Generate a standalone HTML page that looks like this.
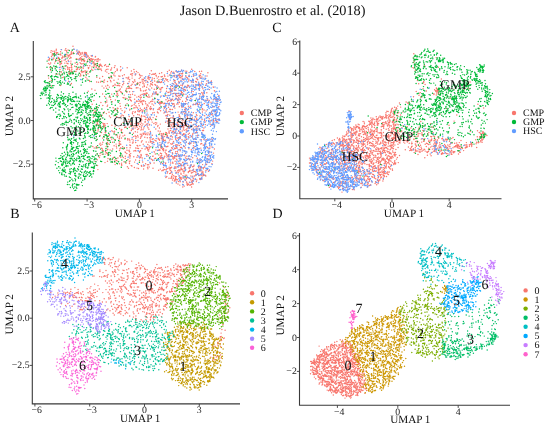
<!DOCTYPE html><html><head><meta charset="utf-8"><title>UMAP</title><style>html,body{margin:0;padding:0;background:#fff;width:550px;height:430px;overflow:hidden}</style></head><body><svg width="550" height="430" viewBox="0 0 550 430" style="position:absolute;left:0;top:0;font-family:'Liberation Serif',serif" text-rendering="geometricPrecision">
<rect width="550" height="430" fill="#fff"/>
<text x="272.6" y="15" font-size="14.3" text-anchor="middle" fill="#111">Jason D.Buenrostro et al. (2018)</text>
<text x="14.7" y="32.0" font-size="14" text-anchor="middle" fill="#111">A</text>
<text x="15.0" y="218.3" font-size="14" text-anchor="middle" fill="#111">B</text>
<text x="277.0" y="32.0" font-size="14" text-anchor="middle" fill="#111">C</text>
<text x="277.5" y="218.3" font-size="14" text-anchor="middle" fill="#111">D</text>
<path d="M145.2 119.6h0M123.3 122.4h0M138.6 96.5h0M92.8 70.3h0M117.1 85.4h0M195.8 139.2h0M173.7 131.5h0M173.8 145.6h0M208.7 153.3h0M101.3 69.1h0M135.0 84.8h0M196.0 88.2h0M207.0 76.0h0M188.5 108.9h0M202.2 99.3h0M183.3 79.4h0M120.4 89.0h0M151.5 108.4h0M96.6 82.0h0M199.8 98.4h0M182.6 73.2h0M185.7 76.1h0M170.3 91.0h0M213.5 87.2h0M60.7 67.1h0M161.2 148.2h0M166.9 112.2h0M114.5 110.5h0M180.5 71.4h0M179.8 171.0h0M95.3 57.1h0M139.2 78.4h0M204.0 109.9h0M204.6 120.5h0M209.4 89.6h0M69.5 55.7h0M208.2 115.4h0M94.1 130.6h0M125.5 105.4h0M147.2 154.4h0M93.2 59.3h0M117.8 161.1h0M174.1 106.4h0M75.9 71.4h0M192.5 166.8h0M172.6 143.2h0M106.5 143.7h0M77.5 67.4h0M212.7 114.9h0M202.6 164.6h0M128.3 78.6h0M182.4 85.8h0M163.1 139.7h0M188.0 86.0h0M81.2 60.0h0M166.9 168.6h0M141.3 109.8h0M97.2 159.8h0M101.4 127.4h0M162.6 136.9h0M197.6 135.2h0M191.4 173.1h0M101.5 132.5h0M190.5 106.1h0M106.8 100.1h0M120.6 66.8h0M84.7 60.7h0M141.4 165.5h0M144.3 77.9h0M183.8 94.5h0M183.3 129.0h0M139.9 101.6h0M167.4 115.3h0M173.7 72.3h0M105.5 132.7h0M105.0 132.1h0M88.3 67.7h0M122.0 115.0h0M199.6 129.8h0M120.7 91.5h0M165.4 107.0h0M176.0 146.8h0M144.3 80.7h0M100.2 65.5h0M154.3 74.2h0M110.5 137.5h0M175.2 82.9h0M193.4 82.2h0M100.2 116.2h0M168.4 100.5h0M173.8 124.6h0M191.7 91.3h0M175.1 179.5h0M140.0 97.3h0M195.6 179.1h0M131.4 130.5h0M173.9 127.7h0M138.5 148.4h0M174.5 148.1h0M197.6 137.2h0M70.8 63.3h0M124.5 112.5h0M189.4 171.0h0M83.9 71.8h0M192.8 176.3h0M200.1 85.0h0M137.7 155.5h0M166.1 109.7h0M92.0 67.0h0M160.4 153.2h0M66.5 50.7h0M94.9 64.4h0M193.4 145.8h0M152.8 160.6h0M121.5 137.9h0M102.6 138.1h0M172.7 86.3h0M201.7 175.1h0M122.5 75.7h0M207.5 169.4h0M114.6 131.3h0M166.5 118.3h0M156.7 160.6h0M202.1 93.1h0M178.6 85.5h0M109.4 134.3h0M153.2 138.7h0M172.6 99.3h0M182.0 107.6h0M178.6 100.0h0M150.4 163.4h0M184.7 166.9h0M183.9 80.1h0M170.4 150.3h0M193.3 74.8h0M188.1 127.5h0M140.3 108.2h0M219.8 100.3h0M152.7 101.3h0M97.0 121.7h0M168.0 120.6h0M187.0 162.9h0M143.8 116.1h0M86.6 57.6h0M109.5 78.5h0M83.6 71.8h0M187.7 185.3h0M201.7 172.9h0M122.5 132.8h0M140.5 90.0h0M196.0 172.8h0M123.9 97.7h0M53.9 58.0h0M170.4 173.3h0M160.2 144.9h0M184.7 164.7h0M96.1 136.5h0M173.7 175.8h0M120.8 144.2h0M187.1 96.9h0M218.2 99.6h0M182.8 184.4h0M169.4 159.6h0M172.4 174.3h0M130.1 147.7h0M152.1 143.5h0M113.0 131.6h0M140.5 138.2h0M192.0 95.9h0M172.5 179.9h0M104.6 65.4h0M112.4 162.2h0M180.9 126.6h0M199.7 170.1h0M165.3 140.2h0M136.6 101.0h0M150.6 141.5h0M95.5 111.1h0M171.3 125.8h0M171.6 178.0h0M107.8 85.5h0M175.1 180.8h0M184.1 168.7h0M119.3 142.0h0M187.2 177.3h0M174.7 167.0h0M125.8 98.1h0M171.9 177.9h0M176.0 85.8h0M63.2 56.9h0M164.6 75.3h0M133.3 140.1h0M130.1 155.6h0M119.5 138.8h0M114.0 80.2h0M59.3 59.7h0M174.3 76.8h0M156.7 122.9h0M80.4 57.6h0M172.4 137.0h0M196.5 82.0h0M105.5 151.7h0M142.0 94.5h0M175.0 80.4h0M173.2 158.5h0M166.0 149.9h0M186.1 158.4h0M132.7 81.6h0M99.3 120.9h0M156.5 89.2h0M157.8 112.4h0M176.8 76.5h0M187.1 183.5h0M84.0 61.0h0M195.7 86.0h0M136.2 136.8h0M136.3 88.1h0M133.0 141.9h0M142.2 80.9h0M148.0 77.0h0M122.1 115.1h0M181.4 91.4h0M192.9 180.9h0M201.9 76.9h0M189.8 170.1h0M88.9 114.5h0M84.6 53.5h0M137.7 114.4h0M168.6 103.8h0M122.6 146.8h0M208.5 171.2h0M61.2 72.0h0M208.5 82.5h0M118.3 79.1h0M167.7 171.7h0M176.7 145.0h0M100.3 143.1h0M88.5 68.5h0M170.7 86.7h0M169.0 178.3h0M183.0 112.1h0M127.6 138.7h0M160.3 169.1h0M123.5 149.0h0M98.0 131.0h0M179.3 75.8h0M132.6 73.8h0M117.5 137.0h0M168.0 92.4h0M174.4 80.5h0M182.8 187.0h0M97.4 123.3h0M200.7 73.7h0M193.8 94.6h0M161.4 138.6h0M172.3 131.3h0M178.4 181.5h0M179.7 163.6h0M187.0 184.7h0M184.1 103.9h0M81.7 59.2h0M129.7 79.7h0M176.8 135.2h0M181.8 127.0h0M118.2 85.6h0M96.7 108.4h0M153.6 105.1h0M184.5 146.6h0M82.2 52.5h0M156.7 87.7h0M152.9 142.1h0M178.4 172.2h0M97.7 121.5h0M148.0 127.8h0M170.6 120.8h0M193.3 112.7h0M142.2 158.0h0M199.8 178.5h0M149.5 124.5h0M159.7 103.1h0M178.8 81.4h0M56.1 74.3h0M114.4 67.5h0M178.1 104.1h0M103.9 82.5h0M145.2 90.7h0M92.7 121.9h0M132.0 129.0h0M122.1 110.6h0M121.6 129.9h0M119.5 128.4h0M180.9 85.2h0M95.5 56.4h0M117.5 111.8h0M176.7 128.3h0M203.2 145.0h0M112.7 148.9h0M185.7 101.4h0M87.0 79.0h0M109.4 87.1h0M206.3 139.8h0M79.9 76.1h0M145.8 103.8h0M60.9 55.0h0M188.9 168.1h0M141.3 127.2h0M197.6 79.5h0M137.6 110.9h0M135.3 75.0h0M184.8 133.9h0M205.2 121.9h0M181.6 92.7h0M98.5 82.2h0M166.6 88.5h0M125.0 139.2h0M121.1 92.3h0M184.9 176.5h0M98.7 156.6h0M58.1 58.4h0M97.4 119.5h0M180.9 164.9h0M190.1 171.0h0M197.5 103.5h0M128.8 77.1h0M217.7 122.0h0M193.6 130.2h0M182.5 106.0h0M160.8 147.2h0M194.4 120.1h0M168.8 132.1h0M200.3 179.2h0M206.9 80.9h0M199.8 93.6h0M172.0 144.3h0M143.1 129.8h0M174.0 81.0h0M165.9 134.8h0M107.6 153.9h0M75.2 63.0h0M59.0 54.6h0M185.2 137.8h0M132.1 75.8h0M185.2 175.2h0M139.3 114.9h0M213.8 106.4h0M162.2 147.4h0M146.3 92.9h0M180.5 129.6h0M165.3 140.3h0M179.2 133.4h0M150.7 101.8h0M164.1 165.8h0M70.6 57.3h0M149.1 167.0h0M129.2 156.1h0M52.9 51.3h0M149.2 125.1h0M165.3 95.6h0M84.1 59.0h0M103.9 87.9h0M163.4 150.7h0M96.9 65.7h0M169.0 100.4h0M177.9 124.2h0M188.5 143.4h0M121.1 130.0h0M200.0 116.0h0M159.9 150.2h0M85.7 53.7h0M111.9 125.3h0M168.4 155.5h0M184.6 125.5h0M60.6 51.8h0M159.5 140.3h0M215.9 119.7h0M170.3 170.5h0M194.8 155.6h0M165.6 122.3h0M129.4 86.9h0M177.3 99.3h0M160.4 82.5h0M142.0 135.8h0M149.7 77.8h0M171.5 150.2h0M183.3 83.1h0M191.3 122.5h0M187.5 85.1h0M170.5 88.5h0M118.8 76.0h0M191.0 165.7h0M107.2 106.3h0M127.0 98.8h0M129.8 140.2h0M179.7 77.2h0M193.5 124.7h0M190.8 184.8h0M156.5 116.4h0M72.7 74.1h0M139.6 74.7h0M140.3 134.2h0M129.9 158.0h0M159.5 102.1h0M70.6 84.6h0M142.8 110.3h0M211.5 111.3h0M129.3 127.2h0M68.2 56.9h0M169.8 115.2h0M170.8 72.9h0M119.7 156.0h0M154.9 84.5h0M137.5 108.0h0M191.9 114.9h0M129.4 161.7h0M198.9 83.8h0M153.1 139.0h0M178.8 95.4h0M203.2 130.5h0M161.5 81.8h0M202.8 172.6h0M168.7 138.2h0M141.4 141.9h0M141.0 155.9h0M163.6 133.4h0M201.7 167.5h0M167.4 135.5h0M99.4 65.7h0M175.6 138.6h0M111.8 77.9h0M119.9 76.2h0M112.2 101.8h0M164.2 106.6h0M108.8 73.6h0M197.8 104.8h0M175.3 93.8h0M80.3 54.1h0M169.2 133.2h0M193.6 169.1h0M149.7 157.9h0M168.7 151.8h0M153.0 168.3h0M173.5 157.0h0M115.0 65.8h0M159.3 108.1h0M160.6 162.9h0M102.8 105.5h0M103.6 125.6h0M158.5 76.8h0M183.6 120.1h0M62.2 57.6h0M150.1 117.8h0M102.4 128.9h0M181.7 73.7h0M137.0 168.1h0M140.3 88.6h0M162.1 136.4h0M106.0 130.6h0M66.1 56.1h0M160.9 156.9h0M68.3 61.0h0M146.3 147.1h0M199.1 128.8h0M201.8 92.4h0M190.6 106.8h0M98.6 121.2h0M154.2 112.4h0M198.0 152.7h0M109.4 144.2h0M120.0 144.0h0M174.8 180.0h0M189.4 128.2h0M178.9 163.3h0M120.8 157.2h0M189.0 143.4h0M117.1 69.0h0M148.5 118.8h0M129.5 163.5h0M144.1 84.0h0M163.2 169.8h0M129.2 116.4h0M119.9 103.4h0M183.0 175.7h0M167.4 136.4h0M178.4 137.8h0M174.8 86.5h0M138.1 137.0h0M109.1 77.4h0M86.2 55.1h0M129.0 150.8h0M192.2 182.5h0M159.5 81.7h0M69.2 72.2h0M141.5 129.0h0M206.4 83.6h0M91.2 55.7h0M140.9 90.7h0M63.7 67.0h0M191.4 172.7h0M144.4 86.1h0M65.4 69.1h0M167.1 137.5h0M51.4 80.4h0M169.1 168.2h0M126.1 127.2h0M143.4 79.5h0M170.7 92.9h0M218.9 95.4h0M168.2 159.0h0M208.2 148.1h0M147.8 144.5h0M195.3 104.4h0M108.0 158.4h0M116.1 158.6h0M181.1 91.4h0M107.5 161.2h0M188.4 85.5h0M147.7 117.1h0M60.8 61.8h0M103.5 123.9h0M145.9 119.2h0M93.3 117.3h0M200.2 169.6h0M133.9 150.9h0M175.7 151.6h0M80.6 66.5h0M58.0 60.4h0M142.9 83.6h0M142.1 140.7h0M189.5 87.6h0M195.1 126.8h0M116.3 95.2h0M116.9 93.0h0M192.8 183.5h0M108.3 66.2h0M215.7 118.1h0M73.3 52.5h0M141.3 119.0h0M170.7 163.0h0M165.7 162.9h0M180.3 136.9h0M215.6 111.5h0M216.7 121.5h0M149.3 134.8h0M71.1 53.2h0M94.8 63.7h0M120.5 70.7h0M141.8 134.2h0M56.3 49.3h0M107.9 69.2h0M161.1 76.7h0M155.4 92.4h0M64.8 63.1h0M124.9 111.3h0M186.3 178.5h0M196.7 118.2h0M123.7 83.3h0M143.8 128.0h0M77.0 59.2h0M157.2 78.1h0M153.8 142.6h0M148.4 155.8h0M163.0 136.1h0M179.4 102.5h0M200.7 144.0h0M160.8 89.5h0M203.2 174.9h0M127.4 166.8h0M156.1 141.0h0M192.1 89.0h0M101.1 81.1h0M50.7 63.0h0M114.1 72.9h0M157.7 102.2h0M113.8 75.0h0M89.9 59.7h0M204.7 115.7h0M88.4 56.1h0M97.9 169.6h0M183.5 133.8h0M155.3 98.4h0M126.8 91.7h0M112.6 142.3h0M158.7 103.3h0M132.1 105.4h0M182.2 131.0h0M131.6 73.9h0M110.5 80.4h0M166.5 91.3h0M187.3 114.9h0M176.3 156.6h0M151.5 159.2h0M115.0 159.9h0M193.7 166.5h0M174.6 148.8h0M111.7 139.1h0M64.6 55.7h0M65.6 59.3h0M91.9 59.0h0M172.4 127.1h0M55.0 52.1h0M142.9 123.9h0M149.4 147.9h0M164.7 169.5h0M184.5 168.5h0M147.0 105.1h0M148.3 106.1h0M214.9 111.6h0M189.5 171.2h0M181.5 165.8h0M166.0 95.7h0M126.8 153.5h0M172.7 104.2h0M134.6 162.1h0M80.9 68.2h0M158.2 131.0h0M107.8 149.3h0M174.3 89.9h0M97.0 139.2h0M143.4 91.0h0M71.1 67.5h0M147.8 96.6h0M69.8 58.5h0M186.3 72.8h0M159.8 88.9h0M104.6 96.5h0M122.7 84.8h0M97.8 61.4h0M133.7 115.8h0M197.8 126.4h0M146.0 117.6h0M138.0 101.2h0M186.8 71.3h0M159.2 150.0h0M180.2 138.1h0M65.4 59.7h0M96.4 146.5h0M185.3 112.9h0M102.6 76.4h0M199.3 160.0h0M174.7 125.5h0M181.0 93.9h0M177.2 156.0h0M185.0 89.4h0M70.5 54.6h0M186.6 178.8h0M141.7 116.5h0M110.9 77.3h0M146.7 154.8h0M178.4 154.6h0M124.2 147.6h0M130.6 100.3h0M79.8 55.6h0M69.4 71.8h0M176.4 176.6h0M174.5 105.3h0M150.3 131.5h0M187.5 117.7h0M141.3 97.3h0M168.0 128.9h0M96.5 61.1h0M183.6 177.9h0M143.7 134.3h0M163.3 139.7h0M200.8 167.1h0M68.0 63.8h0M188.3 134.2h0M175.4 129.9h0M145.3 94.3h0M213.8 121.3h0M85.8 74.0h0M186.5 181.9h0M215.2 114.1h0M120.9 108.7h0M163.7 141.3h0M89.8 65.7h0M67.8 54.9h0M197.2 104.0h0M69.8 54.6h0M166.9 135.9h0M180.2 132.0h0M125.3 158.4h0M169.8 109.2h0M124.2 95.1h0M60.0 64.7h0M101.5 70.6h0M194.5 138.9h0M127.9 159.8h0M166.2 169.7h0M135.9 151.0h0M152.7 156.2h0M161.2 79.6h0M179.6 119.5h0M191.6 181.8h0M172.0 90.9h0M125.1 152.0h0M158.0 125.5h0M161.4 144.2h0M212.7 139.9h0M163.6 78.5h0M177.2 72.2h0M130.8 124.3h0M203.7 175.5h0M176.8 172.3h0M175.0 90.3h0M61.8 61.0h0M158.2 81.9h0M181.5 127.1h0M185.4 168.9h0M86.3 52.7h0M126.8 92.3h0M184.2 125.4h0M180.1 99.5h0M213.1 122.8h0M197.7 79.8h0M180.1 73.6h0M117.8 91.2h0M161.7 155.5h0M184.8 116.9h0M157.9 82.6h0M168.6 120.4h0M102.1 148.4h0M93.8 61.8h0M131.0 121.9h0M88.8 67.8h0M66.3 61.6h0M127.0 150.3h0M51.3 86.0h0M200.4 170.8h0M151.4 114.8h0M163.0 158.4h0M176.5 147.6h0M211.4 114.6h0M204.9 78.1h0M108.0 143.7h0M139.6 84.9h0M162.3 76.4h0M173.8 124.0h0M153.1 117.6h0M187.0 128.6h0M180.1 137.3h0M128.5 78.8h0M192.1 137.1h0M96.6 63.6h0M107.9 153.3h0M148.7 164.8h0M134.2 104.7h0M171.6 147.7h0M93.9 62.2h0M147.5 148.5h0M84.0 55.8h0M184.5 171.6h0M140.9 130.1h0M191.1 164.8h0M191.6 187.0h0M169.0 156.9h0M151.3 141.7h0M135.1 123.6h0M143.1 110.1h0M186.9 177.3h0M186.7 175.2h0M80.8 75.7h0M186.0 129.7h0M183.5 134.4h0M141.6 115.4h0M120.0 135.1h0M182.0 124.0h0M193.4 145.7h0M174.7 156.0h0M182.3 92.8h0M191.7 69.3h0M187.4 118.7h0M199.5 90.2h0M52.2 54.9h0M132.7 91.6h0M156.8 81.9h0M57.7 52.6h0M202.4 87.0h0M124.0 98.1h0M76.3 58.6h0M149.8 73.7h0M87.0 71.3h0M51.2 50.6h0M155.4 73.5h0M213.5 153.1h0M140.5 124.6h0M135.3 131.7h0M109.2 96.9h0M157.4 94.2h0M76.1 71.2h0M178.7 97.7h0M62.7 73.8h0M170.6 109.5h0M211.6 83.9h0M190.8 179.7h0M172.3 152.7h0M128.5 168.2h0M189.5 168.3h0M131.4 70.9h0M217.3 103.3h0M159.9 142.6h0M206.9 96.6h0M172.9 163.2h0M127.1 91.6h0M71.5 51.7h0M168.9 155.9h0M159.8 133.2h0M185.0 139.9h0M170.5 121.1h0M169.2 167.1h0M211.1 82.0h0M120.3 106.2h0M168.0 142.9h0M202.4 112.0h0M150.7 83.9h0M171.6 167.3h0M141.1 116.9h0M197.7 111.1h0M151.0 108.6h0M144.8 137.3h0M142.0 125.8h0M49.8 64.3h0M104.1 125.0h0M68.1 50.0h0M86.8 54.3h0M143.6 168.9h0M89.5 80.4h0M124.0 161.8h0M177.6 96.2h0M185.5 160.9h0M183.4 103.4h0M212.8 124.6h0M202.0 133.0h0M102.5 150.0h0M182.5 125.7h0M172.7 112.7h0M138.5 168.5h0M138.9 123.3h0M93.6 110.3h0M202.9 88.7h0M209.9 148.0h0M111.7 94.1h0M69.4 69.5h0M166.7 155.1h0M133.2 129.1h0M174.9 108.1h0M158.4 100.2h0M178.8 75.0h0M171.5 71.4h0M71.2 53.0h0M49.4 81.8h0M131.3 122.7h0M116.9 82.4h0M84.3 53.0h0M147.4 126.1h0M162.3 159.1h0M203.0 172.0h0M145.3 125.2h0M184.2 125.4h0M154.6 81.0h0M140.4 95.2h0M184.6 167.7h0M128.7 119.5h0M193.8 104.4h0M178.4 126.1h0M193.8 143.0h0M161.4 102.1h0M205.4 124.6h0M216.9 100.4h0M160.5 158.6h0M117.6 93.9h0M83.6 65.7h0M162.0 135.7h0M192.6 79.5h0M110.1 149.9h0M139.6 126.4h0M72.1 71.5h0M169.5 74.9h0M169.6 173.6h0M176.4 87.5h0M186.3 87.2h0M119.3 90.4h0M168.1 81.6h0M190.3 167.2h0M203.3 174.0h0M173.3 159.1h0M176.0 90.1h0M80.6 74.2h0M185.0 103.7h0M159.5 73.4h0M131.4 106.1h0M154.3 78.5h0M114.5 109.2h0M148.1 97.3h0M182.6 75.1h0M185.5 135.2h0M125.7 90.4h0M159.7 149.8h0M136.1 122.0h0M51.1 76.3h0M171.4 99.7h0M180.2 77.8h0M140.7 157.2h0M170.9 178.3h0M176.0 71.3h0M172.1 132.5h0M64.1 60.1h0M131.9 165.9h0M189.9 185.3h0M152.9 93.5h0M99.7 126.5h0M163.9 106.8h0M103.7 136.8h0M117.4 135.1h0M167.5 156.1h0M183.5 125.4h0M106.6 135.4h0M134.5 79.9h0M126.1 162.1h0M134.8 80.0h0M136.2 126.3h0M117.9 158.0h0M111.6 67.9h0M99.1 116.4h0M196.9 129.0h0M210.5 124.1h0M210.4 155.9h0M166.8 176.5h0M182.4 169.8h0M187.6 78.3h0M193.7 178.2h0M111.0 81.8h0M60.1 64.0h0M59.7 72.1h0M71.2 71.8h0M188.6 184.3h0M181.0 94.3h0M129.6 132.8h0M96.2 132.6h0M179.0 138.1h0M186.8 182.3h0M161.7 148.0h0M96.2 113.3h0M122.2 132.9h0M172.8 117.7h0M176.1 135.6h0M107.8 146.4h0M106.5 152.7h0M140.4 110.6h0M202.1 119.4h0M130.0 160.9h0M191.1 142.9h0M132.1 84.2h0M128.0 121.5h0M172.9 96.1h0M121.4 131.1h0M161.6 133.6h0M196.6 131.1h0M171.7 156.3h0M100.4 64.1h0M146.2 90.0h0M185.6 110.0h0M121.4 124.3h0M96.2 67.4h0M139.8 100.7h0M187.2 77.6h0M60.4 54.6h0M121.9 92.7h0M152.5 84.9h0M182.0 165.8h0M188.4 106.2h0M135.1 128.0h0M127.1 103.6h0M87.8 56.4h0M154.5 152.1h0M109.0 112.3h0M109.1 135.4h0M205.8 176.0h0M136.5 71.4h0M62.0 58.6h0M121.7 165.4h0M181.9 120.1h0M182.7 162.4h0M166.5 132.6h0M120.0 141.4h0M118.0 108.4h0M158.1 113.0h0M175.2 170.7h0M55.9 54.5h0M188.9 79.3h0M160.3 124.1h0M173.4 115.6h0M83.2 63.4h0M196.4 142.2h0M173.5 116.7h0M147.9 115.0h0M114.1 145.7h0M176.0 168.0h0M119.9 148.8h0M158.9 82.2h0M173.5 93.4h0M160.8 156.0h0M198.5 162.4h0M132.2 129.0h0M210.0 146.1h0M177.7 153.1h0M62.3 77.6h0M158.6 170.2h0M106.9 72.1h0M203.3 168.7h0M181.5 124.6h0M211.0 102.3h0M48.3 63.5h0M104.0 134.7h0M104.5 79.9h0M115.4 99.9h0M148.7 88.9h0M143.2 133.2h0M146.6 107.7h0M146.0 133.2h0M174.2 181.0h0M120.8 147.8h0M162.2 140.0h0M132.5 113.8h0M96.9 63.9h0M196.9 126.7h0M115.1 139.6h0M172.6 153.2h0M115.7 134.7h0M74.7 66.2h0M72.0 53.7h0M177.1 160.1h0M171.9 85.6h0M102.0 66.4h0M165.9 153.7h0M164.0 113.1h0M111.9 130.7h0M159.3 109.6h0M198.8 125.8h0M198.6 167.7h0M103.2 113.0h0M198.3 173.6h0M140.6 82.5h0M147.6 84.8h0M98.9 67.7h0M179.5 137.4h0M175.5 177.2h0M115.4 71.6h0M189.3 120.5h0M129.6 151.7h0M171.4 90.2h0M177.4 166.6h0M108.3 155.0h0M179.2 149.4h0M150.2 86.0h0M175.8 167.0h0M181.2 97.4h0M105.2 154.1h0M196.4 181.6h0M135.0 103.2h0M129.5 154.4h0M217.0 98.6h0M119.7 83.5h0M119.2 138.2h0M182.4 135.3h0M135.9 105.7h0M134.3 72.0h0M191.5 136.3h0M145.4 101.8h0M102.3 154.3h0M154.1 163.0h0M150.3 109.5h0M91.1 58.6h0M166.7 134.3h0M175.7 94.7h0M146.8 147.6h0M172.3 156.5h0M197.6 119.9h0M193.5 104.1h0M48.6 78.1h0M193.8 130.2h0M178.4 140.1h0M126.4 89.0h0M155.3 154.0h0M147.7 150.0h0M185.4 157.1h0M201.6 71.3h0M199.6 179.0h0M175.5 88.1h0M52.7 59.8h0M160.2 131.3h0M122.9 84.7h0M56.7 52.5h0M142.7 162.0h0M151.8 74.6h0M167.6 79.8h0M123.3 157.4h0M170.7 89.2h0M94.2 64.5h0M66.2 72.1h0M214.5 126.2h0M84.6 52.4h0M115.7 91.1h0M140.6 150.8h0M186.4 136.1h0M100.7 145.2h0M138.7 128.8h0M84.4 61.4h0M203.9 139.5h0M183.0 162.3h0M135.0 107.7h0M187.2 97.0h0M162.5 137.2h0M148.3 76.7h0M136.6 107.1h0M166.1 111.0h0M168.6 95.6h0M162.8 134.1h0M99.9 59.7h0M168.5 107.3h0M170.7 168.6h0M202.8 125.4h0M183.8 111.7h0M146.2 141.9h0M188.4 171.6h0M177.7 145.0h0M167.8 114.5h0M165.8 78.7h0M195.4 141.8h0M105.0 162.6h0M97.5 165.5h0M146.7 124.2h0M184.0 171.0h0M161.2 135.0h0M79.9 59.4h0M192.7 157.8h0M97.1 124.2h0M179.3 126.7h0M168.3 154.8h0M139.7 158.1h0M134.9 95.2h0M211.6 138.9h0M110.5 117.5h0M123.0 135.9h0M81.7 60.9h0M127.0 88.3h0M195.2 100.4h0M205.6 142.0h0M138.3 164.3h0M185.3 147.9h0M182.1 88.3h0M186.6 139.4h0M105.5 102.7h0M137.0 157.3h0M209.5 170.0h0M170.4 136.1h0M148.8 149.4h0M90.0 60.9h0M192.5 117.9h0M176.3 183.0h0M167.7 98.6h0M167.5 71.8h0M147.2 134.8h0M77.1 64.5h0M182.7 124.4h0M129.2 150.3h0M161.5 103.2h0M147.8 120.4h0M197.3 158.2h0M160.3 103.6h0M80.6 53.1h0M49.3 85.2h0M167.5 101.7h0M174.1 73.3h0M147.6 105.0h0M102.2 115.1h0M189.1 167.8h0M162.6 102.8h0M193.6 85.1h0M166.8 118.2h0M92.0 56.3h0M81.8 63.9h0M179.3 106.7h0M176.5 83.9h0M189.2 178.3h0M78.7 53.1h0M155.8 140.6h0M196.4 122.9h0M136.4 87.6h0M158.6 87.2h0M196.1 129.0h0M167.7 137.6h0M75.6 77.2h0M165.9 79.3h0M169.3 70.3h0M179.8 95.8h0M129.1 81.7h0M195.8 174.8h0M129.0 88.2h0M54.6 63.1h0M176.3 77.5h0M84.3 54.5h0M89.0 58.5h0M48.3 60.0h0M209.2 118.8h0M173.6 123.2h0M147.5 81.5h0M196.1 103.1h0M192.2 80.7h0M128.5 88.2h0M71.4 51.9h0M177.7 170.8h0M163.8 150.0h0M146.1 93.8h0M164.4 146.1h0M133.5 82.4h0M146.5 96.2h0M161.5 153.8h0M184.6 122.4h0M163.2 170.4h0M173.8 75.7h0M177.7 122.3h0M139.6 111.2h0M179.2 169.7h0M152.5 82.4h0M204.4 145.4h0M143.2 144.3h0M179.1 114.7h0M102.8 142.2h0M186.8 123.2h0M207.3 100.2h0M133.0 111.6h0M117.1 110.3h0M190.8 98.4h0M200.9 167.7h0M157.6 126.6h0M156.0 75.2h0M155.1 93.0h0M188.9 137.8h0M173.2 83.8h0M129.4 133.2h0M124.7 135.3h0M148.8 142.1h0M157.4 85.9h0M71.4 83.5h0M162.7 149.2h0M162.6 149.5h0M143.1 82.3h0M100.0 155.6h0M165.9 115.8h0M152.1 104.0h0M205.7 100.2h0M54.4 54.5h0M77.7 63.9h0M211.3 112.8h0M60.7 75.2h0M49.6 58.8h0M125.4 127.0h0M180.9 173.2h0M173.1 134.1h0M193.3 91.6h0M54.7 52.8h0M193.0 178.1h0M131.4 126.4h0M159.5 107.8h0M103.9 127.4h0M124.8 107.6h0M177.9 100.6h0M194.0 165.2h0M161.5 146.5h0M156.0 91.8h0M100.6 126.5h0M167.3 85.8h0M201.4 139.8h0M175.9 144.6h0M89.2 57.6h0M199.5 71.5h0M51.5 56.5h0M164.7 80.9h0M173.9 103.7h0M174.9 75.2h0M158.9 79.7h0M181.1 76.9h0M186.1 142.2h0M146.9 109.3h0M71.1 57.7h0M140.8 121.7h0M189.9 122.1h0M100.1 153.4h0M65.8 48.8h0M136.8 97.1h0M191.0 159.6h0M155.5 119.0h0M160.9 146.3h0M171.6 176.4h0M94.7 59.9h0M73.0 46.2h0M216.7 121.0h0M145.6 163.7h0M164.3 157.1h0M113.3 157.4h0M176.3 98.4h0M85.8 72.2h0M163.1 138.3h0M148.7 95.0h0M182.0 177.9h0M54.5 51.1h0M167.7 121.8h0M115.6 114.6h0M77.2 69.5h0M217.0 102.9h0M68.8 55.7h0M89.8 71.8h0M152.3 135.2h0M76.4 69.2h0M159.1 108.5h0M143.8 100.5h0M152.6 112.9h0M160.8 102.5h0M107.0 139.4h0M181.8 94.4h0M213.2 86.9h0M103.7 81.1h0M98.4 125.0h0M177.6 75.7h0M170.6 167.7h0M60.3 54.0h0M115.1 164.6h0M100.9 102.5h0M146.4 147.7h0M159.6 157.5h0M209.1 155.4h0M185.9 123.1h0M140.3 77.3h0M50.8 70.2h0M142.1 79.3h0M199.6 104.0h0M81.0 58.2h0M181.6 106.2h0M184.4 114.0h0M115.6 109.1h0M199.8 170.9h0M57.4 74.1h0M182.8 84.3h0M130.7 153.6h0M149.1 103.1h0M181.1 174.2h0M187.1 87.2h0M192.6 134.8h0M176.3 96.0h0M169.5 140.1h0M114.0 115.8h0M190.2 126.0h0M200.3 179.5h0M96.8 77.2h0M82.3 53.8h0M202.2 96.3h0M147.9 123.6h0M133.8 107.9h0M60.1 74.9h0M142.6 111.5h0M164.0 134.6h0M169.0 132.3h0M180.8 178.9h0M177.6 179.8h0M192.7 172.6h0M71.6 65.9h0M162.5 163.4h0M169.1 142.1h0M165.8 132.5h0M135.7 142.5h0M67.5 67.0h0M144.4 86.5h0M166.9 133.4h0M185.6 125.6h0M67.0 63.3h0M199.5 86.9h0M209.7 151.8h0M184.6 109.4h0M130.4 155.9h0M48.3 75.8h0M163.5 148.5h0M66.8 51.9h0M175.1 132.4h0M171.7 100.4h0M152.2 122.1h0M193.9 171.5h0M142.6 104.5h0M154.3 89.3h0M173.6 178.2h0M144.7 94.7h0M208.2 104.4h0M169.0 125.7h0M193.2 169.9h0M172.4 109.5h0M164.8 156.2h0M166.5 105.1h0M180.5 142.7h0M93.6 66.1h0M96.6 66.0h0M138.8 111.1h0M171.0 117.8h0M181.1 80.3h0M163.4 167.6h0M92.8 146.5h0M96.2 113.2h0M151.9 95.9h0M169.0 92.2h0M193.3 128.2h0M150.8 83.8h0M203.6 135.2h0M158.1 150.3h0M141.2 136.3h0M187.0 114.2h0M178.9 131.3h0M130.7 97.2h0M71.3 65.0h0M205.4 155.1h0M147.2 93.2h0M174.4 132.8h0M114.9 162.2h0M154.1 151.7h0M219.0 118.9h0M212.8 107.0h0M160.6 110.8h0M60.0 69.5h0M83.0 67.1h0M118.3 85.3h0M156.4 92.9h0M155.8 85.3h0M168.9 111.5h0M116.7 116.5h0M196.5 114.6h0M186.9 156.3h0M65.4 56.4h0M155.8 129.0h0M180.2 150.8h0M163.7 162.1h0M138.4 124.5h0M167.9 123.6h0M161.6 157.8h0M202.9 94.2h0M82.0 72.5h0M134.6 99.2h0M65.1 50.3h0M192.6 94.2h0M171.0 124.2h0M140.6 98.9h0M184.6 154.9h0M157.4 112.0h0M142.8 86.9h0M179.1 175.6h0M206.0 118.1h0M149.1 79.5h0M184.3 186.1h0M207.5 147.4h0M200.0 166.5h0M180.4 178.0h0M219.3 109.6h0M116.5 160.4h0M133.0 142.8h0M183.6 145.8h0M62.6 56.1h0M139.6 152.4h0M68.2 55.9h0M150.7 81.5h0M119.6 136.8h0M102.1 144.2h0M159.2 139.3h0M184.8 179.1h0M131.1 85.4h0M177.2 148.0h0M200.9 178.4h0M150.7 109.3h0M126.2 77.7h0M91.6 69.3h0M177.5 138.1h0M202.2 176.1h0M188.3 172.4h0M177.8 93.5h0M214.9 91.1h0M112.7 86.1h0M156.4 75.9h0M195.5 132.6h0M168.7 119.9h0M176.7 179.7h0M128.1 77.4h0M141.0 154.5h0M188.6 81.0h0M178.0 184.0h0M93.7 113.0h0M187.5 96.0h0M191.4 82.0h0M90.7 60.8h0M181.3 179.2h0M134.4 167.4h0M69.4 67.7h0M95.1 161.4h0M203.5 130.4h0M102.1 86.1h0M144.5 108.6h0M202.5 108.7h0M193.8 147.6h0M61.8 58.0h0M196.4 169.4h0M189.2 168.1h0M152.5 99.3h0M140.1 118.7h0M141.3 155.3h0M218.9 106.6h0M206.1 111.0h0M173.5 141.5h0M139.2 105.8h0M121.8 129.4h0M106.6 153.1h0M181.6 147.5h0M186.5 87.1h0M182.1 122.9h0M206.8 92.8h0M49.9 67.4h0M180.6 134.0h0M149.2 145.9h0M119.5 150.5h0M178.1 112.1h0M207.5 158.8h0M100.6 81.9h0M183.4 165.0h0M175.4 153.3h0M89.8 81.5h0M113.3 157.9h0M145.1 148.9h0M189.0 72.6h0M130.4 94.7h0M193.0 133.4h0M136.6 101.6h0M99.5 157.6h0M144.6 165.7h0M69.6 74.3h0M173.0 123.8h0M161.6 136.0h0M179.6 177.7h0M100.1 135.5h0M165.9 150.6h0M192.1 180.7h0M156.1 94.2h0M145.5 134.4h0M199.3 99.0h0M55.6 59.8h0M169.4 104.2h0M97.2 154.3h0M149.6 147.7h0M92.7 63.0h0M182.5 101.2h0M97.6 147.7h0M172.7 162.2h0M143.2 101.0h0M144.8 116.4h0M163.9 103.7h0M166.1 146.6h0M83.5 60.5h0M200.5 75.7h0M137.6 135.5h0M106.4 113.6h0M190.3 143.4h0M123.0 97.6h0M141.8 119.9h0M138.2 83.6h0M167.7 137.3h0M147.4 164.8h0M200.8 78.3h0M155.3 122.6h0M170.8 143.8h0M132.4 112.9h0M184.4 89.6h0M127.2 67.7h0M99.7 69.2h0M175.2 176.4h0M164.4 75.0h0M163.7 158.3h0M161.2 87.9h0M130.8 120.6h0M179.3 145.4h0M110.9 70.3h0M87.8 55.8h0M183.8 172.9h0M154.9 158.4h0M137.7 82.8h0M53.2 55.1h0M211.9 163.8h0M98.1 60.0h0M69.7 70.5h0M139.6 151.5h0M196.8 179.9h0M187.2 116.3h0M104.7 123.6h0M186.3 108.4h0M185.5 180.3h0M84.9 56.5h0M215.3 99.4h0M97.1 59.1h0M153.0 74.0h0M180.3 181.1h0M154.7 102.1h0M116.6 148.0h0M150.6 106.8h0M211.4 81.0h0M151.6 119.8h0M139.8 110.7h0M151.3 70.7h0M166.4 153.8h0M99.3 64.6h0M218.5 119.3h0M106.8 101.9h0M173.7 106.9h0M206.0 170.5h0M107.2 137.6h0M130.6 124.2h0M68.0 68.0h0M174.7 168.4h0M181.0 87.6h0M195.1 171.5h0M210.5 158.2h0M108.3 140.2h0M129.9 99.2h0M176.4 129.7h0M196.4 78.8h0M161.7 72.8h0M71.9 69.2h0M179.6 155.8h0M194.8 71.4h0M137.1 127.3h0M85.5 71.9h0M87.6 59.9h0M179.9 157.0h0M73.5 49.2h0M137.8 146.0h0M212.0 125.2h0M213.5 120.5h0M81.9 56.4h0M167.9 146.2h0M164.4 112.3h0M188.5 158.4h0M158.8 154.9h0M146.8 107.3h0M201.4 83.0h0M59.5 61.2h0M203.9 128.0h0M94.5 133.0h0M106.3 69.4h0M109.9 159.4h0M159.4 127.9h0M174.5 128.7h0M98.3 58.7h0M205.6 163.1h0M105.7 86.1h0M180.6 164.1h0M139.9 145.5h0M71.4 70.1h0M67.7 69.2h0M194.6 119.1h0M200.8 160.7h0M152.7 94.3h0M174.5 157.2h0M157.9 109.5h0M105.6 132.5h0M68.1 60.1h0M146.0 80.2h0M175.8 163.9h0M167.9 76.1h0M176.6 159.2h0M137.5 132.1h0M135.8 138.3h0M166.0 99.7h0M213.2 99.8h0M143.3 94.0h0M109.5 64.6h0M106.6 88.2h0M173.3 125.0h0M196.0 84.8h0M193.1 180.0h0M180.2 95.2h0M181.1 168.2h0M182.2 76.5h0M144.8 93.9h0M142.0 148.5h0M49.4 58.3h0M169.7 169.1h0M99.7 78.3h0M59.7 61.9h0M191.7 129.5h0M214.4 149.0h0M107.5 81.4h0M131.6 88.4h0M181.6 70.2h0M204.2 103.4h0M184.2 130.2h0M141.4 101.7h0M155.8 124.4h0M170.4 128.2h0M55.1 66.9h0M95.8 59.6h0M118.0 95.4h0M185.7 153.1h0M61.6 63.3h0M205.8 144.6h0M152.6 160.3h0M189.5 159.7h0M161.5 137.9h0M135.7 147.9h0M148.1 119.6h0M191.0 114.9h0M130.0 109.2h0M207.8 99.1h0M186.3 125.1h0M181.2 105.1h0M200.0 77.8h0M174.0 119.9h0M170.9 75.1h0M144.6 108.0h0M182.2 78.4h0M150.4 118.7h0M131.2 165.6h0M172.4 103.6h0M139.5 74.2h0M138.0 72.6h0M188.3 184.2h0M201.9 171.0h0M149.8 108.3h0M167.5 168.6h0M132.5 94.3h0M188.9 148.7h0M55.5 61.5h0M80.0 62.6h0M186.7 99.8h0M195.0 116.6h0M188.9 76.0h0M178.9 156.3h0M175.8 178.4h0M192.0 170.7h0M83.2 68.2h0M148.8 77.6h0M117.1 70.4h0M179.8 185.1h0M85.1 70.6h0M174.8 158.3h0M179.2 86.6h0M137.6 129.4h0M107.4 142.5h0M164.1 140.4h0M131.3 101.0h0M161.9 170.7h0M193.6 147.6h0M210.1 120.4h0M151.7 84.3h0M155.7 158.2h0M196.6 119.8h0M107.4 140.0h0M198.6 175.6h0M177.3 151.5h0M176.8 133.7h0M179.6 132.6h0M82.9 59.8h0M119.1 118.1h0M101.8 115.5h0M153.3 109.8h0M141.0 137.0h0M191.4 149.8h0M203.6 174.4h0M147.3 137.7h0M196.6 132.4h0M141.3 123.1h0M71.8 67.6h0M79.3 69.2h0M179.0 82.7h0M100.8 115.8h0M183.6 94.0h0M127.8 139.9h0M50.9 52.3h0M138.7 103.6h0M216.2 113.3h0M83.0 71.4h0M154.7 81.1h0M61.0 63.8h0M157.7 146.6h0M160.7 106.1h0M151.7 87.9h0M140.9 119.3h0M171.5 155.8h0M141.9 75.7h0M94.1 130.2h0M150.2 137.9h0M123.4 115.8h0M92.2 60.0h0M66.3 65.7h0M107.2 123.6h0M73.5 53.4h0M185.0 86.2h0M183.3 88.9h0M180.0 160.1h0M184.8 151.1h0M174.9 120.8h0M148.0 132.9h0M179.1 101.9h0M72.5 72.7h0M137.9 87.8h0M179.6 73.8h0M162.0 76.8h0M215.7 118.5h0M121.0 69.8h0M96.0 124.9h0M114.2 132.7h0M77.8 52.5h0M52.4 53.8h0M193.2 184.1h0M108.6 140.4h0M181.1 169.0h0M94.2 148.0h0M107.6 85.2h0M118.8 145.5h0M198.6 166.8h0M145.9 82.1h0M56.2 50.6h0M200.8 148.1h0M143.3 166.1h0M90.8 58.7h0M105.5 64.8h0M183.2 182.0h0M106.2 146.4h0M176.3 173.0h0M51.6 67.4h0M165.6 163.8h0M179.2 169.8h0M76.8 51.0h0M152.3 77.9h0M81.2 71.3h0M189.8 100.2h0M212.6 161.1h0M203.3 100.0h0M70.9 61.1h0M77.6 68.3h0M107.6 105.1h0M176.3 85.0h0M80.9 54.2h0M132.5 143.1h0M186.1 103.6h0M101.2 65.2h0M148.7 151.1h0M123.2 78.5h0M134.5 125.7h0M112.1 159.8h0M186.3 98.5h0M63.5 77.1h0M164.3 108.2h0M100.8 69.0h0M114.9 84.1h0M133.8 156.7h0M185.7 124.9h0M121.0 116.3h0M137.0 84.6h0M181.7 169.3h0M137.1 145.5h0M148.0 78.5h0M169.1 130.9h0M182.8 122.2h0M136.8 84.0h0M158.3 139.0h0M74.8 71.6h0M85.9 77.2h0M142.3 103.3h0M161.1 96.0h0M163.5 162.7h0M195.4 121.2h0M172.5 88.8h0M121.7 87.0h0M133.9 69.4h0M188.8 111.8h0M111.1 75.6h0M186.5 132.1h0M88.0 73.8h0M153.9 74.2h0M175.4 179.5h0M77.1 53.3h0M195.8 149.3h0M116.1 144.1h0M160.9 91.1h0M170.8 136.5h0M212.0 146.9h0M145.2 121.4h0M180.8 177.3h0M127.9 78.7h0M178.3 170.2h0M78.1 59.2h0M187.8 165.3h0M194.2 129.6h0M119.6 145.1h0M83.4 75.3h0M178.4 93.5h0M97.3 106.7h0M150.2 139.9h0M172.8 158.1h0M196.9 115.4h0M188.6 125.8h0M121.6 164.5h0M127.6 83.4h0M149.5 119.8h0M60.7 85.4h0M79.6 52.3h0M183.4 127.0h0M201.2 123.3h0M135.0 112.5h0M185.2 140.3h0M101.2 148.3h0M185.3 90.4h0M90.8 60.8h0M142.1 100.8h0M68.5 81.2h0M137.8 123.4h0M105.4 70.9h0M209.0 159.9h0M129.1 138.9h0M97.5 121.8h0M130.6 74.2h0M193.6 76.2h0M135.9 74.0h0M91.8 88.9h0M111.0 69.4h0M135.2 150.4h0M80.7 63.6h0M78.6 54.3h0M189.1 156.0h0M180.5 147.4h0M153.9 123.4h0M149.6 124.6h0M172.4 148.2h0M117.4 70.0h0M182.0 139.7h0M199.8 96.0h0M126.8 147.8h0M191.7 184.3h0M170.6 101.0h0M119.2 90.0h0M176.0 98.1h0M94.8 127.7h0M92.0 59.4h0M154.8 140.1h0M144.2 85.8h0M99.0 66.7h0M150.9 142.1h0M113.1 107.8h0M208.0 156.4h0M200.7 105.4h0M79.6 73.3h0M171.0 172.8h0M135.6 160.0h0M195.3 100.6h0M86.9 61.9h0M53.2 59.1h0M183.1 171.3h0M78.9 51.3h0M49.4 59.1h0M166.1 115.4h0M103.4 151.0h0M87.5 65.6h0M148.9 129.3h0M100.7 118.8h0M181.0 167.9h0M216.4 97.5h0M122.0 155.1h0M161.6 87.8h0M96.9 147.5h0M81.4 71.2h0M207.0 161.0h0M110.5 97.3h0M104.8 126.5h0M189.2 75.2h0M147.5 167.2h0M206.6 164.5h0M125.5 152.6h0M202.0 178.9h0M213.4 119.8h0M149.8 137.7h0M190.3 115.1h0M58.5 57.4h0M172.0 139.3h0M180.8 169.8h0M181.4 112.5h0M115.0 76.0h0M84.9 56.4h0M166.9 146.8h0M189.4 133.2h0M161.0 101.5h0M49.4 60.0h0M164.8 76.4h0M142.2 111.8h0M71.1 54.2h0M130.2 88.3h0M153.2 156.1h0M125.3 156.3h0M102.6 94.0h0M131.1 100.4h0M129.8 144.9h0M143.7 101.0h0M139.9 82.4h0M214.4 90.7h0M171.5 171.2h0M184.7 123.2h0M190.9 175.9h0M95.0 90.3h0M149.7 97.0h0M107.4 149.8h0M99.5 144.1h0M217.5 99.4h0M135.1 135.9h0M135.3 111.7h0M128.7 85.9h0M150.8 146.8h0M128.8 119.5h0M185.1 111.4h0M164.6 103.3h0M209.2 100.4h0M211.0 141.6h0M129.7 97.6h0M203.5 95.7h0M148.7 89.1h0M172.8 103.6h0M86.1 53.9h0M133.5 136.6h0M195.7 81.4h0M89.9 62.6h0M137.2 148.3h0M85.2 52.5h0M64.7 57.1h0M146.7 87.2h0M59.3 58.5h0M138.0 140.5h0M151.5 101.1h0M175.8 148.5h0M177.8 75.4h0M125.9 163.2h0M97.6 68.8h0M119.7 85.7h0M176.7 104.1h0M203.8 92.3h0M209.0 162.5h0M202.2 109.7h0M172.0 176.0h0M169.5 120.2h0M147.9 168.8h0M204.8 167.3h0M178.6 167.0h0M130.5 145.4h0M199.9 85.7h0M104.4 111.9h0M61.4 71.9h0M203.2 93.9h0M199.7 84.4h0M56.6 53.4h0M207.9 72.7h0M162.9 136.9h0M165.9 177.5h0M147.8 147.5h0M194.0 148.0h0M124.3 74.8h0M141.5 166.2h0M175.0 82.5h0M182.3 123.3h0M94.8 69.1h0M179.5 116.0h0M171.0 99.3h0M117.4 108.1h0M173.5 178.2h0M110.4 155.6h0M109.4 115.9h0M146.1 154.5h0M115.2 84.9h0M218.4 107.1h0M119.5 163.8h0M158.1 138.1h0M178.5 71.2h0M85.4 56.8h0M179.2 116.2h0M116.3 146.2h0M200.1 168.2h0M92.2 104.3h0M152.8 159.9h0M93.4 62.9h0M175.8 139.5h0M186.7 124.6h0M164.6 136.6h0M175.1 161.2h0M199.3 75.2h0M212.8 110.1h0M102.8 123.1h0M95.4 111.2h0M99.0 116.6h0M88.7 161.3h0M199.9 175.4h0M135.0 81.6h0M166.9 157.1h0M114.4 139.4h0M96.2 112.1h0M105.2 125.2h0M200.4 166.7h0M93.9 100.5h0M140.5 102.0h0M139.1 111.7h0M165.2 152.2h0M121.6 163.1h0M157.9 93.9h0M132.2 124.5h0M110.7 99.5h0M102.2 150.7h0M189.4 182.1h0M144.8 112.8h0M139.5 160.5h0M177.1 123.0h0M130.0 142.1h0M196.4 174.7h0M119.3 143.7h0M68.9 73.8h0M150.1 133.6h0M173.7 100.6h0M123.7 81.5h0M146.9 110.9h0M129.6 91.7h0M79.6 58.6h0M144.5 93.7h0M202.4 130.5h0M132.1 78.1h0M188.4 136.7h0M94.9 65.9h0M187.1 130.4h0M132.0 139.3h0M129.6 110.1h0M162.5 87.4h0M115.1 126.2h0M170.6 130.5h0M88.2 91.3h0M98.2 129.5h0M124.7 127.5h0M205.1 175.1h0M145.1 122.2h0M185.2 71.1h0M106.8 66.4h0M177.8 103.0h0M113.5 85.8h0M183.8 127.7h0M133.4 133.3h0M90.9 108.7h0M152.1 79.8h0M133.1 126.9h0M180.1 181.8h0M176.7 125.0h0M185.1 107.5h0M205.6 85.2h0M180.1 117.1h0M66.3 54.2h0M61.5 49.6h0M194.5 175.9h0M135.2 136.0h0M77.4 53.4h0M166.9 80.3h0M160.9 158.3h0M203.4 167.6h0M181.8 168.9h0M175.1 156.1h0M140.2 75.4h0M150.5 141.9h0M201.7 143.4h0M152.2 139.2h0M186.3 77.1h0M164.7 107.8h0M183.0 155.5h0M161.8 82.2h0M93.2 130.8h0M69.2 73.3h0M144.4 133.1h0M149.2 102.9h0M155.9 149.9h0M167.3 173.0h0M178.7 124.9h0" stroke="#F8766D" stroke-width="1.45" stroke-linecap="round" fill="none"/>
<path d="M95.1 129.1h0M49.2 94.9h0M61.6 174.3h0M46.1 82.6h0M78.6 152.9h0M101.4 116.6h0M84.0 144.6h0M57.9 63.2h0M89.7 118.8h0M92.0 167.6h0M77.3 104.9h0M94.0 127.6h0M72.0 101.4h0M59.7 85.0h0M95.8 114.1h0M45.1 90.5h0M89.9 160.3h0M98.5 127.3h0M52.2 68.0h0M106.0 148.4h0M67.4 97.1h0M79.9 108.0h0M126.6 160.6h0M87.2 113.8h0M71.0 126.4h0M100.6 121.6h0M101.5 122.6h0M67.6 99.7h0M90.2 173.4h0M74.4 167.9h0M84.6 117.0h0M78.9 133.5h0M87.5 174.7h0M57.1 100.9h0M85.8 165.8h0M59.5 104.8h0M84.4 150.4h0M75.6 150.0h0M56.3 70.2h0M87.6 122.4h0M47.0 87.0h0M69.0 71.8h0M60.1 107.2h0M92.3 134.4h0M75.4 76.7h0M94.5 165.9h0M63.5 93.7h0M90.8 94.7h0M85.3 107.3h0M86.4 122.7h0M57.4 116.4h0M62.4 96.4h0M87.7 129.2h0M109.5 64.3h0M86.1 175.9h0M66.1 159.3h0M68.5 113.9h0M63.8 97.8h0M76.5 134.4h0M116.0 114.0h0M49.1 98.4h0M56.3 101.2h0M57.9 104.9h0M78.4 126.7h0M88.7 165.6h0M100.2 118.9h0M96.4 125.7h0M81.7 172.6h0M105.8 98.1h0M67.6 137.3h0M77.7 117.1h0M67.6 155.7h0M87.5 168.0h0M115.3 105.3h0M93.1 115.1h0M45.8 91.0h0M82.9 155.9h0M113.0 112.6h0M76.6 129.4h0M84.9 159.4h0M107.7 146.8h0M86.3 111.9h0M82.7 113.1h0M60.6 75.9h0M77.8 146.4h0M104.2 136.9h0M161.9 101.8h0M48.9 86.7h0M48.4 97.8h0M42.0 92.2h0M75.0 132.8h0M62.3 118.6h0M114.6 115.3h0M96.3 116.2h0M161.2 107.0h0M83.3 146.4h0M54.7 101.2h0M76.3 109.6h0M96.5 112.2h0M76.9 158.7h0M71.0 158.6h0M69.9 169.3h0M112.0 151.0h0M76.8 184.3h0M78.7 120.8h0M61.9 164.0h0M89.1 159.5h0M88.4 132.7h0M56.9 67.2h0M78.5 122.4h0M54.4 53.6h0M74.4 164.2h0M93.5 121.4h0M63.3 142.8h0M80.2 151.6h0M96.3 165.2h0M58.8 103.6h0M54.7 104.5h0M49.4 90.1h0M83.0 166.8h0M195.2 100.4h0M175.8 87.1h0M84.4 116.2h0M64.2 174.7h0M114.6 128.2h0M43.7 88.1h0M86.0 63.9h0M60.3 102.4h0M69.8 171.3h0M112.4 159.0h0M61.2 83.9h0M84.4 152.1h0M76.2 120.3h0M62.7 100.4h0M86.1 151.1h0M89.4 172.2h0M122.3 156.1h0M64.9 170.8h0M83.9 153.4h0M90.6 161.7h0M105.3 128.4h0M81.4 168.9h0M96.3 93.5h0M88.8 147.1h0M63.8 68.4h0M70.2 150.6h0M81.4 120.4h0M80.9 106.9h0M95.2 114.7h0M62.9 101.3h0M84.8 116.8h0M82.0 109.6h0M83.1 142.2h0M95.9 112.7h0M72.7 97.7h0M73.7 188.6h0M84.7 152.3h0M71.1 99.4h0M64.6 79.8h0M56.7 97.2h0M76.2 59.6h0M80.0 128.1h0M93.7 67.6h0M118.7 140.4h0M87.2 160.8h0M71.6 151.7h0M106.9 138.3h0M68.1 139.3h0M69.9 155.9h0M54.8 79.4h0M66.4 176.3h0M85.4 80.9h0M51.8 82.2h0M64.9 176.1h0M55.4 66.6h0M88.7 172.8h0M97.3 109.7h0M71.0 98.9h0M79.2 107.8h0M87.7 105.8h0M146.3 95.2h0M85.9 167.4h0M95.8 120.1h0M98.3 125.6h0M96.8 75.7h0M70.4 96.8h0M122.4 93.7h0M56.3 73.8h0M63.8 113.3h0M74.9 178.6h0M69.7 163.4h0M85.7 126.0h0M76.9 106.8h0M72.7 159.9h0M48.5 103.3h0M58.2 54.2h0M74.8 187.0h0M127.3 128.5h0M84.3 172.2h0M85.8 112.3h0M89.9 100.2h0M56.6 117.4h0M58.2 114.5h0M103.7 139.9h0M57.4 94.4h0M52.9 87.8h0M80.3 105.0h0M92.0 61.3h0M65.2 54.5h0M71.5 138.8h0M72.9 180.8h0M42.4 94.8h0M76.8 62.2h0M89.1 108.3h0M78.3 150.6h0M48.3 82.9h0M121.8 159.9h0M99.6 96.8h0M89.1 76.6h0M86.9 121.3h0M65.3 116.6h0M98.2 116.4h0M74.3 78.6h0M80.6 161.7h0M143.9 97.2h0M116.7 163.3h0M131.0 126.0h0M125.4 99.2h0M71.9 158.2h0M62.1 170.2h0M108.0 89.5h0M80.5 151.0h0M90.6 137.6h0M75.6 170.6h0M76.3 147.7h0M73.2 162.8h0M45.7 87.1h0M71.2 143.7h0M91.4 142.9h0M62.8 125.1h0M78.6 103.5h0M75.0 127.9h0M87.3 92.7h0M99.6 119.8h0M74.4 96.9h0M123.5 123.5h0M85.9 176.5h0M92.9 162.1h0M96.2 159.0h0M70.3 134.2h0M89.0 112.6h0M128.3 104.9h0M132.4 134.6h0M46.2 94.7h0M85.4 176.5h0M85.9 108.7h0M82.0 145.6h0M63.3 159.3h0M76.5 152.8h0M72.9 160.1h0M85.6 149.6h0M59.2 74.0h0M61.5 161.5h0M85.8 140.6h0M83.4 175.4h0M75.8 159.8h0M77.5 109.6h0M89.4 98.3h0M84.0 156.5h0M57.4 98.6h0M62.0 157.2h0M60.9 78.0h0M91.3 101.4h0M83.7 164.9h0M90.6 129.6h0M69.4 161.8h0M62.2 74.3h0M74.7 173.4h0M87.2 95.8h0M78.2 148.8h0M93.6 126.2h0M47.1 61.1h0M77.6 144.1h0M149.5 158.0h0M79.3 146.0h0M82.4 185.6h0M70.5 172.4h0M90.4 110.8h0M94.9 138.5h0M96.2 106.6h0M115.4 115.5h0M87.0 107.8h0M96.9 110.4h0M74.9 169.0h0M93.8 168.3h0M68.3 99.0h0M99.6 136.2h0M70.4 187.4h0M105.7 134.9h0M83.3 158.4h0M87.3 157.2h0M92.4 110.5h0M74.5 139.9h0M73.5 151.1h0M42.1 93.5h0M70.9 72.4h0M70.9 164.9h0M70.9 100.7h0M90.9 111.9h0M79.6 160.5h0M87.1 151.7h0M49.7 92.9h0M161.4 162.1h0M51.3 88.0h0M137.3 83.9h0M83.4 102.1h0M65.2 122.5h0M85.5 170.9h0M84.5 133.8h0M76.8 188.2h0M69.4 116.6h0M72.1 156.2h0M109.1 152.4h0M72.3 50.0h0M94.8 121.6h0M70.1 119.2h0M76.3 139.1h0M85.5 96.9h0M99.8 125.0h0M74.3 127.8h0M79.4 107.4h0M44.2 91.0h0M87.3 149.1h0M61.0 95.3h0M87.7 119.9h0M92.3 94.0h0M88.1 128.3h0M101.1 152.5h0M96.5 107.4h0M106.4 135.0h0M157.8 94.8h0M63.4 170.4h0M163.1 161.1h0M60.6 82.7h0M40.9 98.5h0M94.3 167.0h0M41.8 93.5h0M87.4 102.0h0M67.7 84.1h0M61.9 172.9h0M80.7 118.8h0M80.0 158.1h0M117.2 110.5h0M78.6 112.1h0M63.8 102.8h0M79.5 164.4h0M97.3 133.2h0M114.7 161.4h0M89.2 105.4h0M101.0 128.2h0M50.6 76.7h0M92.3 110.8h0M63.0 70.1h0M79.5 157.5h0M62.3 123.4h0M78.6 178.2h0M112.5 72.9h0M112.5 161.9h0M78.2 151.5h0M103.6 136.6h0M108.5 138.6h0M49.9 90.7h0M66.8 149.8h0M71.5 154.4h0M110.2 158.6h0M87.2 103.1h0M78.9 67.3h0M71.8 107.6h0M83.8 174.1h0M54.0 100.0h0M131.7 108.7h0M66.7 72.5h0M70.1 85.3h0M62.5 82.1h0M87.7 61.4h0M80.7 174.8h0M95.7 155.2h0M157.5 88.2h0M108.1 126.4h0M68.0 108.9h0M52.4 70.5h0M69.1 173.4h0M78.2 177.1h0M91.0 145.9h0M107.0 144.8h0M48.6 94.9h0M74.9 175.2h0M84.6 171.9h0M156.6 160.2h0M60.4 61.7h0M128.4 100.1h0M82.3 169.2h0M93.7 171.4h0M46.8 105.2h0M116.4 134.7h0M69.2 155.2h0M64.3 96.9h0M72.2 127.9h0M83.6 176.2h0M74.4 122.9h0M55.4 103.3h0M98.1 69.4h0M85.3 123.2h0M68.0 153.0h0M98.6 112.2h0M75.7 78.7h0M52.6 85.7h0M74.5 150.8h0M85.6 144.5h0M69.4 121.3h0M128.5 105.8h0M77.9 142.8h0M86.0 105.9h0M78.2 156.0h0M125.1 138.3h0M55.9 158.1h0M51.5 76.8h0M64.6 78.3h0M89.2 97.7h0M79.2 176.1h0M100.0 114.2h0M52.4 81.0h0M154.6 98.3h0M87.7 119.2h0M115.3 140.2h0M90.8 70.7h0M121.2 153.7h0M78.3 110.7h0M200.0 109.6h0M103.0 126.7h0M77.8 117.1h0M195.9 142.6h0M67.7 82.9h0M73.1 169.6h0M70.1 158.5h0M45.5 88.3h0M92.9 128.0h0M45.2 80.6h0M144.7 110.9h0M96.0 134.2h0M82.5 82.3h0M79.3 138.1h0M62.5 111.8h0M95.0 163.7h0M162.5 79.3h0M121.3 167.3h0M84.6 141.8h0M59.0 82.0h0M88.0 156.6h0M83.4 149.4h0M64.9 56.0h0M75.8 74.2h0M82.8 180.2h0M70.1 73.7h0M94.1 135.1h0M88.0 157.4h0M96.1 147.9h0M96.7 133.6h0M93.3 167.1h0M88.1 99.3h0M83.2 104.4h0M85.4 100.9h0M110.5 153.1h0M74.0 101.2h0M86.6 126.9h0M83.3 156.4h0M96.1 140.4h0M84.5 159.2h0M83.4 138.4h0M94.8 158.2h0M93.2 114.6h0M47.0 98.1h0M76.1 129.4h0M117.9 112.2h0M53.4 105.4h0M86.3 163.6h0M68.8 99.5h0M90.7 115.2h0M108.4 152.9h0M49.9 96.7h0M54.4 76.8h0M126.1 91.3h0M72.5 163.8h0M82.9 59.3h0M90.7 122.6h0M57.8 83.3h0M131.2 118.5h0M64.0 118.0h0M90.3 117.6h0M78.9 174.0h0M51.3 72.1h0M42.2 94.8h0M83.8 123.6h0M60.1 168.1h0M76.8 158.1h0M76.3 126.3h0M61.2 99.3h0M71.8 144.8h0M45.9 92.6h0M73.7 154.6h0M85.0 137.8h0M99.1 66.6h0M79.6 109.6h0M73.8 97.2h0M101.2 115.3h0M105.6 127.7h0M82.9 161.7h0M113.2 96.3h0M98.4 155.7h0M65.5 104.5h0M94.7 122.7h0M72.0 104.4h0M74.6 183.6h0M68.7 110.9h0M55.8 108.3h0M47.0 67.3h0M64.0 108.7h0M116.7 91.5h0M101.4 130.0h0M96.7 125.0h0M158.4 158.7h0M96.0 161.8h0M59.9 114.3h0M51.8 75.8h0M70.0 151.7h0M56.0 60.4h0M95.0 158.9h0M107.9 109.5h0M80.3 133.4h0M70.5 177.6h0M78.4 74.9h0M93.5 163.7h0M90.5 163.1h0M125.2 162.0h0M111.3 72.6h0M88.7 126.0h0M74.7 190.6h0M73.4 73.4h0M110.4 142.2h0M67.5 154.1h0M67.4 184.4h0M71.7 138.6h0M77.7 184.8h0M67.5 163.3h0M111.4 102.0h0M117.2 96.8h0M92.1 137.5h0M67.6 100.8h0M92.8 129.0h0M65.5 159.4h0M95.3 64.1h0M116.3 129.4h0M85.2 166.2h0M91.4 167.2h0M65.6 162.2h0M77.1 113.9h0M74.1 160.7h0M45.4 88.8h0M74.1 123.8h0M65.0 105.2h0M56.9 168.2h0M87.7 101.1h0M86.7 117.5h0M67.7 182.1h0M111.8 114.0h0M84.7 179.6h0M92.4 167.5h0M93.2 171.2h0M89.2 136.2h0M90.3 130.0h0M103.2 154.1h0M80.0 139.0h0M81.4 154.2h0M84.0 120.7h0M76.3 187.1h0M109.7 140.4h0M85.4 155.2h0M88.8 153.5h0M139.4 162.3h0M86.7 118.2h0M75.0 139.6h0M55.6 76.3h0M112.2 111.6h0M93.7 120.9h0M68.2 162.6h0M85.5 164.4h0M85.6 124.7h0M65.4 166.1h0M86.9 127.1h0M93.6 130.9h0M75.8 190.3h0M90.1 110.9h0M110.0 107.6h0M72.9 113.7h0M111.8 104.3h0M95.4 121.0h0M71.7 158.7h0M76.0 117.2h0M118.9 145.7h0M72.9 184.2h0M74.6 134.2h0M100.5 149.1h0M53.5 109.9h0M62.6 159.2h0M62.0 98.3h0M49.5 96.1h0M71.3 168.6h0M84.0 152.7h0M63.5 103.7h0M71.7 142.5h0M84.2 121.0h0M78.9 110.1h0M45.1 82.6h0M105.1 135.0h0M156.0 119.4h0M125.3 118.5h0M87.8 125.8h0M99.2 105.5h0M113.3 138.1h0M150.0 153.6h0M114.7 157.2h0M114.1 134.0h0M65.9 98.7h0M68.9 95.7h0M81.5 132.0h0M90.0 72.0h0M83.8 75.7h0M165.2 94.1h0M185.9 73.1h0M81.0 98.7h0M90.8 99.7h0M60.4 161.0h0M81.1 126.0h0M85.0 118.5h0M90.7 129.2h0M61.6 97.6h0M80.7 106.6h0M59.6 103.0h0M78.5 169.7h0M64.2 167.7h0M53.5 53.9h0M76.2 104.1h0M91.2 81.4h0M49.9 81.6h0M77.8 112.4h0M67.8 161.1h0M82.6 104.3h0M83.9 156.8h0M50.5 66.7h0M70.1 98.4h0M88.5 163.4h0M63.3 163.9h0M88.5 129.2h0M79.4 156.7h0M106.1 94.2h0M96.8 113.5h0M93.0 123.5h0M87.6 122.6h0M64.0 72.2h0M80.7 115.5h0M69.0 116.6h0M71.3 115.3h0M67.5 154.7h0M47.1 85.4h0M161.6 146.5h0M72.3 149.2h0M62.8 147.8h0M90.6 175.2h0M92.3 156.5h0M107.1 136.3h0M71.9 179.3h0M100.3 123.4h0M93.6 170.5h0M100.6 132.1h0M94.1 132.2h0M117.7 100.8h0M106.4 143.3h0M90.7 107.6h0M57.1 81.6h0M117.9 83.3h0M79.4 174.0h0M65.7 96.4h0M49.6 83.6h0M64.0 160.9h0M76.9 76.4h0M98.2 107.6h0M68.1 122.5h0M51.8 78.4h0M61.3 97.7h0M72.9 147.4h0M59.6 81.9h0M60.4 97.7h0M76.0 106.1h0M98.3 118.1h0M80.0 104.4h0M83.3 121.7h0M84.2 117.3h0M76.9 185.3h0M81.6 70.1h0M85.3 137.0h0M68.0 166.0h0M56.7 99.2h0M76.3 80.8h0M76.2 141.2h0M59.1 109.9h0M68.2 140.0h0M182.6 95.3h0M71.9 148.7h0M89.5 163.3h0M87.5 107.6h0M64.0 99.8h0M63.7 116.4h0M59.8 59.5h0M93.1 129.8h0M73.8 101.1h0M51.7 59.8h0M84.4 106.1h0M47.4 88.4h0M73.7 147.5h0M100.2 125.8h0M64.7 109.8h0M71.7 122.1h0M87.8 167.9h0M73.8 100.8h0M87.8 106.9h0M121.5 132.4h0M94.3 138.0h0M74.4 132.3h0M84.7 178.4h0M85.4 104.4h0M67.3 151.9h0M73.4 169.6h0M106.5 135.4h0M61.7 164.8h0M99.7 136.1h0M82.1 144.2h0M82.5 105.5h0M95.7 119.1h0M81.2 111.3h0M96.8 116.2h0M105.6 91.3h0M165.6 134.3h0M64.2 103.5h0M81.8 172.3h0M90.0 147.3h0M97.6 119.4h0M70.5 161.1h0M93.5 128.4h0M64.3 73.7h0M111.3 76.4h0M88.7 164.7h0M55.1 54.9h0M56.8 76.8h0M108.2 155.2h0M78.8 158.4h0M77.9 131.0h0M55.8 112.1h0M97.8 121.0h0M97.4 65.4h0M69.5 181.2h0M86.8 153.3h0M56.7 116.6h0M72.3 185.8h0M75.4 96.8h0M82.8 104.4h0M97.6 145.6h0M112.0 161.7h0M92.0 161.9h0M47.4 82.7h0M104.9 156.8h0M82.7 119.1h0M71.2 149.3h0M131.1 121.5h0M58.7 166.8h0M77.3 118.0h0M98.5 118.1h0M60.4 80.7h0M62.4 103.8h0M84.4 148.7h0M89.4 176.2h0M67.7 105.6h0M117.0 114.2h0M69.4 177.0h0M94.6 108.7h0M88.6 99.4h0M67.6 144.5h0M81.6 112.2h0M49.5 104.8h0M62.1 165.4h0M58.2 162.6h0M78.0 151.7h0M73.9 135.0h0M88.0 167.3h0M76.1 109.1h0M60.3 106.2h0M100.4 127.4h0M93.1 128.2h0M65.2 65.9h0M52.5 79.5h0M66.9 146.8h0M76.4 97.7h0M66.8 76.4h0M70.4 140.6h0M61.0 124.8h0M90.2 157.9h0M76.5 146.6h0M79.7 124.3h0M88.1 115.4h0M63.6 161.6h0M86.9 172.6h0M56.5 58.2h0M128.9 96.9h0M61.4 92.0h0M88.9 102.5h0M109.6 96.0h0M66.5 166.2h0M95.9 108.8h0M103.1 126.5h0M65.6 158.9h0M44.4 81.4h0M57.4 71.6h0M90.6 114.8h0M115.9 158.5h0M50.1 108.4h0M83.9 155.9h0M72.6 99.6h0M81.7 114.6h0M108.6 133.3h0M55.2 68.7h0M47.4 88.1h0M84.6 135.8h0M88.3 125.7h0M91.4 174.1h0M81.0 160.1h0M171.0 75.7h0M50.9 95.6h0M62.8 169.2h0M85.7 125.4h0M50.1 85.2h0M72.8 72.2h0M70.1 180.4h0M89.4 59.6h0M77.0 148.2h0M72.2 50.3h0M66.2 161.0h0M108.0 140.2h0M70.4 174.0h0M65.3 105.1h0M76.7 160.6h0M72.6 87.3h0M100.2 127.5h0M108.1 136.2h0M80.4 122.6h0M70.3 103.8h0M84.5 93.3h0M74.0 170.8h0M74.4 158.4h0M75.7 140.5h0M94.7 108.1h0M68.2 97.6h0M92.3 156.3h0M114.3 142.1h0M104.7 119.3h0M89.3 156.8h0M64.0 162.2h0M99.0 147.5h0M80.5 96.0h0M90.7 106.7h0M94.3 95.5h0M91.1 97.0h0M95.6 130.5h0M90.2 171.5h0M62.1 153.4h0M76.2 96.2h0M68.9 76.2h0M88.1 80.2h0M78.4 152.5h0M81.5 129.1h0M118.2 102.2h0M81.9 107.3h0M98.4 117.1h0M98.1 120.1h0M59.6 104.8h0M79.5 157.1h0M87.6 126.4h0M59.9 116.3h0M76.0 93.9h0M115.6 109.0h0M97.9 117.0h0M74.2 71.2h0M64.5 152.2h0M87.2 104.5h0M74.7 101.6h0M63.8 98.7h0M64.3 83.2h0M70.4 77.8h0M87.2 127.5h0M66.3 157.2h0M97.2 153.7h0M56.2 66.1h0M111.9 137.3h0M74.0 140.2h0M87.0 106.7h0M71.0 158.1h0M68.0 52.8h0M100.2 131.8h0M53.9 102.4h0M78.9 184.8h0M89.2 114.5h0M43.7 93.3h0M78.8 112.7h0M65.6 172.4h0M45.0 95.1h0M93.7 150.9h0M105.2 129.9h0M49.1 100.8h0M86.3 126.0h0M76.4 121.4h0M73.2 155.9h0M62.5 66.5h0M95.3 163.6h0M85.3 120.8h0M71.9 131.1h0M76.0 160.1h0M86.7 102.6h0M83.0 78.6h0M50.5 69.3h0M85.4 143.2h0M48.6 75.6h0M75.6 179.6h0M59.4 118.6h0M56.1 161.3h0M100.1 119.6h0M66.5 117.7h0M81.5 166.2h0M83.2 110.4h0M87.7 157.4h0M89.6 117.4h0M71.7 101.2h0M50.4 87.5h0M68.5 84.0h0M72.7 148.2h0M88.4 105.6h0M93.5 150.7h0M201.7 153.5h0M73.9 53.4h0M71.5 138.9h0M128.0 86.6h0M84.7 176.7h0M113.5 110.8h0M66.3 106.8h0M95.1 128.2h0M49.8 99.2h0M52.3 98.4h0M52.1 107.5h0M77.9 169.1h0M157.1 153.8h0M99.9 112.5h0M59.6 172.7h0M94.5 131.9h0M65.5 154.1h0M105.8 150.5h0M79.0 98.1h0M43.3 89.6h0M70.2 160.5h0M84.7 105.2h0M40.9 93.1h0M105.8 131.2h0M53.8 66.0h0M56.3 101.4h0M58.5 103.2h0M73.5 163.1h0M69.3 50.5h0M70.3 99.4h0M44.9 88.6h0M88.9 106.7h0M73.0 92.2h0M68.3 78.7h0M86.4 101.6h0M58.4 95.4h0M81.8 166.3h0M75.6 130.6h0M70.2 109.5h0M95.0 115.3h0M63.4 100.8h0M96.8 120.3h0M43.7 88.4h0M40.3 95.5h0M93.2 173.7h0M104.2 157.0h0M179.4 86.9h0M111.2 110.6h0M94.1 126.4h0M73.3 171.8h0M66.8 148.3h0M99.5 122.0h0M101.7 161.6h0M114.7 87.5h0M120.4 155.7h0M74.5 119.4h0M59.9 85.1h0M203.1 137.0h0M102.8 117.9h0M79.2 161.5h0M78.7 166.8h0M73.5 142.8h0M64.5 114.1h0M91.8 177.0h0M87.0 109.2h0M89.4 123.4h0M72.8 73.5h0M120.6 153.9h0M72.7 187.1h0M75.4 180.8h0M70.5 142.5h0M60.3 101.6h0M93.3 120.6h0M64.6 124.3h0M86.5 72.2h0M71.8 79.4h0M88.0 103.5h0M108.7 154.8h0M85.2 150.9h0M94.7 134.3h0M51.9 105.2h0M157.9 81.1h0M91.6 108.6h0M58.7 170.6h0M51.6 101.4h0M71.5 146.7h0M111.0 162.0h0M95.9 151.3h0M66.2 147.1h0M90.6 135.7h0M185.2 177.0h0M97.4 63.5h0M87.1 171.8h0M49.3 101.5h0M69.6 155.6h0M78.2 184.9h0M93.4 125.7h0M60.5 158.2h0M59.4 158.5h0M53.9 85.6h0M60.6 115.7h0M71.0 77.8h0M63.2 123.7h0M85.5 108.7h0M118.2 132.7h0M94.1 116.2h0M44.9 89.1h0M75.4 105.0h0M70.1 151.8h0M66.7 122.4h0M85.9 101.4h0M62.5 158.4h0M62.5 165.1h0M91.9 158.6h0M85.6 133.0h0M57.9 77.2h0M84.1 104.4h0M75.8 176.5h0M94.2 168.3h0M197.5 163.5h0M70.4 143.2h0M51.9 76.2h0M62.1 174.7h0M71.1 171.7h0M119.1 100.8h0M110.1 159.8h0M67.3 146.3h0M95.3 133.0h0M81.5 146.2h0M102.2 81.5h0M66.1 121.3h0M63.2 171.5h0M59.1 106.5h0M94.1 159.8h0M72.2 64.3h0M94.8 112.2h0M59.8 71.5h0M73.9 154.5h0M75.9 153.6h0M83.9 121.8h0M67.1 58.1h0M99.4 116.4h0M101.9 108.9h0M62.1 98.1h0M81.1 85.1h0M66.6 125.1h0M69.8 81.6h0M73.8 168.7h0M81.9 142.5h0M69.7 139.3h0M93.9 156.8h0M96.4 136.7h0M90.1 161.1h0M84.1 105.2h0M69.1 184.6h0M68.2 100.7h0M64.9 76.9h0M70.2 115.7h0M152.6 147.8h0M130.1 133.2h0M63.1 162.8h0M81.6 182.2h0M73.9 119.8h0M87.4 133.2h0M62.1 74.8h0M125.9 105.1h0M86.0 173.6h0M85.8 65.4h0M79.1 101.2h0M78.6 108.3h0M49.2 85.3h0M58.8 158.6h0M74.0 161.4h0M71.5 141.8h0M107.9 93.5h0M109.0 93.4h0M80.4 171.2h0M105.3 101.6h0M82.2 79.8h0M103.6 112.7h0M118.6 161.7h0M70.9 73.7h0M76.9 171.3h0M52.3 68.8h0M71.3 120.4h0M68.5 113.5h0M77.1 101.2h0M99.2 115.7h0M85.1 118.1h0M50.8 102.6h0M80.0 112.6h0M69.1 93.8h0M67.6 101.7h0M58.9 97.7h0M68.7 115.3h0M97.0 121.5h0M62.2 53.1h0M159.0 134.4h0M66.4 166.4h0M122.2 148.5h0M72.9 107.3h0M76.2 105.5h0M62.7 156.7h0M44.9 86.9h0M60.8 155.6h0M76.3 184.6h0M64.0 155.8h0M124.2 148.3h0M81.5 156.4h0M44.8 81.5h0M75.7 175.5h0M50.7 107.6h0M79.8 101.6h0M90.3 119.9h0M87.7 131.2h0M89.6 120.7h0M98.2 114.4h0M50.0 98.0h0M81.6 106.9h0M73.4 101.2h0M126.6 123.4h0M78.4 177.9h0M75.8 111.1h0M85.8 80.9h0M55.4 164.7h0M68.7 99.7h0M65.0 169.8h0M97.1 139.6h0M116.4 151.4h0M86.0 124.9h0M67.2 84.1h0M90.2 110.4h0M97.6 114.5h0M96.5 104.3h0M46.8 88.7h0M73.8 137.8h0M117.4 163.8h0M102.5 128.6h0M81.2 67.3h0M66.6 165.4h0M65.6 163.8h0M85.9 110.4h0M58.9 166.6h0M67.3 74.4h0M84.4 64.2h0M75.3 173.3h0M76.2 66.7h0M100.7 161.2h0M92.5 96.7h0M84.1 129.3h0M83.3 131.2h0M98.1 119.6h0M80.8 178.0h0M157.4 102.0h0M85.0 105.1h0M67.7 75.4h0M72.7 184.3h0M64.5 171.4h0M78.4 97.2h0M67.4 145.4h0M73.1 153.5h0M89.1 172.4h0M86.4 74.9h0M80.6 115.2h0M46.3 90.0h0M77.6 168.8h0M87.7 157.0h0M114.3 93.8h0M102.7 151.9h0M79.2 73.2h0M94.6 126.2h0M54.4 55.9h0M68.4 100.3h0M98.1 128.3h0M58.1 95.5h0M120.5 153.0h0M71.7 79.7h0M71.0 143.3h0M108.9 77.5h0" stroke="#00BA38" stroke-width="1.45" stroke-linecap="round" fill="none"/>
<path d="M196.0 149.5h0M187.8 115.3h0M164.7 165.1h0M184.7 115.0h0M149.0 75.7h0M193.0 82.2h0M199.4 112.3h0M181.1 144.5h0M197.2 153.1h0M203.0 79.1h0M186.8 121.4h0M164.5 106.9h0M184.7 163.7h0M188.3 109.5h0M190.0 143.6h0M131.5 120.9h0M203.7 99.7h0M167.0 137.6h0M194.9 146.4h0M209.1 121.7h0M190.6 127.6h0M177.7 102.4h0M206.2 141.6h0M181.4 103.3h0M208.1 139.7h0M214.1 94.9h0M177.0 124.6h0M191.9 85.0h0M218.8 123.2h0M128.5 83.6h0M196.5 144.7h0M163.6 110.1h0M192.2 115.7h0M206.0 168.5h0M190.3 80.4h0M169.2 158.9h0M206.0 161.7h0M193.1 129.3h0M214.6 94.4h0M201.8 177.5h0M158.2 102.5h0M211.8 82.4h0M183.1 125.5h0M187.6 82.1h0M204.5 145.1h0M191.8 152.4h0M184.0 142.2h0M193.4 150.1h0M198.2 106.5h0M179.0 154.9h0M196.9 122.4h0M216.8 91.4h0M199.5 162.9h0M189.9 167.1h0M158.2 147.6h0M210.7 160.8h0M154.2 127.3h0M192.0 80.8h0M194.1 75.2h0M217.2 119.5h0M201.1 107.3h0M204.7 101.0h0M203.2 124.0h0M201.3 116.7h0M191.0 126.4h0M135.6 85.2h0M184.1 105.1h0M215.7 120.5h0M173.7 129.9h0M181.9 103.9h0M213.9 111.5h0M179.4 82.4h0M209.2 148.4h0M197.5 102.0h0M188.8 128.1h0M128.1 157.3h0M146.8 156.3h0M159.1 144.9h0M196.5 169.9h0M76.8 53.9h0M183.6 90.0h0M178.7 139.5h0M182.3 113.9h0M196.2 155.9h0M176.5 153.8h0M211.1 87.9h0M185.3 135.7h0M207.2 161.0h0M205.4 152.3h0M201.5 107.1h0M185.5 137.0h0M176.7 86.6h0M201.4 159.7h0M207.6 86.3h0M184.1 136.2h0M177.5 85.9h0M205.9 162.7h0M201.7 167.5h0M204.9 135.2h0M203.8 150.4h0M198.5 148.6h0M208.3 152.4h0M184.7 159.6h0M180.3 165.8h0M160.6 108.1h0M207.3 154.8h0M183.4 79.3h0M180.7 132.5h0M156.2 138.4h0M126.7 145.2h0M191.5 101.0h0M194.6 129.7h0M191.7 76.5h0M183.3 185.0h0M197.9 137.5h0M219.3 114.8h0M189.9 159.0h0M220.2 102.6h0M212.1 105.6h0M122.6 68.1h0M182.0 90.3h0M137.3 163.4h0M199.8 128.6h0M150.0 162.5h0M195.7 124.3h0M133.8 91.6h0M204.7 144.3h0M144.2 146.0h0M172.0 85.6h0M178.8 178.6h0M201.6 98.0h0M200.7 126.3h0M185.4 104.3h0M210.2 121.9h0M183.9 91.5h0M204.2 138.4h0M207.8 139.0h0M175.3 133.1h0M195.4 179.0h0M187.8 131.3h0M202.0 87.0h0M216.7 113.1h0M178.9 156.5h0M176.4 140.6h0M205.2 75.9h0M201.2 78.5h0M147.1 125.0h0M73.8 136.0h0M138.9 156.2h0M196.9 128.3h0M211.2 117.6h0M175.3 137.1h0M201.0 107.8h0M188.8 127.5h0M207.4 105.3h0M197.9 154.4h0M208.5 153.1h0M158.9 82.2h0M165.3 172.6h0M157.9 145.9h0M214.5 94.9h0M165.7 103.5h0M185.1 179.9h0M170.5 105.6h0M206.5 114.4h0M182.8 184.4h0M181.9 81.7h0M207.9 107.1h0M192.1 177.0h0M191.3 92.8h0M188.9 76.5h0M176.3 77.0h0M210.8 155.5h0M192.8 161.3h0M203.8 90.5h0M202.5 99.1h0M215.4 120.4h0M196.1 112.7h0M176.7 75.4h0M194.0 130.9h0M185.9 111.9h0M198.5 119.8h0M188.8 112.8h0M180.5 149.7h0M208.8 101.2h0M211.6 152.1h0M186.5 80.1h0M207.6 161.2h0M192.7 79.1h0M197.2 130.2h0M208.5 107.0h0M155.2 103.5h0M196.8 149.3h0M200.7 117.5h0M216.7 107.2h0M205.5 160.5h0M196.2 121.3h0M200.7 85.4h0M185.7 163.3h0M209.2 159.8h0M201.1 170.0h0M178.1 121.1h0M195.6 116.5h0M188.0 159.1h0M186.3 137.9h0M215.2 114.8h0M211.3 98.7h0M204.9 79.5h0M197.0 78.0h0M211.8 137.6h0M190.1 137.1h0M184.2 150.7h0M195.9 137.6h0M79.0 60.0h0M135.8 140.5h0M48.4 57.2h0M144.4 126.4h0M145.7 76.8h0M173.7 79.4h0M204.3 93.4h0M165.1 111.9h0M213.4 130.9h0M213.0 141.2h0M200.4 160.0h0M210.5 107.0h0M168.0 95.4h0M203.3 81.5h0M189.6 144.0h0M216.7 116.0h0M197.6 162.4h0M180.3 122.2h0M206.3 100.5h0M179.4 126.3h0M178.6 130.7h0M214.1 109.9h0M171.2 135.7h0M170.3 138.9h0M190.5 96.5h0M176.3 95.6h0M186.5 160.2h0M138.7 151.1h0M203.2 97.3h0M215.0 139.4h0M189.7 142.3h0M179.4 158.8h0M162.6 138.6h0M182.0 106.1h0M205.3 154.3h0M210.2 139.7h0M192.0 151.3h0M186.8 73.1h0M56.3 55.1h0M215.5 138.8h0M168.6 162.1h0M171.7 103.2h0M164.9 145.5h0M205.6 147.5h0M219.7 120.2h0M157.6 144.1h0M208.3 83.2h0M196.0 146.2h0M198.6 104.7h0M210.7 157.2h0M126.4 108.4h0M177.2 133.1h0M206.7 146.4h0M188.5 102.6h0M195.3 87.3h0M218.2 96.5h0M167.3 97.5h0M204.7 136.2h0M195.1 152.7h0M185.8 151.3h0M209.3 143.2h0M205.1 113.0h0M208.7 121.5h0M124.9 124.0h0M201.8 133.7h0M213.7 138.4h0M190.2 135.5h0M219.8 113.7h0M211.5 84.5h0M196.1 135.7h0M193.0 86.6h0M191.6 88.4h0M176.6 93.4h0M211.0 166.7h0M194.4 87.2h0M170.6 156.3h0M199.3 161.5h0M193.2 129.9h0M197.9 159.8h0M201.9 104.3h0M185.3 86.7h0M194.1 124.3h0M213.8 155.7h0M183.7 103.4h0M189.8 178.1h0M196.6 144.0h0M214.7 125.0h0M211.7 120.2h0M190.2 166.0h0M175.6 98.7h0M202.9 115.2h0M91.3 63.2h0M177.3 71.8h0M166.6 108.5h0M214.7 110.2h0M165.3 146.6h0M195.0 133.3h0M177.2 140.9h0M204.4 87.5h0M199.4 148.7h0M185.5 114.9h0M212.1 120.9h0M52.0 58.1h0M214.7 106.7h0M212.9 128.4h0M183.5 70.4h0M171.7 132.8h0M204.4 160.0h0M217.7 103.7h0M183.3 106.7h0M209.2 108.4h0M201.6 178.8h0M151.0 137.4h0M219.4 91.2h0M217.0 104.1h0M190.1 100.4h0M204.9 146.6h0M186.4 141.9h0M217.8 107.7h0M201.1 179.1h0M200.3 170.0h0M148.0 160.4h0M217.1 109.1h0M168.2 160.1h0M197.0 85.6h0M175.5 85.7h0M217.5 115.8h0M185.1 78.2h0M215.4 110.6h0M135.2 74.0h0M197.8 171.1h0M201.8 99.4h0M198.6 126.4h0M198.8 93.6h0M179.6 179.9h0M215.0 114.2h0M208.3 81.0h0M200.8 179.2h0M162.7 140.9h0M193.0 104.8h0M196.0 89.4h0M215.9 110.0h0M216.0 105.4h0M207.5 140.3h0M202.6 152.5h0M165.5 105.2h0M178.1 173.9h0M191.1 156.7h0M178.5 165.1h0M172.7 112.8h0M191.1 120.1h0M170.3 75.3h0M189.9 118.8h0M190.7 119.9h0M65.4 59.1h0M208.5 89.1h0M196.3 125.5h0M184.2 151.4h0M153.5 108.6h0M171.1 99.4h0M165.4 165.2h0M206.9 96.4h0M187.6 99.8h0M217.1 87.9h0M180.7 75.4h0M197.5 145.4h0M199.2 111.0h0M184.5 155.6h0M214.3 127.8h0M152.9 146.3h0M178.9 143.4h0M163.5 96.3h0M191.5 125.9h0M179.9 180.6h0M212.5 113.5h0M174.1 168.2h0M210.0 83.3h0M185.8 75.6h0M203.1 74.8h0M177.4 85.1h0M162.1 142.2h0M183.5 165.8h0M208.0 151.9h0M164.9 142.8h0M178.3 88.8h0M166.0 166.1h0M197.2 147.7h0M166.2 165.6h0M207.7 162.4h0M177.3 79.6h0M204.8 157.3h0M193.5 129.3h0M212.6 140.3h0M202.8 136.3h0M201.8 174.5h0M201.6 137.0h0M209.7 142.6h0M154.2 160.1h0M203.3 97.5h0M171.6 128.6h0M205.2 158.0h0M191.9 99.7h0M190.3 120.2h0M199.2 129.7h0M204.0 150.4h0M187.4 159.2h0M210.7 97.3h0M211.8 93.5h0M209.1 166.4h0M199.1 165.3h0M149.9 158.8h0M110.2 131.5h0M198.2 166.3h0M206.6 105.2h0M215.5 115.6h0M203.2 84.8h0M185.9 112.4h0M214.8 98.4h0M205.5 148.5h0M151.7 114.8h0M162.3 157.4h0M184.3 87.4h0M163.6 82.5h0M190.5 114.6h0M206.5 141.1h0M219.7 109.4h0M181.4 111.8h0M208.6 159.2h0M189.3 121.7h0M204.0 121.6h0M185.7 153.2h0M158.9 159.7h0M183.9 159.1h0M165.8 92.9h0M191.3 151.3h0M198.8 165.4h0M211.6 145.1h0M202.8 160.8h0M205.7 172.0h0M184.1 87.4h0M196.3 162.1h0M182.6 103.9h0M176.3 70.8h0M145.6 80.6h0M180.9 158.4h0M172.3 75.9h0M186.0 111.8h0M204.6 119.2h0M170.3 84.6h0M170.3 165.0h0M202.2 127.3h0M128.7 114.7h0M186.3 108.6h0M164.8 145.8h0M218.7 119.9h0M193.0 148.1h0M169.6 98.0h0M173.1 146.7h0M203.3 135.3h0M192.4 119.6h0M205.1 143.0h0M201.7 105.8h0M186.9 152.0h0M192.7 152.4h0M169.4 103.2h0M199.0 107.1h0M174.7 155.8h0M176.7 146.4h0M180.0 136.7h0M188.3 177.6h0M175.3 82.1h0M189.4 94.6h0M217.1 122.7h0M172.2 93.7h0M166.2 171.2h0M80.7 79.5h0M74.2 49.2h0M195.5 117.0h0M200.1 158.7h0M194.7 120.5h0M163.7 162.4h0M201.9 168.0h0M200.4 174.4h0M182.3 134.8h0M198.2 151.6h0M65.7 80.8h0M208.4 105.9h0M195.8 139.1h0M197.5 174.2h0M149.9 162.3h0M182.8 150.2h0M196.0 142.6h0M201.0 166.4h0M85.1 54.2h0M209.0 148.9h0M85.9 55.2h0M175.5 145.7h0M214.2 103.2h0M205.6 151.4h0M183.6 105.7h0M162.9 137.2h0M197.7 169.4h0M138.0 150.8h0M147.1 113.1h0M207.2 98.5h0M196.0 84.5h0M169.2 154.7h0M200.3 130.6h0M204.4 92.2h0M211.1 152.2h0M174.4 128.3h0M194.1 141.6h0M198.7 102.1h0M176.4 182.0h0M86.7 56.9h0M187.1 81.8h0M175.5 112.5h0M185.0 81.7h0M155.6 93.1h0M165.5 111.9h0M210.4 113.5h0M171.2 113.0h0M173.3 116.3h0M218.7 108.9h0M214.4 111.8h0M176.8 142.1h0M186.8 87.8h0M215.8 100.9h0M193.6 94.9h0M191.0 164.9h0M195.2 129.1h0M213.7 157.9h0M176.7 161.9h0M183.0 111.7h0M156.6 136.2h0M214.3 126.6h0M211.1 104.0h0M157.7 143.0h0M194.8 94.8h0M57.2 57.1h0M84.0 66.0h0M211.3 141.6h0M220.8 110.8h0M173.9 73.5h0M180.5 81.1h0M123.0 78.5h0M201.2 102.3h0M187.5 93.0h0M186.0 94.3h0M197.8 100.5h0M205.1 140.2h0M172.3 83.4h0M211.6 141.1h0M175.1 120.2h0M206.5 158.9h0M199.6 118.6h0M157.6 99.4h0M143.7 95.2h0M202.4 114.2h0M185.9 123.1h0M195.1 150.9h0M161.1 145.7h0M180.1 93.9h0M206.6 120.8h0M199.5 170.0h0M202.9 137.5h0M213.4 116.1h0M138.6 99.5h0M186.4 97.6h0M213.0 106.4h0M217.2 112.3h0M202.1 157.6h0M212.7 140.1h0M92.3 55.5h0M143.5 164.9h0M177.1 163.7h0M215.3 97.2h0M193.2 120.0h0M214.7 96.1h0M139.2 157.3h0M174.3 75.8h0M200.4 113.2h0M165.8 142.0h0M185.7 115.6h0M179.2 74.2h0M197.5 173.3h0M173.9 84.6h0M204.2 91.2h0M167.5 86.5h0M200.9 162.5h0M181.1 156.2h0M196.2 99.1h0M209.2 155.1h0M180.6 81.1h0M175.9 137.4h0M167.1 137.3h0M214.0 118.4h0M204.2 122.5h0M183.0 141.0h0M214.8 144.3h0M149.8 90.0h0M208.1 117.4h0M180.2 90.2h0M188.9 92.2h0M181.2 87.7h0M175.7 172.9h0M89.6 62.1h0M156.1 147.4h0M209.6 162.2h0M211.7 120.2h0M202.8 134.3h0M177.5 166.8h0M201.3 150.6h0M201.9 118.1h0M64.6 54.5h0M154.1 93.9h0M196.0 130.6h0M171.8 77.6h0M209.0 152.2h0M190.9 86.3h0M204.5 119.2h0M213.8 99.0h0M196.3 94.4h0M181.7 105.3h0M178.3 161.3h0M208.8 102.7h0M188.4 124.5h0M146.2 114.9h0M215.6 118.4h0M199.8 108.1h0M152.0 152.3h0M193.9 73.7h0M189.2 107.4h0M186.0 122.9h0M189.4 76.4h0M169.8 95.4h0M180.6 155.0h0M150.5 77.4h0M174.2 126.2h0M176.8 85.9h0M195.7 94.7h0M176.9 129.3h0M164.4 96.2h0M198.7 84.1h0M217.1 101.4h0M160.2 92.3h0M211.9 111.6h0M216.2 114.5h0M203.9 96.2h0M211.7 124.7h0M213.9 123.0h0M221.1 102.0h0M156.3 135.2h0M169.2 88.6h0M144.8 158.5h0M182.7 79.5h0M208.2 80.5h0M190.4 125.4h0M184.8 160.7h0M198.6 151.1h0M183.6 82.9h0M173.2 149.6h0M158.9 99.6h0M173.8 142.9h0M213.0 101.9h0M201.7 104.1h0M154.1 144.5h0M192.8 70.5h0M189.1 147.6h0M187.0 114.0h0M168.9 104.9h0M204.5 166.1h0M201.8 173.5h0M211.3 130.2h0M193.4 86.0h0M197.3 120.4h0M165.2 176.1h0M207.4 117.1h0M151.4 125.1h0M162.7 80.4h0M179.0 98.8h0M123.0 81.4h0M186.8 152.1h0M61.2 49.6h0M182.4 83.9h0M174.9 99.6h0M178.1 150.0h0M170.5 161.0h0M177.6 76.8h0M188.0 139.0h0M199.6 88.4h0M205.7 78.5h0M184.9 140.4h0M209.8 143.8h0M193.0 80.1h0M196.6 74.7h0M142.4 112.7h0M210.5 126.3h0M182.6 71.7h0M163.3 95.6h0M187.2 110.0h0M150.9 136.1h0M211.4 144.0h0M184.5 176.8h0M192.9 141.5h0M208.8 150.9h0M207.9 168.5h0M198.7 151.4h0M180.8 125.4h0M185.6 145.0h0M184.4 111.2h0M212.5 134.3h0M198.4 88.7h0M150.7 133.9h0M175.8 131.8h0M205.2 127.0h0M166.1 121.1h0M213.8 96.7h0M209.6 112.7h0M145.8 109.4h0M200.0 122.0h0M170.7 94.6h0M212.7 157.3h0M213.1 116.7h0M189.2 86.3h0M209.6 145.3h0M190.5 114.1h0M191.4 115.4h0M192.0 95.9h0M69.5 81.7h0M187.0 163.8h0M165.7 106.5h0M199.1 154.9h0M205.4 89.7h0M179.0 83.1h0M216.3 112.9h0M148.4 122.0h0M198.7 82.3h0M206.9 169.0h0M179.1 142.1h0M197.1 132.9h0M191.7 126.2h0M183.3 177.0h0M170.8 77.8h0M192.0 71.8h0M146.1 146.6h0M174.3 128.8h0M186.0 111.6h0M162.7 79.5h0M162.7 143.2h0M212.7 137.4h0M191.5 126.7h0M172.6 72.9h0M181.2 164.1h0M190.6 71.3h0M209.0 123.9h0M217.1 111.3h0M181.2 94.5h0M203.1 78.3h0M201.3 107.6h0M187.2 79.1h0M180.6 94.0h0M191.7 90.4h0M216.0 122.8h0M164.6 84.1h0M167.1 103.5h0M175.4 135.9h0M179.0 90.6h0M213.9 124.9h0M205.2 137.3h0M194.2 94.6h0M180.3 129.3h0M182.1 148.5h0M184.7 116.3h0M200.9 126.3h0M168.5 156.4h0M207.3 109.7h0M189.5 144.2h0M152.5 143.6h0M196.2 93.0h0M180.9 113.1h0M180.4 128.2h0M182.1 155.5h0M202.6 83.9h0M178.9 166.0h0M185.2 167.8h0M207.7 159.1h0M216.9 105.4h0M151.8 80.8h0M174.9 124.3h0M208.2 102.4h0M195.5 138.9h0M161.8 136.1h0M189.0 114.9h0M59.4 67.4h0M199.3 90.0h0M142.4 160.1h0M208.1 86.1h0M212.9 156.4h0M157.8 150.5h0M179.6 82.7h0M192.6 136.0h0M132.2 137.6h0M91.3 63.8h0M205.4 137.5h0M195.6 141.6h0M212.0 154.6h0M163.2 141.5h0M204.1 147.4h0M200.8 123.8h0M193.4 80.5h0M197.9 84.4h0M172.1 182.9h0M170.2 152.1h0M191.5 112.2h0M204.6 145.9h0M209.3 87.3h0M120.9 113.5h0M216.4 131.6h0M159.8 104.6h0M190.9 100.7h0M177.5 85.5h0M182.4 152.1h0M183.3 141.1h0M156.6 86.9h0M200.4 93.9h0M182.2 154.4h0M163.6 165.4h0M180.3 128.6h0M196.6 145.3h0M185.1 78.9h0M171.9 172.3h0M177.1 75.1h0M194.0 138.6h0M161.8 147.2h0M217.6 99.0h0M191.5 141.4h0M158.0 160.2h0M205.5 164.8h0M202.6 96.3h0M177.0 117.6h0M190.6 161.9h0M180.6 90.3h0M153.0 141.5h0M182.3 109.8h0M205.9 101.9h0M163.3 164.5h0M172.2 90.9h0M185.2 103.7h0M198.7 135.2h0M135.0 102.2h0M196.4 103.1h0M206.6 85.0h0M196.6 130.2h0M207.2 89.2h0M192.3 182.1h0M217.0 109.9h0M211.8 144.0h0M172.5 153.9h0M195.4 142.5h0M205.6 157.7h0M207.1 150.4h0M217.5 94.2h0M202.7 104.6h0M209.5 116.2h0M174.3 106.5h0M178.9 93.1h0M189.2 155.6h0M207.0 168.1h0M205.6 143.4h0M215.4 105.1h0M198.2 142.0h0M164.3 144.5h0M165.6 173.6h0M199.9 152.5h0M78.0 52.2h0M193.5 181.0h0M170.0 111.4h0M189.1 156.2h0M210.1 158.1h0M199.6 102.2h0M188.8 156.4h0M160.5 96.9h0M206.7 118.0h0M178.2 142.7h0M183.7 159.6h0M184.0 163.2h0M188.8 97.3h0M199.7 96.9h0M176.0 123.9h0M138.4 109.5h0M208.7 120.7h0M169.9 150.6h0M170.4 150.4h0M219.3 119.4h0M203.6 124.5h0M147.5 117.2h0M95.9 69.6h0M179.2 71.4h0M198.1 110.6h0M210.9 160.5h0M204.6 149.1h0M202.6 136.2h0M145.0 131.8h0M77.0 50.0h0M213.1 119.3h0M197.9 99.4h0M181.7 70.2h0M188.6 130.5h0M203.7 135.3h0M179.9 161.0h0M190.8 140.1h0M196.4 139.2h0M200.2 139.7h0M206.5 154.7h0M202.1 161.4h0M167.3 73.5h0M201.8 81.3h0M193.2 79.8h0M211.3 159.8h0M157.5 159.4h0M201.0 85.0h0M195.9 73.5h0M208.9 140.2h0M216.6 99.5h0M215.0 87.0h0M154.0 99.6h0M216.0 116.1h0M196.5 98.1h0M211.6 107.6h0M174.2 87.9h0M185.9 134.6h0M195.9 75.2h0M213.0 110.3h0M204.5 159.2h0M181.4 88.4h0M175.1 129.2h0M201.3 141.0h0M177.5 100.0h0M144.9 78.3h0M181.0 159.4h0M171.7 85.5h0M196.4 156.2h0M186.7 123.7h0M197.3 148.4h0M87.6 97.1h0M196.9 160.1h0M185.1 170.6h0M194.6 90.0h0M198.7 174.9h0M174.7 86.5h0M197.2 109.8h0M192.7 162.0h0M205.5 87.6h0M215.8 103.4h0M197.9 149.8h0M216.5 109.1h0M94.0 135.9h0M170.3 80.1h0M210.3 114.8h0M174.7 89.6h0M163.2 159.1h0M180.6 159.1h0M184.9 86.6h0M179.0 165.4h0M215.9 109.7h0M151.3 114.8h0M211.2 152.6h0M150.4 156.6h0M198.0 159.9h0M190.0 72.4h0M201.5 124.8h0M212.9 147.5h0M195.9 104.0h0M187.2 176.9h0M212.1 103.2h0M218.1 101.0h0M193.5 139.4h0M190.0 178.2h0M193.7 132.0h0M174.0 87.9h0M199.2 88.4h0M219.0 96.7h0M212.2 164.5h0M210.7 113.2h0M144.7 113.0h0M178.6 71.8h0M164.2 106.4h0M218.6 99.0h0M133.0 128.5h0M166.3 167.0h0M199.3 76.5h0M154.4 115.0h0M174.9 118.5h0M128.7 94.6h0M199.1 99.3h0M195.9 175.4h0M183.9 146.5h0M209.9 82.5h0M196.2 73.3h0M188.6 92.3h0M208.9 114.2h0M195.1 179.4h0M172.9 96.5h0M183.5 104.9h0M178.0 120.1h0M169.9 89.0h0M170.9 159.5h0M215.5 92.1h0M209.9 139.0h0M162.5 79.5h0M167.2 116.3h0M150.5 132.6h0M182.7 96.1h0M205.5 148.4h0M180.8 132.9h0M210.1 156.5h0M183.8 164.4h0M212.1 124.5h0M187.8 104.0h0M187.3 90.2h0M170.7 91.8h0M180.2 133.2h0M165.3 93.4h0M185.5 109.0h0M179.3 158.4h0M213.8 95.3h0M184.9 79.3h0M198.9 182.6h0M197.9 152.1h0M210.8 82.2h0M190.3 116.9h0M216.1 116.0h0M198.6 85.5h0M207.3 125.2h0M188.4 147.4h0M175.1 86.0h0M180.8 71.6h0M213.6 124.5h0M147.9 82.5h0M190.0 182.5h0M205.5 156.7h0M201.6 132.6h0M179.8 119.4h0M178.3 117.4h0M193.3 89.0h0M192.2 177.1h0M193.0 170.0h0M185.8 169.7h0M130.0 132.5h0M197.5 132.6h0M215.2 97.3h0M180.0 138.5h0M191.2 120.0h0M150.0 117.0h0M177.7 79.1h0M201.8 134.6h0M203.9 147.9h0M186.0 72.4h0M217.0 99.2h0M219.5 112.7h0M176.1 155.4h0M169.3 151.6h0M213.1 123.4h0M216.1 98.1h0M185.3 118.0h0M192.6 138.0h0M185.1 143.3h0M193.1 95.6h0M173.8 133.1h0M201.0 121.3h0M178.1 78.2h0M199.4 118.2h0M174.9 93.2h0M180.7 127.7h0M209.6 143.7h0M219.5 97.9h0M191.7 154.7h0M218.5 115.6h0M196.8 171.0h0M179.0 155.5h0M159.6 161.6h0M183.5 118.9h0M192.5 148.3h0M201.5 97.0h0M219.6 104.4h0M201.2 150.0h0M170.6 89.8h0M209.4 170.5h0M191.9 96.7h0M153.7 92.0h0M186.3 131.9h0M181.8 70.3h0M179.2 176.3h0M210.3 156.6h0M160.7 163.9h0M161.4 144.1h0M182.9 181.5h0M190.9 108.2h0M171.6 105.8h0M220.3 99.7h0M202.7 156.7h0M168.5 137.8h0M68.8 61.4h0M207.2 103.1h0M62.2 67.9h0M197.4 109.3h0M204.3 175.1h0" stroke="#619CFF" stroke-width="1.45" stroke-linecap="round" fill="none"/>
<path d="M33.3 41.0V198.9H228.0" stroke="#3a3a3a" stroke-width="1.1" fill="none"/>
<path d="M34.7 198.9v2.6" stroke="#3a3a3a" stroke-width="0.9"/>
<text x="36.6" y="208.2" font-size="9.8" text-anchor="middle" fill="#222">−6</text>
<path d="M87.1 198.9v2.6" stroke="#3a3a3a" stroke-width="0.9"/>
<text x="89.0" y="208.2" font-size="9.8" text-anchor="middle" fill="#222">−3</text>
<path d="M139.4 198.9v2.6" stroke="#3a3a3a" stroke-width="0.9"/>
<text x="139.4" y="208.2" font-size="9.8" text-anchor="middle" fill="#222">0</text>
<path d="M191.7 198.9v2.6" stroke="#3a3a3a" stroke-width="0.9"/>
<text x="191.7" y="208.2" font-size="9.8" text-anchor="middle" fill="#222">3</text>
<path d="M33.3 76.8h-2.6" stroke="#3a3a3a" stroke-width="0.9"/>
<text x="30.6" y="79.8" font-size="9.8" text-anchor="end" fill="#222">2.5</text>
<path d="M33.3 120.5h-2.6" stroke="#3a3a3a" stroke-width="0.9"/>
<text x="30.6" y="123.5" font-size="9.8" text-anchor="end" fill="#222">0.0</text>
<path d="M33.3 164.2h-2.6" stroke="#3a3a3a" stroke-width="0.9"/>
<text x="30.6" y="167.2" font-size="9.8" text-anchor="end" fill="#222">−2.5</text>
<text x="134.8" y="217.2" font-size="11.2" text-anchor="middle" fill="#111">UMAP 1</text>
<text transform="translate(13.4 116.0) rotate(-90)" font-size="11.2" text-anchor="middle" fill="#111">UMAP 2</text>
<circle cx="241.8" cy="113.0" r="2.2" fill="#F8766D"/>
<text x="250.8" y="116.3" font-size="10" fill="#111">CMP</text>
<circle cx="241.8" cy="122.1" r="2.2" fill="#00BA38"/>
<text x="250.8" y="125.4" font-size="10" fill="#111">GMP</text>
<circle cx="241.8" cy="131.2" r="2.2" fill="#619CFF"/>
<text x="250.8" y="134.5" font-size="10" fill="#111">HSC</text>
<text x="70.8" y="136.0" font-size="13.5" text-anchor="middle" fill="#111">GMP</text>
<text x="127.5" y="126.3" font-size="13.5" text-anchor="middle" fill="#111">CMP</text>
<text x="179.8" y="127.0" font-size="13.5" text-anchor="middle" fill="#111">HSC</text>
<path d="M150.5 317.3h0M143.6 292.3h0M121.1 280.2h0M154.5 269.8h0M104.6 262.7h0M139.9 279.6h0M124.6 284.2h0M157.2 305.1h0M99.7 276.6h0M73.9 297.6h0M176.9 286.3h0M118.4 307.4h0M170.8 303.5h0M187.5 265.1h0M144.3 272.8h0M69.1 292.9h0M136.2 318.7h0M129.9 301.9h0M132.9 272.9h0M146.5 306.7h0M110.4 296.1h0M133.1 278.3h0M124.9 260.2h0M61.5 303.8h0M149.6 272.2h0M93.6 290.3h0M145.0 297.8h0M180.4 266.2h0M126.3 312.3h0M63.9 292.2h0M124.9 286.8h0M149.7 275.2h0M160.1 268.2h0M113.2 257.5h0M65.4 293.7h0M145.1 293.1h0M164.2 298.8h0M128.9 309.6h0M120.0 311.2h0M179.4 281.3h0M109.3 294.0h0M126.8 269.8h0M119.2 301.8h0M116.8 309.7h0M145.4 304.9h0M228.7 296.4h0M168.0 298.0h0M158.4 297.5h0M149.1 313.4h0M118.5 312.6h0M113.2 272.8h0M140.5 280.0h0M78.4 306.5h0M145.7 285.2h0M128.2 293.6h0M108.1 258.7h0M141.6 297.1h0M111.4 280.4h0M219.6 283.0h0M130.2 294.0h0M170.9 269.3h0M117.9 274.6h0M181.0 271.0h0M183.6 281.5h0M147.3 290.1h0M181.8 274.8h0M182.7 282.1h0M216.7 352.7h0M137.5 276.2h0M162.4 284.4h0M163.8 309.4h0M166.7 304.8h0M183.6 270.7h0M141.3 283.2h0M147.5 275.5h0M64.2 296.5h0M153.5 271.3h0M126.4 312.4h0M142.8 311.6h0M126.9 261.7h0M99.3 289.0h0M122.4 273.5h0M138.6 287.0h0M177.2 281.7h0M74.6 293.6h0M186.3 269.9h0M137.4 267.8h0M73.0 295.4h0M181.1 275.0h0M57.9 293.0h0M134.3 274.2h0M122.3 280.5h0M159.4 301.6h0M162.6 282.8h0M165.8 299.4h0M185.8 275.9h0M118.3 260.9h0M107.3 277.2h0M150.6 286.0h0M126.4 307.6h0M121.5 308.8h0M72.9 294.8h0M151.8 290.9h0M113.1 282.1h0M151.2 300.2h0M219.7 315.1h0M142.6 307.8h0M140.2 269.0h0M99.9 269.9h0M101.7 276.9h0M173.0 283.6h0M125.4 287.8h0M126.7 289.2h0M133.4 271.4h0M164.9 276.8h0M180.7 275.6h0M223.1 290.6h0M136.8 269.9h0M144.4 312.1h0M92.7 296.3h0M151.7 288.4h0M156.4 298.0h0M171.6 291.3h0M107.3 283.0h0M102.8 292.6h0M134.1 281.9h0M166.5 277.1h0M155.2 272.1h0M177.1 283.6h0M122.9 270.1h0M149.2 293.1h0M110.8 302.8h0M131.5 294.8h0M161.1 299.8h0M129.9 295.2h0M162.4 313.7h0M144.7 268.8h0M111.6 284.7h0M225.4 303.8h0M165.6 298.3h0M148.1 307.1h0M177.3 266.8h0M160.7 279.3h0M142.5 304.7h0M167.7 276.4h0M223.8 312.0h0M220.3 336.7h0M80.9 299.8h0M90.0 288.1h0M102.6 259.1h0M115.7 272.2h0M124.0 270.4h0M76.4 292.7h0M116.0 298.1h0M112.4 267.6h0M151.1 271.0h0M180.4 273.8h0M221.9 329.4h0M221.6 340.6h0M118.9 259.1h0M165.3 304.8h0M106.2 302.0h0M164.5 271.0h0M132.9 301.4h0M174.5 291.1h0M155.7 315.3h0M188.8 267.6h0M145.4 283.8h0M92.1 294.2h0M160.0 309.5h0M121.2 262.6h0M223.7 338.6h0M149.4 278.8h0M94.2 297.5h0M133.9 313.8h0M124.1 299.8h0M89.8 291.5h0M181.6 281.5h0M112.8 271.6h0M165.6 276.3h0M224.2 337.9h0M146.0 286.1h0M149.7 281.0h0M99.3 303.2h0M148.7 274.0h0M119.4 312.8h0M227.7 291.1h0M70.1 295.0h0M153.2 314.5h0M151.3 316.8h0M148.2 278.3h0M120.3 290.9h0M121.0 288.5h0M130.9 305.1h0M112.0 259.6h0M215.0 346.2h0M146.5 316.6h0M224.3 308.5h0M124.7 264.4h0M111.5 262.8h0M167.2 270.9h0M161.2 287.9h0M129.3 308.3h0M72.7 296.8h0M128.1 278.0h0M142.3 278.7h0M217.7 342.8h0M85.9 298.3h0M163.1 272.4h0M167.0 284.7h0M104.4 275.7h0M228.7 310.9h0M118.1 266.8h0M163.7 298.4h0M117.7 269.1h0M161.1 294.3h0M88.1 292.8h0M131.3 287.1h0M164.7 299.6h0M136.9 301.9h0M136.3 267.9h0M114.3 274.8h0M172.9 286.7h0M95.2 289.6h0M148.1 321.8h0M184.2 265.6h0M152.5 301.6h0M163.7 290.4h0M153.9 302.6h0M90.1 298.3h0M172.4 291.4h0M121.3 307.4h0M80.9 309.1h0M148.6 286.4h0M153.3 292.3h0M190.7 264.1h0M165.8 284.1h0M108.1 292.3h0M127.0 279.6h0M138.5 313.2h0M151.4 315.1h0M143.0 297.4h0M106.0 270.5h0M147.0 313.8h0M114.7 271.5h0M116.4 266.8h0M135.3 296.4h0M225.7 300.5h0M213.0 346.4h0M226.6 304.4h0M89.8 299.4h0M146.4 293.2h0M55.1 296.1h0M136.5 305.4h0M150.7 289.9h0M125.1 305.4h0M140.2 268.0h0M163.4 283.3h0M128.5 290.8h0M104.8 264.3h0M167.3 274.0h0M169.9 272.8h0M184.1 266.0h0M171.9 301.7h0M164.2 276.5h0M133.0 296.2h0M176.8 269.4h0M131.3 287.7h0M121.9 286.5h0M163.9 277.3h0M159.2 305.3h0M65.9 292.7h0M157.1 312.0h0M144.7 279.8h0M168.5 270.6h0M158.9 315.0h0M133.1 273.2h0M139.0 301.1h0M133.1 302.3h0M148.4 306.9h0M146.8 312.7h0M92.0 293.5h0M169.7 292.1h0M137.4 287.0h0M162.7 276.6h0M160.5 294.2h0M128.3 294.1h0M155.4 267.7h0M184.3 280.0h0M161.3 267.5h0M150.1 307.8h0M112.9 292.7h0M163.3 289.8h0M168.7 273.7h0M136.2 264.6h0M131.6 287.0h0M124.5 302.7h0M218.1 342.1h0M90.8 295.3h0M156.3 278.6h0M85.7 300.8h0M146.3 314.3h0M156.6 305.4h0M87.9 297.0h0M76.0 297.3h0M115.5 289.7h0M164.4 296.3h0M178.1 265.2h0M136.0 320.5h0M122.0 309.2h0M121.0 277.0h0M50.8 292.5h0M130.6 286.7h0M160.4 275.5h0M145.6 290.9h0M133.3 317.1h0M167.5 298.4h0M135.9 316.0h0M121.7 289.5h0M157.4 312.1h0M169.9 277.2h0M176.0 268.9h0M183.2 282.5h0M123.4 285.7h0M174.5 276.2h0M172.1 288.4h0M165.6 267.3h0M136.2 302.6h0M160.1 272.8h0M118.4 306.0h0M153.7 293.1h0M189.7 269.2h0M130.2 285.7h0M141.1 319.8h0M102.3 260.0h0M187.2 272.1h0M75.9 293.1h0M182.8 265.1h0M183.2 264.6h0M151.0 275.2h0M158.6 289.1h0M179.0 270.1h0M117.0 292.0h0M176.9 279.5h0M133.2 311.9h0M139.4 274.4h0M139.6 274.5h0M176.1 293.9h0M115.4 261.4h0M65.6 305.5h0M120.8 286.9h0M218.8 356.5h0M114.7 276.4h0M182.1 276.8h0M111.6 306.3h0M115.1 266.5h0M145.6 307.5h0M136.9 278.9h0M151.7 285.2h0M115.2 298.2h0M121.3 292.6h0M144.9 296.9h0M126.1 288.2h0M158.2 279.7h0M98.3 257.3h0M131.7 299.9h0M112.7 309.3h0M141.4 265.2h0M122.1 305.1h0M164.0 310.1h0M90.3 297.2h0M152.6 310.2h0M153.4 312.2h0M164.9 276.8h0M115.6 311.1h0M110.5 266.0h0M219.6 352.4h0M108.0 274.4h0M119.4 295.9h0M154.2 284.1h0M152.0 304.4h0M137.3 311.0h0M161.4 288.6h0M178.5 280.6h0M105.3 259.7h0M165.3 306.4h0M116.1 308.6h0M106.6 310.1h0M145.8 277.1h0M153.1 279.6h0M119.3 265.3h0M113.7 304.2h0M115.6 300.7h0M178.0 285.5h0M155.8 281.0h0M139.9 299.5h0M225.7 294.5h0M123.9 278.2h0M140.8 302.2h0M139.1 265.8h0M150.8 298.0h0M155.9 306.4h0M222.9 324.8h0M130.9 284.2h0M182.3 283.2h0M229.8 307.7h0M180.6 267.5h0M127.3 279.5h0M187.5 275.7h0M81.1 306.9h0M127.3 272.8h0M157.5 268.6h0M174.0 274.3h0M177.2 284.4h0M223.1 324.4h0M129.7 316.0h0M119.7 286.4h0M102.4 302.0h0M139.9 304.4h0M153.9 270.9h0M141.5 303.8h0M175.1 291.4h0M179.0 278.1h0M70.7 291.4h0M171.6 289.7h0M214.8 359.7h0M172.1 273.1h0M83.4 294.6h0M93.6 295.7h0M163.6 295.5h0M149.0 290.9h0M139.8 290.8h0M220.1 338.0h0M114.3 315.0h0M78.4 300.5h0M94.0 275.9h0M131.5 283.4h0M80.0 309.5h0M109.0 298.9h0M85.0 300.7h0M173.9 265.6h0M143.6 295.5h0M167.6 299.5h0M153.3 318.1h0M221.2 339.4h0M109.7 289.8h0M166.4 300.0h0M180.9 267.2h0M153.0 301.5h0M105.6 312.3h0M168.7 299.1h0M183.3 278.7h0M181.1 269.9h0M141.3 282.7h0M164.6 282.3h0M186.1 268.2h0M172.2 273.7h0M175.8 264.0h0M133.7 276.3h0M133.6 283.3h0M173.9 281.5h0M121.7 296.9h0M183.2 271.8h0M153.0 276.0h0M122.0 278.0h0M67.4 292.2h0M133.1 283.3h0M155.4 285.3h0M151.5 289.4h0M138.3 277.0h0M152.0 292.0h0M180.5 269.8h0M82.3 300.8h0M144.7 308.2h0M158.3 277.1h0M220.2 317.9h0M57.9 295.1h0M137.8 308.6h0M121.2 307.2h0M159.9 289.5h0M178.4 271.9h0M161.9 269.3h0M161.0 288.5h0M179.9 278.6h0M163.4 280.8h0M151.6 312.2h0M148.4 276.9h0M224.2 316.0h0M157.8 300.3h0M75.9 296.9h0M165.6 304.5h0M129.2 304.3h0M156.1 271.6h0M161.9 287.2h0M173.7 280.7h0M88.0 300.8h0M170.7 292.0h0M166.3 287.7h0M171.0 275.4h0M181.6 269.3h0M165.0 274.2h0M83.6 308.2h0M152.4 306.1h0M109.1 286.6h0M145.9 319.5h0M175.7 283.8h0M141.8 293.0h0M161.4 316.6h0M189.8 274.0h0M225.4 318.7h0M164.9 295.7h0M154.3 290.6h0M119.6 311.9h0M165.1 305.2h0M149.1 296.6h0M115.1 270.6h0M158.3 310.0h0M166.9 298.7h0M107.1 275.7h0M184.5 269.8h0M104.2 298.8h0M217.4 355.9h0M168.9 274.8h0M77.5 292.7h0M85.2 300.8h0M145.4 271.5h0M127.4 276.0h0M147.3 273.7h0M119.6 305.8h0M154.7 299.4h0M218.2 343.3h0M117.9 313.1h0M99.9 271.4h0M153.4 321.6h0M138.7 304.6h0M147.6 309.7h0M147.8 308.5h0M121.0 311.4h0M169.5 291.3h0M149.8 281.5h0M91.3 295.5h0M147.8 300.9h0M160.1 284.5h0M150.0 290.4h0M221.1 333.1h0M172.9 301.6h0M143.9 308.0h0M157.6 291.7h0M78.5 293.6h0M151.2 306.2h0M156.5 278.6h0M221.2 357.9h0M133.5 292.8h0M135.4 293.1h0M213.6 355.5h0M217.9 344.9h0M152.6 288.8h0M91.7 298.7h0M113.3 291.7h0M166.7 307.8h0M122.4 280.2h0M162.3 288.4h0M161.6 280.2h0M74.6 295.6h0M120.8 313.9h0M139.4 295.2h0M145.7 294.9h0M163.4 309.0h0M148.1 281.9h0M177.6 269.8h0M154.7 273.9h0M156.3 276.0h0M135.8 280.3h0M177.4 272.1h0M156.3 306.1h0M130.6 272.0h0M168.9 273.9h0M221.2 336.5h0M116.5 281.1h0M179.2 266.8h0M162.3 270.0h0M87.1 288.8h0M132.7 271.7h0M105.5 281.0h0M149.8 305.4h0M69.9 293.5h0M158.2 295.3h0M170.9 278.9h0M145.3 316.3h0M227.7 303.1h0M144.3 302.4h0M82.8 291.8h0M97.3 291.2h0M93.9 292.8h0M103.9 276.5h0M78.3 292.0h0M92.6 276.1h0M135.1 290.4h0M141.6 297.8h0M122.3 298.4h0M162.0 289.7h0M78.1 289.5h0M119.6 305.8h0M148.5 297.1h0M150.1 313.7h0M170.1 300.1h0M76.7 297.8h0M110.0 310.7h0M127.3 293.4h0M147.1 317.5h0M143.2 278.4h0M157.5 275.3h0M137.2 310.0h0M131.7 261.1h0M170.7 269.0h0M89.7 303.3h0M167.4 283.0h0M135.5 318.4h0M114.7 264.0h0M142.7 277.4h0M81.1 309.8h0M158.8 268.0h0M160.6 298.3h0M156.2 303.4h0M144.9 307.6h0M156.9 264.4h0M102.5 257.8h0M220.6 355.0h0M110.4 298.2h0M134.6 295.2h0M167.8 266.7h0M125.1 310.6h0M225.1 330.2h0M165.9 301.0h0M162.5 281.9h0M152.3 304.0h0M85.7 307.3h0M73.7 297.4h0M109.8 263.0h0M109.2 281.0h0M158.4 289.9h0M132.6 281.6h0M184.0 269.2h0M117.4 307.7h0M67.9 303.4h0M163.9 306.3h0M226.4 295.0h0M151.4 274.7h0M174.3 270.2h0M148.6 289.5h0M113.2 257.8h0M110.1 283.3h0M189.3 270.7h0M150.1 289.4h0M103.0 272.6h0M111.1 276.0h0M81.3 294.0h0M136.3 283.5h0M139.9 298.4h0M188.7 263.9h0M146.6 297.9h0M220.3 343.6h0M122.1 291.1h0M153.6 317.2h0M213.8 358.4h0M134.7 306.0h0M177.5 269.2h0M150.0 304.7h0M144.6 268.2h0M143.0 266.5h0M155.4 305.1h0M137.2 289.9h0M74.9 287.6h0M224.1 301.5h0M89.1 297.7h0M72.1 306.3h0M154.3 271.9h0M121.2 264.1h0M64.9 296.9h0M166.6 292.8h0M136.1 297.1h0M157.4 279.1h0M114.9 307.5h0M143.5 306.3h0M153.0 314.7h0M186.1 265.2h0M123.3 315.6h0M159.1 306.7h0M118.6 282.6h0M188.8 263.8h0M143.7 300.0h0M225.0 310.5h0M160.5 275.6h0M166.8 302.6h0M157.3 282.9h0M147.1 269.8h0M173.7 267.4h0M127.7 313.1h0M143.0 282.8h0M168.2 271.0h0M125.2 263.4h0M159.8 295.7h0M163.9 275.7h0M221.5 307.2h0M52.6 297.5h0M212.7 360.0h0M111.2 280.0h0M151.3 276.7h0M109.0 258.1h0M158.1 272.1h0M150.3 272.6h0M178.3 280.4h0M111.2 301.5h0M183.1 279.8h0M104.5 258.5h0M90.3 292.9h0M127.6 272.9h0M170.6 304.9h0M104.0 262.5h0M118.9 278.9h0M125.3 313.7h0M142.0 279.4h0M153.5 272.8h0M141.8 278.7h0M147.5 299.7h0M225.2 305.9h0M176.8 274.5h0M167.2 291.8h0M181.5 284.9h0M125.9 282.0h0M138.7 263.0h0M114.9 269.7h0M159.7 268.2h0M88.5 297.6h0M167.0 286.4h0M220.5 346.7h0M150.5 319.2h0M132.4 273.0h0M86.6 300.8h0M157.0 312.1h0M132.2 278.1h0M155.1 317.4h0M123.3 296.9h0M139.9 309.6h0M147.3 296.9h0M142.8 321.3h0M108.9 264.6h0M105.5 276.1h0M226.9 297.2h0M135.3 268.2h0M140.8 268.0h0M94.6 284.1h0M114.8 263.1h0M121.4 263.7h0M123.4 285.2h0M149.5 280.7h0M117.0 304.4h0M216.3 357.0h0M150.0 310.1h0M185.5 265.6h0M227.4 295.0h0M167.7 282.9h0M86.6 301.6h0M160.2 312.3h0M114.2 293.1h0M133.3 290.2h0M69.9 296.8h0M118.9 270.1h0M167.1 297.6h0M171.1 270.6h0M147.5 308.8h0M134.9 283.4h0M176.5 284.2h0M106.0 289.6h0M135.8 296.5h0M224.2 287.6h0M149.0 297.1h0M145.0 277.1h0M130.4 301.6h0M98.0 285.6h0M155.3 292.8h0M81.4 297.3h0M168.6 273.9h0M140.2 308.7h0M133.2 280.9h0M133.4 317.1h0M111.6 289.0h0M112.7 288.9h0M108.8 297.8h0M134.4 293.5h0M154.3 284.3h0M177.3 287.2h0M171.6 289.0h0M79.3 297.4h0M152.2 282.3h0M82.4 309.7h0M157.1 297.2h0M224.8 313.3h0M70.9 289.3h0M69.4 297.9h0M184.7 269.5h0M123.9 280.6h0M187.8 265.4h0M153.4 277.2h0M74.8 303.9h0M107.9 308.9h0M128.7 268.8h0M181.8 277.2h0M121.5 304.8h0M155.6 314.4h0M82.1 297.8h0M184.6 273.5h0M113.1 313.3h0M119.1 279.7h0M185.4 264.9h0M95.0 300.7h0M75.4 297.3h0M221.7 321.3h0M139.9 276.2h0M99.6 300.7h0M96.9 296.6h0M145.7 298.3h0M144.2 308.7h0M163.9 289.5h0M114.5 295.5h0M150.1 309.8h0M95.4 292.5h0M128.1 276.0h0M152.3 307.8h0M134.2 287.1h0M149.8 289.2h0M136.9 272.4h0M163.4 298.2h0M227.3 312.9h0M134.3 307.0h0M168.6 282.4h0M90.9 286.6h0M177.2 285.1h0M150.4 320.0h0M159.5 287.5h0M110.3 259.7h0M80.7 293.0h0M117.3 280.7h0M188.9 264.0h0M157.8 274.2h0M173.3 274.8h0M145.3 269.5h0M210.8 357.3h0M118.2 289.3h0M168.0 276.9h0M154.8 299.2h0M112.5 271.8h0" stroke="#F8766D" stroke-width="1.45" stroke-linecap="round" fill="none"/>
<path d="M203.7 349.5h0M171.0 366.4h0M203.5 338.4h0M180.5 330.1h0M180.5 345.3h0M217.1 353.6h0M188.1 344.1h0M205.0 353.4h0M167.3 348.1h0M186.8 372.7h0M191.9 364.9h0M197.4 343.1h0M173.4 336.7h0M202.6 346.2h0M200.1 368.2h0M179.2 342.7h0M210.7 365.8h0M173.3 370.2h0M214.4 341.0h0M216.4 338.9h0M205.4 334.0h0M199.0 375.0h0M183.9 322.7h0M204.3 344.3h0M190.4 327.3h0M214.3 370.0h0M182.8 346.6h0M175.7 359.7h0M180.5 322.7h0M214.2 362.7h0M181.9 381.9h0M200.7 327.7h0M203.4 381.5h0M209.9 379.7h0M180.7 326.0h0M181.3 348.0h0M205.4 336.3h0M196.8 372.8h0M190.2 323.6h0M200.4 378.5h0M212.7 344.8h0M199.3 352.6h0M191.2 341.6h0M201.0 350.2h0M166.5 353.5h0M185.9 355.3h0M201.0 345.5h0M209.7 377.2h0M207.4 363.9h0M197.4 368.5h0M215.8 371.0h0M219.2 361.7h0M191.9 368.3h0M177.0 350.4h0M194.4 364.0h0M195.0 388.1h0M209.7 374.7h0M180.4 328.3h0M203.8 374.7h0M177.0 375.2h0M166.3 344.6h0M192.0 365.9h0M180.4 378.0h0M189.9 387.2h0M217.5 348.3h0M175.9 360.4h0M179.1 376.3h0M196.3 326.4h0M179.1 382.4h0M165.1 344.5h0M204.3 371.6h0M187.9 324.8h0M207.6 371.7h0M185.6 338.7h0M171.6 339.5h0M178.2 380.3h0M181.9 383.4h0M204.0 356.4h0M183.3 354.1h0M191.3 370.3h0M194.5 379.5h0M181.5 368.4h0M192.6 334.6h0M215.5 362.0h0M178.5 380.2h0M213.6 352.5h0M192.8 336.0h0M179.0 336.0h0M209.4 360.5h0M191.3 335.1h0M214.2 363.8h0M209.7 368.9h0M213.1 334.1h0M211.9 350.4h0M179.9 359.2h0M172.3 349.9h0M206.4 348.5h0M193.4 359.2h0M192.0 360.5h0M187.3 367.1h0M194.4 386.2h0M215.6 355.2h0M187.7 331.1h0M200.5 383.4h0M197.3 371.8h0M202.3 328.1h0M190.5 387.8h0M205.7 336.6h0M197.4 359.8h0M216.9 372.9h0M174.1 373.5h0M183.5 344.7h0M203.4 322.3h0M212.8 343.9h0M175.5 380.6h0M166.3 370.6h0M185.7 381.0h0M190.0 390.0h0M178.9 329.9h0M185.3 384.0h0M186.7 364.7h0M194.3 387.5h0M212.4 337.5h0M183.6 334.1h0M188.9 325.2h0M191.7 346.4h0M185.4 374.1h0M216.1 338.1h0M182.1 331.8h0M203.1 381.4h0M195.2 329.8h0M207.7 380.8h0M185.8 357.0h0M183.2 339.9h0M183.6 326.6h0M211.4 344.7h0M214.6 339.0h0M196.4 369.6h0M192.1 332.7h0M182.1 336.1h0M192.1 378.7h0M187.9 366.2h0M197.6 372.8h0M205.7 354.9h0M201.3 328.6h0M216.8 353.4h0M175.3 330.8h0M208.3 381.6h0M178.6 343.9h0M171.6 374.4h0M192.4 382.3h0M192.5 336.9h0M192.4 377.3h0M190.0 387.3h0M168.4 347.2h0M187.5 328.1h0M171.6 339.6h0M186.1 332.2h0M170.4 367.1h0M199.7 379.3h0M219.2 356.0h0M200.4 362.3h0M169.6 350.9h0M195.9 342.9h0M165.9 350.3h0M201.7 329.4h0M174.8 356.0h0M165.5 339.6h0M176.9 372.2h0M202.5 356.2h0M187.5 349.7h0M220.1 352.4h0M215.9 362.2h0M178.1 350.2h0M205.0 328.7h0M198.5 367.0h0M198.3 387.7h0M204.6 349.3h0M213.7 361.4h0M193.0 364.4h0M217.6 360.6h0M209.1 371.7h0M195.4 359.9h0M211.3 329.0h0M210.9 374.5h0M175.2 337.3h0M193.7 337.0h0M169.9 332.2h0M209.7 368.9h0M173.9 334.4h0M197.6 336.1h0M191.4 350.8h0M203.6 336.7h0M182.4 337.8h0M175.7 331.9h0M201.3 370.6h0M175.1 352.0h0M208.3 360.9h0M180.2 357.6h0M166.7 364.0h0M197.0 343.5h0M205.4 363.5h0M168.3 335.4h0M207.0 327.2h0M205.9 352.9h0M185.6 329.2h0M181.6 382.4h0M196.9 326.5h0M185.8 364.5h0M196.4 342.9h0M177.8 334.6h0M176.8 338.1h0M193.8 361.0h0M197.1 341.7h0M169.5 371.4h0M190.1 377.8h0M186.4 359.6h0M168.8 337.7h0M185.3 336.9h0M213.5 354.7h0M218.6 339.0h0M199.6 351.4h0M199.7 385.2h0M175.1 363.1h0M198.9 374.6h0M175.6 369.7h0M174.7 359.8h0M216.5 348.0h0M171.2 345.2h0M213.8 347.3h0M208.2 371.3h0M182.6 351.8h0M203.8 345.9h0M202.8 325.0h0M200.4 386.2h0M219.1 357.9h0M184.1 331.8h0M177.3 364.1h0M172.0 364.0h0M187.3 335.9h0M193.6 380.9h0M167.5 363.1h0M212.9 335.2h0M202.8 353.0h0M193.1 351.5h0M209.8 332.5h0M208.7 343.5h0M222.3 337.5h0M211.3 377.0h0M197.7 334.4h0M203.9 334.7h0M190.7 332.5h0M219.5 368.1h0M177.1 356.9h0M207.2 362.5h0M200.8 328.4h0M205.8 360.7h0M189.3 329.5h0M222.4 356.3h0M183.2 357.2h0M197.3 380.4h0M204.4 343.6h0M201.4 367.8h0M181.4 348.8h0M197.7 367.4h0M179.1 325.3h0M171.0 371.1h0M191.7 370.0h0M169.3 362.0h0M171.7 346.4h0M202.7 332.0h0M184.1 340.3h0M196.9 372.9h0M188.5 367.1h0M207.3 348.7h0M178.3 331.5h0M205.7 324.5h0M212.6 360.9h0M187.2 337.2h0M207.2 360.9h0M184.0 356.5h0M193.9 381.2h0M209.7 381.1h0M185.3 355.0h0M183.2 378.8h0M193.7 341.3h0M174.4 327.2h0M190.8 380.2h0M209.1 381.5h0M208.3 371.6h0M208.8 368.6h0M195.7 333.0h0M182.2 328.3h0M174.7 361.0h0M193.8 384.5h0M169.9 340.6h0M173.3 334.9h0M187.2 330.6h0M205.6 372.9h0M186.6 382.4h0M202.2 338.0h0M172.6 371.4h0M199.1 384.4h0M167.6 343.8h0M221.3 339.1h0M208.8 381.6h0M211.8 377.6h0M183.6 374.2h0M215.8 339.6h0M210.7 352.8h0M185.0 375.9h0M198.7 357.3h0M185.5 366.3h0M192.7 370.5h0M191.4 323.5h0M167.8 356.0h0M191.5 351.6h0M208.4 372.6h0M169.3 359.2h0M183.4 347.5h0M171.8 366.5h0M180.5 321.9h0M187.1 336.4h0M199.7 336.2h0M178.2 347.6h0M191.7 373.4h0M205.4 345.1h0M198.6 366.1h0M199.2 390.0h0M175.5 357.5h0M191.7 356.1h0M194.2 379.5h0M194.0 377.3h0M193.3 328.2h0M190.7 333.3h0M201.0 345.4h0M185.8 343.0h0M181.4 356.5h0M186.9 383.1h0M180.8 369.7h0M203.7 342.1h0M168.3 341.7h0M190.7 367.1h0M222.1 353.4h0M216.4 352.1h0M171.2 342.2h0M172.4 367.4h0M198.3 382.2h0M179.0 353.0h0M205.0 347.6h0M196.9 369.8h0M172.6 366.9h0M165.9 342.1h0M179.5 364.3h0M175.4 356.4h0M216.0 363.4h0M212.9 358.0h0M201.1 327.7h0M221.2 339.6h0M192.3 339.1h0M210.8 335.3h0M175.7 368.5h0M209.9 376.5h0M209.7 336.0h0M174.5 342.4h0M178.3 368.8h0M178.2 327.0h0M213.4 358.7h0M192.8 361.8h0M212.2 350.5h0M194.7 360.0h0M210.0 331.6h0M189.6 323.8h0M218.3 347.9h0M173.1 355.6h0M217.5 367.8h0M168.5 359.9h0M211.1 373.8h0M207.0 366.6h0M191.4 323.5h0M206.0 367.6h0M191.9 369.2h0M185.3 324.2h0M201.5 342.5h0M166.6 359.4h0M168.1 334.6h0M213.7 348.5h0M168.5 358.1h0M214.8 340.4h0M176.1 375.6h0M216.9 360.0h0M197.8 368.6h0M193.0 353.5h0M165.0 360.6h0M211.4 376.0h0M191.0 359.9h0M180.0 359.9h0M198.8 351.5h0M206.7 366.7h0M220.1 344.7h0M192.7 334.1h0M210.8 361.7h0M213.9 373.8h0M165.8 349.9h0M204.1 363.1h0M177.5 380.6h0M178.8 331.1h0M188.0 359.1h0M197.3 388.1h0M176.8 366.2h0M173.9 356.7h0M200.6 348.0h0M179.7 346.5h0M211.4 334.2h0M204.7 327.4h0M173.2 378.7h0M213.3 342.5h0M194.2 352.2h0M189.5 371.5h0M200.3 352.7h0M201.3 380.6h0M181.5 356.3h0M183.6 346.2h0M187.1 335.7h0M195.7 379.8h0M172.5 372.9h0M196.1 387.1h0M185.9 337.2h0M194.1 385.0h0M167.8 347.8h0M182.9 334.5h0M208.0 359.4h0M170.0 363.4h0M209.9 369.5h0M198.6 342.4h0M208.3 376.4h0M189.4 333.6h0M167.7 332.4h0M206.0 351.8h0M178.3 356.9h0M203.5 338.3h0M205.4 376.2h0M189.1 367.1h0M190.0 350.3h0M203.8 342.0h0M214.0 378.1h0M209.0 367.8h0M189.9 363.4h0M217.4 348.8h0M182.2 345.4h0M172.9 331.3h0M213.8 351.6h0M182.0 372.4h0M205.5 371.0h0M204.2 341.6h0M182.8 369.5h0M175.7 355.1h0M166.9 356.6h0M206.4 363.4h0M208.3 329.1h0M218.4 345.9h0M184.6 353.5h0M164.6 371.8h0M211.4 370.2h0M201.7 341.0h0M183.3 384.6h0M180.9 383.5h0M204.7 324.8h0M179.2 353.5h0M184.0 361.0h0M172.3 354.0h0M206.5 369.1h0M206.2 375.5h0M186.5 336.5h0M182.3 379.5h0M183.7 341.5h0M184.3 368.0h0M186.2 349.4h0M182.7 368.5h0M204.2 384.2h0M189.5 334.2h0M198.6 366.2h0M199.1 335.3h0M222.3 358.6h0M183.6 362.9h0M173.1 333.1h0M179.0 357.1h0M163.6 342.5h0M219.8 340.9h0M185.3 339.4h0M192.7 357.7h0M207.6 381.4h0M213.3 339.4h0M193.7 335.0h0M212.0 338.7h0M190.2 363.3h0M169.0 332.9h0M177.3 370.2h0M220.1 340.5h0M195.8 373.4h0M184.5 344.7h0M203.1 341.3h0M191.2 372.8h0M167.3 333.8h0M200.3 358.5h0M186.3 324.9h0M174.8 355.3h0M202.8 351.0h0M167.2 345.4h0M213.9 341.4h0M192.6 347.8h0M193.9 338.6h0M217.9 371.7h0M177.0 335.0h0M207.4 371.7h0M211.0 336.5h0M183.2 385.7h0M210.1 358.3h0M205.1 358.9h0M183.9 364.8h0M196.5 369.3h0M196.6 380.6h0M203.9 327.4h0M172.2 341.5h0M174.1 336.6h0M205.4 375.2h0M203.5 376.9h0M208.9 363.5h0M188.2 356.8h0M217.6 355.6h0M182.7 336.5h0M173.5 336.3h0M184.6 372.5h0M190.2 340.3h0M223.4 344.0h0M170.0 350.1h0M170.7 345.8h0M169.4 372.1h0M186.2 371.3h0M182.5 374.8h0M212.5 345.1h0M218.0 363.3h0M210.9 333.1h0M184.4 368.2h0M209.3 350.7h0M208.9 369.2h0M203.8 329.1h0M217.3 352.4h0M196.3 336.9h0M185.2 362.3h0M168.9 349.2h0M168.8 349.5h0M187.7 355.4h0M187.9 375.1h0M179.8 332.9h0M200.6 380.4h0M201.7 366.5h0M167.7 346.3h0M183.8 327.7h0M209.4 339.1h0M182.7 344.3h0M193.4 341.7h0M198.5 360.4h0M167.0 346.1h0M178.2 378.6h0M192.1 361.6h0M170.5 357.7h0M206.4 351.2h0M179.9 349.6h0M180.5 342.4h0M169.3 337.4h0M189.1 380.2h0M196.5 347.4h0M212.7 367.4h0M209.9 375.5h0M177.2 369.1h0M171.5 378.2h0M165.7 358.2h0M193.2 321.0h0M194.2 352.4h0M185.0 350.1h0M177.0 361.9h0M195.4 338.2h0M207.7 372.7h0M188.2 376.1h0M192.1 339.7h0M200.2 333.6h0M176.0 339.3h0M197.7 324.1h0M208.2 381.9h0M175.5 331.0h0M187.8 381.3h0M184.5 382.2h0M200.3 374.4h0M168.7 364.6h0M175.6 341.5h0M173.2 332.2h0M192.9 323.7h0M219.9 343.6h0M191.7 379.0h0M218.1 352.0h0M169.7 348.5h0M200.5 340.9h0M217.2 351.0h0M216.3 370.0h0M181.8 331.0h0M201.5 373.2h0M206.6 351.6h0M187.8 323.5h0M192.8 344.6h0M180.3 380.5h0M200.8 371.5h0M171.1 356.8h0M187.6 342.1h0M182.6 330.4h0M169.7 369.1h0M200.9 326.5h0M211.7 334.1h0M185.8 329.9h0M181.1 331.5h0M194.4 365.0h0M194.3 356.8h0M207.0 355.3h0M187.3 350.9h0M169.9 363.2h0M167.8 358.4h0M177.6 322.1h0M191.8 355.4h0M186.0 377.7h0M191.5 389.1h0M215.7 347.3h0M208.0 367.9h0M187.4 380.2h0M215.2 370.6h0M190.8 345.5h0M186.1 341.6h0M192.0 381.5h0M204.9 331.6h0M199.2 324.4h0M190.4 379.2h0M184.1 347.9h0M208.9 380.7h0M181.0 327.2h0M184.3 337.2h0M210.2 378.3h0M195.7 374.3h0M199.1 324.9h0M188.3 365.3h0M203.3 331.3h0M183.5 382.1h0M185.0 386.8h0M188.4 381.6h0M211.6 328.9h0M201.5 347.5h0M204.2 371.0h0M196.7 369.6h0M180.2 340.9h0M182.2 334.8h0M188.7 347.4h0M187.6 332.8h0M215.8 359.6h0M190.5 366.3h0M182.2 353.6h0M213.4 336.3h0M187.3 327.7h0M189.2 348.5h0M200.6 332.2h0M167.8 335.0h0M186.5 380.0h0M172.3 350.7h0M199.7 383.2h0M175.0 357.0h0M196.9 343.8h0M179.4 363.3h0M172.4 346.4h0M187.4 326.6h0M189.2 356.1h0M185.9 367.3h0M192.4 369.3h0M197.8 342.9h0M216.0 359.9h0M174.2 336.3h0M177.3 343.3h0M182.0 378.6h0M203.3 338.1h0M167.9 335.0h0M169.9 359.0h0M186.3 345.1h0M191.0 374.8h0M221.5 357.0h0M220.4 364.9h0M204.6 382.3h0M192.7 382.8h0M200.2 334.9h0M187.3 383.7h0M213.6 336.6h0M172.8 354.1h0M203.4 341.0h0M214.2 372.2h0M169.4 340.9h0M212.2 347.2h0M181.5 370.0h0M202.8 373.3h0M218.9 358.9h0M178.7 385.6h0M176.8 352.3h0M212.8 345.7h0M183.3 328.2h0M186.6 356.3h0M187.0 357.6h0M174.4 345.9h0M189.5 352.3h0M190.5 340.4h0M195.9 359.2h0M189.3 354.8h0M169.8 366.7h0M181.2 327.1h0M204.4 345.0h0M213.8 364.3h0M187.7 365.3h0M209.7 353.8h0M208.8 361.7h0M178.5 374.1h0M201.7 337.8h0M167.9 347.0h0M181.2 357.9h0M182.6 365.0h0M199.1 340.8h0M213.7 366.0h0M183.4 360.0h0M198.1 362.9h0M200.7 382.5h0M188.1 369.7h0M176.2 370.7h0M169.5 365.7h0M199.2 328.0h0M223.1 349.0h0M206.6 334.1h0M204.4 328.7h0M191.4 328.7h0M177.0 326.5h0M199.8 384.8h0M179.1 354.3h0M192.9 353.4h0M214.0 344.2h0M197.0 360.6h0M203.1 342.0h0M215.3 350.5h0M196.6 356.1h0M215.3 369.7h0M195.7 387.0h0M210.0 372.8h0M174.0 370.1h0M196.4 348.7h0M213.8 342.9h0M206.0 341.4h0M170.6 344.1h0M185.9 356.9h0M182.6 380.7h0M199.6 372.4h0M171.9 375.5h0M207.8 352.8h0M201.1 383.6h0M186.8 387.9h0M181.6 359.0h0M196.6 356.7h0M218.5 358.9h0M196.3 356.9h0M185.1 342.2h0M190.9 360.4h0M168.1 372.5h0M191.2 364.3h0M201.2 347.4h0M176.5 350.7h0M206.5 377.8h0M184.2 351.7h0M176.9 350.5h0M183.6 332.4h0M186.6 331.3h0M219.4 361.4h0M212.7 349.1h0M199.0 349.8h0M211.7 376.4h0M204.3 331.0h0M210.6 335.2h0M211.2 336.1h0M196.0 329.0h0M211.8 334.2h0M186.9 362.0h0M198.3 339.4h0M204.2 338.4h0M208.2 339.0h0M214.7 355.1h0M210.1 362.4h0M163.6 346.4h0M178.2 356.3h0M219.8 360.7h0M187.1 361.0h0M192.1 351.3h0M217.3 339.5h0M200.8 386.8h0M193.2 333.4h0M188.1 370.6h0M181.8 327.6h0M206.5 368.2h0M209.3 340.3h0M208.8 348.0h0M190.3 384.6h0M192.4 379.2h0M183.1 374.9h0M171.9 365.0h0M186.2 371.4h0M221.2 362.1h0M188.0 360.3h0M204.2 356.8h0M194.0 321.7h0M205.2 348.3h0M204.7 361.0h0M192.4 372.3h0M206.6 377.0h0M188.8 370.9h0M200.3 363.0h0M175.6 329.5h0M205.8 349.9h0M169.8 363.7h0M193.8 330.7h0M169.4 359.9h0M182.2 381.9h0M203.5 349.3h0M177.4 335.5h0M187.7 359.9h0M187.9 379.6h0M185.2 371.9h0M195.2 366.6h0M185.9 366.7h0M179.5 358.8h0M205.3 364.7h0M219.7 352.9h0M205.8 360.8h0M190.5 325.2h0M192.5 339.6h0M221.4 347.4h0M217.3 360.7h0M194.6 379.2h0M201.2 338.6h0M197.4 380.5h0M201.3 330.6h0M196.5 356.5h0M187.6 347.3h0M179.1 348.1h0M189.1 338.9h0M199.2 387.1h0M220.7 365.7h0M177.5 374.7h0M190.3 373.1h0M188.0 369.4h0M172.7 368.5h0M215.3 361.9h0M214.9 365.7h0M210.0 381.3h0M203.7 377.5h0M191.1 346.3h0M178.6 338.5h0M187.8 371.4h0M173.3 346.6h0M196.9 331.9h0M202.8 381.8h0M177.5 360.3h0M178.1 373.0h0M198.4 378.0h0M218.3 338.2h0M213.7 348.3h0M187.9 331.5h0M218.5 357.1h0M191.0 365.6h0M219.5 341.0h0M187.2 331.9h0M186.3 359.1h0M206.8 385.3h0M205.8 352.3h0M182.6 348.4h0M195.8 347.3h0M217.4 363.6h0M197.5 385.2h0M213.7 357.3h0M178.6 378.1h0M165.0 333.2h0M213.0 368.7h0M209.7 331.2h0M185.6 368.4h0M199.8 379.3h0M169.1 336.0h0M200.6 371.6h0M172.2 379.8h0M193.1 371.3h0M201.6 347.9h0M205.3 331.3h0M187.0 337.7h0M180.2 380.6h0M209.8 333.5h0M212.0 347.8h0M208.1 369.7h0M182.9 355.9h0M175.8 351.8h0M182.7 338.7h0M170.9 335.6h0M200.2 337.1h0M181.8 362.2h0M192.3 342.9h0M207.9 377.5h0M173.3 357.8h0M180.5 331.8h0M208.3 368.1h0M171.5 352.5h0M196.9 384.8h0M204.2 376.7h0M218.0 343.3h0M199.2 355.2h0M210.4 329.0h0M195.8 335.7h0M204.6 372.8h0M194.4 328.9h0M186.0 356.0h0M165.7 362.5h0M200.1 348.3h0M177.2 329.1h0M209.2 350.1h0M213.3 377.2h0M217.8 372.2h0M193.6 330.5h0M190.9 326.0h0M186.1 378.4h0M187.2 384.5h0M218.7 357.2h0M166.8 365.0h0M167.5 343.6h0M202.2 378.1h0M190.1 384.1h0M211.5 369.0h0M188.9 370.4h0M181.8 356.7h0M209.7 342.9h0M175.0 336.8h0M190.1 356.0h0M173.8 374.9h0M212.4 377.1h0" stroke="#C49A00" stroke-width="1.45" stroke-linecap="round" fill="none"/>
<path d="M195.2 312.6h0M191.9 312.3h0M200.6 276.8h0M207.3 309.3h0M203.7 283.3h0M215.3 270.2h0M195.9 305.7h0M210.3 295.3h0M190.5 273.8h0M207.7 294.4h0M189.7 267.1h0M211.1 273.5h0M193.0 270.3h0M194.1 319.2h0M222.1 282.3h0M173.3 309.2h0M212.1 306.7h0M212.7 318.2h0M195.7 306.4h0M217.7 284.8h0M216.5 312.7h0M211.9 295.7h0M217.5 319.4h0M180.9 303.0h0M221.2 312.2h0M189.5 280.7h0M198.1 325.9h0M195.4 280.9h0M184.6 298.6h0M188.5 299.6h0M222.7 290.5h0M198.0 302.7h0M199.4 279.9h0M227.6 321.1h0M191.0 290.1h0M173.8 312.6h0M169.8 307.0h0M199.8 313.0h0M207.5 328.3h0M171.7 303.7h0M197.8 274.9h0M182.0 277.6h0M201.0 276.8h0M174.9 296.6h0M199.2 286.7h0M223.3 290.0h0M220.3 277.0h0M208.1 279.8h0M172.4 306.6h0M195.0 276.7h0M206.0 303.0h0M204.7 320.2h0M225.5 286.8h0M172.9 315.8h0M210.1 288.6h0M185.5 280.4h0M179.3 295.3h0M189.1 304.3h0M185.5 296.1h0M191.1 274.6h0M201.0 268.8h0M195.5 325.7h0M199.6 275.3h0M201.7 269.3h0M226.0 317.1h0M209.1 304.0h0M212.9 297.1h0M174.4 318.4h0M211.3 321.9h0M209.4 314.0h0M198.5 324.6h0M191.3 301.6h0M167.3 303.6h0M224.4 318.2h0M189.0 300.3h0M194.4 292.7h0M227.0 295.6h0M222.5 308.5h0M186.4 277.0h0M205.4 298.2h0M199.6 291.7h0M190.8 285.2h0M177.9 323.9h0M189.4 311.1h0M182.8 280.7h0M209.5 303.7h0M204.2 276.7h0M215.9 281.3h0M184.4 280.9h0M202.9 296.5h0M190.6 273.7h0M203.4 281.0h0M188.4 286.7h0M210.0 271.1h0M199.1 297.1h0M199.3 270.7h0M175.1 300.1h0M228.1 312.0h0M216.9 277.1h0M229.1 298.8h0M220.6 302.1h0M189.2 285.5h0M207.7 326.9h0M190.1 309.1h0M178.6 280.5h0M174.4 287.8h0M208.7 267.6h0M201.5 290.2h0M209.6 293.9h0M208.7 324.5h0M192.6 300.7h0M218.7 319.7h0M191.1 286.9h0M191.3 300.2h0M177.2 318.5h0M201.0 309.8h0M210.1 282.0h0M225.5 310.2h0M185.0 300.5h0M213.4 270.0h0M209.2 272.8h0M187.9 280.1h0M193.0 297.6h0M204.7 326.6h0M205.5 274.0h0M213.4 319.8h0M188.7 288.2h0M209.0 304.5h0M196.2 325.7h0M215.7 301.8h0M205.3 299.8h0M226.5 319.8h0M189.6 302.6h0M202.1 317.8h0M215.2 275.4h0M207.7 289.1h0M172.0 299.9h0M177.1 302.1h0M214.8 311.6h0M222.4 303.0h0M189.0 276.3h0M216.3 303.8h0M198.9 288.3h0M196.3 270.7h0M183.1 271.3h0M211.9 285.8h0M210.5 295.1h0M224.0 318.1h0M175.5 296.5h0M184.8 322.2h0M207.9 313.4h0M203.9 309.7h0M183.6 269.5h0M193.1 308.9h0M191.8 323.6h0M206.4 317.5h0M224.6 317.3h0M172.0 320.2h0M196.2 309.9h0M217.2 297.4h0M184.2 295.3h0M193.8 274.5h0M190.4 277.8h0M198.8 320.4h0M194.9 280.0h0M200.3 273.5h0M216.8 303.6h0M186.7 271.4h0M201.2 322.8h0M208.7 314.9h0M204.0 319.1h0M208.7 280.2h0M220.0 308.2h0M176.4 312.5h0M185.0 318.8h0M203.3 313.9h0M199.5 312.1h0M206.8 278.5h0M185.8 291.1h0M219.8 294.7h0M213.0 273.9h0M204.8 272.3h0M170.5 303.1h0M212.4 289.0h0M205.6 301.3h0M171.4 308.9h0M182.1 289.3h0M218.9 303.7h0M211.4 276.1h0M225.4 313.3h0M190.8 317.8h0M187.3 320.1h0M214.5 296.6h0M209.8 287.8h0M198.2 303.4h0M186.4 324.4h0M222.7 306.7h0M198.0 292.2h0M183.2 291.3h0M211.3 293.2h0M189.1 302.6h0M194.1 267.0h0M214.6 278.4h0M177.2 288.4h0M178.3 299.5h0M203.1 300.8h0M188.2 286.8h0M195.8 280.4h0M228.6 317.9h0M216.6 277.9h0M206.4 301.1h0M196.9 282.7h0M195.9 298.9h0M224.4 315.6h0M203.0 282.4h0M227.0 292.2h0M225.4 319.3h0M173.7 293.4h0M204.5 315.8h0M213.3 310.1h0M217.0 319.3h0M186.3 298.7h0M199.7 284.2h0M220.0 279.3h0M200.6 281.5h0M199.1 283.5h0M212.8 313.0h0M183.4 289.0h0M202.1 282.2h0M210.0 300.7h0M192.5 281.7h0M201.8 322.3h0M190.8 299.7h0M194.7 312.2h0M223.4 323.0h0M220.2 317.9h0M182.4 294.7h0M210.9 312.4h0M173.0 305.2h0M223.3 307.1h0M223.6 308.5h0M212.5 282.6h0M179.3 300.6h0M192.8 312.1h0M220.6 318.6h0M181.0 285.2h0M223.3 303.3h0M221.4 326.8h0M193.6 266.7h0M194.2 265.1h0M226.5 300.1h0M190.4 303.3h0M192.6 310.0h0M181.5 323.6h0M188.0 289.4h0M217.6 305.1h0M192.2 284.6h0M228.3 286.6h0M197.6 296.5h0M181.2 301.8h0M194.8 315.2h0M225.8 305.9h0M222.4 319.1h0M223.8 311.3h0M204.8 280.5h0M182.3 280.7h0M226.3 313.1h0M205.1 300.4h0M192.4 272.5h0M224.1 307.6h0M209.8 295.4h0M176.3 306.0h0M206.4 324.6h0M206.7 289.1h0M223.6 311.4h0M186.6 317.2h0M178.6 286.2h0M216.7 275.6h0M200.6 301.3h0M203.7 284.6h0M224.6 306.9h0M181.8 285.6h0M224.7 301.8h0M188.6 325.3h0M179.4 309.8h0M198.6 317.7h0M197.4 316.3h0M187.1 295.5h0M221.6 320.6h0M205.6 274.2h0M187.1 267.6h0M198.2 317.5h0M192.1 314.3h0M175.1 318.1h0M216.8 284.3h0M204.1 323.6h0M177.7 295.4h0M219.9 311.8h0M213.0 272.4h0M215.2 292.1h0M194.4 326.9h0M194.9 295.9h0M225.9 282.9h0M187.8 269.4h0M207.1 308.0h0M222.9 326.1h0M189.1 322.0h0M199.1 324.0h0M189.4 288.3h0M199.2 262.9h0M194.8 316.3h0M207.4 285.4h0M221.1 310.6h0M218.4 278.0h0M207.9 306.4h0M210.5 282.0h0M193.1 269.7h0M211.2 268.9h0M185.2 284.0h0M185.6 293.6h0M177.1 306.3h0M220.1 278.7h0M226.1 299.6h0M215.2 292.4h0M184.2 274.1h0M177.0 318.8h0M219.6 276.6h0M210.5 309.0h0M211.5 293.4h0M205.5 308.0h0M199.5 295.7h0M197.8 317.9h0M207.1 328.2h0M184.5 291.9h0M190.6 299.7h0M221.3 322.6h0M179.4 309.8h0M211.0 283.8h0M219.2 293.2h0M181.6 304.8h0M185.7 269.1h0M220.3 289.1h0M214.8 301.6h0M224.1 312.9h0M211.3 279.6h0M201.5 300.9h0M213.6 322.7h0M225.6 296.5h0M193.2 309.4h0M223.5 294.4h0M191.5 282.4h0M200.2 273.9h0M198.0 311.8h0M228.6 306.2h0M188.4 308.8h0M196.7 319.5h0M193.6 282.2h0M212.2 319.3h0M182.8 285.4h0M192.2 300.1h0M191.4 282.5h0M178.0 295.7h0M189.7 300.3h0M170.1 303.4h0M193.3 308.8h0M212.8 316.8h0M210.2 325.5h0M190.6 323.5h0M193.6 305.4h0M227.5 317.6h0M200.0 317.3h0M218.9 322.1h0M209.8 302.3h0M175.9 299.5h0M195.0 272.6h0M206.9 303.7h0M196.8 290.2h0M225.8 320.6h0M178.9 289.2h0M188.0 289.9h0M179.5 315.1h0M203.3 314.4h0M202.4 318.2h0M210.1 317.0h0M179.6 291.8h0M204.4 329.6h0M192.8 306.9h0M216.7 302.5h0M194.5 271.8h0M195.8 302.8h0M189.0 317.8h0M222.8 299.5h0M190.8 302.2h0M196.3 273.7h0M180.1 312.9h0M180.2 314.1h0M215.5 294.4h0M203.8 279.3h0M180.2 288.9h0M212.6 287.6h0M188.6 322.6h0M181.2 326.6h0M219.4 298.6h0M206.6 298.3h0M194.5 276.4h0M182.3 309.5h0M192.2 276.3h0M171.9 308.9h0M218.8 310.6h0M170.3 310.3h0M206.7 323.9h0M177.8 310.1h0M180.0 313.6h0M227.6 305.7h0M196.8 318.2h0M223.1 308.8h0M194.2 282.9h0M224.4 297.0h0M188.2 293.2h0M201.2 290.5h0M202.9 327.5h0M190.1 308.7h0M182.5 290.3h0M219.5 300.4h0M205.5 317.6h0M202.5 290.4h0M201.2 300.5h0M201.5 328.6h0M209.6 265.1h0M209.2 298.6h0M194.9 288.5h0M193.3 289.9h0M205.7 296.7h0M194.5 292.8h0M172.4 307.9h0M174.9 304.0h0M210.9 323.5h0M191.0 308.7h0M181.9 317.9h0M174.2 311.7h0M207.5 316.2h0M193.1 267.0h0M210.4 311.4h0M193.2 321.0h0M202.9 296.4h0M187.1 289.5h0M214.9 318.6h0M189.2 283.4h0M200.1 315.4h0M222.0 313.5h0M174.1 294.6h0M193.7 293.5h0M189.8 322.4h0M221.6 303.0h0M226.0 309.3h0M173.9 297.9h0M224.0 293.0h0M200.8 317.7h0M201.3 280.0h0M173.2 315.8h0M186.2 303.3h0M223.4 291.8h0M204.1 320.8h0M208.4 310.3h0M193.0 312.9h0M180.6 279.4h0M212.3 286.5h0M186.7 291.5h0M203.9 295.0h0M217.6 316.3h0M180.3 321.1h0M187.6 275.7h0M203.9 299.4h0M199.8 275.2h0M222.6 315.9h0M212.3 320.3h0M216.5 314.8h0M187.3 285.4h0M196.3 287.6h0M191.8 320.3h0M188.2 282.8h0M184.6 320.2h0M186.0 312.0h0M194.1 321.1h0M215.6 296.2h0M209.9 315.6h0M198.3 294.3h0M198.4 281.3h0M189.7 291.0h0M212.7 316.8h0M222.4 295.0h0M204.1 290.0h0M188.8 301.7h0M217.2 299.0h0M195.8 322.6h0M207.7 304.8h0M172.2 313.1h0M214.0 296.2h0M201.5 267.6h0M196.7 304.1h0M193.3 320.8h0M196.9 270.6h0M176.3 291.0h0M219.8 309.9h0M201.0 287.0h0M184.8 296.7h0M181.0 324.3h0M183.7 280.8h0M203.4 290.3h0M206.6 278.8h0M225.8 297.6h0M207.4 265.3h0M180.6 300.0h0M220.4 308.6h0M188.2 271.1h0M224.9 311.8h0M212.1 292.0h0M220.2 322.7h0M222.5 320.9h0M230.1 298.3h0M197.4 319.9h0M216.6 274.9h0M197.9 323.5h0M190.8 277.6h0M183.1 294.3h0M221.6 298.1h0M209.7 300.5h0M174.1 319.6h0M225.8 299.1h0M200.4 264.2h0M194.3 311.1h0M175.4 301.4h0M188.8 290.0h0M221.8 281.9h0M219.8 328.6h0M201.0 281.0h0M205.1 318.1h0M215.7 314.5h0M185.9 294.8h0M207.5 300.4h0M188.7 302.8h0M189.5 278.7h0M181.6 295.6h0M191.6 311.2h0M184.5 271.0h0M190.0 279.1h0M207.5 283.5h0M213.9 272.8h0M194.5 282.2h0M183.2 291.7h0M200.6 274.6h0M204.4 268.7h0M210.3 292.1h0M218.9 324.4h0M189.7 265.5h0M194.5 306.9h0M207.5 281.9h0M191.9 306.2h0M178.4 296.5h0M191.6 308.2h0M216.5 300.9h0M175.5 323.8h0M179.0 306.4h0M206.3 283.9h0M213.4 325.2h0M172.4 318.8h0M177.6 315.3h0M188.2 274.8h0M222.3 292.5h0M218.0 309.8h0M175.5 287.7h0M207.9 319.9h0M177.3 290.2h0M194.3 311.4h0M221.6 314.1h0M196.7 281.3h0M198.1 311.3h0M199.0 312.7h0M227.8 316.5h0M221.3 303.6h0M199.6 291.7h0M175.4 308.5h0M204.3 311.8h0M172.0 303.0h0M174.4 321.5h0M213.6 285.0h0M211.0 289.8h0M200.2 289.8h0M185.9 277.9h0M225.0 309.9h0M214.2 315.6h0M228.2 306.4h0M206.6 277.0h0M199.5 265.6h0M193.3 308.6h0M184.7 289.0h0M223.5 286.4h0M198.1 265.0h0M217.4 321.8h0M175.2 317.6h0M225.9 308.3h0M188.3 290.1h0M211.2 272.6h0M196.0 275.6h0M194.9 291.8h0M198.9 276.6h0M209.3 304.3h0M194.6 273.5h0M187.7 289.6h0M199.3 285.7h0M210.6 305.5h0M224.7 320.7h0M214.3 307.9h0M173.5 299.9h0M185.9 285.9h0M193.8 282.2h0M189.3 320.8h0M215.1 288.3h0M222.5 322.9h0M185.0 309.1h0M201.9 290.2h0M196.5 266.5h0M191.9 313.7h0M208.9 324.4h0M179.7 321.8h0M215.6 306.5h0M207.2 295.0h0M204.0 288.5h0M187.9 310.2h0M175.9 300.6h0M189.7 297.4h0M208.4 269.9h0M210.7 278.7h0M225.6 301.9h0M208.8 272.6h0M181.7 322.3h0M191.7 284.9h0M216.5 298.6h0M196.4 312.1h0M207.2 285.3h0M216.5 281.1h0M186.6 277.4h0M194.5 313.7h0M193.6 305.2h0M223.9 295.4h0M219.9 275.5h0M227.4 316.9h0M180.4 303.5h0M208.8 321.7h0M188.1 282.6h0M201.1 275.0h0M205.8 279.2h0M199.0 309.3h0M204.1 273.2h0M217.7 282.4h0M202.5 265.2h0M220.5 323.3h0M222.1 318.2h0M198.4 296.8h0M184.4 280.4h0M170.7 309.4h0M209.4 277.8h0M208.4 289.5h0M212.1 326.3h0M187.4 327.0h0M192.3 273.2h0M202.3 316.7h0M210.7 292.1h0M183.8 315.1h0M172.4 295.7h0M221.7 295.9h0M187.7 285.6h0M180.0 323.1h0M203.8 279.6h0M189.4 306.7h0M187.2 290.9h0M214.1 298.1h0M178.9 286.3h0M192.5 300.0h0M212.4 299.7h0M204.2 299.4h0M214.9 279.9h0M215.5 284.4h0M225.7 306.8h0M198.5 312.1h0M216.1 295.1h0M193.6 323.1h0M226.3 289.8h0M188.3 301.6h0M210.8 301.0h0M208.0 272.0h0M180.7 317.5h0M189.3 272.8h0M217.9 313.6h0M181.0 303.1h0M185.9 288.7h0M179.1 299.9h0M194.1 295.8h0M202.7 314.0h0M196.4 270.1h0M176.5 308.4h0M186.2 281.6h0M207.5 298.5h0M214.9 315.5h0M186.3 281.9h0M218.5 318.1h0M204.4 317.5h0M196.2 293.2h0M207.7 292.7h0M182.8 321.8h0M217.0 318.4h0M228.1 317.0h0M211.8 322.5h0M206.0 307.5h0M221.6 316.9h0M205.8 295.4h0M186.0 277.4h0M190.8 289.6h0M209.8 275.9h0M200.9 274.3h0M192.3 281.2h0M190.4 284.0h0M181.7 318.5h0M186.1 298.1h0M186.6 267.8h0M209.0 279.9h0M203.7 267.4h0M225.3 295.6h0M223.7 282.1h0M224.4 316.0h0M224.7 313.5h0M204.2 294.0h0M220.1 304.3h0M180.9 283.0h0M203.6 269.3h0M188.4 283.5h0M184.4 296.1h0M197.3 296.3h0M211.4 296.0h0M193.4 299.9h0M193.6 294.4h0M202.3 285.3h0M181.4 281.5h0M193.0 323.0h0M205.0 306.7h0M213.7 282.7h0M224.5 299.7h0M190.0 320.0h0M218.7 312.1h0M203.2 319.0h0M179.1 284.0h0M196.2 308.8h0M192.2 281.6h0M201.9 328.0h0M185.3 289.0h0M224.6 306.6h0M204.7 312.7h0M196.1 323.9h0M209.3 321.2h0M197.4 266.3h0M209.5 322.9h0M192.6 285.7h0M203.7 300.3h0M220.7 299.5h0M201.3 270.4h0M180.8 283.0h0M207.1 283.6h0M207.7 291.8h0M177.1 297.1h0M182.8 294.0h0M227.8 292.5h0M219.2 310.3h0M208.7 301.9h0M203.1 296.7h0M170.4 303.0h0M172.5 312.7h0M225.1 293.4h0M207.2 270.6h0M181.7 316.0h0M196.6 269.3h0M221.9 317.5h0M207.0 295.3h0M197.8 312.4h0M218.3 277.2h0M204.0 267.2h0M196.0 287.7h0M217.3 311.4h0M188.4 309.6h0M179.5 292.3h0M190.7 301.3h0M184.9 317.8h0M223.0 286.0h0M191.9 321.2h0M173.6 313.6h0M226.2 295.4h0M189.8 291.8h0M192.3 308.4h0M170.8 299.7h0M220.6 322.5h0M217.6 296.5h0M195.1 300.3h0M194.6 285.5h0M211.6 291.4h0M179.5 300.0h0M192.8 305.8h0M203.4 276.0h0M222.4 291.0h0M192.2 273.7h0M219.2 276.8h0M197.8 314.3h0M206.5 280.4h0M215.6 323.3h0M183.6 300.5h0M212.0 287.7h0M181.9 280.9h0M222.2 322.5h0M210.2 306.5h0M176.0 317.9h0M186.8 317.0h0M185.3 314.9h0M207.8 280.6h0M200.9 284.2h0M211.3 289.4h0M207.7 279.2h0M216.2 266.6h0M223.8 293.1h0M189.4 321.3h0M186.5 313.4h0M198.7 317.6h0M177.5 295.3h0M227.2 303.7h0M193.3 266.2h0M186.2 313.6h0M225.8 295.2h0M228.4 309.8h0M224.8 294.0h0M192.6 315.5h0M194.0 322.6h0M207.3 269.3h0M221.3 307.0h0M200.7 291.4h0M209.0 319.1h0M185.1 272.5h0M207.3 315.7h0M181.6 288.7h0M184.0 320.9h0M187.8 326.0h0M180.5 296.7h0M228.4 293.8h0M190.6 316.5h0M209.6 292.8h0M228.4 300.8h0M199.5 292.5h0M192.4 264.9h0M184.7 299.3h0M183.6 323.1h0M192.4 304.2h0M213.8 280.1h0M187.1 314.6h0M198.4 305.0h0M178.2 302.3h0M229.2 295.7h0M193.6 271.4h0M171.0 304.5h0M215.5 299.5h0M205.2 306.1h0M185.6 322.9h0" stroke="#53B400" stroke-width="1.45" stroke-linecap="round" fill="none"/>
<path d="M127.7 320.2h0M86.5 344.2h0M109.5 348.4h0M152.7 354.8h0M72.9 324.5h0M121.9 362.0h0M110.1 343.2h0M81.2 332.2h0M169.3 338.9h0M100.3 360.6h0M168.8 335.9h0M104.8 331.2h0M86.9 350.5h0M146.6 366.8h0M95.2 333.2h0M109.0 331.4h0M108.5 330.8h0M90.4 327.6h0M114.3 336.6h0M136.1 329.0h0M78.6 333.3h0M143.6 348.3h0M142.7 356.0h0M99.5 323.8h0M158.5 361.5h0M125.7 336.9h0M106.0 337.2h0M69.3 336.4h0M118.5 329.8h0M162.6 361.5h0M113.1 333.1h0M164.1 347.4h0M158.9 337.9h0M160.0 325.5h0M78.8 327.8h0M156.0 364.5h0M111.4 346.6h0M107.7 335.9h0M100.1 319.5h0M77.1 331.5h0M85.8 346.1h0M126.8 331.4h0M115.8 351.1h0M99.2 335.4h0M125.0 343.8h0M91.1 331.3h0M134.7 347.6h0M157.8 343.1h0M116.9 330.2h0M145.6 337.3h0M132.7 358.0h0M152.2 356.8h0M156.2 340.9h0M123.5 341.4h0M138.2 339.4h0M134.7 356.1h0M123.6 337.9h0M162.6 320.8h0M109.0 351.8h0M118.5 326.5h0M116.3 359.8h0M141.2 335.8h0M137.8 341.3h0M126.6 356.7h0M162.1 337.5h0M131.2 344.8h0M126.9 346.6h0M91.5 346.9h0M142.3 364.5h0M155.6 363.5h0M103.5 342.6h0M85.5 341.6h0M149.5 345.7h0M132.2 337.9h0M127.9 349.0h0M121.5 336.0h0M167.5 337.7h0M82.3 326.5h0M122.8 339.7h0M158.6 341.5h0M153.5 326.1h0M110.5 337.5h0M147.4 358.7h0M155.1 322.5h0M152.6 323.0h0M136.7 327.3h0M125.9 328.3h0M123.6 326.8h0M75.8 335.0h0M116.5 348.9h0M143.9 356.8h0M146.5 325.4h0M129.5 338.4h0M101.8 357.1h0M166.9 347.1h0M148.4 328.3h0M163.9 345.6h0M172.2 333.6h0M111.2 354.3h0M131.9 326.8h0M107.1 339.1h0M154.7 368.4h0M133.8 356.7h0M154.7 323.1h0M125.4 328.4h0M126.0 360.8h0M115.7 323.4h0M147.2 334.7h0M120.7 364.4h0M134.4 339.5h0M135.7 324.1h0M145.5 333.0h0M82.9 351.2h0M134.5 358.7h0M93.4 336.7h0M133.9 325.4h0M123.9 356.5h0M134.0 362.7h0M158.9 338.2h0M146.6 341.3h0M94.3 342.4h0M146.2 356.4h0M140.8 339.8h0M149.7 324.6h0M127.8 321.4h0M155.3 358.6h0M158.8 369.8h0M72.1 333.0h0M137.2 333.4h0M142.0 369.6h0M109.5 329.1h0M167.0 357.5h0M151.8 347.0h0M88.4 339.9h0M113.0 343.8h0M124.2 343.6h0M125.0 357.8h0M154.0 316.4h0M143.8 351.2h0M134.1 364.6h0M93.4 328.0h0M173.8 335.4h0M143.2 336.0h0M133.6 350.9h0M155.1 358.7h0M146.7 327.4h0M97.9 337.6h0M173.5 336.5h0M130.6 325.4h0M153.3 344.2h0M120.1 359.3h0M102.9 335.1h0M106.9 321.9h0M138.7 351.1h0M109.3 333.7h0M163.6 343.7h0M147.4 340.0h0M154.9 333.6h0M147.0 333.0h0M149.1 326.4h0M129.3 322.0h0M159.6 342.1h0M154.0 356.3h0M169.2 335.1h0M87.0 332.6h0M131.9 368.2h0M162.0 340.3h0M112.8 352.7h0M76.3 326.1h0M116.5 341.8h0M90.0 349.1h0M157.2 360.0h0M115.5 338.3h0M104.4 352.7h0M155.0 347.8h0M109.9 333.8h0M131.3 353.8h0M139.5 363.1h0M164.2 329.5h0M111.4 349.3h0M100.1 338.4h0M165.2 350.1h0M99.5 346.2h0M152.2 355.3h0M156.6 336.5h0M128.6 347.5h0M107.0 335.6h0M155.9 330.1h0M112.1 337.7h0M114.0 359.4h0M149.0 333.1h0M169.5 339.0h0M153.5 361.3h0M98.7 355.7h0M111.7 324.5h0M129.7 359.1h0M132.5 360.6h0M140.8 351.1h0M158.4 356.7h0M129.5 352.2h0M163.9 323.6h0M168.9 340.2h0M93.8 345.7h0M135.5 322.3h0M110.6 344.4h0M162.5 361.1h0M105.4 348.4h0M135.7 319.8h0M131.6 350.4h0M120.4 333.5h0M111.6 343.3h0M111.5 353.7h0M154.2 366.0h0M153.0 348.4h0M88.2 344.1h0M146.0 328.6h0M157.0 341.1h0M140.0 321.5h0M158.7 346.1h0M129.6 337.5h0M124.1 333.9h0M119.3 339.5h0M125.5 354.1h0M145.7 322.7h0M140.2 330.3h0M99.1 333.0h0M81.6 337.2h0M87.2 341.2h0M133.1 369.7h0M85.8 349.5h0M165.9 332.0h0M97.1 333.9h0M99.2 347.8h0M160.0 360.9h0M150.1 336.3h0M147.3 323.9h0M114.2 353.4h0M148.9 370.5h0M128.4 362.8h0M99.2 339.7h0M105.9 350.1h0M143.5 370.0h0M144.0 321.3h0M85.8 337.5h0M138.0 327.5h0M78.2 327.8h0M152.9 324.2h0M112.0 353.2h0M150.6 323.3h0M155.5 359.6h0M113.9 330.1h0M113.8 350.0h0M144.7 324.5h0M78.5 324.4h0M87.6 336.9h0M145.8 357.8h0M136.6 367.2h0M102.9 324.7h0M101.6 356.2h0M107.1 335.8h0M121.5 333.9h0M110.2 334.3h0M171.1 345.6h0M130.6 363.1h0M141.1 324.4h0M122.0 358.8h0M164.4 359.5h0M134.2 331.5h0M99.3 331.2h0M82.6 332.1h0M126.5 331.6h0M111.4 346.2h0M110.1 353.0h0M114.1 341.6h0M134.7 361.8h0M132.5 319.3h0M73.6 337.7h0M125.7 329.7h0M125.7 322.3h0M95.0 336.5h0M155.5 363.4h0M140.0 326.2h0M160.4 352.4h0M120.3 327.8h0M112.8 334.3h0M126.0 366.6h0M124.2 340.8h0M169.1 336.3h0M166.4 322.0h0M143.0 350.9h0M118.0 345.4h0M124.1 348.7h0M137.0 327.3h0M92.0 335.2h0M107.4 333.5h0M106.6 354.5h0M82.3 338.2h0M148.5 331.9h0M151.4 331.9h0M125.0 347.6h0M168.3 339.3h0M113.4 339.7h0M119.0 338.8h0M144.5 363.4h0M119.7 333.6h0M115.7 329.2h0M88.2 322.7h0M134.2 351.9h0M111.9 355.4h0M123.0 345.4h0M108.7 354.5h0M76.6 333.0h0M134.1 354.8h0M103.8 349.1h0M123.3 337.3h0M162.5 335.2h0M105.7 354.7h0M159.9 364.1h0M152.2 347.4h0M161.1 354.4h0M153.2 350.1h0M166.3 329.9h0M147.9 363.0h0M108.5 333.8h0M161.9 317.1h0M127.7 358.1h0M145.7 350.9h0M103.9 344.9h0M117.1 337.2h0M143.7 327.2h0M168.7 336.2h0M155.6 353.9h0M118.6 357.9h0M118.0 332.8h0M83.9 330.6h0M151.6 341.3h0M108.5 363.7h0M152.2 322.2h0M144.8 358.9h0M127.4 334.9h0M143.4 365.5h0M142.0 357.9h0M154.3 349.4h0M152.7 333.7h0M133.8 350.4h0M91.2 327.6h0M148.8 366.2h0M167.8 346.3h0M144.2 358.0h0M161.7 339.9h0M110.7 335.2h0M103.9 330.7h0M109.9 342.9h0M167.7 354.1h0M162.0 347.3h0M148.5 343.9h0M87.9 336.1h0M106.2 341.6h0M163.6 324.8h0M134.0 331.9h0M129.1 334.1h0M154.3 341.6h0M96.0 328.3h0M103.3 356.1h0M157.7 352.5h0M129.8 325.2h0M125.7 331.1h0M136.1 324.6h0M97.3 337.1h0M76.5 330.9h0M103.9 324.7h0M110.0 334.3h0M102.9 335.1h0M162.2 334.1h0M171.9 333.1h0M103.4 353.7h0M150.1 359.3h0M151.0 364.8h0M117.2 358.0h0M159.9 344.1h0M158.0 334.0h0M92.8 347.1h0M110.6 338.6h0M111.8 355.7h0M80.1 329.6h0M119.1 365.9h0M157.1 323.2h0M151.8 347.6h0M100.8 345.3h0M108.3 357.4h0M135.4 354.0h0M135.8 319.3h0M170.2 333.5h0M172.2 331.2h0M140.6 342.0h0M156.6 335.0h0M135.0 356.4h0M157.9 320.0h0M75.9 333.8h0M156.3 332.6h0M103.7 325.7h0M95.7 346.3h0M164.1 350.4h0M146.4 335.3h0M159.9 351.9h0M119.9 359.2h0M112.2 332.0h0M161.7 327.4h0M143.4 322.6h0M87.2 334.7h0M153.9 319.8h0M137.8 342.3h0M144.7 352.7h0M123.7 335.8h0M105.4 343.8h0M165.2 338.6h0M111.6 339.5h0M151.5 346.3h0M168.9 342.8h0M111.7 335.1h0M146.2 354.9h0M139.2 368.9h0M146.5 355.7h0M126.0 327.8h0M110.2 353.4h0M118.2 341.6h0M102.2 347.3h0M154.8 345.6h0M123.6 350.6h0M117.1 358.6h0M150.5 348.9h0M102.8 358.2h0M149.9 367.0h0M103.4 334.4h0M150.9 333.2h0M158.2 343.1h0M90.3 324.6h0M100.4 354.7h0M155.2 347.6h0M100.7 347.6h0M142.7 334.4h0M89.8 325.7h0M152.8 366.1h0M161.1 320.4h0M100.4 354.0h0M115.7 336.3h0M147.6 361.0h0M160.8 359.2h0M103.5 330.4h0M163.8 350.6h0M144.7 351.7h0M108.1 321.5h0M137.0 336.7h0M120.6 347.9h0M96.7 351.0h0M157.3 317.5h0M110.8 336.7h0M135.3 322.2h0M73.8 329.7h0M112.0 339.5h0M87.9 342.7h0M142.1 325.6h0M142.9 345.7h0M164.8 355.3h0M97.5 331.7h0M113.6 360.2h0M165.5 326.2h0M96.4 350.8h0M145.0 345.2h0M109.1 331.2h0M164.0 361.1h0M142.5 330.7h0M140.7 337.4h0M158.8 340.9h0M163.1 354.2h0M147.3 348.4h0M109.3 350.6h0M161.6 322.4h0M109.3 329.7h0M158.3 361.2h0M167.6 337.0h0M140.6 347.8h0M156.1 316.2h0M135.9 366.9h0M77.7 329.1h0M142.6 327.8h0M111.0 341.9h0M170.3 339.6h0M107.6 357.7h0M161.6 358.9h0M111.0 339.2h0M97.1 324.6h0M146.1 336.0h0M105.0 362.6h0M124.6 356.3h0M152.8 336.8h0M146.5 321.0h0M150.4 330.4h0M132.3 339.2h0M146.1 316.9h0M155.8 336.9h0M124.8 354.3h0M163.4 360.2h0M153.5 331.6h0M112.3 355.3h0M97.7 333.1h0M118.1 331.4h0M112.3 339.7h0M97.2 347.9h0M99.0 351.4h0M123.0 345.2h0M148.6 367.4h0M93.4 334.6h0M109.7 346.1h0M137.3 342.6h0M154.3 351.3h0M139.3 323.8h0M138.6 357.3h0M142.1 345.2h0M164.3 338.1h0M96.9 334.8h0M122.3 331.4h0M120.1 343.7h0M88.2 331.8h0M123.8 344.7h0M155.8 339.2h0M156.1 357.2h0M125.8 365.8h0M104.5 348.2h0M83.9 346.0h0M133.7 338.1h0M140.1 350.5h0M159.7 321.3h0M155.2 322.6h0M131.4 347.7h0M160.7 339.4h0M156.5 341.5h0M140.5 360.9h0M137.8 326.8h0M106.8 351.2h0M154.4 327.7h0M99.4 335.7h0M126.3 355.6h0M100.0 347.3h0M152.9 368.6h0M129.9 352.9h0M155.4 336.8h0M158.3 347.7h0M134.7 331.9h0M159.0 356.6h0M129.8 356.8h0M90.1 332.0h0M134.5 344.6h0M111.0 349.9h0M102.7 343.6h0M156.1 331.3h0M140.0 334.8h0M156.4 346.6h0M122.8 362.7h0M138.3 335.5h0M142.2 348.2h0M143.1 339.8h0M153.4 370.4h0M135.2 345.1h0M126.5 348.4h0M128.5 348.3h0M153.3 347.4h0M134.7 331.1h0M146.7 367.5h0M114.1 356.1h0M90.3 329.8h0M151.5 354.9h0M123.6 364.9h0M164.1 337.2h0M120.3 345.9h0M131.1 321.3h0M158.6 360.8h0M100.2 338.8h0M120.5 351.6h0M118.3 338.6h0M137.0 322.5h0M105.5 350.9h0M144.6 361.4h0M134.7 341.5h0M123.4 343.2h0M155.7 332.4h0M103.9 362.2h0M86.6 327.7h0M85.8 329.8h0M136.7 338.6h0M119.1 324.4h0M129.1 325.8h0M138.2 332.1h0M137.9 325.1h0M140.1 334.9h0M167.0 359.0h0M156.1 341.3h0M157.9 338.4h0M106.1 352.1h0M149.7 331.8h0M124.7 353.3h0M161.8 349.9h0" stroke="#00C094" stroke-width="1.45" stroke-linecap="round" fill="none"/>
<path d="M95.7 264.0h0M46.8 277.3h0M59.2 256.3h0M61.1 279.8h0M62.1 260.5h0M53.2 261.5h0M98.3 249.8h0M131.1 361.5h0M71.3 248.2h0M96.1 252.1h0M78.0 265.2h0M79.6 260.9h0M83.6 252.9h0M57.5 263.9h0M87.2 253.6h0M47.8 282.0h0M70.8 265.6h0M77.4 270.8h0M91.0 261.2h0M103.5 258.8h0M72.7 256.4h0M86.4 265.6h0M94.9 260.4h0M50.0 294.4h0M68.2 242.8h0M97.9 257.7h0M46.5 286.4h0M62.0 270.0h0M49.8 281.7h0M42.5 287.6h0M89.3 250.3h0M86.0 265.6h0M55.0 250.8h0M58.1 260.7h0M55.6 246.0h0M116.2 363.3h0M79.0 246.3h0M64.8 249.5h0M60.6 252.5h0M50.2 285.4h0M82.7 250.3h0M88.6 257.1h0M62.6 278.6h0M86.5 253.9h0M87.2 245.8h0M62.6 265.8h0M65.3 262.0h0M91.2 262.0h0M66.2 274.2h0M78.3 252.5h0M96.7 261.0h0M84.1 252.0h0M84.6 244.7h0M56.0 273.8h0M87.9 275.4h0M52.7 276.8h0M57.3 268.3h0M56.5 260.0h0M98.5 249.0h0M89.7 273.4h0M82.2 270.2h0M62.3 247.4h0M57.5 267.8h0M59.4 251.1h0M77.3 256.1h0M59.4 246.6h0M60.3 247.0h0M72.5 250.0h0M53.9 282.9h0M94.8 254.2h0M54.0 243.5h0M66.8 247.0h0M86.6 251.8h0M43.0 290.5h0M79.0 255.2h0M100.0 259.0h0M49.1 277.5h0M88.3 246.1h0M91.8 270.7h0M62.0 244.0h0M76.4 273.0h0M74.7 268.1h0M72.5 279.4h0M69.9 249.6h0M46.4 282.1h0M81.3 252.9h0M49.2 249.8h0M82.6 246.5h0M63.7 250.3h0M67.8 248.6h0M60.5 268.0h0M70.0 253.9h0M62.3 272.3h0M63.6 268.3h0M88.8 247.6h0M47.9 254.1h0M71.0 266.0h0M57.5 247.6h0M94.0 248.2h0M65.2 260.4h0M67.1 262.7h0M52.4 274.9h0M111.6 359.1h0M111.1 362.1h0M62.2 254.8h0M83.0 259.8h0M59.3 253.3h0M75.3 244.8h0M73.0 245.5h0M97.8 256.8h0M72.8 266.3h0M57.5 241.3h0M66.4 256.2h0M50.6 288.4h0M52.3 283.1h0M79.2 252.0h0M51.6 256.1h0M74.2 242.0h0M92.6 252.5h0M91.2 248.6h0M119.0 360.8h0M66.2 248.2h0M67.3 252.1h0M94.7 251.8h0M56.1 244.3h0M94.1 256.3h0M62.0 277.4h0M42.3 289.1h0M69.4 278.9h0M83.2 261.7h0M53.0 250.8h0M73.0 261.0h0M71.6 251.2h0M118.6 362.3h0M100.9 254.4h0M67.0 252.6h0M51.5 270.9h0M72.3 247.0h0M64.5 263.8h0M116.3 362.9h0M82.0 248.1h0M71.3 265.6h0M50.8 286.0h0M99.6 254.1h0M81.2 260.8h0M69.7 256.9h0M68.4 266.4h0M71.9 280.2h0M64.0 276.7h0M88.4 268.0h0M90.4 254.4h0M92.6 259.0h0M69.6 247.4h0M71.6 247.0h0M61.4 257.9h0M53.4 264.2h0M49.5 290.5h0M63.3 253.9h0M61.8 254.7h0M88.9 245.0h0M67.0 251.9h0M96.7 254.8h0M91.5 261.3h0M67.9 254.6h0M52.2 280.9h0M101.2 263.0h0M99.7 256.7h0M77.8 273.0h0M53.6 280.6h0M96.8 255.3h0M86.4 248.3h0M83.1 269.8h0M52.5 271.0h0M66.2 272.6h0M53.2 247.3h0M53.4 275.5h0M59.0 244.9h0M93.7 264.4h0M78.5 251.3h0M69.4 277.6h0M89.7 265.0h0M52.1 242.7h0M45.9 275.1h0M84.9 277.0h0M78.2 264.9h0M64.2 267.7h0M125.6 368.7h0M60.3 276.6h0M73.4 243.9h0M66.5 248.6h0M77.9 268.2h0M72.0 267.6h0M50.7 257.5h0M69.8 242.0h0M89.5 246.7h0M92.2 274.8h0M71.2 263.1h0M73.1 245.3h0M50.3 276.4h0M86.8 245.3h0M55.5 271.0h0M85.3 252.1h0M59.1 278.0h0M86.1 259.0h0M74.0 265.3h0M52.3 265.9h0M82.9 268.2h0M46.6 288.1h0M52.1 270.5h0M65.7 253.0h0M47.8 260.7h0M61.5 257.1h0M61.1 266.0h0M73.0 265.6h0M52.8 270.0h0M57.1 253.3h0M80.7 268.9h0M83.0 273.9h0M129.6 363.0h0M76.3 241.2h0M75.4 267.4h0M103.6 257.3h0M67.3 275.4h0M99.3 260.9h0M61.7 247.0h0M90.5 248.9h0M63.4 251.3h0M87.7 246.6h0M88.5 247.6h0M46.1 284.0h0M57.0 246.9h0M85.6 256.5h0M63.8 271.9h0M49.1 256.6h0M89.3 249.5h0M100.0 257.0h0M76.7 259.6h0M74.0 246.1h0M56.8 270.5h0M102.1 261.1h0M94.0 251.4h0M58.4 249.7h0M49.5 272.5h0M86.5 259.4h0M53.7 252.7h0M57.9 244.7h0M45.8 277.2h0M97.2 257.7h0M67.9 266.0h0M87.1 244.7h0M86.9 254.4h0M103.1 252.6h0M92.8 265.8h0M86.3 269.8h0M82.3 252.2h0M54.6 246.3h0M50.8 276.2h0M84.1 253.9h0M51.5 260.1h0M92.8 253.8h0M79.3 257.7h0M83.0 245.4h0M95.2 248.0h0M50.2 280.1h0M65.6 266.1h0M47.9 280.3h0M94.9 248.9h0M84.2 257.0h0M81.0 245.5h0M77.7 271.5h0M55.7 256.2h0M86.8 246.9h0M91.8 251.2h0M49.1 252.8h0M58.3 276.2h0M73.3 244.1h0M50.5 278.3h0M79.1 270.5h0M52.8 272.7h0M61.0 276.5h0M92.4 255.1h0M84.0 263.7h0M78.4 275.4h0M66.2 247.0h0M61.2 252.3h0M73.3 278.3h0M52.7 252.7h0M48.2 283.5h0M55.5 247.0h0M79.9 257.1h0M62.1 269.3h0M50.5 251.6h0M55.8 245.1h0M92.0 250.2h0M52.5 249.0h0M73.0 250.4h0M67.4 240.8h0M97.7 252.8h0M75.0 238.0h0M88.4 266.1h0M55.7 243.2h0M79.4 263.1h0M70.6 248.2h0M92.6 265.6h0M78.6 262.8h0M65.9 267.7h0M56.3 247.3h0M58.0 271.0h0M61.7 246.3h0M100.5 258.7h0M51.7 263.9h0M83.3 250.9h0M62.6 241.7h0M115.9 362.7h0M58.6 268.0h0M48.2 277.4h0M84.7 246.2h0M61.4 269.0h0M61.8 275.2h0M73.6 259.3h0M69.2 260.4h0M68.7 256.4h0M49.1 269.9h0M68.5 244.1h0M96.6 259.5h0M99.7 259.4h0M66.8 259.3h0M53.5 273.9h0M68.5 270.5h0M57.7 250.9h0M73.2 258.3h0M118.9 363.2h0M61.3 263.1h0M85.4 260.5h0M45.1 276.0h0M58.6 265.4h0M71.3 276.3h0M56.4 262.3h0M48.1 283.2h0M67.0 249.0h0M84.4 266.3h0M66.7 242.4h0M51.0 280.1h0M120.5 361.3h0M74.8 266.1h0M64.1 248.6h0M69.9 248.4h0M92.1 252.4h0M74.2 242.4h0M94.4 262.9h0M74.6 282.4h0M93.5 253.7h0M71.3 261.2h0M63.2 250.7h0M50.8 260.8h0M70.7 270.3h0M90.8 274.7h0M71.5 268.4h0M56.8 252.7h0M95.6 256.1h0M76.3 264.9h0M86.0 253.4h0M65.9 278.0h0M72.3 272.1h0M57.4 259.4h0M102.9 262.8h0M60.7 260.8h0M90.5 248.3h0M69.7 245.1h0M54.2 247.6h0M101.3 252.9h0M71.6 264.2h0M87.5 249.0h0M100.2 251.9h0M94.1 256.9h0M64.0 259.9h0M69.7 261.5h0M85.4 272.9h0M51.4 262.9h0M73.9 262.8h0M88.1 265.7h0M90.2 252.7h0M49.5 269.7h0M75.5 241.2h0M84.3 249.0h0M60.9 254.2h0M51.3 282.5h0M70.3 278.7h0M101.5 251.4h0M73.3 263.8h0M69.4 262.8h0M75.9 245.7h0M69.8 252.9h0M50.3 251.0h0M61.0 254.9h0M43.9 284.8h0M56.3 260.3h0M41.4 288.6h0M98.9 252.5h0M54.8 259.4h0M63.0 256.4h0M71.1 242.6h0M45.5 283.7h0M56.6 254.4h0M70.1 273.1h0M82.3 255.6h0M85.6 261.8h0M80.2 244.5h0M87.7 264.3h0M99.0 263.3h0M85.3 252.6h0M79.1 242.0h0M61.2 280.0h0M73.8 261.0h0M81.6 262.8h0M51.9 244.5h0M85.5 265.2h0M62.5 257.0h0M74.8 267.4h0M95.1 252.8h0M68.0 259.0h0M75.5 245.7h0M89.1 266.1h0M74.4 266.6h0M73.7 273.8h0M80.0 244.8h0M53.4 246.2h0M114.8 363.0h0M57.4 242.7h0M93.6 251.5h0M100.5 256.6h0M52.6 260.8h0M79.0 243.2h0M83.6 265.1h0M72.8 254.1h0M79.8 261.8h0M83.2 246.6h0M116.0 360.6h0M65.1 271.3h0M55.0 280.5h0M72.9 272.1h0M76.8 265.4h0M88.5 271.4h0M90.7 267.7h0M79.3 245.6h0M80.3 252.0h0M59.1 271.4h0M85.9 269.4h0M52.9 270.3h0M62.1 280.3h0M81.9 244.5h0M113.9 360.6h0M93.7 253.8h0M70.2 275.8h0M74.2 257.5h0M61.1 265.3h0M83.0 256.8h0M80.8 246.7h0M94.9 252.2h0M68.8 250.8h0M102.2 260.1h0M81.9 267.2h0M89.5 254.9h0M54.2 251.9h0M83.4 280.0h0M71.6 276.2h0M81.2 243.5h0M50.2 251.9h0M90.1 258.9h0M83.7 265.0h0M59.8 250.0h0M66.5 271.1h0M87.4 248.9h0M50.3 252.8h0M73.0 246.6h0M63.6 268.8h0M88.3 258.7h0M50.0 280.2h0M84.6 274.2h0M72.8 267.6h0M53.3 262.3h0M88.7 246.3h0M92.7 255.7h0M87.7 244.8h0M66.3 249.8h0M60.6 251.2h0M130.3 364.4h0M100.7 262.4h0M63.7 245.4h0M62.8 265.7h0M57.8 245.7h0M45.4 276.1h0M97.8 262.7h0M88.0 249.4h0M96.3 255.9h0M88.4 275.4h0M68.9 278.8h0M121.4 364.9h0M83.6 260.8h0M125.9 364.2h0M69.0 268.5h0M86.9 257.4h0M70.6 267.8h0M78.3 260.1h0M81.9 251.4h0M97.9 259.3h0M69.4 269.5h0M89.0 268.9h0M47.0 285.3h0M68.0 246.6h0M62.9 241.6h0M79.6 245.7h0M70.6 254.4h0M81.4 267.1h0M63.6 261.4h0M55.5 248.5h0M71.0 267.3h0M73.6 274.1h0" stroke="#00B6EB" stroke-width="1.45" stroke-linecap="round" fill="none"/>
<path d="M98.1 327.5h0M50.1 290.5h0M104.7 314.0h0M92.4 316.4h0M79.4 301.3h0M97.0 325.9h0M98.8 311.3h0M45.8 285.8h0M101.7 325.6h0M82.2 304.7h0M97.0 329.1h0M89.9 310.9h0M103.9 319.4h0M104.9 320.5h0M69.4 295.8h0M87.1 314.4h0M58.4 297.1h0M104.7 325.6h0M60.9 301.3h0M90.3 320.3h0M65.1 289.3h0M87.8 304.0h0M89.0 320.6h0M58.7 313.7h0M103.5 313.5h0M70.3 311.1h0M57.5 297.3h0M59.2 301.4h0M80.6 324.9h0M103.5 316.4h0M79.9 314.5h0M96.0 312.4h0M88.9 308.9h0M85.1 310.2h0M49.2 293.7h0M63.8 316.2h0M99.4 313.5h0M55.8 297.3h0M99.6 309.2h0M81.0 318.6h0M80.7 320.2h0M96.5 319.2h0M98.5 308.1h0M60.1 299.9h0M55.9 300.9h0M86.9 313.6h0M102.5 318.7h0M44.3 283.2h0M61.7 298.7h0M78.3 318.0h0M91.6 311.7h0M108.8 326.7h0M83.8 318.1h0M83.3 303.5h0M98.2 312.0h0M64.4 297.4h0M87.3 314.2h0M84.5 306.4h0M98.9 309.8h0M101.2 329.5h0M100.5 321.3h0M99.8 305.2h0M100.9 319.2h0M95.6 319.7h0M100.4 306.6h0M81.5 304.5h0M90.4 302.3h0M98.8 317.8h0M101.4 323.7h0M72.3 292.6h0M65.3 310.4h0M100.5 317.1h0M88.3 324.1h0M79.1 303.4h0M49.3 299.6h0M88.3 309.3h0M57.8 314.9h0M59.5 311.7h0M58.7 290.0h0M82.6 301.5h0M91.8 305.1h0M89.6 319.0h0M66.9 313.9h0M101.4 313.7h0M64.3 323.2h0M77.1 326.2h0M102.8 317.4h0M91.7 309.6h0M107.0 323.7h0M47.0 290.3h0M105.8 327.2h0M88.5 305.4h0M79.6 306.4h0M101.7 319.0h0M58.6 294.6h0M96.5 324.4h0M93.2 307.7h0M89.7 304.5h0M100.0 307.3h0M96.2 314.7h0M95.3 307.4h0M42.7 289.0h0M93.7 308.9h0M66.8 320.4h0M71.2 314.0h0M97.8 319.4h0M71.9 316.8h0M103.1 323.0h0M81.7 304.0h0M44.9 286.3h0M62.4 290.9h0M90.3 317.6h0M90.8 326.6h0M99.6 304.1h0M41.4 294.4h0M83.1 316.3h0M65.3 299.1h0M100.4 332.0h0M92.0 301.9h0M104.3 326.6h0M95.2 307.7h0M63.8 321.4h0M73.7 304.3h0M69.8 305.7h0M47.6 301.7h0M74.2 326.2h0M76.5 320.8h0M56.6 299.6h0M87.8 321.1h0M101.8 309.3h0M71.2 319.0h0M88.6 302.4h0M103.3 311.4h0M90.4 316.8h0M80.6 307.6h0M106.4 324.8h0M80.0 314.5h0M46.2 283.4h0M95.8 326.3h0M64.0 308.8h0M99.8 332.3h0M107.6 323.0h0M89.3 325.1h0M96.6 307.2h0M96.1 311.9h0M47.7 294.0h0M54.4 301.9h0M70.6 295.5h0M93.5 312.5h0M93.5 320.5h0M65.6 315.5h0M93.1 315.1h0M42.7 290.4h0M86.3 321.6h0M62.7 295.3h0M81.9 306.4h0M104.5 312.6h0M109.1 325.9h0M67.1 300.9h0M97.7 320.6h0M73.9 300.8h0M70.4 307.9h0M57.0 305.0h0M102.3 313.8h0M104.7 328.5h0M99.8 323.0h0M61.3 311.5h0M99.2 310.4h0M91.4 324.2h0M69.3 296.9h0M95.7 327.4h0M79.3 311.1h0M76.1 321.7h0M66.6 301.7h0M89.3 314.9h0M93.1 328.5h0M86.5 318.5h0M89.4 315.7h0M96.7 318.7h0M89.5 325.3h0M96.6 329.4h0M92.9 307.9h0M74.9 310.8h0M98.4 318.8h0M78.2 314.7h0M54.5 306.7h0M63.5 294.2h0M50.3 291.8h0M65.0 300.1h0M86.7 318.8h0M90.5 323.9h0M67.5 294.6h0M83.4 324.1h0M87.5 316.0h0M93.5 327.6h0M63.1 293.5h0M100.2 322.2h0M83.0 303.2h0M61.0 299.3h0M72.0 294.3h0M99.9 310.7h0M95.9 321.4h0M90.3 320.5h0M83.1 312.8h0M70.8 314.0h0M73.2 312.6h0M103.6 321.4h0M97.0 330.8h0M93.5 304.2h0M101.4 304.3h0M69.8 320.4h0M62.7 293.6h0M61.8 293.6h0M78.1 302.6h0M101.5 315.7h0M85.8 319.5h0M86.7 314.7h0M60.4 306.8h0M90.1 304.3h0M65.6 295.8h0M65.2 313.8h0M75.8 297.3h0M87.0 302.6h0M103.4 323.9h0M66.3 306.7h0M73.7 319.9h0M90.5 303.5h0M107.3 325.6h0M84.9 302.0h0M98.8 316.7h0M99.9 313.6h0M65.8 299.8h0M100.7 317.1h0M96.5 326.7h0M101.6 323.0h0M57.0 309.1h0M100.9 318.8h0M57.9 314.0h0M85.1 316.6h0M79.5 315.5h0M101.7 315.6h0M63.8 300.2h0M69.4 302.2h0M97.6 305.5h0M84.0 309.3h0M50.4 301.3h0M78.2 305.9h0M61.6 302.7h0M96.0 326.6h0M99.3 310.3h0M62.4 322.8h0M81.9 322.3h0M90.8 312.7h0M62.8 287.5h0M98.9 305.5h0M106.5 324.7h0M93.4 312.1h0M51.0 305.1h0M84.1 311.8h0M91.0 323.9h0M51.8 291.3h0M88.3 323.5h0M66.9 301.6h0M103.4 325.8h0M82.7 320.5h0M72.2 300.2h0M96.7 310.1h0M97.7 304.8h0M108.2 316.9h0M93.5 303.3h0M98.6 329.1h0M83.9 327.5h0M84.3 303.9h0M101.5 314.6h0M101.3 317.8h0M60.9 301.3h0M61.3 313.7h0M101.1 314.5h0M89.9 300.9h0M65.3 294.7h0M55.0 298.7h0M91.9 311.7h0M44.3 288.8h0M45.6 290.8h0M108.7 328.3h0M50.0 296.9h0M88.9 324.2h0M78.5 319.2h0M87.8 318.6h0M89.3 298.8h0M60.8 316.1h0M103.4 317.2h0M68.2 315.2h0M92.3 314.9h0M91.1 302.1h0M98.1 326.5h0M50.7 295.1h0M53.3 294.4h0M53.0 304.2h0M103.1 309.5h0M97.5 330.5h0M87.2 301.7h0M57.5 297.5h0M59.8 299.5h0M72.2 295.4h0M91.6 303.3h0M59.7 291.1h0M98.0 312.6h0M99.9 318.0h0M44.3 283.5h0M40.7 291.2h0M102.7 319.8h0M105.1 312.8h0M76.6 317.0h0M104.1 313.1h0M106.1 315.4h0M66.1 311.3h0M89.6 306.0h0M97.0 328.7h0M92.2 321.3h0M110.8 321.6h0M61.6 297.8h0M96.2 318.3h0M66.1 322.3h0M90.7 299.8h0M99.0 322.9h0M52.9 301.7h0M94.5 305.4h0M50.2 297.6h0M96.4 323.8h0M62.0 313.0h0M64.7 321.6h0M88.0 305.4h0M97.0 313.5h0M45.5 284.2h0M77.5 301.4h0M68.3 320.2h0M100.5 303.3h0M98.3 331.7h0M67.8 319.1h0M100.6 319.6h0M60.5 303.1h0M97.8 309.2h0M86.4 319.6h0M97.9 326.0h0M102.6 313.8h0M105.2 305.7h0M63.6 294.1h0M68.3 323.1h0M104.0 316.4h0M108.3 324.6h0M72.0 313.0h0M75.9 317.4h0M80.9 305.0h0M107.0 309.8h0M73.2 318.1h0M70.3 310.7h0M102.4 313.0h0M87.6 315.6h0M51.8 298.9h0M60.2 293.6h0M70.5 312.6h0M100.1 319.2h0M78.4 302.0h0M45.5 282.0h0M51.6 304.3h0M93.0 317.6h0M92.4 318.4h0M101.4 311.6h0M50.9 293.9h0M84.0 303.5h0M77.9 308.1h0M70.5 295.7h0M106.1 321.1h0M98.4 308.1h0M88.6 323.0h0M93.0 307.3h0M102.2 314.0h0M99.3 309.1h0M100.7 311.7h0M47.6 283.8h0M108.7 323.3h0M105.9 327.0h0M88.5 307.3h0M101.2 317.2h0M87.6 301.6h0M101.3 327.9h0M93.7 305.4h0M83.0 312.4h0M97.6 324.3h0M70.1 296.4h0M96.1 329.3h0M101.2 326.6h0M59.4 291.2h0" stroke="#A58AFF" stroke-width="1.45" stroke-linecap="round" fill="none"/>
<path d="M63.1 376.3h0M80.9 353.2h0M94.9 369.0h0M92.7 361.1h0M93.0 375.3h0M76.5 369.4h0M90.2 376.7h0M88.4 367.2h0M77.7 350.1h0M97.5 367.3h0M88.7 378.1h0M67.8 360.2h0M91.4 366.9h0M84.1 374.4h0M69.3 356.2h0M90.1 369.5h0M85.4 356.5h0M87.5 360.2h0M80.0 346.2h0M79.1 359.5h0M72.9 359.4h0M71.7 370.9h0M78.9 387.1h0M63.4 365.1h0M91.9 360.3h0M76.4 365.4h0M64.8 342.2h0M82.5 351.8h0M99.4 366.5h0M85.4 368.2h0M65.7 376.7h0M71.7 373.1h0M86.9 352.3h0M88.7 351.3h0M92.2 374.0h0M66.5 372.5h0M86.4 353.7h0M93.4 362.7h0M83.7 370.5h0M72.1 350.7h0M75.8 391.8h0M87.2 352.5h0M89.8 361.8h0M73.5 351.9h0M69.8 338.6h0M71.8 356.5h0M68.1 378.5h0M66.5 378.3h0M91.4 374.7h0M88.5 368.9h0M76.9 380.9h0M71.5 364.5h0M74.7 360.8h0M76.8 390.0h0M86.8 374.0h0M73.5 338.0h0M74.8 383.3h0M80.5 350.7h0M82.9 362.7h0M73.9 358.9h0M63.5 371.9h0M77.7 372.3h0M78.4 347.5h0M75.2 363.9h0M73.1 343.3h0M88.5 378.7h0M95.8 363.2h0M99.3 359.8h0M88.0 378.7h0M84.4 345.3h0M64.8 360.1h0M78.6 353.0h0M74.8 360.9h0M88.2 349.6h0M62.9 362.5h0M85.9 377.4h0M77.9 360.6h0M86.5 357.0h0M63.4 357.9h0M86.2 366.2h0M71.2 362.8h0M76.8 375.4h0M80.5 348.8h0M79.8 343.7h0M81.5 345.8h0M84.8 388.5h0M72.3 374.2h0M77.0 370.6h0M96.8 369.8h0M72.3 390.4h0M85.8 359.2h0M89.9 357.8h0M76.5 339.2h0M75.5 351.2h0M72.8 366.2h0M81.9 361.4h0M89.8 351.9h0M88.1 372.6h0M79.0 391.3h0M74.0 356.8h0M78.5 338.3h0M101.0 371.2h0M64.9 372.1h0M97.3 368.5h0M63.3 374.8h0M82.3 358.8h0M81.8 365.7h0M81.8 358.1h0M80.9 380.6h0M80.4 351.7h0M68.5 349.8h0M73.4 354.8h0M86.3 376.1h0M83.1 376.9h0M70.9 375.4h0M80.5 379.4h0M76.9 377.3h0M87.2 373.7h0M84.7 370.8h0M96.6 373.1h0M71.0 355.7h0M86.1 378.4h0M69.8 353.3h0M76.6 350.9h0M80.1 342.3h0M80.4 356.5h0M57.0 358.9h0M81.5 378.2h0M75.1 371.2h0M72.0 359.3h0M98.0 364.9h0M90.6 357.2h0M85.3 382.6h0M90.6 358.0h0M96.3 368.5h0M85.8 357.0h0M87.0 359.9h0M97.8 358.9h0M89.0 364.7h0M74.5 365.0h0M81.1 376.0h0M61.5 369.7h0M78.9 358.8h0M73.8 344.4h0M75.7 355.1h0M85.3 362.6h0M76.7 386.3h0M99.0 362.8h0M71.8 351.8h0M98.1 359.6h0M72.4 379.9h0M96.4 364.8h0M93.3 364.2h0M76.7 393.9h0M69.3 354.5h0M69.1 387.2h0M79.9 387.7h0M69.2 364.4h0M67.1 360.3h0M87.8 367.5h0M94.2 368.6h0M67.2 363.2h0M76.1 361.6h0M58.1 369.7h0M69.4 384.7h0M87.3 382.0h0M95.3 369.0h0M96.2 373.0h0M83.8 354.6h0M78.4 390.1h0M88.0 355.6h0M91.5 353.8h0M77.1 338.9h0M69.9 363.7h0M88.1 365.6h0M67.0 367.5h0M77.9 393.6h0M73.6 359.5h0M74.8 387.0h0M64.1 359.9h0M73.2 370.1h0M86.5 353.0h0M73.6 341.9h0M61.7 361.9h0M100.6 366.8h0M80.7 371.3h0M65.7 369.2h0M69.5 362.1h0M86.4 357.4h0M91.2 364.6h0M64.9 365.1h0M81.7 357.3h0M69.2 355.1h0M74.3 349.2h0M64.3 347.7h0M93.4 377.2h0M95.2 357.1h0M73.9 381.7h0M96.6 372.2h0M81.7 376.0h0M65.5 361.8h0M74.9 347.2h0M79.1 388.2h0M69.8 367.3h0M78.3 340.6h0M69.9 339.3h0M73.8 348.6h0M92.2 364.4h0M75.7 347.4h0M90.5 369.4h0M87.2 380.8h0M69.0 352.1h0M75.4 371.2h0M63.2 366.1h0M84.5 343.7h0M84.2 374.1h0M72.3 362.0h0M91.4 366.0h0M81.0 359.1h0M71.3 383.7h0M89.4 353.6h0M74.2 388.7h0M94.9 362.9h0M73.1 349.3h0M60.0 368.3h0M87.0 348.6h0M92.1 378.4h0M71.2 379.2h0M69.3 344.1h0M63.5 366.6h0M59.5 363.6h0M80.2 351.9h0M90.7 368.7h0M68.5 346.6h0M72.3 340.0h0M93.0 358.6h0M78.6 346.4h0M65.1 362.6h0M89.5 374.4h0M68.1 367.5h0M67.2 359.6h0M86.4 356.4h0M94.3 376.1h0M83.4 361.0h0M64.3 370.8h0M71.9 382.9h0M79.1 348.1h0M67.9 362.0h0M72.2 376.0h0M78.8 361.5h0M76.0 372.5h0M76.5 359.2h0M77.8 339.8h0M98.2 362.3h0M95.2 356.9h0M92.0 357.4h0M65.6 363.2h0M93.0 373.3h0M63.5 353.8h0M80.7 352.8h0M81.8 357.8h0M66.1 352.4h0M68.0 357.8h0M76.0 339.5h0M72.9 358.8h0M81.1 387.6h0M67.2 374.3h0M75.1 356.5h0M98.3 364.8h0M78.1 361.0h0M77.7 382.0h0M57.3 362.2h0M83.9 367.6h0M90.3 358.0h0M74.7 348.1h0M73.4 338.0h0M87.2 378.9h0M80.1 370.7h0M61.0 374.6h0M67.1 354.5h0M72.0 361.4h0M75.5 364.3h0M84.2 367.7h0M96.1 375.6h0M75.3 373.6h0M68.5 348.2h0M81.4 362.5h0M81.0 368.2h0M75.5 342.3h0M94.7 379.2h0M74.6 390.1h0M77.5 383.3h0M72.4 341.9h0M87.8 351.1h0M60.0 372.3h0M73.4 346.5h0M67.9 346.9h0M89.8 373.6h0M71.5 356.1h0M80.4 387.8h0M61.9 358.9h0M60.8 359.2h0M71.9 352.0h0M64.0 359.1h0M64.0 366.4h0M94.8 359.4h0M78.0 378.6h0M97.2 369.8h0M72.3 342.7h0M63.6 376.7h0M73.0 373.5h0M69.1 346.1h0M64.7 373.2h0M97.1 360.6h0M75.9 355.0h0M78.0 353.9h0M75.9 370.3h0M84.3 342.0h0M71.5 338.5h0M96.9 357.5h0M92.9 362.0h0M70.9 387.4h0M64.6 363.9h0M84.0 384.9h0M88.6 375.5h0M60.1 359.3h0M76.0 362.4h0M73.4 341.2h0M82.8 373.0h0M79.1 373.1h0M68.1 367.8h0M64.2 357.3h0M62.2 356.1h0M78.5 387.5h0M65.5 356.3h0M83.9 356.9h0M77.8 377.6h0M80.7 380.2h0M56.5 366.0h0M66.6 371.4h0M91.4 362.3h0M75.9 336.9h0M68.3 366.6h0M67.3 365.0h0M60.2 368.0h0M77.4 375.2h0M83.1 380.3h0M74.7 387.1h0M66.1 373.2h0M69.1 345.1h0M75.1 353.8h0M91.9 374.2h0M79.8 370.4h0M90.4 357.6h0M72.9 342.9h0" stroke="#FB61D7" stroke-width="1.45" stroke-linecap="round" fill="none"/>
<path d="M32.3 232.5V403.9H240.0" stroke="#3a3a3a" stroke-width="1.1" fill="none"/>
<path d="M34.9 403.9v2.6" stroke="#3a3a3a" stroke-width="0.9"/>
<text x="36.8" y="413.2" font-size="9.8" text-anchor="middle" fill="#222">−6</text>
<path d="M89.7 403.9v2.6" stroke="#3a3a3a" stroke-width="0.9"/>
<text x="91.6" y="413.2" font-size="9.8" text-anchor="middle" fill="#222">−3</text>
<path d="M144.5 403.9v2.6" stroke="#3a3a3a" stroke-width="0.9"/>
<text x="144.5" y="413.2" font-size="9.8" text-anchor="middle" fill="#222">0</text>
<path d="M199.3 403.9v2.6" stroke="#3a3a3a" stroke-width="0.9"/>
<text x="199.3" y="413.2" font-size="9.8" text-anchor="middle" fill="#222">3</text>
<path d="M32.3 271.0h-2.6" stroke="#3a3a3a" stroke-width="0.9"/>
<text x="29.6" y="274.0" font-size="9.8" text-anchor="end" fill="#222">2.5</text>
<path d="M32.3 318.2h-2.6" stroke="#3a3a3a" stroke-width="0.9"/>
<text x="29.6" y="321.2" font-size="9.8" text-anchor="end" fill="#222">0.0</text>
<path d="M32.3 365.4h-2.6" stroke="#3a3a3a" stroke-width="0.9"/>
<text x="29.6" y="368.4" font-size="9.8" text-anchor="end" fill="#222">−2.5</text>
<text x="140.2" y="421.7" font-size="11.2" text-anchor="middle" fill="#111">UMAP 1</text>
<text transform="translate(12.6 314.3) rotate(-90)" font-size="11.2" text-anchor="middle" fill="#111">UMAP 2</text>
<circle cx="252.1" cy="293.2" r="2.2" fill="#F8766D"/>
<text x="260.8" y="296.5" font-size="10" fill="#111">0</text>
<circle cx="252.1" cy="302.3" r="2.2" fill="#C49A00"/>
<text x="260.8" y="305.6" font-size="10" fill="#111">1</text>
<circle cx="252.1" cy="311.4" r="2.2" fill="#53B400"/>
<text x="260.8" y="314.7" font-size="10" fill="#111">2</text>
<circle cx="252.1" cy="320.5" r="2.2" fill="#00C094"/>
<text x="260.8" y="323.8" font-size="10" fill="#111">3</text>
<circle cx="252.1" cy="329.6" r="2.2" fill="#00B6EB"/>
<text x="260.8" y="332.9" font-size="10" fill="#111">4</text>
<circle cx="252.1" cy="338.7" r="2.2" fill="#A58AFF"/>
<text x="260.8" y="342.0" font-size="10" fill="#111">5</text>
<circle cx="252.1" cy="347.8" r="2.2" fill="#FB61D7"/>
<text x="260.8" y="351.1" font-size="10" fill="#111">6</text>
<text x="64.4" y="268.0" font-size="14" text-anchor="middle" fill="#111">4</text>
<text x="89.4" y="309.6" font-size="14" text-anchor="middle" fill="#111">5</text>
<text x="149.0" y="289.6" font-size="14" text-anchor="middle" fill="#111">0</text>
<text x="207.6" y="295.6" font-size="14" text-anchor="middle" fill="#111">2</text>
<text x="82.4" y="370.0" font-size="14" text-anchor="middle" fill="#111">6</text>
<text x="137.6" y="355.0" font-size="14" text-anchor="middle" fill="#111">3</text>
<text x="183.0" y="371.0" font-size="14" text-anchor="middle" fill="#111">1</text>
<path d="M341.8 158.9h0M366.6 126.3h0M375.4 167.9h0M342.4 138.0h0M418.7 83.7h0M332.0 157.3h0M347.7 150.3h0M356.9 177.0h0M351.5 156.9h0M377.2 122.8h0M443.2 153.5h0M389.5 168.1h0M370.8 173.7h0M482.2 137.1h0M481.3 137.6h0M437.1 92.6h0M388.0 140.2h0M351.5 129.5h0M393.1 152.5h0M356.0 169.6h0M401.9 127.8h0M345.4 163.2h0M396.9 124.1h0M383.6 126.7h0M359.8 167.1h0M468.0 84.9h0M445.3 152.6h0M446.7 108.5h0M340.7 141.4h0M394.6 117.4h0M386.4 163.9h0M343.1 167.9h0M355.6 132.3h0M371.9 130.9h0M354.0 147.7h0M357.5 126.4h0M391.7 128.7h0M337.4 138.0h0M352.4 154.9h0M393.6 143.2h0M399.2 142.4h0M352.8 133.8h0M352.1 137.0h0M331.5 143.8h0M345.7 158.0h0M395.5 140.1h0M378.6 181.6h0M371.7 134.2h0M409.9 137.9h0M358.4 135.3h0M356.0 179.0h0M389.5 127.1h0M382.9 181.0h0M365.0 155.9h0M392.5 142.6h0M347.2 159.0h0M351.1 134.4h0M356.2 161.8h0M477.3 136.7h0M388.3 142.5h0M388.7 166.4h0M359.1 124.8h0M413.8 62.5h0M331.8 143.8h0M385.9 114.5h0M365.7 175.8h0M383.8 160.3h0M447.1 96.0h0M389.4 152.2h0M358.1 124.1h0M373.8 162.9h0M385.3 141.9h0M318.0 169.4h0M356.3 167.6h0M345.5 182.9h0M328.3 151.1h0M434.2 148.7h0M417.7 141.2h0M388.1 155.7h0M467.2 146.9h0M347.0 160.5h0M317.9 159.5h0M359.6 156.1h0M445.5 145.7h0M341.0 158.0h0M320.1 155.9h0M381.0 161.1h0M457.5 145.9h0M381.7 159.9h0M346.0 165.1h0M379.2 158.2h0M347.9 147.0h0M355.6 175.0h0M382.5 159.7h0M343.5 148.0h0M361.5 149.8h0M444.8 149.7h0M331.6 155.7h0M386.2 154.7h0M444.6 144.4h0M364.4 123.7h0M351.2 171.2h0M470.7 144.1h0M345.3 142.7h0M355.8 131.9h0M320.0 156.7h0M346.1 149.9h0M358.4 127.4h0M435.5 139.7h0M349.3 157.9h0M327.6 174.7h0M326.5 159.7h0M355.6 175.6h0M334.1 178.8h0M349.0 142.6h0M479.7 136.8h0M380.5 151.1h0M394.7 114.8h0M482.9 131.4h0M387.2 157.0h0M351.8 177.5h0M347.6 151.1h0M386.4 117.9h0M391.2 111.0h0M368.7 173.8h0M360.6 133.6h0M363.3 143.1h0M351.8 129.9h0M384.2 159.0h0M353.6 171.0h0M394.0 110.3h0M414.0 138.9h0M431.8 139.0h0M449.0 153.9h0M367.5 141.9h0M394.1 141.3h0M378.6 157.1h0M364.3 139.6h0M380.7 142.2h0M392.3 168.9h0M367.8 178.4h0M381.3 116.6h0M330.7 186.2h0M433.1 127.2h0M351.9 145.8h0M455.6 97.8h0M385.1 167.0h0M453.7 152.8h0M479.0 108.2h0M369.2 148.0h0M341.9 149.9h0M393.8 120.1h0M357.9 178.3h0M358.3 154.5h0M320.0 169.2h0M329.1 173.3h0M394.6 120.0h0M371.2 137.7h0M424.8 138.7h0M315.1 163.4h0M391.9 130.3h0M377.5 123.7h0M412.8 150.1h0M458.5 154.0h0M371.9 122.3h0M413.8 53.7h0M388.6 160.2h0M372.2 160.8h0M396.3 107.8h0M387.7 152.0h0M386.8 118.0h0M339.1 141.1h0M333.3 158.8h0M377.0 135.2h0M343.8 175.1h0M425.1 84.5h0M379.5 133.0h0M361.7 173.7h0M443.3 140.3h0M392.9 137.8h0M339.6 138.5h0M471.3 143.3h0M393.5 119.1h0M388.1 135.6h0M381.1 155.7h0M430.8 136.4h0M351.0 133.1h0M398.0 144.3h0M395.9 135.8h0M323.0 151.7h0M365.1 150.5h0M385.0 161.3h0M356.2 126.2h0M390.6 166.2h0M315.7 167.3h0M347.6 151.1h0M359.1 179.3h0M369.6 180.9h0M384.6 142.0h0M447.8 145.0h0M400.7 107.1h0M378.6 162.4h0M381.3 164.7h0M483.7 107.9h0M362.8 170.4h0M356.9 137.3h0M363.0 131.8h0M481.7 137.4h0M439.7 142.8h0M356.9 152.2h0M377.0 142.4h0M373.8 145.0h0M345.7 145.5h0M396.1 139.4h0M434.5 145.4h0M419.9 133.6h0M379.7 174.2h0M383.7 167.7h0M447.2 153.8h0M333.4 177.2h0M457.2 147.4h0M353.5 143.1h0M423.7 81.4h0M389.4 153.6h0M324.0 180.8h0M358.5 168.9h0M371.5 145.8h0M389.9 145.6h0M378.4 177.4h0M419.6 107.1h0M393.2 111.6h0M404.7 140.5h0M483.1 131.9h0M389.8 139.9h0M437.2 143.0h0M334.4 155.6h0M445.9 138.9h0M448.0 138.6h0M342.7 140.2h0M365.3 126.6h0M378.2 150.9h0M316.4 162.3h0M357.3 181.1h0M417.2 151.0h0M378.3 167.2h0M333.9 170.5h0M334.4 139.7h0M355.3 168.8h0M376.6 131.4h0M352.1 144.6h0M366.6 139.6h0M437.5 140.0h0M374.4 127.5h0M364.5 134.0h0M451.5 153.9h0M482.1 140.3h0M385.6 155.3h0M363.0 128.6h0M360.7 155.1h0M351.7 156.6h0M391.1 153.6h0M446.3 147.0h0M414.2 60.7h0M397.9 132.4h0M380.4 175.8h0M383.6 152.8h0M398.7 112.8h0M395.3 125.0h0M348.9 149.3h0M359.9 168.9h0M373.6 174.7h0M386.2 135.4h0M470.9 142.5h0M390.9 153.7h0M359.5 165.4h0M421.3 96.6h0M380.6 178.0h0M415.6 141.5h0M363.6 152.0h0M347.9 156.7h0M378.4 137.6h0M391.7 158.6h0M326.0 163.7h0M354.8 159.0h0M445.8 147.2h0M367.7 176.5h0M386.1 144.8h0M351.8 159.3h0M367.2 139.1h0M343.9 138.5h0M354.4 140.4h0M417.3 142.6h0M390.7 117.3h0M349.4 148.2h0M385.8 116.6h0M393.0 113.2h0M379.7 179.7h0M382.9 141.9h0M393.8 125.1h0M344.4 145.7h0M420.5 145.3h0M342.9 135.9h0M373.7 166.5h0M419.4 152.0h0M355.8 156.8h0M380.4 137.7h0M421.6 134.1h0M378.1 167.3h0M486.9 135.5h0M353.5 140.8h0M350.8 136.0h0M400.0 137.0h0M484.1 136.8h0M367.6 186.1h0M384.4 117.7h0M470.1 81.9h0M436.3 95.0h0M372.7 146.1h0M359.4 128.6h0M395.5 164.0h0M423.8 82.6h0M355.2 154.9h0M391.0 132.0h0M372.3 136.2h0M429.7 149.3h0M314.9 157.7h0M342.6 188.5h0M448.1 149.9h0M362.5 183.1h0M371.7 135.1h0M482.5 132.7h0M334.7 164.3h0M351.4 153.6h0M423.1 150.2h0M345.5 170.5h0M371.5 159.2h0M439.9 114.3h0M431.3 139.4h0M436.7 93.0h0M368.7 139.1h0M375.2 166.9h0M377.4 159.4h0M377.8 175.4h0M362.6 149.4h0M348.2 147.5h0M339.0 167.9h0M389.4 163.9h0M351.3 165.1h0M399.6 121.5h0M335.7 159.7h0M359.6 134.0h0M418.1 136.0h0M391.1 133.7h0M324.3 164.0h0M433.9 93.7h0M437.2 91.1h0M343.1 176.4h0M354.4 153.6h0M355.7 148.2h0M415.9 136.7h0M369.8 157.5h0M360.1 169.7h0M369.3 166.8h0M348.4 139.0h0M383.4 143.9h0M415.8 55.6h0M384.5 172.7h0M440.0 144.5h0M376.1 121.1h0M355.2 174.8h0M451.7 138.6h0M378.8 170.2h0M346.6 131.9h0M356.1 152.5h0M322.5 148.4h0M366.2 158.2h0M483.9 137.6h0M444.7 140.9h0M344.1 156.7h0M359.4 131.0h0M354.2 189.8h0M333.4 182.6h0M451.0 152.5h0M438.3 88.9h0M389.3 119.9h0M345.2 161.1h0M450.0 144.4h0M369.9 123.0h0M383.3 169.6h0M458.6 144.9h0M316.2 161.2h0M391.4 125.9h0M381.9 171.9h0M389.0 114.8h0M369.9 159.8h0M353.7 158.2h0M371.9 176.7h0M482.6 136.9h0M379.3 169.3h0M363.3 131.8h0M372.5 170.6h0M356.4 166.3h0M377.2 120.1h0M381.1 156.2h0M344.2 154.3h0M322.0 157.1h0M363.3 153.2h0M333.0 158.2h0M341.8 154.0h0M385.2 161.5h0M384.6 144.4h0M340.6 145.8h0M389.3 171.9h0M374.8 168.5h0M348.7 131.7h0M397.7 141.2h0M433.8 151.3h0M396.8 108.7h0M346.3 190.2h0M331.4 163.3h0M343.0 168.1h0M441.4 79.0h0M353.4 135.5h0M336.9 145.0h0M411.5 149.6h0M418.2 135.9h0M385.4 145.6h0M329.2 184.0h0M342.1 163.2h0M370.8 129.3h0M338.9 170.3h0M343.0 150.4h0M372.0 121.7h0M469.4 146.3h0M378.2 159.5h0M378.7 121.1h0M388.6 134.5h0M421.8 96.3h0M384.4 148.4h0M349.4 159.2h0M362.6 127.2h0M330.1 143.4h0M331.6 153.4h0M373.5 135.5h0M393.9 164.4h0M360.9 154.9h0M388.0 149.3h0M368.4 177.0h0M342.8 183.0h0M409.6 134.1h0M370.9 117.9h0M411.8 142.1h0M364.5 176.8h0M399.6 142.3h0M395.6 125.4h0M353.4 157.6h0M414.2 152.5h0M338.9 139.7h0M383.7 128.3h0M368.0 158.1h0M381.3 135.6h0M343.0 139.8h0M372.6 120.1h0M340.7 157.3h0M386.1 117.2h0M355.6 129.2h0M325.3 169.5h0M457.0 145.3h0M387.2 115.6h0M465.0 144.6h0M352.3 128.7h0M384.4 163.2h0M370.7 169.5h0M356.4 167.3h0M358.5 158.7h0M478.8 142.5h0M371.1 163.0h0M330.8 171.2h0M315.6 155.7h0M457.5 146.8h0M437.6 90.6h0M365.0 127.7h0M371.7 119.6h0M336.9 142.9h0M374.9 131.6h0M368.8 121.3h0M479.9 137.6h0M354.4 165.3h0M448.2 150.6h0M392.7 151.0h0M400.5 131.6h0M368.7 156.3h0M348.6 146.9h0M340.5 163.0h0M386.6 173.1h0M384.4 170.7h0M375.6 148.9h0M383.7 159.5h0M381.7 136.6h0M436.3 57.6h0M355.7 148.4h0M368.6 158.0h0M378.1 183.5h0M355.9 134.0h0M348.1 149.3h0M341.6 161.2h0M386.1 116.5h0M382.9 143.1h0M379.8 169.3h0M442.5 152.7h0M481.6 135.5h0M416.3 146.2h0M377.8 125.2h0M370.7 132.5h0M380.0 137.7h0M482.2 133.4h0M384.1 124.4h0M381.3 130.0h0M462.1 147.6h0M466.1 146.1h0M393.0 116.7h0M385.3 147.5h0M430.6 147.1h0M389.2 135.9h0M380.9 143.2h0M389.0 159.7h0M339.2 147.6h0M361.1 129.0h0M393.7 139.3h0M425.2 151.1h0M386.5 176.5h0M357.9 149.5h0M376.4 135.5h0M409.7 150.6h0M435.7 143.9h0M358.7 173.2h0M369.1 136.6h0M326.7 169.0h0M422.3 135.5h0M384.5 176.3h0M387.0 148.3h0M464.9 145.2h0M358.4 169.0h0M367.0 135.7h0M388.6 124.8h0M439.5 104.0h0M367.2 169.6h0M390.7 114.9h0M394.1 138.0h0M456.8 115.0h0M352.4 189.4h0M379.0 165.8h0M441.9 138.7h0M365.0 172.8h0M428.8 132.4h0M354.2 161.0h0M408.4 147.0h0M347.4 148.7h0M357.5 158.5h0M396.5 159.1h0M378.4 161.2h0M431.4 136.7h0M427.4 152.5h0M339.2 141.0h0M437.3 90.1h0M328.7 143.7h0M377.5 153.8h0M380.8 167.8h0M364.9 141.3h0M368.2 155.9h0M370.6 185.0h0M352.4 179.2h0M347.5 149.2h0M422.9 138.7h0M389.6 116.0h0M353.7 151.6h0M357.7 143.5h0M320.9 175.1h0M375.8 143.2h0M420.3 92.6h0M355.9 133.6h0M380.3 157.5h0M354.0 141.9h0M340.8 151.6h0M380.1 132.7h0M423.3 125.9h0M389.3 153.5h0M421.1 147.3h0M367.3 125.4h0M356.5 161.1h0M367.2 171.7h0M481.4 135.4h0M422.4 134.3h0M317.5 163.6h0M353.4 171.0h0M457.2 146.0h0M375.5 171.3h0M357.9 147.8h0M439.5 151.0h0M370.1 151.0h0M333.2 150.9h0M333.6 167.4h0M350.7 154.7h0M391.1 157.9h0M333.8 143.5h0M361.9 141.7h0M373.5 155.3h0M383.0 147.2h0M366.3 128.4h0M433.8 146.5h0M386.7 173.1h0M411.5 143.8h0M397.4 157.4h0M320.8 179.4h0M334.7 168.6h0M456.8 106.6h0M399.9 143.0h0M349.6 138.9h0M372.4 122.9h0M422.8 130.5h0M395.5 134.3h0M368.9 164.6h0M382.5 140.7h0M448.1 150.3h0M320.7 175.9h0M371.1 165.9h0M418.0 154.4h0M359.4 158.8h0M369.7 155.0h0M388.5 162.8h0M337.8 172.1h0M378.5 138.6h0M378.0 132.8h0M419.6 93.1h0M328.4 143.6h0M377.0 121.6h0M376.1 162.4h0M397.5 137.3h0M349.5 139.5h0M378.0 154.2h0M330.5 152.8h0M358.6 168.0h0M381.3 118.0h0M372.7 174.2h0M340.3 142.9h0M411.5 101.1h0M385.8 115.0h0M435.0 151.4h0M372.9 146.2h0M390.4 169.0h0M342.1 150.5h0M367.1 137.8h0M335.9 180.5h0M352.9 154.2h0M326.8 166.7h0M380.1 162.5h0M427.7 133.7h0M394.5 127.9h0M412.2 143.6h0M424.6 65.7h0M392.3 108.2h0M356.5 149.2h0M400.9 131.8h0M434.3 140.2h0M391.1 145.5h0M461.0 140.5h0M345.1 164.0h0M436.8 148.9h0M460.3 152.2h0M361.2 162.6h0M317.5 152.9h0M340.1 139.8h0M369.2 179.2h0M359.6 135.6h0M380.5 174.8h0M419.5 143.1h0M370.1 165.8h0M394.1 128.6h0M352.0 151.3h0M389.0 137.3h0M393.5 114.7h0M353.7 146.0h0M426.5 143.3h0M354.5 159.5h0M374.3 130.7h0M395.8 138.5h0M347.1 143.2h0M363.4 143.9h0M411.4 147.6h0M357.0 131.1h0M347.6 166.1h0M344.9 168.1h0M344.6 161.2h0M344.3 136.5h0M326.3 156.9h0M333.5 159.6h0M392.9 145.3h0M363.6 144.6h0M349.0 162.7h0M390.5 112.9h0M373.5 163.7h0M347.2 152.3h0M434.7 138.3h0M359.0 155.5h0M364.6 179.2h0M432.4 149.1h0M317.4 172.4h0M425.7 128.6h0M316.7 169.4h0M351.3 128.5h0M462.5 148.4h0M357.4 140.7h0M413.9 139.4h0M398.1 147.5h0M393.1 144.5h0M399.6 128.4h0M347.8 145.2h0M460.8 148.2h0M480.7 140.6h0M363.7 129.5h0M407.0 141.0h0M400.9 137.0h0M393.3 124.2h0M362.4 144.3h0M348.7 130.8h0M370.7 151.5h0M429.3 142.0h0M383.3 140.8h0M451.7 150.4h0M451.9 154.2h0M374.2 166.1h0M408.1 141.1h0M376.3 171.0h0M376.1 128.8h0M370.2 157.6h0M346.0 155.3h0M375.0 139.6h0M418.2 133.2h0M395.9 149.5h0M465.3 147.9h0M380.0 143.9h0M481.4 136.4h0M413.5 96.7h0M413.4 149.1h0M361.4 136.7h0M370.4 185.0h0M381.1 135.3h0M364.4 169.6h0M409.3 102.2h0M356.4 145.8h0M373.5 124.5h0M352.9 133.7h0M359.4 161.9h0M398.0 116.3h0M381.8 123.4h0M372.5 137.9h0M378.2 148.3h0M381.7 176.9h0M427.1 151.8h0M394.1 142.6h0M390.9 143.1h0M482.1 142.2h0M351.3 186.2h0M323.2 177.1h0M392.8 139.2h0M360.0 131.1h0M397.3 137.2h0M361.2 187.2h0M348.5 131.1h0M367.4 142.8h0M359.2 154.7h0M380.4 117.2h0M335.8 156.0h0M378.2 171.1h0M342.2 141.1h0M348.2 182.1h0M382.4 122.8h0M383.0 150.5h0M484.3 134.8h0M455.7 145.9h0M351.3 139.7h0M391.3 131.5h0M340.0 143.2h0M390.2 140.7h0M369.3 179.4h0M342.7 189.1h0M408.8 103.5h0M342.3 163.9h0M328.1 184.8h0M362.4 126.1h0M350.4 167.7h0M386.1 166.5h0M383.3 179.3h0M381.3 126.7h0M349.3 160.8h0M435.8 91.6h0M451.2 154.3h0M434.8 147.2h0M345.9 159.9h0M342.8 145.2h0M381.8 118.2h0M484.2 134.4h0M344.5 150.3h0M397.7 106.1h0M338.6 188.5h0M362.1 164.5h0M375.8 157.2h0M346.6 168.2h0M367.7 186.9h0M395.1 129.3h0M352.0 157.1h0M470.3 131.3h0M436.1 146.1h0M380.3 168.0h0M389.5 125.1h0M390.9 112.4h0M355.8 179.1h0M387.5 137.1h0M397.9 135.6h0M362.1 130.0h0M355.0 160.7h0M394.3 134.0h0M414.8 132.3h0M454.8 151.8h0M369.0 124.6h0M350.0 181.2h0M358.0 126.8h0M336.8 161.7h0M377.8 180.2h0M328.3 156.2h0M381.1 164.6h0M329.8 176.5h0M356.9 140.4h0M353.6 187.6h0M348.2 156.3h0M436.3 144.3h0M376.2 182.5h0M386.0 112.7h0M342.7 151.8h0M362.8 144.0h0M382.1 171.0h0M435.6 90.7h0M347.1 179.7h0M372.2 152.4h0M378.7 180.8h0M419.1 127.3h0M352.3 168.0h0M332.8 164.0h0M369.3 173.3h0M399.5 103.0h0M354.1 127.8h0M321.1 149.2h0M363.1 121.5h0M372.6 169.2h0M374.4 177.9h0M370.8 173.3h0M349.6 111.1h0M368.4 138.9h0M345.2 162.6h0M383.2 122.5h0M328.7 150.4h0M386.2 165.3h0M327.5 151.6h0M323.1 167.2h0M356.7 163.9h0M331.5 149.6h0M374.6 122.1h0M375.1 183.4h0M350.4 141.6h0M386.0 116.4h0M362.2 127.5h0M458.1 150.6h0M354.5 133.8h0M380.6 148.6h0M370.8 152.9h0M436.3 91.2h0M372.1 126.8h0M345.4 183.6h0M364.8 143.9h0M385.3 173.6h0M359.5 127.5h0M361.4 183.6h0M349.3 147.6h0M362.3 132.1h0M388.5 117.3h0M383.8 176.9h0M316.5 171.2h0M410.3 148.5h0M359.2 136.0h0M340.6 159.7h0M365.5 140.6h0M365.1 132.9h0M354.8 164.5h0M390.3 157.0h0M343.5 175.1h0M366.2 155.4h0M383.3 135.7h0M334.1 182.2h0M392.2 133.1h0M428.7 144.4h0M439.0 146.0h0M356.6 139.8h0M350.4 154.7h0M356.0 132.2h0M397.2 115.6h0M334.0 167.3h0M394.1 154.5h0M398.0 133.0h0M423.1 88.6h0M376.0 129.7h0M383.7 148.9h0M395.0 132.2h0M351.0 156.4h0M330.8 156.9h0M377.9 139.1h0M372.5 133.3h0M415.7 64.9h0M373.3 168.6h0M434.5 136.4h0M405.3 149.8h0M354.6 173.9h0M420.9 97.5h0M358.6 145.8h0M360.1 178.2h0M374.9 165.6h0M364.7 132.2h0M413.4 148.7h0M346.8 187.4h0M385.4 167.1h0M436.6 143.1h0M343.7 146.4h0M349.6 188.8h0M336.1 159.2h0M364.4 180.3h0M364.4 122.1h0M355.5 156.4h0M384.6 168.7h0M383.8 125.9h0M390.0 125.7h0M351.0 138.2h0M440.0 147.7h0M428.7 148.2h0M372.1 152.3h0M356.0 177.7h0M350.2 147.8h0M415.9 151.2h0M331.0 153.0h0M398.1 127.7h0M350.4 132.6h0M378.6 140.2h0M397.0 121.6h0M385.0 122.7h0M319.4 152.4h0M427.4 155.3h0M346.7 157.1h0M387.1 136.3h0M376.7 119.8h0M376.7 184.8h0M373.3 134.5h0M393.7 134.8h0M347.3 146.1h0M355.7 154.5h0M463.6 150.6h0M370.4 155.8h0M379.2 174.5h0M359.2 181.6h0M455.4 104.3h0M361.8 167.2h0M344.0 156.2h0M330.3 154.3h0M381.8 164.9h0M480.4 133.1h0M347.0 143.9h0M457.9 145.0h0M480.9 134.3h0M348.0 130.2h0M426.8 152.0h0M356.5 180.3h0M347.8 166.5h0M345.3 140.8h0M335.6 181.5h0M374.3 124.0h0M359.0 171.1h0M395.2 124.5h0M360.9 183.5h0M431.1 155.8h0M448.9 146.1h0M360.0 171.8h0M358.6 143.8h0M395.7 135.6h0M370.0 123.8h0M373.8 163.3h0M374.6 136.7h0M435.4 149.7h0M369.3 164.2h0M395.1 155.7h0M328.5 145.8h0M344.0 157.1h0M374.0 150.9h0M386.4 123.2h0M427.5 143.8h0M358.1 150.1h0M346.7 139.4h0M396.1 129.1h0M348.4 143.0h0M447.4 150.5h0M453.0 147.7h0M388.7 141.7h0M342.0 192.1h0M391.3 157.6h0M393.6 141.9h0M394.7 138.2h0M435.9 100.2h0M437.4 152.6h0M394.2 134.4h0M328.1 181.9h0M366.7 180.3h0M382.3 126.3h0M368.3 149.5h0M347.6 146.4h0M415.3 147.7h0M453.8 151.8h0M411.6 146.4h0M442.8 153.8h0M383.3 158.1h0M438.5 93.4h0M348.9 167.2h0M360.4 159.2h0M388.1 146.2h0M436.3 150.0h0M366.0 139.0h0M373.0 171.6h0M423.2 82.9h0M360.8 149.8h0M339.6 146.1h0M357.0 132.1h0M393.9 126.7h0M356.3 127.5h0M374.8 125.5h0M373.1 145.5h0M400.6 114.9h0M361.2 153.6h0M325.6 155.5h0M355.3 142.1h0M465.3 147.8h0M370.5 138.4h0M449.9 146.5h0M336.8 162.7h0M370.1 145.4h0M342.2 146.1h0M390.1 146.5h0M375.4 137.5h0M384.3 171.4h0M320.5 150.9h0M461.0 145.9h0M353.4 143.0h0M416.4 138.5h0M381.9 149.0h0M391.0 144.9h0M354.6 152.2h0M392.3 117.1h0M421.7 142.1h0M366.6 160.4h0M367.2 139.4h0M383.2 126.5h0M353.8 146.7h0M344.0 179.5h0M388.1 149.1h0M437.9 147.9h0M426.3 146.4h0M387.4 137.0h0M368.1 148.3h0M321.2 147.9h0M432.0 133.4h0M341.0 183.4h0M396.3 141.5h0M381.9 174.2h0M346.7 150.3h0M391.5 147.3h0M458.7 146.1h0M358.0 172.2h0M388.9 130.4h0M441.5 154.2h0M379.9 179.9h0M333.2 179.3h0M343.5 188.3h0M351.5 152.3h0M375.1 155.1h0M354.3 132.9h0M325.0 158.0h0M452.0 143.3h0M349.3 118.9h0M407.0 140.2h0M434.3 128.9h0M421.3 139.1h0M331.8 150.1h0M353.8 157.0h0M376.5 168.5h0M318.3 174.1h0M394.7 135.4h0M371.9 176.4h0M388.5 143.7h0M324.5 150.3h0M395.7 163.0h0M380.8 154.5h0M393.7 138.7h0M377.2 125.0h0M354.1 158.8h0M394.0 122.9h0M454.3 146.6h0M369.4 160.9h0M378.3 177.1h0M371.0 162.6h0M372.6 134.2h0M386.3 139.8h0M390.4 158.1h0M366.4 156.0h0M367.1 147.8h0M361.6 156.1h0M417.9 136.2h0M351.7 130.8h0M347.1 152.0h0M391.6 145.3h0M356.5 157.5h0M355.0 171.7h0M326.7 162.8h0M382.3 124.2h0M371.9 127.3h0M343.3 147.2h0M378.0 141.6h0M348.4 128.9h0M355.9 138.2h0M344.7 162.9h0M379.4 161.0h0M466.3 147.5h0M351.2 139.9h0M388.9 159.7h0M450.7 142.8h0M388.1 111.5h0M349.2 169.5h0M391.4 142.5h0M433.1 136.1h0M378.4 163.4h0M376.9 118.7h0M344.2 141.6h0M424.7 149.6h0M352.6 157.4h0M397.8 130.6h0M355.9 125.0h0M322.2 171.9h0M438.7 94.3h0M480.0 138.1h0M373.2 158.3h0M421.9 132.6h0M380.6 152.4h0M371.7 137.8h0M381.9 158.1h0M466.8 144.7h0M433.9 94.4h0M353.9 156.4h0M446.5 153.5h0M413.7 68.1h0M335.1 156.7h0M344.7 162.2h0M341.9 149.0h0M373.4 131.4h0M382.5 158.9h0M354.9 160.5h0M352.0 136.1h0M340.7 185.9h0M334.6 157.1h0M464.1 89.2h0M309.5 158.1h0M368.1 179.2h0M374.8 119.4h0M356.4 126.9h0M395.1 156.0h0M385.1 135.7h0M416.0 145.5h0M389.3 116.4h0M347.7 177.1h0M388.9 161.7h0M365.3 146.4h0M387.7 125.0h0M445.5 139.6h0M437.1 90.8h0M345.4 140.7h0M450.8 151.5h0M437.8 136.9h0M390.7 135.7h0M386.9 151.0h0M386.2 129.2h0M352.4 177.3h0M384.6 148.5h0M416.2 91.4h0M399.3 134.1h0M337.3 186.4h0M372.8 177.3h0M394.9 144.9h0M399.5 155.4h0M386.4 147.4h0M396.9 121.0h0M434.0 140.8h0M386.3 161.6h0M325.1 157.9h0M383.7 125.2h0M352.1 136.2h0M358.7 162.3h0M428.5 151.4h0M367.5 182.3h0M438.7 92.7h0M369.5 121.4h0M360.4 141.6h0M339.0 144.2h0M368.1 156.9h0M339.2 143.0h0M388.8 118.7h0M367.4 135.0h0M382.5 118.4h0M363.4 134.4h0M315.0 170.0h0M359.1 175.5h0M352.4 157.7h0M315.3 158.0h0M478.8 142.0h0M375.1 165.6h0M373.0 168.7h0M365.6 145.9h0M341.1 173.4h0M388.5 167.1h0M415.3 149.8h0M321.3 153.8h0M481.2 134.4h0M394.7 154.2h0M388.4 128.8h0M387.8 120.9h0M430.2 154.0h0M454.0 151.8h0M355.3 157.8h0M459.7 146.5h0M328.1 157.2h0M411.4 150.6h0M445.3 147.3h0M348.2 136.5h0M403.6 142.1h0M365.5 133.2h0M313.4 164.7h0M326.3 144.5h0M409.1 136.2h0M354.9 176.3h0M383.7 124.8h0M398.7 140.3h0M483.8 133.6h0M368.3 129.2h0M362.5 185.1h0M358.4 142.1h0M345.1 136.0h0M323.3 160.9h0M390.3 149.6h0M451.2 153.8h0M312.9 158.6h0M356.3 131.1h0M369.3 153.7h0M351.4 133.2h0M456.9 146.2h0M381.2 154.7h0M433.7 144.1h0M380.4 172.2h0M348.4 144.2h0M336.7 159.3h0M354.0 132.2h0M341.4 145.5h0M316.7 163.1h0M446.7 140.0h0M385.7 142.5h0M370.7 134.5h0M403.1 125.6h0M410.6 150.0h0M373.0 167.6h0M339.9 158.9h0M382.0 167.7h0M378.2 153.6h0M405.1 128.7h0M373.1 164.5h0M336.3 142.8h0M390.0 120.2h0M359.2 141.2h0M389.9 158.5h0M365.8 134.7h0M332.2 178.4h0M459.3 142.6h0M480.8 141.8h0M364.7 131.0h0M316.3 169.5h0M385.6 117.6h0M393.5 121.3h0M318.2 159.7h0M364.9 163.7h0M396.6 119.2h0M337.0 155.9h0M385.8 121.7h0M363.4 139.7h0M393.1 148.7h0M372.7 152.6h0M389.5 167.8h0M319.9 147.2h0M367.5 143.1h0M394.8 160.8h0M374.8 146.1h0M357.9 139.1h0M319.7 167.7h0M340.9 156.6h0M324.5 159.8h0M359.8 147.9h0M352.1 144.1h0M376.9 147.7h0M347.8 150.1h0M329.8 172.7h0M371.8 181.8h0M383.5 139.3h0M338.6 186.9h0M459.5 148.3h0M363.4 147.8h0M388.5 136.0h0M355.2 176.0h0M364.3 171.4h0M347.2 157.4h0M475.8 139.8h0M351.2 142.0h0M371.4 150.1h0M347.2 162.8h0M410.9 128.0h0M393.0 128.0h0M420.7 149.7h0M387.7 173.9h0M393.5 129.2h0M362.0 151.1h0M381.1 132.2h0M369.2 139.3h0M367.4 171.4h0M385.4 152.8h0M396.0 109.2h0M353.0 139.8h0M388.9 122.5h0M372.5 143.9h0M452.9 152.0h0M383.8 173.8h0M404.8 143.1h0M333.4 142.9h0M352.1 177.3h0M391.2 164.7h0M392.6 156.3h0M357.7 150.8h0M339.5 148.1h0M351.4 165.4h0M397.3 113.0h0M437.5 154.0h0M421.6 148.8h0M364.3 152.4h0M359.9 129.7h0M476.1 143.7h0M364.4 149.7h0M321.8 162.5h0M360.0 177.2h0M383.3 125.1h0M418.5 129.0h0M363.1 145.4h0M367.2 152.6h0M388.9 156.0h0M392.5 121.2h0M355.6 135.0h0M391.8 156.4h0M478.1 142.8h0M384.2 163.7h0M354.5 152.9h0M382.7 118.4h0M458.7 151.1h0M340.7 155.4h0M348.3 179.0h0M421.3 96.4h0M371.9 123.9h0M350.3 150.9h0M369.4 124.9h0M362.0 140.6h0M363.6 157.9h0M395.7 128.1h0M381.3 129.6h0M393.0 131.4h0M382.0 126.1h0M361.3 140.1h0M368.8 136.9h0M318.4 173.4h0M396.5 120.7h0M417.4 80.6h0M349.1 153.5h0M434.7 143.1h0M391.5 138.7h0M333.3 156.8h0M368.4 140.9h0M385.0 150.6h0M434.6 89.7h0M364.7 161.5h0M441.5 153.5h0M362.6 148.5h0M360.1 161.0h0M337.9 152.8h0M385.0 122.5h0M356.5 142.3h0M358.0 172.0h0M377.0 161.6h0M375.8 155.8h0M379.2 148.9h0M402.9 112.1h0M353.9 126.7h0M349.9 162.1h0M322.9 180.6h0M415.3 144.0h0M350.7 127.4h0M339.6 168.0h0M340.5 156.3h0M367.5 152.3h0M377.7 123.5h0M309.5 162.9h0M370.0 132.1h0M377.8 179.6h0M329.2 158.8h0M399.9 142.6h0M356.5 170.4h0M341.4 181.9h0M472.1 144.3h0M440.6 147.0h0M424.8 157.7h0M350.3 148.8h0M353.9 129.0h0M352.7 167.9h0M348.0 158.1h0M410.2 137.1h0M433.1 132.7h0M356.5 178.4h0M363.7 177.9h0M366.9 133.0h0M355.7 127.7h0M385.4 159.9h0M343.4 144.2h0M377.9 123.2h0M344.7 139.7h0M379.6 151.5h0M450.0 148.1h0M412.1 146.3h0M393.3 113.2h0M382.5 151.5h0M397.6 131.6h0M369.3 156.3h0M354.3 162.7h0M376.6 149.6h0M432.2 152.2h0M377.4 128.9h0M370.8 173.8h0M374.2 147.3h0M431.5 140.4h0M362.6 148.8h0M469.4 144.8h0M345.0 165.7h0M424.2 149.3h0M394.4 163.3h0M381.3 147.8h0M422.0 151.2h0M394.5 161.9h0M371.8 163.2h0M344.3 145.6h0M352.5 151.1h0M434.4 150.4h0M391.3 154.0h0M323.9 164.6h0M442.6 138.3h0M398.3 162.6h0M394.3 155.6h0M387.4 125.2h0M357.2 181.7h0M398.2 124.7h0M461.0 108.4h0M334.4 144.0h0M370.1 179.0h0M406.1 101.9h0M369.3 173.0h0M389.3 140.5h0M371.8 125.7h0M381.9 119.1h0M438.7 90.4h0M368.1 127.5h0M439.6 147.4h0M350.6 160.6h0M415.4 150.2h0M380.0 120.3h0M364.3 126.2h0M365.2 159.5h0M342.3 137.7h0M329.8 184.4h0M382.1 148.9h0M384.1 175.4h0M372.9 118.3h0M428.9 140.1h0M367.5 144.6h0M358.1 178.7h0M436.4 87.9h0M326.3 171.6h0M420.3 151.9h0M363.3 141.7h0M351.6 144.6h0M396.0 136.6h0M323.0 154.5h0M350.5 146.1h0M324.2 154.3h0M409.8 134.4h0M369.6 178.9h0M467.8 88.3h0M369.6 155.5h0M424.1 141.3h0M343.6 157.4h0M397.8 130.1h0M401.8 130.9h0M470.9 144.5h0M393.0 116.4h0M484.8 134.6h0M336.3 160.7h0M379.1 144.1h0M413.6 133.0h0M348.7 178.4h0M333.8 161.9h0M382.9 172.5h0M441.0 147.2h0M391.8 147.0h0M395.5 137.8h0M370.5 135.9h0M378.8 117.2h0M378.2 169.8h0M469.4 88.7h0M332.1 163.6h0M361.8 146.2h0M382.5 119.0h0M338.6 164.0h0M363.3 125.7h0M337.3 149.2h0M344.1 153.9h0M454.9 147.1h0M393.5 146.6h0M409.7 139.4h0M377.4 157.7h0M348.8 155.4h0M319.4 172.1h0M385.9 161.6h0M369.2 168.8h0M343.5 139.9h0M381.6 153.3h0M376.3 116.8h0M388.6 151.6h0M349.0 151.5h0M390.0 149.7h0M394.8 154.3h0M374.2 133.0h0M358.4 146.7h0M456.7 142.9h0M366.5 131.5h0M324.5 159.2h0M417.3 131.6h0M400.2 140.7h0M435.0 140.0h0M378.6 123.8h0M470.9 144.3h0M457.1 144.7h0M381.3 133.2h0M334.6 167.0h0M331.8 162.5h0M363.8 141.4h0M442.3 138.7h0M383.1 116.4h0M389.9 160.3h0M310.9 162.9h0M354.4 184.3h0M388.9 138.2h0M392.4 122.5h0M342.5 144.2h0M373.5 139.1h0M383.5 171.8h0M390.0 156.7h0M471.7 145.8h0M380.2 169.2h0M367.6 156.4h0M371.4 143.2h0M386.9 111.3h0M351.4 165.2h0M348.8 145.5h0M380.7 161.5h0M467.1 146.3h0M419.0 151.1h0M347.2 169.5h0M412.9 67.6h0M370.4 142.4h0M322.3 150.8h0M438.5 90.0h0M365.3 138.4h0M376.3 160.6h0M370.5 124.2h0M392.2 147.8h0M327.7 147.9h0M367.7 155.5h0M341.8 170.0h0M394.0 136.9h0M426.4 90.9h0M484.1 134.0h0M391.2 111.8h0M335.3 146.3h0M420.8 121.5h0M363.1 126.5h0M382.7 117.0h0M374.3 130.4h0M338.8 176.2h0M477.5 130.7h0M390.1 115.6h0M372.9 141.5h0M357.7 165.8h0M459.7 152.3h0M328.6 179.3h0M377.6 180.5h0M376.2 151.3h0M480.7 137.2h0M360.7 156.9h0M436.2 145.3h0M343.6 164.1h0M351.8 137.5h0M363.8 162.7h0M367.4 184.3h0M345.4 181.4h0M376.8 137.7h0M353.5 130.2h0M358.2 170.7h0M350.8 141.8h0M350.0 140.9h0M369.6 142.1h0M424.1 130.7h0M418.1 133.9h0M370.9 131.0h0M397.6 130.7h0M393.1 142.8h0M476.7 147.5h0M374.4 170.4h0M378.4 172.5h0M371.7 162.5h0M377.5 143.9h0M380.3 164.0h0M372.2 161.3h0M361.2 143.7h0M354.1 171.2h0M350.7 151.2h0M423.9 139.8h0M448.2 149.5h0M391.5 110.0h0M349.6 144.9h0M374.2 157.3h0M352.6 161.2h0M366.5 155.1h0M380.0 115.9h0M415.9 150.1h0M367.0 164.4h0M369.2 181.2h0M407.5 102.9h0M360.0 161.2h0M387.3 158.1h0M375.7 178.7h0M376.0 141.2h0M457.6 91.0h0M428.5 149.8h0M391.5 138.3h0M355.1 160.6h0M353.4 148.8h0M345.6 140.1h0M413.7 58.3h0M350.6 159.1h0M380.1 164.3h0M416.3 76.8h0M377.8 119.2h0M348.5 161.1h0M375.2 151.1h0M351.3 150.9h0M325.3 179.4h0M381.9 137.7h0M346.9 186.1h0M342.2 141.4h0M344.3 177.6h0M358.8 163.7h0M407.1 126.4h0M441.5 150.5h0M310.7 166.2h0M394.6 154.0h0M357.3 140.4h0M320.4 156.9h0M428.6 141.3h0M408.0 109.6h0M395.7 134.5h0M400.9 135.7h0M362.2 167.2h0M331.9 144.7h0M380.4 168.2h0M352.1 136.0h0M385.6 142.8h0M384.1 145.8h0M372.1 130.2h0M378.3 168.7h0M430.4 140.9h0M418.5 145.1h0M453.0 137.4h0M332.3 148.9h0M386.2 115.9h0M359.1 133.7h0M425.2 144.3h0M339.2 183.7h0M383.2 175.3h0M479.3 132.5h0M378.1 148.9h0M476.6 142.3h0M383.4 132.4h0M384.1 150.2h0M343.9 153.3h0M385.4 163.0h0M453.9 89.6h0M332.2 140.5h0M430.2 144.1h0M372.2 154.3h0M348.1 133.1h0M358.5 128.1h0M436.5 88.5h0M363.0 157.0h0M369.4 171.0h0M389.5 122.7h0M342.9 181.1h0M317.2 175.2h0M414.2 136.5h0M342.7 178.8h0M388.5 174.6h0M375.6 181.7h0M320.1 151.8h0M327.9 172.1h0M387.7 126.0h0M380.1 153.4h0M364.8 184.3h0M362.6 163.6h0M483.7 133.3h0M362.9 150.3h0M347.1 150.2h0M352.3 135.1h0M350.1 140.1h0M455.4 146.5h0M392.3 156.6h0M365.5 157.4h0M447.9 148.7h0M324.9 150.8h0M365.7 155.8h0M438.7 138.3h0M346.8 140.1h0M481.6 139.0h0M371.0 122.8h0M454.1 121.1h0M373.2 119.1h0M347.0 167.7h0M379.4 172.1h0M380.1 137.7h0M347.4 143.1h0M385.9 117.4h0M340.5 155.4h0M377.9 139.7h0M369.1 165.3h0M340.0 164.3h0M440.7 151.1h0M428.0 134.6h0M449.0 125.2h0M384.5 151.7h0M438.3 67.2h0M386.1 123.7h0M391.4 147.9h0M409.2 143.2h0M374.0 171.3h0M320.7 160.3h0M365.8 181.2h0M358.5 140.7h0M386.7 158.4h0M372.1 153.1h0M450.2 98.3h0M416.6 141.3h0M447.4 139.7h0M394.9 132.8h0M359.5 138.6h0M351.2 152.1h0M447.5 147.4h0M378.7 173.8h0M366.8 176.0h0M430.6 123.8h0M387.5 162.8h0M364.5 173.4h0M342.5 185.3h0M393.1 157.6h0M377.9 151.6h0M321.6 165.7h0M395.4 111.6h0M356.6 167.5h0M376.9 142.6h0M389.9 121.5h0M360.6 175.8h0M339.8 167.9h0M362.8 131.4h0M346.8 141.7h0M340.8 144.3h0M388.1 172.1h0M359.5 166.4h0M373.9 159.7h0M400.8 139.5h0M392.4 132.7h0M363.3 150.4h0M381.9 133.9h0M376.8 119.1h0M477.9 104.2h0M451.3 150.2h0M348.8 147.2h0M357.5 156.5h0M431.8 126.9h0M435.0 142.3h0M321.9 175.1h0M321.8 152.8h0M387.9 159.2h0M320.5 164.5h0M466.4 142.6h0M392.3 162.6h0M346.2 134.4h0M442.4 145.6h0M387.8 140.2h0M360.9 171.5h0M358.3 151.0h0M369.4 133.1h0M391.5 109.1h0M455.7 145.7h0M380.9 177.8h0M368.2 183.8h0M342.9 142.2h0M354.5 150.3h0M329.8 158.6h0M324.9 177.9h0M392.7 122.2h0M393.6 163.9h0M378.7 149.6h0M350.8 132.1h0M356.9 147.9h0M373.2 150.4h0M437.7 91.3h0M377.3 131.0h0M339.6 187.2h0M386.2 142.8h0M372.8 143.6h0M391.3 117.2h0M390.5 149.3h0M394.6 107.3h0M316.2 166.8h0M372.4 167.1h0M346.7 134.9h0M438.4 94.1h0M405.2 140.4h0M377.2 158.7h0M415.3 147.8h0M340.7 141.9h0M369.6 185.4h0M336.2 160.5h0M352.4 158.0h0M389.2 130.1h0M400.1 131.0h0M393.3 131.2h0M392.5 170.2h0M386.2 168.0h0M449.5 141.3h0M391.0 161.3h0M368.6 130.9h0M388.1 123.2h0M407.3 141.9h0M370.9 120.8h0M353.6 184.2h0M347.7 157.7h0M396.0 154.6h0M348.9 110.9h0M340.6 185.1h0M366.8 137.0h0M378.0 166.0h0M394.9 152.4h0M393.5 148.6h0M394.0 125.9h0M370.5 161.1h0M406.1 133.1h0M432.0 146.2h0M310.3 160.0h0M374.5 123.5h0M354.6 155.0h0M395.4 152.5h0M390.6 152.9h0M377.4 138.2h0M312.2 169.6h0M335.6 150.1h0M413.3 132.7h0M377.4 180.0h0M471.7 146.6h0M343.2 153.3h0M341.4 172.6h0M371.1 161.8h0M397.4 135.2h0M350.5 153.6h0M415.8 151.2h0M362.0 182.0h0M375.9 145.8h0M341.8 166.7h0M378.2 118.6h0M331.6 152.3h0M379.9 169.4h0M333.5 152.4h0M437.3 89.4h0M342.0 151.8h0M368.9 171.7h0M344.2 183.4h0M419.2 149.4h0M347.4 158.9h0M419.4 146.5h0M363.6 137.4h0M436.9 141.2h0M326.2 177.0h0M483.0 139.2h0M361.9 141.3h0M414.6 129.7h0M324.7 163.9h0M350.7 142.5h0M370.9 173.4h0M454.7 143.3h0M354.5 181.0h0M352.3 145.6h0M387.4 172.0h0M415.7 144.1h0M355.8 150.1h0M329.3 187.2h0M346.9 133.8h0M415.3 70.2h0M378.0 178.0h0M485.1 135.0h0M349.5 148.9h0M349.3 169.7h0M423.5 141.3h0M367.0 170.2h0M340.1 181.8h0M369.4 143.2h0M328.5 174.3h0M374.5 177.0h0M419.0 95.2h0M360.9 163.7h0M358.9 134.0h0M394.6 119.3h0M351.0 153.4h0M458.3 148.0h0M358.8 167.3h0M330.6 185.3h0" stroke="#F8766D" stroke-width="1.45" stroke-linecap="round" fill="none"/>
<path d="M468.3 121.7h0M444.5 108.6h0M484.9 96.4h0M443.6 130.7h0M428.1 51.2h0M451.1 91.5h0M431.9 104.3h0M453.9 110.8h0M474.1 105.9h0M455.8 101.7h0M461.2 144.7h0M424.3 64.2h0M342.0 152.2h0M421.1 80.2h0M464.6 95.6h0M419.5 71.0h0M417.2 93.7h0M466.8 69.8h0M463.1 81.7h0M417.7 59.4h0M416.4 70.2h0M443.0 102.2h0M425.9 109.9h0M439.8 107.9h0M472.5 142.5h0M407.2 109.8h0M463.5 107.3h0M460.0 98.5h0M438.9 88.4h0M466.0 121.5h0M470.9 84.8h0M436.6 120.4h0M484.0 136.3h0M459.8 106.7h0M439.8 88.2h0M424.1 73.7h0M439.5 106.3h0M440.3 81.5h0M434.6 116.6h0M478.9 111.5h0M416.1 83.4h0M455.8 106.9h0M417.7 106.2h0M470.2 134.4h0M446.0 111.5h0M400.2 117.0h0M481.9 85.5h0M406.9 120.8h0M410.3 136.3h0M463.0 98.2h0M449.9 107.1h0M432.5 105.3h0M423.4 68.3h0M454.6 102.3h0M438.5 106.6h0M436.2 115.8h0M462.9 97.1h0M454.9 93.5h0M415.8 69.1h0M362.9 176.1h0M401.0 125.4h0M474.0 144.1h0M433.3 51.3h0M481.3 82.9h0M479.0 108.7h0M439.8 107.7h0M434.0 122.7h0M449.0 103.2h0M398.9 121.5h0M482.2 67.1h0M457.1 67.5h0M441.0 99.0h0M438.2 110.2h0M475.2 73.3h0M452.2 86.8h0M442.3 59.6h0M487.7 94.5h0M434.8 129.5h0M452.8 66.6h0M468.3 83.6h0M430.5 61.2h0M417.4 69.6h0M458.8 105.0h0M413.5 134.5h0M448.0 132.9h0M465.9 86.4h0M420.5 101.7h0M424.4 119.4h0M436.6 77.2h0M419.1 68.2h0M420.6 125.5h0M428.1 88.2h0M468.2 85.9h0M469.4 115.7h0M445.1 89.9h0M485.1 86.9h0M484.8 133.1h0M468.0 79.8h0M447.8 155.6h0M437.9 129.9h0M415.1 64.5h0M419.6 109.6h0M412.4 108.3h0M416.5 134.4h0M492.4 93.5h0M438.7 105.2h0M426.8 51.6h0M478.4 141.1h0M424.2 79.9h0M424.8 91.0h0M421.3 57.8h0M439.5 114.0h0M463.9 83.6h0M422.2 73.8h0M481.5 134.7h0M407.8 113.9h0M435.3 126.1h0M438.6 88.1h0M470.4 77.6h0M441.1 124.3h0M487.7 89.0h0M458.5 90.5h0M417.9 68.2h0M462.3 92.4h0M439.8 68.8h0M430.4 66.9h0M454.9 95.8h0M455.1 98.8h0M488.9 99.3h0M459.2 103.6h0M474.5 80.3h0M368.2 116.0h0M453.7 98.5h0M484.1 134.5h0M449.3 102.3h0M462.4 116.6h0M417.9 64.4h0M487.1 87.4h0M486.0 91.6h0M429.1 129.9h0M441.2 149.1h0M437.0 105.1h0M457.2 102.1h0M429.7 142.6h0M433.2 105.2h0M449.2 113.0h0M424.6 133.9h0M430.9 127.1h0M450.4 62.5h0M394.8 112.3h0M433.6 113.0h0M454.8 70.4h0M483.4 137.8h0M452.6 99.1h0M434.7 104.8h0M456.0 98.2h0M485.7 86.5h0M417.9 77.5h0M466.7 74.3h0M442.5 120.8h0M462.9 84.3h0M445.5 94.7h0M422.6 94.9h0M487.8 95.4h0M450.8 111.9h0M456.7 109.4h0M478.9 83.1h0M465.0 84.3h0M417.4 56.2h0M415.0 71.7h0M454.8 74.2h0M448.4 93.0h0M479.9 72.0h0M480.6 66.6h0M397.5 112.4h0M467.5 89.2h0M414.1 60.9h0M439.1 61.8h0M458.2 132.7h0M440.5 110.0h0M440.7 55.3h0M449.8 68.3h0M395.5 130.0h0M434.4 138.3h0M477.5 80.6h0M430.7 66.5h0M400.8 118.4h0M437.0 111.2h0M476.4 116.0h0M428.0 72.8h0M439.5 110.4h0M461.1 97.8h0M420.0 107.4h0M447.4 96.4h0M407.7 122.0h0M483.3 135.0h0M468.0 70.3h0M432.5 93.3h0M412.8 121.7h0M443.5 59.3h0M468.4 87.1h0M424.8 97.4h0M453.0 106.2h0M485.8 134.3h0M485.4 95.0h0M431.1 69.5h0M409.3 104.4h0M437.2 66.8h0M468.9 133.4h0M462.2 91.0h0M427.9 135.6h0M486.2 102.1h0M462.0 85.8h0M353.7 158.7h0M428.0 129.2h0M409.0 124.7h0M479.5 81.5h0M448.6 101.3h0M414.6 113.2h0M413.3 101.6h0M470.7 76.5h0M435.7 108.6h0M466.7 84.6h0M407.9 132.3h0M420.6 126.3h0M456.8 98.5h0M484.2 137.4h0M459.1 108.8h0M481.3 67.0h0M437.1 118.4h0M439.5 60.8h0M484.9 90.5h0M436.6 110.8h0M411.4 114.7h0M438.8 76.9h0M479.8 112.5h0M423.2 93.5h0M490.6 99.5h0M485.5 83.7h0M419.9 62.0h0M432.0 123.8h0M477.7 139.4h0M410.6 110.7h0M440.3 103.8h0M426.3 79.2h0M457.8 93.2h0M458.0 105.6h0M436.4 128.8h0M466.5 89.7h0M458.9 106.1h0M423.5 95.2h0M469.7 84.9h0M457.1 69.7h0M462.4 85.3h0M424.5 55.6h0M319.8 172.5h0M436.3 100.2h0M481.0 130.9h0M449.4 127.9h0M485.5 96.4h0M411.3 66.7h0M479.3 111.3h0M439.7 95.0h0M461.8 122.8h0M424.2 96.0h0M420.2 76.1h0M480.6 83.2h0M480.3 70.2h0M456.6 100.4h0M416.7 77.3h0M435.6 114.3h0M438.9 114.7h0M430.9 55.0h0M412.0 101.1h0M452.0 142.4h0M435.3 63.0h0M467.6 72.7h0M456.5 96.8h0M462.2 78.4h0M450.3 104.1h0M418.4 105.4h0M443.6 112.6h0M418.1 107.2h0M478.8 70.0h0M459.9 68.3h0M425.8 54.1h0M419.0 62.9h0M447.8 62.4h0M431.7 111.2h0M483.8 128.1h0M461.9 133.2h0M429.3 98.9h0M459.0 135.4h0M423.9 66.3h0M483.0 67.6h0M377.1 127.5h0M416.7 77.8h0M394.2 112.6h0M422.1 75.9h0M463.6 90.5h0M451.9 91.6h0M477.2 83.0h0M438.4 94.1h0M477.1 78.6h0M440.4 134.3h0M426.2 61.8h0M417.7 112.6h0M431.0 83.4h0M463.5 80.9h0M478.6 81.5h0M440.6 106.2h0M418.4 67.8h0M485.6 106.0h0M456.9 103.0h0M324.7 145.5h0M478.6 118.1h0M443.0 96.2h0M454.3 92.6h0M464.6 84.4h0M449.3 87.8h0M416.3 62.6h0M408.8 108.8h0M423.5 136.0h0M394.6 113.8h0M489.9 95.9h0M465.0 80.7h0M435.3 69.7h0M408.4 106.1h0M400.2 129.0h0M453.6 82.4h0M464.6 75.0h0M448.5 89.4h0M473.9 79.1h0M438.1 77.6h0M410.0 114.7h0M404.4 117.5h0M462.2 80.4h0M409.4 129.4h0M430.7 112.5h0M437.0 67.1h0M408.5 108.4h0M415.7 55.7h0M462.6 103.3h0M478.0 118.4h0M430.4 111.0h0M452.6 97.0h0M438.0 96.5h0M436.5 132.9h0M415.8 119.8h0M466.7 86.5h0M470.7 74.2h0M418.2 75.3h0M409.0 102.3h0M420.3 127.1h0M448.8 112.4h0M439.7 98.0h0M449.6 116.6h0M468.7 112.3h0M431.6 60.8h0M471.1 74.1h0M429.2 52.3h0M415.0 65.4h0M446.1 89.6h0M447.1 71.5h0M449.9 139.7h0M444.7 97.4h0M418.3 93.2h0M367.6 132.8h0M414.1 124.2h0M440.6 91.1h0M435.6 109.8h0M421.9 96.7h0M487.8 91.1h0M424.9 66.7h0M446.0 106.5h0M414.3 56.6h0M409.3 134.7h0M476.8 83.1h0M463.4 94.6h0M468.8 85.7h0M487.2 88.8h0M453.1 70.0h0M414.7 74.0h0M425.2 124.9h0M453.9 123.3h0M454.8 93.2h0M415.4 59.7h0M475.0 72.8h0M448.1 68.0h0M464.4 88.7h0M460.5 75.7h0M431.2 108.4h0M420.3 99.2h0M443.3 60.9h0M458.5 110.3h0M419.8 124.5h0M459.2 94.5h0M448.0 108.5h0M478.3 101.4h0M437.1 97.2h0M430.7 78.8h0M453.4 84.1h0M423.7 51.1h0M447.6 74.4h0M450.8 112.1h0M467.1 80.3h0M462.0 72.3h0M483.5 113.6h0M481.9 120.3h0M442.6 84.1h0M463.4 84.5h0M461.8 147.3h0M456.6 111.2h0M401.5 138.4h0M461.2 103.0h0M420.3 70.0h0M417.8 100.0h0M459.3 96.3h0M448.4 64.5h0M418.4 144.9h0M411.7 110.0h0M411.8 104.9h0M452.7 90.2h0M435.1 99.5h0M419.8 75.3h0M472.3 71.4h0M416.9 132.2h0M446.3 110.4h0M424.0 66.8h0M485.7 96.0h0M436.1 67.5h0M455.9 98.8h0M432.9 109.5h0M462.2 85.7h0M435.6 105.3h0M461.4 84.4h0M488.5 98.2h0M457.3 107.7h0M393.3 120.3h0M443.3 103.7h0M415.0 56.0h0M423.7 131.1h0M435.3 66.7h0M439.8 58.9h0M431.4 133.3h0M447.4 61.9h0M446.1 116.7h0M416.8 64.1h0M430.5 58.6h0M482.3 82.8h0M441.8 102.0h0M454.6 103.7h0M419.4 106.3h0M456.1 63.8h0M407.5 116.3h0M487.1 96.4h0M460.6 92.2h0M445.9 108.0h0M452.3 110.3h0M467.6 133.1h0M443.2 99.7h0M439.4 57.7h0M470.8 121.8h0M411.5 99.2h0M434.3 55.3h0M421.8 52.4h0M476.8 67.4h0M482.9 69.5h0M442.5 127.9h0M425.5 100.4h0M463.2 106.6h0M484.7 136.2h0M440.4 98.1h0M446.7 94.3h0M446.4 156.4h0M425.0 113.2h0M430.7 108.8h0M422.0 57.0h0M487.4 103.4h0M412.8 129.9h0M452.8 98.1h0M462.6 90.0h0M440.8 99.4h0M454.9 109.2h0M460.5 83.4h0M419.7 112.4h0M476.5 74.7h0M455.6 86.9h0M439.0 60.6h0M413.0 62.6h0M451.1 95.0h0M480.5 80.9h0M410.7 117.8h0M460.5 89.2h0M440.8 85.2h0M449.4 88.8h0M440.0 121.5h0M424.0 94.6h0M483.9 88.1h0M408.4 107.6h0M471.2 71.9h0M443.1 91.6h0M438.8 91.9h0M420.6 71.6h0M431.0 131.8h0M423.5 61.0h0M441.6 67.0h0M456.3 88.1h0M436.1 104.6h0M456.1 86.2h0M415.4 153.3h0M420.9 110.3h0M469.4 128.1h0M405.1 109.3h0M489.8 89.6h0M441.8 115.2h0M480.0 105.8h0M463.5 103.9h0M454.0 96.7h0M435.7 112.2h0M395.0 122.1h0M417.7 68.5h0M459.9 69.8h0M424.7 119.7h0M452.9 110.5h0M443.0 58.1h0M478.8 81.4h0M421.4 115.2h0M449.0 97.0h0M451.8 99.4h0M463.7 80.0h0M450.6 63.9h0M440.4 61.2h0M431.0 99.3h0M399.6 119.3h0M446.1 101.5h0M414.8 66.8h0M443.2 150.1h0M417.0 138.2h0M404.8 136.5h0M436.9 71.9h0M450.9 90.0h0M417.0 56.9h0M416.8 66.6h0M419.5 128.5h0M443.3 111.4h0M405.8 127.8h0M405.9 111.1h0M417.7 79.4h0M483.0 69.9h0M443.1 93.8h0M461.2 108.5h0M488.1 104.3h0M466.0 102.8h0M482.9 123.3h0M468.1 88.9h0M456.3 97.5h0M476.9 74.1h0M488.2 104.4h0M470.5 78.1h0M456.4 99.0h0M434.1 50.2h0M436.6 102.6h0M484.2 113.0h0M400.4 119.6h0M419.6 123.3h0M403.4 126.3h0M446.6 97.9h0M443.1 62.4h0M438.8 100.4h0M421.2 53.7h0M482.3 68.3h0M442.1 91.9h0M451.5 104.9h0M482.3 66.4h0M415.5 78.3h0M453.2 111.5h0M423.0 108.9h0M469.4 126.0h0M439.7 102.9h0M404.9 112.1h0M470.4 85.2h0M486.2 93.8h0M484.2 64.9h0M451.3 63.7h0M430.2 52.3h0M447.2 87.8h0M444.6 58.2h0M414.7 67.7h0M430.9 65.4h0M434.4 103.2h0M414.2 113.8h0M415.8 138.5h0M460.3 97.9h0M463.2 84.1h0M430.3 62.6h0M447.0 111.0h0M460.0 132.4h0M402.3 122.6h0M440.6 61.4h0M413.8 107.7h0M487.8 92.2h0M434.0 121.8h0M466.9 92.5h0M472.1 123.7h0M423.7 104.7h0M435.6 71.6h0M449.2 105.8h0M439.8 58.3h0M441.6 90.7h0M462.8 87.6h0M486.7 100.1h0M409.8 103.8h0M414.1 110.5h0M477.1 76.5h0M357.3 172.1h0M491.0 95.4h0M480.6 137.9h0M429.4 126.8h0M448.5 138.8h0M450.7 94.3h0M465.3 97.5h0M480.8 136.7h0M419.2 56.7h0M417.3 107.7h0M443.3 103.3h0M432.2 115.7h0M444.7 82.0h0M457.9 90.5h0M437.5 53.2h0M448.1 137.2h0M472.0 79.6h0M486.6 97.8h0M420.3 116.4h0M436.9 59.4h0M442.5 60.7h0M485.4 123.1h0M440.2 61.1h0M447.8 109.2h0M419.6 76.4h0M418.1 106.6h0M443.2 96.4h0M448.9 150.8h0M478.1 108.6h0M459.2 107.7h0M418.5 64.9h0M437.0 66.1h0M436.4 108.8h0M420.0 105.5h0M426.8 111.0h0M430.7 130.0h0M423.7 90.2h0M413.5 128.8h0M435.0 74.6h0M436.8 122.1h0M459.2 108.9h0M440.1 103.2h0M394.3 111.5h0M462.5 112.7h0M478.4 69.4h0M442.2 93.6h0M417.9 72.0h0M481.1 98.5h0M420.2 108.6h0M421.1 100.4h0M444.7 100.8h0M440.9 60.5h0M418.1 131.0h0M467.9 82.0h0M481.7 136.5h0M460.6 107.8h0M401.3 112.9h0M459.1 150.7h0M479.8 68.2h0M467.1 96.2h0M461.6 94.3h0M446.4 111.9h0M415.8 72.5h0M465.0 82.1h0M416.8 101.9h0M446.2 84.1h0M411.7 126.4h0M453.3 100.1h0M418.0 67.8h0M464.6 82.2h0M444.8 90.3h0M467.2 83.7h0M429.1 128.7h0M432.7 67.5h0M436.9 77.8h0M466.7 85.2h0M461.2 85.3h0M435.4 99.9h0M436.1 103.5h0M441.6 66.7h0M432.8 58.8h0M427.0 131.3h0M467.4 77.9h0M440.4 94.3h0M452.4 73.2h0M415.6 105.7h0M489.8 92.4h0M472.4 131.9h0M446.9 104.5h0M465.9 107.6h0M461.2 110.1h0M420.6 104.2h0M421.8 93.6h0M455.4 104.3h0M437.1 98.9h0M440.6 93.2h0M487.5 102.4h0M415.1 55.3h0M414.4 134.0h0M423.5 79.3h0M475.1 79.2h0M474.0 134.7h0M480.7 101.4h0M422.1 119.6h0M438.2 89.3h0M479.6 64.7h0M470.1 70.3h0M424.6 109.3h0M465.3 85.6h0M444.3 87.2h0M433.8 115.1h0M423.2 118.9h0M448.2 102.1h0M450.0 90.6h0M405.4 104.5h0M467.4 92.7h0M487.2 86.3h0M485.5 88.1h0M448.0 89.7h0M480.6 69.8h0M443.6 89.3h0M419.5 65.6h0M487.9 100.7h0M486.0 114.4h0M414.1 59.7h0M452.0 86.5h0M424.5 50.6h0M454.4 101.1h0M444.8 114.1h0M440.5 95.1h0M419.1 65.9h0M432.1 131.4h0M410.3 121.3h0M417.9 69.1h0M424.8 125.9h0M462.1 87.7h0M415.0 59.3h0M410.3 105.1h0M452.4 105.9h0M463.6 79.6h0M436.5 102.4h0M458.0 84.9h0M484.3 128.6h0M463.3 97.6h0M465.9 86.2h0M406.9 129.5h0M454.5 139.6h0M464.1 105.5h0M413.6 118.4h0M429.5 82.7h0M416.6 123.8h0M475.8 76.3h0M436.6 98.9h0M454.7 93.1h0M447.5 123.0h0M440.1 97.8h0M405.1 131.7h0M400.7 130.5h0M472.3 80.3h0M409.6 130.6h0M400.3 124.4h0M467.1 71.9h0M424.5 55.0h0M447.0 131.7h0M426.7 108.8h0M430.3 95.1h0M454.8 96.9h0M431.3 67.7h0M450.2 137.9h0M439.7 127.3h0M445.6 113.4h0M421.3 54.0h0M429.3 66.8h0M459.5 116.2h0M485.4 92.4h0M439.3 97.4h0M449.3 91.0h0M441.1 108.7h0M420.0 80.3h0M466.0 97.5h0M396.6 131.2h0M441.9 143.5h0M443.2 116.5h0M428.5 109.7h0M442.2 88.6h0M460.1 126.4h0M402.1 116.7h0M434.3 125.4h0M438.5 61.4h0M479.6 79.6h0M461.2 77.1h0M480.5 66.3h0M455.4 88.2h0M439.2 98.4h0M430.5 78.6h0M427.6 133.9h0M467.4 84.7h0M474.7 113.2h0M466.4 82.9h0M473.4 115.6h0M421.2 100.4h0M437.5 57.9h0M458.3 94.6h0M461.0 91.1h0M422.9 126.5h0M483.4 72.0h0M439.4 89.8h0M482.4 70.6h0M397.5 117.9h0M445.9 106.7h0M417.7 78.9h0M464.6 79.6h0M449.6 106.0h0M435.5 85.1h0M418.1 68.7h0M446.0 74.6h0M454.9 122.6h0M447.6 96.0h0M438.6 107.4h0M458.1 129.9h0M407.3 124.2h0M482.2 84.9h0M478.0 69.2h0M438.7 137.0h0M444.5 98.9h0M434.2 76.3h0M409.0 129.3h0M420.0 62.3h0M431.3 112.0h0M438.0 107.8h0M428.8 75.4h0M433.8 134.8h0M462.9 74.6h0M425.9 55.5h0M485.0 80.5h0M450.6 67.5h0M422.6 118.4h0M436.5 54.8h0M476.6 80.2h0M417.9 116.1h0M440.3 135.4h0M482.2 70.6h0M415.0 63.6h0M456.7 106.0h0M405.2 126.5h0M443.1 89.3h0M481.3 124.9h0M445.0 66.7h0M433.6 104.0h0M446.7 73.1h0M420.4 69.3h0M438.0 96.9h0M442.7 134.1h0M480.6 67.4h0M439.9 113.0h0M481.0 128.2h0M437.0 107.9h0M414.3 124.1h0M410.4 111.8h0M437.1 122.8h0M446.4 94.7h0M414.6 131.8h0M434.4 112.7h0M437.2 74.4h0M435.5 145.8h0M420.2 118.6h0M425.8 113.1h0M425.0 95.2h0M445.6 95.3h0M424.5 97.6h0M478.3 71.3h0M465.1 135.2h0M380.8 164.5h0M473.7 110.8h0M428.6 126.2h0M476.4 86.6h0M431.2 58.1h0M424.0 107.6h0M459.2 106.6h0M476.5 112.9h0M402.3 136.0h0M427.6 87.4h0M403.3 110.9h0M411.6 130.7h0M479.4 87.6h0M433.8 83.1h0M475.6 80.9h0M481.3 137.2h0M453.4 104.3h0M433.0 74.7h0M423.8 62.8h0M426.5 101.2h0M481.0 106.2h0M429.5 80.2h0M463.1 119.0h0M420.0 109.4h0M454.2 100.3h0M440.1 91.5h0M429.1 94.6h0M439.2 90.0h0M463.4 136.8h0M427.6 73.8h0M467.5 81.8h0M462.2 100.0h0M467.3 81.5h0M425.0 57.6h0M475.4 74.3h0M419.0 80.5h0M488.9 94.0h0M445.9 150.0h0M417.5 100.8h0M442.0 68.4h0M482.2 91.2h0M426.8 74.0h0M482.3 72.3h0M487.1 119.6h0M467.9 73.1h0M480.2 106.3h0M479.6 99.0h0M453.6 85.0h0M430.1 117.1h0M441.2 88.4h0M441.5 107.6h0M433.3 67.7h0M440.0 94.5h0M465.6 93.3h0M485.2 115.4h0M399.9 122.2h0M407.6 123.0h0M460.7 65.8h0M435.6 104.3h0M468.4 76.5h0M484.6 85.7h0M446.6 82.7h0M400.2 136.1h0M476.1 84.3h0M420.7 79.7h0M469.7 92.4h0M411.5 65.6h0M426.2 99.9h0M463.8 83.5h0M436.8 124.4h0M409.3 117.4h0M436.5 107.0h0M429.4 60.8h0M408.3 109.9h0M453.0 69.7h0M406.8 117.4h0M407.0 133.0h0M481.6 87.9h0M406.5 133.3h0M467.1 80.1h0M433.3 127.0h0M463.3 122.5h0M435.2 104.7h0M418.3 63.6h0M453.9 90.0h0M419.5 119.6h0M449.0 105.4h0M457.8 92.5h0M422.4 127.4h0M475.7 81.8h0M480.0 71.5h0M453.5 102.0h0M429.8 109.4h0M477.4 76.2h0M461.1 96.1h0M381.7 123.6h0M420.0 54.8h0M423.5 86.6h0M480.4 65.1h0M450.7 96.7h0M489.1 101.6h0M458.7 112.4h0M421.6 78.7h0M482.2 66.5h0M419.0 129.6h0M470.6 130.3h0M435.5 116.1h0M410.1 109.1h0M447.2 104.4h0M406.0 128.8h0M453.4 99.4h0M448.6 91.1h0M448.3 122.4h0M444.3 70.4h0M421.4 96.5h0M470.2 88.4h0M424.9 49.3h0M439.5 60.0h0M448.9 98.6h0M479.4 70.1h0M464.4 66.6h0M408.7 130.1h0M482.8 67.1h0M456.6 96.1h0M432.6 57.1h0M422.8 123.2h0M426.4 136.3h0M441.3 112.5h0M478.9 69.2h0M459.4 106.6h0M448.4 66.1h0M486.1 95.9h0M435.4 101.5h0M477.9 81.0h0M423.4 68.4h0M398.1 110.7h0M424.3 139.7h0M435.6 134.4h0M458.4 86.4h0M471.6 119.3h0M461.4 135.7h0M463.8 90.6h0M484.2 121.3h0M439.6 100.4h0M480.4 70.7h0M483.8 89.0h0M401.2 119.5h0M434.2 113.8h0M486.6 91.7h0M415.8 77.0h0M475.6 75.8h0M474.2 78.4h0M450.6 69.5h0M462.2 124.5h0M436.1 65.2h0M406.9 127.8h0M485.6 91.0h0M464.7 92.2h0M430.8 112.3h0M469.0 127.5h0M428.8 107.6h0M435.2 71.1h0M448.6 131.8h0M440.3 104.3h0M415.6 127.6h0M423.3 134.6h0M479.0 85.5h0M426.1 68.7h0M487.3 103.6h0M433.9 68.7h0M484.6 101.4h0M430.5 124.8h0M396.5 127.8h0M422.3 83.3h0M447.1 124.6h0M421.5 107.3h0M457.8 106.2h0M462.9 92.1h0M468.6 90.5h0M476.0 109.3h0M448.0 110.6h0M481.4 66.2h0M427.7 62.0h0M462.2 126.6h0M328.5 185.5h0M407.1 120.4h0M433.0 51.6h0M451.8 98.3h0M484.0 66.5h0M458.9 89.4h0M405.3 108.3h0M437.9 109.7h0M414.4 64.8h0M461.5 78.3h0M478.2 108.3h0M437.6 101.6h0M490.4 98.5h0M458.9 103.1h0M412.5 105.7h0M429.3 149.4h0M479.1 117.5h0M398.8 121.5h0M465.8 86.7h0M464.1 87.4h0M460.1 93.0h0M443.9 72.2h0M438.8 105.4h0M477.0 117.3h0M417.2 108.0h0M396.9 115.5h0M438.4 60.2h0M436.6 53.1h0M474.6 72.3h0M448.8 63.0h0M477.8 89.2h0M437.0 58.1h0M457.6 111.8h0M334.4 169.0h0M395.8 110.3h0M467.3 71.6h0M427.3 114.2h0M409.3 115.3h0M450.1 112.4h0M416.2 59.4h0M476.8 79.9h0M417.6 141.4h0M482.9 105.4h0M434.3 70.2h0M454.9 85.3h0M461.4 69.7h0M468.1 120.1h0M476.0 78.8h0M416.6 59.3h0M443.0 103.3h0M447.1 97.6h0M453.6 84.8h0M469.3 109.6h0M415.9 55.9h0M457.2 66.7h0M483.7 70.5h0M479.4 139.3h0M439.6 70.0h0M427.5 123.8h0M453.3 70.1h0M457.6 134.6h0M400.3 104.6h0M406.6 137.4h0M429.9 98.6h0M434.3 54.7h0M399.8 129.6h0M428.1 57.2h0M418.0 124.6h0M438.5 150.2h0M432.3 133.9h0M431.6 70.5h0M425.1 125.0h0M446.5 92.2h0M486.1 86.6h0M438.4 75.3h0M467.6 73.1h0M421.8 89.6h0M428.9 114.7h0M409.3 124.3h0M452.3 64.1h0M428.2 50.8h0M462.9 110.3h0M413.7 132.0h0M470.3 92.9h0M462.8 84.8h0M443.5 98.9h0M413.3 58.0h0M427.7 48.9h0M428.6 126.4h0M398.0 127.5h0M396.3 121.6h0M457.9 150.8h0M458.5 92.2h0M414.8 136.3h0M433.0 108.2h0M476.2 76.4h0M409.8 110.8h0M454.5 64.4h0M440.4 85.3h0M428.6 56.0h0M440.4 104.2h0M463.8 91.9h0M422.6 125.6h0M409.7 140.0h0M420.3 130.9h0M454.5 99.0h0M457.8 66.6h0M430.0 73.6h0M400.0 131.5h0M481.8 89.1h0M479.7 112.7h0M460.9 108.6h0" stroke="#00BA38" stroke-width="1.45" stroke-linecap="round" fill="none"/>
<path d="M365.5 174.5h0M363.2 168.3h0M322.4 162.1h0M333.6 171.4h0M311.6 164.3h0M356.5 154.5h0M357.3 170.4h0M367.1 173.9h0M312.1 159.2h0M332.8 177.8h0M439.4 152.5h0M345.1 163.6h0M340.6 152.0h0M349.2 115.7h0M352.9 184.6h0M333.9 155.1h0M335.5 177.5h0M333.7 167.7h0M325.8 159.7h0M333.8 172.7h0M350.7 180.7h0M344.0 164.9h0M313.2 170.0h0M348.9 115.2h0M332.5 164.5h0M329.0 167.6h0M328.1 155.3h0M324.4 154.6h0M348.2 167.4h0M345.9 122.0h0M358.1 179.2h0M339.7 171.2h0M339.5 167.5h0M410.9 96.8h0M353.6 168.0h0M324.0 170.9h0M348.2 124.2h0M313.7 159.5h0M337.9 152.4h0M314.5 165.1h0M345.2 160.3h0M337.3 166.7h0M347.5 174.7h0M339.4 154.6h0M348.1 176.6h0M329.4 168.8h0M348.0 114.3h0M350.0 163.5h0M317.2 158.6h0M324.6 144.4h0M347.2 149.0h0M323.3 156.2h0M349.9 186.5h0M336.1 167.0h0M335.5 157.5h0M360.9 171.7h0M323.7 157.0h0M353.9 182.7h0M330.8 170.5h0M345.8 171.5h0M330.9 143.5h0M329.1 164.5h0M342.7 186.7h0M315.9 163.5h0M334.3 168.1h0M316.6 156.3h0M335.5 181.6h0M323.3 150.3h0M460.8 149.8h0M328.8 162.2h0M349.1 149.0h0M346.0 158.8h0M323.9 149.5h0M333.7 184.7h0M382.7 145.6h0M326.5 153.0h0M368.2 182.3h0M334.0 155.3h0M322.7 162.9h0M317.9 152.1h0M328.1 144.8h0M319.9 167.9h0M334.0 187.1h0M349.8 167.6h0M438.3 154.0h0M343.2 148.0h0M339.5 143.6h0M354.9 159.1h0M355.2 153.9h0M317.8 160.7h0M318.2 155.7h0M334.3 175.4h0M338.2 182.4h0M332.5 157.5h0M344.0 168.2h0M328.4 146.2h0M333.7 172.6h0M351.2 166.8h0M352.8 171.2h0M364.3 185.6h0M364.4 183.8h0M363.0 160.8h0M346.0 182.4h0M341.2 178.5h0M336.1 146.1h0M344.8 163.8h0M362.2 167.2h0M332.8 185.0h0M332.0 169.3h0M327.7 168.9h0M366.2 185.4h0M352.3 155.7h0M353.9 164.6h0M336.1 156.4h0M341.1 185.6h0M354.0 166.1h0M349.9 155.0h0M340.3 182.5h0M350.7 118.0h0M313.4 157.0h0M353.6 181.8h0M332.3 149.1h0M332.7 160.2h0M314.6 158.1h0M323.9 155.9h0M370.5 178.8h0M348.7 170.7h0M353.8 169.5h0M352.3 168.9h0M347.4 189.7h0M330.2 145.2h0M343.7 186.3h0M350.3 113.2h0M331.8 175.4h0M374.5 175.6h0M334.9 170.8h0M346.9 181.1h0M344.0 155.0h0M321.4 159.3h0M325.5 153.1h0M350.3 115.7h0M325.4 168.5h0M402.0 128.4h0M317.0 155.9h0M321.6 156.8h0M348.3 186.2h0M332.9 159.3h0M345.2 148.3h0M332.3 163.1h0M337.9 173.9h0M358.6 185.2h0M341.2 159.5h0M362.3 151.5h0M345.2 157.7h0M343.1 178.9h0M348.5 179.4h0M348.8 145.1h0M365.4 182.7h0M424.8 130.1h0M325.0 159.2h0M361.5 178.1h0M347.9 184.6h0M332.1 167.2h0M350.9 181.1h0M315.8 153.4h0M355.7 185.8h0M332.8 146.0h0M318.1 170.2h0M374.3 170.6h0M335.7 153.5h0M317.8 170.1h0M374.5 176.0h0M350.8 179.2h0M318.9 159.2h0M330.4 164.1h0M333.1 176.7h0M336.1 185.5h0M313.2 170.2h0M350.4 178.0h0M318.1 173.3h0M330.4 177.5h0M325.3 164.6h0M328.3 167.1h0M435.8 148.5h0M364.5 180.5h0M353.4 181.4h0M332.6 148.8h0M343.2 181.3h0M346.3 185.4h0M318.4 154.3h0M330.9 189.1h0M314.2 161.4h0M342.4 154.7h0M344.6 166.1h0M321.8 149.9h0M436.4 152.0h0M340.7 142.9h0M343.6 190.5h0M336.3 151.4h0M317.5 156.7h0M377.5 179.9h0M324.2 151.7h0M314.0 169.7h0M334.6 186.1h0M429.3 88.0h0M333.8 163.9h0M313.4 166.8h0M318.7 173.7h0M359.0 184.9h0M328.7 175.3h0M338.7 163.3h0M353.6 188.9h0M351.6 181.9h0M348.9 116.5h0M355.7 171.1h0M444.6 150.9h0M436.1 141.5h0M328.8 142.8h0M329.8 165.9h0M413.4 149.8h0M347.1 164.6h0M364.0 184.8h0M337.1 143.3h0M370.9 185.1h0M353.5 189.1h0M446.6 141.8h0M335.8 153.8h0M365.8 182.8h0M367.2 186.9h0M351.0 162.7h0M330.2 156.5h0M356.4 172.2h0M347.3 152.8h0M348.7 115.3h0M354.8 170.4h0M336.4 178.8h0M422.0 138.6h0M342.8 163.3h0M450.7 143.3h0M339.5 146.9h0M339.6 185.0h0M317.0 153.2h0M350.2 177.9h0M331.5 157.0h0M346.7 175.1h0M344.3 169.4h0M323.1 162.5h0M317.6 154.3h0M325.3 151.8h0M338.2 144.5h0M332.5 164.2h0M327.0 168.6h0M313.1 158.1h0M316.4 171.7h0M321.3 155.4h0M337.0 180.2h0M344.6 154.4h0M329.5 175.3h0M315.3 168.7h0M334.4 147.9h0M321.0 155.5h0M332.9 184.4h0M352.6 183.2h0M346.0 172.3h0M449.9 152.6h0M391.6 165.5h0M353.9 158.7h0M324.2 149.3h0M344.2 187.1h0M351.0 167.4h0M372.3 182.0h0M340.9 173.6h0M343.0 157.7h0M315.2 156.2h0M340.4 189.8h0M363.6 141.4h0M348.5 116.1h0M344.2 173.7h0M351.8 170.1h0M361.5 180.9h0M339.4 165.9h0M367.7 171.0h0M337.6 162.1h0M328.0 184.0h0M321.9 160.7h0M345.7 175.9h0M316.2 153.1h0M345.2 184.0h0M342.2 154.4h0M346.6 179.3h0M349.0 128.2h0M348.3 168.7h0M354.3 157.3h0M346.6 180.1h0M325.4 176.8h0M470.6 142.0h0M340.8 189.5h0M341.3 141.6h0M335.5 163.8h0M320.9 174.1h0M348.3 189.5h0M338.6 144.2h0M352.0 182.7h0M341.9 178.5h0M361.0 179.8h0M328.6 166.7h0M339.8 180.7h0M356.7 186.1h0M341.7 165.5h0M327.0 177.3h0M336.4 179.2h0M339.6 146.6h0M376.4 182.2h0M334.4 185.2h0M321.3 174.6h0M333.8 158.9h0M319.3 176.4h0M329.8 159.6h0M329.0 176.7h0M351.6 150.5h0M352.6 180.0h0M324.6 172.0h0M322.8 170.0h0M329.1 143.9h0M359.2 180.7h0M328.7 163.5h0M319.0 151.6h0M339.3 170.9h0M348.0 127.5h0M324.1 160.5h0M347.7 175.4h0M338.6 159.2h0M317.5 153.2h0M335.9 144.9h0M357.4 183.9h0M331.5 186.4h0M435.0 149.7h0M354.1 188.0h0M345.3 164.5h0M344.4 179.7h0M314.9 159.8h0M346.8 162.9h0M352.3 182.1h0M342.8 183.6h0M364.4 183.7h0M318.2 170.1h0M343.6 166.8h0M326.7 173.4h0M442.8 136.2h0M312.8 155.8h0M367.7 186.1h0M351.2 154.7h0M380.9 167.3h0M350.2 138.9h0M333.1 159.7h0M331.7 166.5h0M331.0 181.1h0M350.2 117.3h0M348.7 177.4h0M321.5 163.6h0M345.8 176.9h0M312.1 166.7h0M354.9 155.3h0M336.0 184.8h0M336.5 157.4h0M325.6 146.8h0M339.4 164.1h0M365.6 185.6h0M348.9 114.8h0M363.3 170.8h0M348.2 182.9h0M329.2 184.3h0M369.6 173.9h0M356.4 166.3h0M355.0 173.4h0M313.2 166.5h0M352.4 186.7h0M348.0 121.0h0M333.0 159.1h0M332.0 142.4h0M339.6 151.7h0M333.6 187.6h0M358.0 182.0h0M328.8 151.0h0M322.5 147.1h0M343.3 177.4h0M345.5 176.5h0M334.5 172.0h0M316.7 156.1h0M348.6 163.4h0M355.6 164.6h0M315.6 167.9h0M363.1 161.1h0M360.8 187.7h0M348.7 112.0h0M312.2 160.1h0M338.2 181.0h0M339.7 179.1h0M349.0 179.4h0M316.2 168.4h0M315.1 152.2h0M329.5 170.1h0M328.1 155.0h0M350.4 160.1h0M323.4 176.5h0M360.6 141.9h0M338.3 178.3h0M330.2 159.2h0M319.1 153.5h0M346.3 186.6h0M360.1 170.2h0M321.0 174.5h0M352.9 183.8h0M334.3 148.6h0M355.6 160.0h0M420.2 89.3h0M324.7 168.6h0M336.4 172.9h0M337.6 155.5h0M342.9 143.3h0M334.9 167.5h0M311.4 165.7h0M342.6 181.5h0M352.8 170.5h0M351.3 141.8h0M345.0 171.9h0M316.9 152.8h0M336.6 178.9h0M353.7 178.4h0M322.1 153.4h0M320.8 173.8h0M370.6 148.8h0M340.0 169.8h0M376.3 168.0h0M346.7 117.7h0M343.3 188.6h0M335.3 146.6h0M378.1 182.5h0M318.3 157.1h0M316.6 172.4h0M332.8 157.6h0M338.6 160.6h0M350.5 167.1h0M349.4 117.4h0M315.3 163.1h0M322.6 180.0h0M350.7 178.7h0M313.0 172.7h0M324.4 179.5h0M355.2 184.8h0M339.2 166.3h0M330.5 154.6h0M356.3 175.9h0M338.5 177.9h0M316.3 162.3h0M335.4 167.5h0M336.0 168.4h0M451.2 148.6h0M320.6 174.0h0M346.7 147.1h0M324.3 172.0h0M348.0 187.7h0M326.0 158.5h0M318.3 156.3h0M315.1 165.8h0M328.3 181.7h0M332.1 185.6h0M346.7 144.7h0M353.8 156.9h0M382.4 153.2h0M350.3 156.3h0M338.4 167.0h0M334.7 182.5h0M355.3 171.3h0M371.5 166.7h0M315.0 164.4h0M329.0 154.6h0M359.2 167.5h0M350.1 156.4h0M328.4 146.8h0M342.4 168.9h0M339.5 162.0h0M345.3 187.7h0M343.4 171.9h0M330.9 176.7h0M359.6 182.5h0M369.3 171.2h0M448.9 151.2h0M344.7 179.6h0M326.9 168.9h0M316.7 172.8h0M338.1 184.1h0M312.2 168.5h0M363.4 172.7h0M355.8 182.1h0M348.8 161.0h0M329.5 177.5h0M346.6 183.9h0M361.1 179.1h0M346.4 147.5h0M359.2 155.1h0M350.1 163.8h0M435.5 146.8h0M322.6 157.9h0M337.3 169.4h0M351.2 116.0h0M327.8 182.9h0M338.2 176.2h0M366.9 169.8h0M313.3 161.0h0M309.6 166.1h0M322.3 157.4h0M404.7 124.7h0M351.2 175.7h0M334.8 168.8h0M346.7 164.5h0M353.2 116.5h0M350.6 180.5h0M333.6 152.0h0M325.3 160.0h0M341.7 173.7h0M440.5 146.1h0M342.2 185.3h0M329.3 168.1h0M322.6 146.9h0M333.7 173.5h0M348.4 168.5h0M319.2 173.7h0M348.6 160.1h0M326.7 151.7h0M347.6 189.2h0M318.0 165.4h0M371.6 180.8h0M320.2 157.0h0M439.2 148.9h0M327.3 157.4h0M329.6 167.3h0M347.3 192.2h0M330.2 176.1h0M320.3 152.8h0M329.2 169.0h0M362.5 167.9h0M350.0 188.1h0M436.6 149.4h0M338.9 149.6h0M335.6 152.8h0M340.3 176.4h0M326.2 148.5h0M320.3 160.2h0M343.7 149.5h0M344.8 189.4h0M449.1 155.1h0M347.5 169.9h0M326.0 166.9h0M327.5 160.7h0M347.6 179.3h0M332.7 170.2h0M413.2 99.9h0M334.3 155.1h0M340.4 153.8h0M344.7 177.6h0M315.5 158.4h0M322.0 150.2h0M364.6 171.4h0M350.9 160.1h0M326.1 175.0h0M347.8 151.2h0M356.8 186.6h0M320.9 177.9h0M349.1 135.6h0M337.3 169.0h0M324.6 179.0h0M353.7 188.5h0M341.9 172.9h0M328.4 174.8h0M346.9 171.8h0M348.3 157.6h0M328.2 146.7h0M354.8 173.2h0M318.4 174.0h0M347.8 180.0h0M317.2 161.7h0M328.9 147.1h0M371.6 180.7h0M339.2 168.2h0M356.0 184.2h0M350.5 118.9h0M357.3 185.1h0M327.3 184.7h0M348.0 116.0h0M361.1 175.1h0M339.9 182.9h0M329.5 150.1h0M332.5 183.4h0M320.2 169.1h0M355.6 155.6h0M340.1 182.2h0M332.4 185.0h0M354.4 172.1h0M333.0 186.4h0M325.0 166.6h0M348.8 124.6h0M312.5 163.4h0M312.2 157.5h0M323.6 171.9h0M315.0 163.0h0M362.3 182.8h0M427.7 138.6h0M368.2 185.8h0M349.5 111.6h0M352.8 134.7h0M354.8 175.0h0M347.2 122.0h0M339.2 159.2h0M352.2 184.9h0M328.8 171.7h0M321.7 172.3h0M336.2 180.2h0M347.0 177.8h0M319.5 153.9h0M384.3 165.4h0M330.6 180.3h0M310.6 158.2h0M309.4 169.6h0M317.1 162.8h0M338.5 173.0h0M321.8 148.2h0M332.4 162.8h0M435.2 145.6h0M360.3 179.3h0M339.8 150.9h0M463.9 145.4h0M328.4 182.5h0M318.9 148.8h0M320.0 173.9h0M362.6 179.8h0M326.9 179.4h0M321.9 171.1h0M317.5 179.2h0M331.2 159.5h0M315.3 158.1h0M331.3 152.8h0M334.3 175.7h0M371.0 172.4h0M331.5 163.2h0M436.2 142.4h0M363.6 179.1h0M333.5 179.2h0M331.8 177.7h0M336.4 157.2h0M350.6 152.6h0M329.0 156.8h0M344.2 169.3h0M351.7 160.9h0M345.8 176.5h0M336.7 178.5h0M443.7 139.6h0M343.5 164.6h0M327.6 184.1h0M339.8 144.2h0M316.8 159.4h0M341.4 175.4h0M334.9 157.3h0M342.1 174.1h0M349.8 116.1h0M345.3 168.2h0M337.3 159.1h0M311.0 159.2h0M320.7 176.6h0M335.5 169.7h0M326.8 152.1h0M319.3 177.7h0M331.1 154.6h0M335.4 152.5h0M322.3 163.0h0M447.9 150.5h0M344.3 174.8h0M311.9 170.4h0M354.7 186.7h0M352.4 159.0h0M324.2 176.7h0M331.1 182.0h0M424.0 128.8h0M356.7 178.4h0M330.2 158.7h0M351.3 114.2h0M318.1 157.9h0M325.3 161.1h0M353.9 168.3h0M351.7 117.0h0M328.7 175.4h0M328.6 172.0h0M323.0 176.4h0M317.5 144.0h0M344.2 173.5h0M329.4 179.9h0M349.6 166.0h0M325.6 179.2h0M335.1 167.9h0M338.7 157.4h0M318.6 170.5h0M340.2 176.1h0M336.7 172.6h0M349.3 189.1h0M351.6 159.3h0M311.1 168.0h0M339.7 185.9h0M433.9 146.2h0M335.9 184.3h0M351.1 111.6h0M326.7 171.4h0M354.9 158.3h0M334.8 187.0h0M313.0 158.0h0M322.1 157.5h0M327.6 162.9h0M336.2 172.8h0M348.6 126.5h0M350.6 168.7h0M346.9 172.5h0M358.2 173.4h0M321.9 163.7h0M340.7 155.3h0M345.2 189.9h0M318.2 159.2h0M335.3 147.0h0M356.5 176.4h0M337.6 177.4h0M310.8 162.7h0M332.3 186.3h0M349.9 132.0h0M332.2 164.3h0M350.8 114.1h0M418.0 148.6h0M325.7 181.0h0M351.5 117.5h0M350.1 121.5h0M321.8 173.9h0M337.2 150.5h0M341.6 148.9h0M353.6 149.1h0M361.3 157.4h0M350.4 112.1h0M324.0 146.8h0M342.1 168.5h0M345.6 155.9h0M334.9 164.9h0M344.4 156.6h0M342.6 143.3h0M370.5 134.3h0M378.6 176.5h0M328.5 173.1h0M342.5 161.5h0M332.5 170.5h0M326.4 185.3h0M326.6 158.9h0M355.3 177.8h0M337.5 156.3h0M332.8 149.7h0M345.8 179.8h0M330.3 176.9h0M328.2 166.8h0M327.8 172.5h0M335.1 185.4h0M352.0 180.7h0M348.8 130.3h0M333.0 162.8h0M347.1 174.6h0M356.0 182.6h0M321.4 166.7h0M344.8 154.5h0M358.8 182.0h0M317.9 173.5h0M315.3 165.9h0M354.5 162.9h0M339.9 172.7h0M348.2 156.5h0M342.0 173.3h0M319.3 153.4h0M317.3 159.3h0M343.0 175.4h0M353.5 186.8h0M363.4 162.1h0M344.2 182.2h0M444.9 153.2h0M315.4 167.5h0M431.4 152.7h0M337.3 142.6h0M343.2 189.6h0M335.7 149.7h0M340.5 169.1h0M350.3 171.7h0M437.6 121.9h0M348.2 184.4h0M329.2 152.9h0M365.4 160.2h0M328.2 161.9h0M331.7 182.2h0M317.8 178.1h0M333.1 162.8h0M325.4 179.1h0M347.4 152.8h0M343.6 169.7h0M348.9 117.2h0M338.3 166.6h0M332.0 159.3h0M356.1 174.3h0M348.9 127.3h0M342.1 177.5h0M336.6 177.7h0M328.4 156.2h0M364.8 175.1h0M369.3 176.6h0M323.1 154.7h0M332.3 166.1h0M332.4 163.2h0M331.4 171.7h0M350.7 185.7h0M357.1 155.2h0M332.7 184.7h0M331.2 168.6h0M354.0 170.0h0M358.6 159.5h0M349.9 116.9h0M444.0 141.5h0M333.8 152.8h0M366.0 181.8h0M448.4 137.8h0M339.3 171.0h0M444.9 147.9h0M326.3 158.0h0M333.1 187.3h0M347.9 191.2h0M314.3 174.1h0M322.9 158.3h0M436.8 142.7h0M338.9 185.5h0M337.4 187.1h0M346.8 159.5h0M337.5 168.7h0M329.5 184.0h0M337.1 161.8h0M334.2 157.0h0M330.7 165.9h0M322.2 149.5h0M331.4 146.6h0M324.3 171.4h0M322.3 176.0h0M350.6 180.8h0M332.6 165.4h0M315.2 165.0h0M327.6 178.1h0M349.7 149.0h0M340.3 142.3h0M323.6 166.9h0M349.4 170.0h0M345.4 141.9h0M336.1 158.4h0M324.8 181.8h0M322.8 170.7h0M363.3 175.0h0M340.0 158.5h0M323.1 177.4h0M335.2 151.0h0M340.5 166.1h0M336.2 178.9h0M351.7 116.6h0M349.6 114.5h0M352.5 163.6h0M339.1 170.7h0M348.6 114.8h0M316.6 171.3h0M316.2 159.1h0M366.4 148.0h0M361.3 180.0h0M342.5 182.7h0M324.3 153.4h0M342.6 170.7h0M336.5 156.2h0M312.5 159.8h0M353.1 179.7h0M327.8 179.6h0M362.3 161.8h0M318.7 174.4h0M336.0 167.4h0M322.8 152.8h0M383.3 178.4h0M343.8 183.0h0M346.5 185.1h0M350.1 117.2h0M313.6 169.0h0M337.4 183.4h0M327.9 181.1h0M443.5 145.8h0M323.0 160.0h0M343.6 179.1h0M358.8 143.6h0M343.9 172.2h0M365.6 174.5h0M326.6 178.4h0M320.3 180.0h0M354.2 170.9h0M335.5 164.6h0M356.8 163.6h0M342.4 175.3h0M312.8 160.3h0M348.1 123.1h0M349.5 118.8h0M353.3 167.1h0M330.5 174.3h0M444.1 146.9h0M348.9 144.0h0M349.6 177.7h0M338.2 167.8h0M336.1 175.4h0M315.2 164.9h0M329.7 142.2h0M326.4 179.9h0M328.5 172.1h0M349.2 122.1h0M324.9 181.7h0M350.1 115.1h0M321.7 159.4h0M331.3 176.8h0M322.9 165.5h0M329.6 184.7h0M335.8 149.4h0M339.9 173.4h0M433.4 133.9h0M341.7 153.9h0M332.0 170.7h0M347.2 190.1h0M353.7 161.2h0M344.6 155.1h0M325.1 184.8h0M385.3 171.8h0M337.1 150.4h0M337.7 180.0h0M356.4 173.6h0M348.6 186.2h0M347.3 112.6h0M353.5 178.7h0M443.9 146.6h0M342.9 189.8h0M344.2 152.3h0M341.8 160.2h0M356.2 170.6h0M342.4 174.1h0M350.5 119.5h0M350.1 167.5h0M339.2 179.3h0M322.5 165.0h0M352.1 164.2h0M350.6 182.2h0M320.6 171.0h0M377.6 172.7h0M342.3 184.7h0M350.4 186.0h0M346.2 190.9h0M348.2 176.0h0M357.7 175.2h0M350.2 119.4h0M326.7 167.5h0M319.3 153.6h0M348.7 143.7h0M350.4 185.0h0M446.7 148.3h0M318.1 167.1h0M341.0 170.8h0M332.9 154.2h0M314.4 167.5h0M332.8 166.0h0M311.0 159.8h0M344.3 179.5h0M316.0 154.8h0M314.5 166.1h0M315.8 158.4h0M323.8 170.9h0M320.2 162.7h0M320.5 152.0h0M354.1 170.0h0M325.5 171.9h0M362.4 179.1h0M324.1 168.2h0M347.9 185.3h0M334.2 184.0h0M345.6 177.6h0M334.6 182.2h0M314.0 159.0h0M339.5 189.8h0M347.1 182.9h0M345.4 157.1h0M353.0 156.3h0M347.8 127.2h0M328.1 169.3h0M339.3 184.6h0M353.1 160.9h0" stroke="#619CFF" stroke-width="1.45" stroke-linecap="round" fill="none"/>
<path d="M299.8 40.5V198.7H501.5" stroke="#3a3a3a" stroke-width="1.1" fill="none"/>
<path d="M334.8 198.7v2.6" stroke="#3a3a3a" stroke-width="0.9"/>
<text x="336.7" y="208.0" font-size="9.8" text-anchor="middle" fill="#222">−4</text>
<path d="M392.0 198.7v2.6" stroke="#3a3a3a" stroke-width="0.9"/>
<text x="392.0" y="208.0" font-size="9.8" text-anchor="middle" fill="#222">0</text>
<path d="M449.2 198.7v2.6" stroke="#3a3a3a" stroke-width="0.9"/>
<text x="449.2" y="208.0" font-size="9.8" text-anchor="middle" fill="#222">4</text>
<path d="M299.8 41.8h-2.6" stroke="#3a3a3a" stroke-width="0.9"/>
<text x="297.1" y="44.8" font-size="9.8" text-anchor="end" fill="#222">6</text>
<path d="M299.8 73.2h-2.6" stroke="#3a3a3a" stroke-width="0.9"/>
<text x="297.1" y="76.2" font-size="9.8" text-anchor="end" fill="#222">4</text>
<path d="M299.8 104.6h-2.6" stroke="#3a3a3a" stroke-width="0.9"/>
<text x="297.1" y="107.6" font-size="9.8" text-anchor="end" fill="#222">2</text>
<path d="M299.8 136.0h-2.6" stroke="#3a3a3a" stroke-width="0.9"/>
<text x="297.1" y="139.0" font-size="9.8" text-anchor="end" fill="#222">0</text>
<path d="M299.8 167.4h-2.6" stroke="#3a3a3a" stroke-width="0.9"/>
<text x="297.1" y="170.4" font-size="9.8" text-anchor="end" fill="#222">−2</text>
<text x="404.0" y="217.2" font-size="11.2" text-anchor="middle" fill="#111">UMAP 1</text>
<text transform="translate(284.0 116.0) rotate(-90)" font-size="11.2" text-anchor="middle" fill="#111">UMAP 2</text>
<circle cx="514.0" cy="113.0" r="2.2" fill="#F8766D"/>
<text x="523.0" y="116.3" font-size="10" fill="#111">CMP</text>
<circle cx="514.0" cy="122.0" r="2.2" fill="#00BA38"/>
<text x="523.0" y="125.3" font-size="10" fill="#111">GMP</text>
<circle cx="514.0" cy="131.1" r="2.2" fill="#619CFF"/>
<text x="523.0" y="134.4" font-size="10" fill="#111">HSC</text>
<text x="455.0" y="88.6" font-size="13.5" text-anchor="middle" fill="#111">GMP</text>
<text x="399.0" y="141.0" font-size="13.5" text-anchor="middle" fill="#111">CMP</text>
<text x="355.0" y="161.0" font-size="13.5" text-anchor="middle" fill="#111">HSC</text>
<path d="M344.8 362.3h0M345.4 339.6h0M324.3 365.7h0M334.5 360.5h0M351.1 353.0h0M360.7 381.8h0M336.1 375.8h0M355.0 360.0h0M312.9 368.0h0M360.3 357.5h0M359.8 373.8h0M348.6 366.8h0M345.0 354.9h0M361.2 374.6h0M313.4 362.5h0M343.7 343.3h0M346.2 372.0h0M335.3 382.6h0M340.2 339.7h0M348.3 367.3h0M356.0 357.9h0M343.5 354.8h0M356.6 389.9h0M333.9 345.9h0M348.9 361.3h0M336.4 358.1h0M338.1 382.4h0M359.8 383.9h0M336.2 371.7h0M327.9 363.1h0M336.3 377.2h0M354.2 385.8h0M350.4 362.3h0M347.1 368.6h0M314.6 374.2h0M334.2 345.9h0M334.9 368.2h0M331.2 371.6h0M330.4 358.3h0M326.4 357.6h0M351.6 371.4h0M362.0 384.1h0M342.6 375.5h0M342.3 371.5h0M357.2 372.1h0M326.0 375.2h0M319.7 373.6h0M360.1 371.6h0M348.7 388.2h0M330.5 353.8h0M315.1 362.9h0M340.7 355.2h0M316.0 368.9h0M350.3 364.0h0M348.4 363.7h0M319.6 362.8h0M340.0 370.7h0M350.8 379.3h0M342.3 357.6h0M351.5 381.3h0M331.7 372.9h0M353.5 367.2h0M318.9 361.9h0M344.0 361.3h0M321.9 359.0h0M326.6 346.6h0M350.5 351.6h0M325.2 359.3h0M349.2 369.0h0M351.2 349.4h0M353.4 392.0h0M359.3 379.6h0M338.8 371.0h0M346.6 350.5h0M334.0 358.8h0M338.1 360.7h0M354.7 375.6h0M325.7 360.2h0M348.5 344.8h0M357.6 387.9h0M333.2 374.8h0M321.7 359.8h0M349.4 352.5h0M349.0 375.9h0M333.3 345.6h0M352.7 361.2h0M329.8 379.3h0M328.6 363.0h0M331.3 368.2h0M345.7 392.3h0M359.3 380.2h0M336.7 383.8h0M317.4 367.2h0M355.3 382.3h0M336.9 372.1h0M318.2 359.5h0M338.1 386.7h0M350.9 353.8h0M325.3 352.9h0M331.1 365.7h0M352.5 351.5h0M349.2 362.1h0M357.3 375.2h0M325.9 352.0h0M336.2 390.1h0M328.6 355.8h0M336.6 358.3h0M324.7 366.5h0M319.6 354.9h0M330.3 347.0h0M333.0 391.6h0M321.7 371.9h0M336.5 392.7h0M353.2 371.6h0M344.9 352.6h0M361.8 383.2h0M346.3 350.4h0M342.4 345.7h0M321.8 373.4h0M331.4 377.7h0M358.9 356.8h0M316.6 367.1h0M319.4 364.1h0M319.9 358.8h0M336.9 380.0h0M341.0 387.5h0M341.9 343.0h0M335.8 362.2h0M335.0 360.7h0M346.9 379.7h0M347.2 372.2h0M330.6 348.5h0M336.2 377.0h0M354.7 370.8h0M356.4 375.6h0M342.5 340.2h0M349.2 387.6h0M344.2 383.4h0M338.7 348.4h0M348.0 367.5h0M324.9 354.5h0M335.3 390.4h0M334.5 373.4h0M317.2 371.3h0M350.9 353.9h0M329.9 373.1h0M363.1 384.3h0M348.9 347.7h0M357.5 368.4h0M338.7 359.5h0M344.1 391.1h0M336.0 382.0h0M326.0 385.9h0M362.4 373.0h0M357.7 370.0h0M353.3 358.0h0M343.3 387.7h0M314.8 360.1h0M357.2 387.0h0M334.7 351.7h0M337.0 358.7h0M335.1 363.6h0M316.1 361.4h0M325.9 358.9h0M318.0 365.9h0M361.1 386.2h0M352.0 375.0h0M357.4 373.7h0M355.9 373.0h0M350.7 395.5h0M336.4 374.8h0M336.9 341.5h0M359.1 372.9h0M332.5 347.4h0M346.8 391.8h0M334.2 380.1h0M337.5 375.1h0M350.2 386.2h0M347.1 358.0h0M323.3 362.7h0M327.6 355.9h0M355.2 359.8h0M327.5 372.6h0M363.9 373.1h0M318.6 359.0h0M323.4 360.0h0M351.2 359.9h0M351.7 391.7h0M335.4 362.7h0M348.4 350.8h0M328.2 367.4h0M334.8 366.8h0M340.7 378.4h0M362.5 390.6h0M358.6 362.4h0M344.2 362.9h0M355.3 362.6h0M348.4 361.0h0M352.9 350.6h0M346.2 383.8h0M351.9 384.3h0M347.5 347.9h0M359.6 360.0h0M352.2 347.4h0M327.0 362.5h0M351.2 389.9h0M334.6 371.2h0M354.4 386.1h0M317.3 356.3h0M359.5 391.3h0M335.3 348.3h0M319.8 374.4h0M338.3 356.3h0M319.4 374.3h0M316.4 360.9h0M345.6 394.2h0M354.3 384.2h0M337.3 368.0h0M354.9 356.5h0M320.6 362.5h0M332.7 367.8h0M348.7 374.8h0M335.6 381.5h0M338.8 390.9h0M314.6 374.5h0M353.8 382.9h0M319.8 377.7h0M332.7 382.3h0M327.4 368.3h0M351.5 349.9h0M341.8 371.9h0M330.5 371.1h0M354.8 368.9h0M357.0 386.5h0M335.0 351.3h0M338.4 363.1h0M346.2 386.4h0M326.3 367.8h0M346.1 381.1h0M349.5 390.8h0M320.1 357.2h0M333.3 394.9h0M364.2 373.9h0M315.7 365.0h0M345.4 357.7h0M347.8 370.0h0M358.9 379.4h0M323.7 352.5h0M324.4 350.9h0M347.3 359.8h0M357.9 395.6h0M335.9 387.9h0M343.6 344.9h0M348.4 364.6h0M346.7 396.4h0M317.8 364.7h0M339.0 354.1h0M319.2 359.9h0M326.3 354.4h0M315.5 373.9h0M337.2 391.6h0M360.2 370.2h0M321.6 377.0h0M347.3 357.2h0M336.4 367.7h0M314.8 370.8h0M320.4 378.2h0M323.8 360.2h0M363.0 390.2h0M335.4 361.5h0M344.8 356.9h0M331.0 380.0h0M341.5 367.0h0M357.3 394.6h0M343.5 348.1h0M355.1 387.1h0M359.5 375.4h0M349.5 396.0h0M333.8 367.0h0M346.0 372.2h0M339.6 347.3h0M331.4 389.3h0M345.1 366.9h0M331.0 344.8h0M332.1 369.8h0M341.7 374.6h0M346.1 353.1h0M350.3 368.4h0M352.8 362.5h0M332.4 345.4h0M334.0 356.3h0M339.8 345.4h0M357.1 394.9h0M345.9 388.3h0M357.1 360.8h0M346.0 341.6h0M338.4 356.7h0M354.5 366.3h0M332.6 359.7h0M360.3 376.6h0M343.7 360.5h0M327.3 373.7h0M350.6 355.6h0M358.5 374.7h0M339.1 383.7h0M345.8 367.0h0M333.2 375.5h0M317.1 358.7h0M339.6 345.0h0M358.1 369.1h0M351.9 349.3h0M342.3 349.3h0M343.4 366.7h0M342.5 390.4h0M318.6 356.1h0M353.7 382.8h0M333.9 360.2h0M351.4 351.9h0M344.5 364.7h0M350.0 379.7h0M347.4 373.6h0M325.0 366.1h0M319.2 357.3h0M326.8 347.7h0M327.4 354.5h0M342.0 350.0h0M340.9 346.7h0M362.6 377.7h0M335.0 368.0h0M329.2 372.7h0M328.9 373.1h0M314.4 361.3h0M318.0 376.0h0M323.1 358.5h0M362.3 373.1h0M339.8 385.2h0M355.9 395.2h0M347.7 357.4h0M331.8 379.9h0M316.8 372.9h0M357.9 364.4h0M350.7 351.2h0M336.9 350.3h0M322.9 358.6h0M335.4 389.7h0M342.1 342.9h0M330.9 345.9h0M356.2 388.5h0M349.3 376.6h0M356.0 384.1h0M350.9 351.8h0M357.6 362.0h0M326.2 351.9h0M347.3 392.6h0M322.8 379.7h0M354.5 371.4h0M343.8 378.1h0M346.1 360.9h0M343.7 354.3h0M316.8 359.3h0M343.4 395.6h0M347.3 378.2h0M355.4 374.4h0M342.3 369.8h0M319.1 367.3h0M357.0 375.3h0M340.4 365.7h0M330.2 389.3h0M335.7 353.6h0M323.8 364.2h0M336.1 371.4h0M348.9 380.6h0M317.7 356.0h0M336.4 345.6h0M348.4 389.3h0M345.2 357.4h0M349.9 384.2h0M322.6 384.3h0M351.7 372.8h0M337.3 372.7h0M358.0 360.5h0M349.8 385.1h0M327.5 381.5h0M343.8 395.3h0M344.3 343.5h0M338.1 367.5h0M322.7 378.6h0M351.6 395.3h0M322.5 380.5h0M341.4 346.4h0M355.6 387.9h0M344.9 383.4h0M340.6 376.5h0M330.8 370.7h0M342.6 385.8h0M360.5 391.6h0M330.7 345.8h0M344.7 369.3h0M329.1 382.0h0M339.1 384.1h0M332.8 355.6h0M342.4 348.9h0M337.0 390.6h0M343.2 344.9h0M323.2 379.1h0M336.4 362.2h0M345.1 353.1h0M338.6 385.5h0M321.0 381.1h0M356.5 357.1h0M329.0 370.6h0M332.1 363.0h0M331.3 381.4h0M355.2 353.2h0M356.2 385.0h0M348.3 367.7h0M326.6 376.3h0M324.8 374.2h0M331.3 346.1h0M319.1 355.8h0M343.0 341.6h0M363.2 385.7h0M331.0 367.2h0M320.7 354.4h0M358.3 362.9h0M342.1 375.2h0M350.4 345.2h0M326.1 364.0h0M351.1 380.1h0M350.9 370.0h0M348.1 372.2h0M347.8 364.7h0M328.4 360.1h0M336.0 362.9h0M341.4 362.5h0M352.4 366.3h0M319.2 356.1h0M338.5 347.1h0M350.5 355.1h0M361.3 389.2h0M333.9 391.9h0M319.0 376.8h0M357.8 393.7h0M318.2 373.6h0M348.5 368.3h0M347.5 384.7h0M316.3 363.2h0M350.1 366.6h0M355.9 387.3h0M345.9 388.9h0M319.9 374.3h0M346.7 370.7h0M328.8 377.9h0M314.1 358.9h0M349.2 358.3h0M335.6 363.0h0M334.2 370.5h0M333.4 386.1h0M352.1 382.2h0M354.8 391.7h0M323.3 367.3h0M325.2 381.9h0M349.0 381.7h0M313.4 370.6h0M358.6 358.3h0M338.7 390.2h0M338.5 359.1h0M339.2 360.6h0M327.7 349.2h0M351.5 387.3h0M342.9 345.2h0M345.7 394.8h0M342.3 367.8h0M345.3 367.6h0M330.3 390.2h0M351.5 388.1h0M353.8 371.8h0M331.5 389.6h0M352.7 364.3h0M349.1 363.3h0M358.7 377.9h0M314.6 370.5h0M356.0 392.2h0M335.5 362.5h0M345.8 347.5h0M334.5 344.4h0M347.6 353.0h0M342.5 354.4h0M341.4 394.2h0M349.9 372.3h0M355.6 360.3h0M336.2 393.2h0M331.0 353.7h0M324.4 349.5h0M359.6 384.0h0M346.4 382.1h0M348.7 381.2h0M337.0 376.3h0M318.2 359.2h0M351.9 367.0h0M358.7 364.2h0M359.3 368.4h0M317.2 372.0h0M353.5 386.3h0M339.5 365.2h0M364.9 393.3h0M330.6 359.3h0M332.1 381.2h0M357.2 393.3h0M351.5 359.5h0M313.5 363.6h0M341.0 386.1h0M342.6 384.0h0M345.8 354.6h0M352.3 384.3h0M317.8 372.5h0M350.4 384.7h0M316.6 355.0h0M331.8 374.3h0M355.9 372.0h0M330.3 358.0h0M353.9 363.5h0M325.3 381.2h0M335.3 367.7h0M341.1 383.2h0M322.9 351.8h0M332.5 362.6h0M320.9 356.4h0M349.6 392.1h0M348.4 366.3h0M331.0 353.0h0M329.7 354.3h0M322.8 379.0h0M325.0 371.2h0M356.5 389.1h0M333.9 352.2h0M336.8 351.1h0M359.4 363.4h0M348.6 388.8h0M326.7 372.7h0M339.1 377.3h0M340.4 358.5h0M345.9 345.4h0M365.5 388.8h0M337.5 371.5h0M312.7 369.5h0M345.6 386.6h0M356.4 374.7h0M348.1 376.2h0M318.5 355.7h0M318.1 375.5h0M343.5 363.1h0M339.3 383.8h0M357.3 383.3h0M324.0 356.3h0M358.5 368.3h0M322.6 378.3h0M346.6 379.7h0M336.6 387.4h0M342.9 373.9h0M353.9 357.7h0M336.6 371.3h0M346.4 394.2h0M354.5 359.5h0M337.9 348.9h0M333.2 360.1h0M320.0 360.3h0M318.2 376.8h0M358.3 378.4h0M335.2 360.9h0M341.5 364.1h0M354.0 371.1h0M364.1 383.1h0M350.0 393.0h0M316.8 366.7h0M346.8 348.8h0M324.5 385.0h0M354.2 383.6h0M353.0 394.5h0M338.8 362.5h0M314.4 377.1h0M326.4 384.4h0M358.9 390.2h0M342.0 370.3h0M359.8 382.5h0M332.8 357.6h0M360.1 380.6h0M341.3 382.8h0M353.7 350.2h0M317.9 365.9h0M338.0 371.5h0M338.7 372.5h0M333.4 355.9h0M321.1 355.2h0M349.9 360.2h0M322.4 378.5h0M350.0 349.5h0M350.6 348.4h0M326.3 376.4h0M351.4 393.3h0M328.1 361.8h0M320.0 359.4h0M365.9 371.1h0M347.1 359.3h0M332.7 357.3h0M316.6 369.6h0M330.5 386.9h0M334.5 391.0h0M360.3 385.3h0M351.2 370.5h0M348.5 342.6h0M357.4 360.1h0M338.2 386.6h0M363.0 375.4h0M365.0 388.8h0M353.8 359.4h0M341.2 371.0h0M337.3 387.7h0M364.1 376.1h0M361.1 376.5h0M330.8 348.1h0M347.1 360.3h0M316.5 368.1h0M331.3 357.6h0M351.7 345.1h0M353.5 359.6h0M330.7 349.2h0M345.4 373.0h0M342.4 365.6h0M345.0 398.1h0M348.4 393.4h0M346.5 376.3h0M333.3 381.4h0M363.6 387.7h0M347.8 384.5h0M330.3 387.0h0M329.0 373.1h0M318.3 377.2h0M350.9 348.8h0M340.9 389.4h0M313.5 372.5h0M352.2 371.2h0M359.6 387.3h0M352.2 364.5h0M331.8 382.4h0M349.8 389.2h0M365.2 384.0h0M349.7 349.9h0M353.5 367.5h0M342.4 348.4h0M324.5 361.1h0M340.0 373.6h0M330.0 388.2h0M327.7 358.6h0M341.0 380.9h0M314.6 364.5h0M310.8 370.0h0M324.2 360.6h0M354.7 380.4h0M337.4 373.0h0M339.5 366.3h0M345.3 348.4h0M349.9 368.2h0M322.3 353.6h0M354.1 385.5h0M358.3 355.0h0M336.2 354.8h0M327.4 363.4h0M344.7 378.2h0M345.3 390.8h0M347.1 384.4h0M331.6 372.1h0M324.5 349.3h0M323.0 350.4h0M336.3 378.0h0M351.7 372.6h0M321.0 378.2h0M352.0 363.5h0M343.9 388.7h0M328.9 354.5h0M350.9 394.9h0M319.7 369.3h0M350.0 353.0h0M322.0 360.2h0M361.9 376.5h0M329.5 360.5h0M332.0 371.3h0M350.6 398.1h0M335.7 384.3h0M346.5 394.0h0M332.5 380.8h0M322.1 355.7h0M331.4 373.1h0M327.1 361.2h0M334.3 352.8h0M353.4 393.7h0M341.8 352.1h0M320.0 378.6h0M338.2 355.6h0M343.2 381.2h0M328.3 351.0h0M326.5 352.9h0M322.1 363.7h0M346.8 352.0h0M347.9 395.2h0M350.8 374.2h0M328.1 370.8h0M329.7 364.2h0M350.9 384.3h0M357.8 362.2h0M335.2 374.4h0M350.3 354.8h0M336.8 358.1h0M343.3 356.8h0M347.9 382.4h0M358.7 376.1h0M328.9 366.5h0M317.0 361.6h0M346.4 349.6h0M323.9 352.9h0M354.4 363.5h0M328.2 379.6h0M347.9 366.5h0M351.1 353.9h0M360.6 392.2h0M322.7 382.7h0M352.6 373.7h0M347.3 343.6h0M340.0 373.1h0M326.7 384.0h0M357.3 394.2h0M344.9 377.3h0M330.6 379.4h0M350.1 376.2h0M324.1 376.2h0M351.6 360.8h0M330.4 349.0h0M358.5 377.6h0M320.1 378.6h0M351.2 385.0h0M318.8 365.2h0M331.2 349.4h0M342.0 372.3h0M359.8 389.5h0M337.7 359.9h0M347.9 365.8h0M344.9 351.5h0M358.6 364.0h0M361.1 390.5h0M329.4 390.0h0M343.6 391.3h0M337.2 360.2h0M310.7 361.4h0M365.2 379.7h0M342.8 388.1h0M351.1 381.8h0M331.8 352.7h0M335.0 388.7h0M348.6 342.5h0M322.0 373.3h0M343.0 387.3h0M334.9 390.4h0M358.1 376.5h0M335.5 391.9h0M327.0 370.6h0M356.0 382.1h0M313.8 367.1h0M313.5 360.7h0M325.6 376.2h0M340.1 391.9h0M316.5 366.6h0M366.5 388.0h0M358.5 379.6h0M342.0 362.5h0M355.8 390.3h0M331.0 376.0h0M323.5 376.6h0M338.9 385.2h0M327.2 361.1h0M350.3 382.6h0M321.2 356.8h0M333.0 385.4h0M341.9 346.4h0M342.0 345.0h0M311.8 361.4h0M316.4 374.2h0M310.5 373.8h0M318.7 366.4h0M363.0 380.1h0M356.0 360.9h0M316.8 361.3h0M341.3 377.5h0M323.7 350.6h0M334.9 366.4h0M344.1 377.9h0M323.1 356.7h0M342.7 353.6h0M330.6 387.8h0M320.6 351.4h0M321.7 378.4h0M329.1 384.4h0M359.0 361.1h0M323.7 375.4h0M330.3 360.4h0M319.1 384.1h0M314.8 368.5h0M328.4 346.7h0M358.6 381.0h0M333.6 362.9h0M366.6 390.5h0M316.8 361.3h0M325.3 364.4h0M333.7 355.6h0M336.9 380.4h0M314.3 361.9h0M333.9 366.9h0M336.0 384.1h0M334.2 382.6h0M339.1 360.4h0M351.7 346.4h0M339.4 362.7h0M344.4 347.8h0M318.3 366.8h0M331.3 360.0h0M347.3 373.4h0M355.3 364.4h0M342.8 362.2h0M349.0 381.2h0M339.4 383.4h0M338.9 344.9h0M346.5 368.4h0M329.8 389.4h0M342.6 346.4h0M318.4 362.7h0M344.4 380.1h0M334.7 383.3h0M337.5 360.5h0M317.9 373.6h0M345.1 378.6h0M319.8 363.1h0M348.5 372.2h0M339.7 359.0h0M321.7 349.6h0M340.0 362.4h0M312.2 362.5h0M322.6 381.3h0M338.1 373.9h0M329.0 354.9h0M321.1 382.5h0M333.5 357.6h0M338.0 355.3h0M321.4 371.8h0M324.2 366.6h0M347.4 379.4h0M343.9 359.8h0M326.5 363.2h0M313.2 374.6h0M358.4 392.2h0M356.0 362.3h0M355.7 346.3h0M326.3 381.4h0M333.5 387.2h0M360.6 383.3h0M351.1 352.7h0M332.5 362.0h0M332.1 377.1h0M319.7 361.2h0M327.4 364.6h0M357.5 372.4h0M341.4 392.5h0M331.0 380.0h0M330.9 376.4h0M325.0 381.2h0M358.9 380.7h0M319.1 346.1h0M347.3 378.0h0M331.7 384.9h0M350.5 360.6h0M353.0 369.8h0M327.7 384.1h0M350.5 366.4h0M337.7 371.9h0M341.5 360.6h0M320.3 374.8h0M343.1 380.8h0M339.4 377.1h0M352.7 394.8h0M355.1 362.7h0M312.3 372.0h0M342.6 391.3h0M336.0 345.0h0M355.7 382.1h0M338.6 389.7h0M342.4 350.6h0M355.0 369.2h0M328.9 375.8h0M337.4 392.6h0M323.6 366.1h0M364.1 382.0h0M314.4 361.3h0M323.9 360.7h0M329.8 366.6h0M338.9 377.3h0M358.2 355.7h0M354.1 372.8h0M343.7 358.4h0M351.7 383.9h0M350.2 376.9h0M323.8 367.4h0M343.6 358.3h0M353.8 353.6h0M348.4 395.7h0M319.9 362.5h0M338.0 349.4h0M360.4 381.1h0M340.3 382.2h0M312.0 366.3h0M334.8 391.8h0M320.1 377.8h0M352.5 356.4h0M335.8 359.9h0M334.7 368.1h0M327.8 386.0h0M323.6 378.4h0M340.7 355.6h0M340.0 353.1h0M361.9 376.4h0M344.6 351.4h0M353.4 365.6h0M324.9 385.7h0M342.5 372.1h0M343.4 359.4h0M326.0 349.1h0M345.1 372.6h0M310.7 366.5h0M348.8 359.0h0M331.5 362.2h0M337.5 368.8h0M347.5 359.7h0M360.3 374.7h0M344.4 387.0h0M330.8 377.6h0M356.3 371.9h0M351.3 361.3h0M345.6 365.0h0M335.0 374.7h0M328.6 390.7h0M360.3 383.2h0M328.8 362.2h0M359.0 382.6h0M340.3 359.4h0M335.3 352.3h0M349.1 384.8h0M346.5 346.4h0M332.6 381.7h0M330.5 370.7h0M330.1 376.9h0M337.8 390.8h0M355.6 385.8h0M335.5 366.5h0M350.4 379.1h0M358.0 366.3h0M359.8 387.8h0M323.3 370.7h0M348.0 357.4h0M348.2 369.6h0M362.7 387.1h0M319.5 377.9h0M347.4 347.8h0M316.8 369.8h0M325.9 368.3h0M342.8 377.2h0M361.1 386.9h0M337.0 346.2h0M351.6 359.7h0M345.0 377.8h0M354.1 364.1h0M321.1 356.2h0M319.0 362.7h0M332.2 389.8h0M346.1 380.1h0M357.2 392.3h0M347.3 387.3h0M362.0 383.6h0M328.4 375.9h0M316.9 371.5h0M324.9 357.5h0M326.2 357.3h0M340.0 344.7h0M346.3 395.3h0M346.6 360.6h0M338.3 352.3h0M339.0 364.1h0M343.4 373.2h0M353.8 376.1h0M352.0 383.3h0M336.3 365.4h0M334.6 367.2h0M341.5 367.7h0M340.1 351.8h0M351.5 389.7h0M331.5 355.8h0M347.2 356.8h0M330.4 365.4h0M352.2 358.4h0M334.1 387.4h0M321.1 376.5h0M346.6 341.7h0M319.4 382.9h0M335.6 366.4h0M327.4 384.0h0M350.8 355.7h0M346.7 373.9h0M341.1 370.5h0M334.5 362.7h0M359.9 378.8h0M352.4 354.2h0M326.6 362.5h0M345.1 382.3h0M339.3 382.5h0M330.6 359.3h0M337.2 371.0h0M334.2 366.1h0M325.0 357.7h0M334.7 370.0h0M312.2 366.6h0M358.1 389.7h0M334.9 366.8h0M333.8 376.0h0M345.5 346.3h0M354.2 391.2h0M335.2 390.1h0M333.6 372.7h0M357.7 374.2h0M354.9 369.0h0M352.2 347.8h0M350.5 373.7h0M336.4 355.6h0M324.2 353.4h0M342.1 375.2h0M329.9 350.4h0M344.8 374.2h0M328.4 361.2h0M335.6 392.8h0M351.2 397.1h0M338.0 348.6h0M315.7 378.7h0M324.8 361.5h0M341.7 390.9h0M340.2 392.6h0M350.0 362.9h0M341.6 380.9h0M340.2 372.8h0M331.8 389.3h0M339.8 365.3h0M330.8 384.2h0M346.7 367.8h0M336.7 360.1h0M348.6 386.6h0M333.0 369.8h0M324.1 352.1h0M333.8 348.9h0M326.3 375.7h0M324.2 380.7h0M354.1 385.9h0M335.1 369.2h0M316.7 368.8h0M329.8 382.9h0M353.2 351.5h0M343.2 344.3h0M325.6 370.9h0M357.8 375.5h0M354.2 353.9h0M356.2 364.7h0M352.8 374.2h0M338.8 361.7h0M326.9 386.9h0M324.8 375.0h0M342.9 361.8h0M325.1 382.2h0M358.8 364.0h0M337.8 353.6h0M354.0 362.5h0M343.5 370.0h0M338.9 383.8h0M351.8 364.7h0M356.1 367.3h0M354.8 353.6h0M342.0 375.0h0M327.4 384.4h0M350.2 391.6h0M345.3 343.3h0M318.2 375.6h0M317.8 362.4h0M347.5 382.4h0M312.0 370.1h0M322.2 360.1h0M345.5 387.9h0M366.3 371.2h0M334.3 346.9h0M326.3 356.3h0M345.6 374.9h0M339.2 359.3h0M334.7 351.5h0M342.1 389.0h0M313.8 363.2h0M356.7 384.7h0M330.1 384.5h0M347.0 356.2h0M320.4 379.0h0M338.7 371.4h0M334.7 342.3h0M324.7 355.6h0M346.9 388.3h0M349.8 390.5h0M315.0 373.1h0M340.1 388.6h0M330.2 386.2h0M346.0 386.2h0M318.9 379.8h0M345.8 383.8h0M321.9 354.5h0M324.9 363.4h0M330.1 376.5h0M346.7 384.0h0M347.0 376.6h0M330.7 390.9h0M328.8 383.3h0M322.0 385.0h0M357.9 375.2h0M350.4 352.8h0M338.1 368.4h0M360.6 367.3h0M327.0 353.5h0M345.5 380.0h0M314.1 363.7h0M356.9 371.1h0M350.3 371.8h0M350.7 345.1h0M332.9 378.9h0M343.4 358.4h0M352.3 346.1h0M353.0 382.5h0M342.9 368.1h0M341.0 371.9h0M338.8 380.1h0M322.5 363.7h0M316.7 368.7h0M332.0 344.2h0M328.6 384.9h0M354.7 354.9h0M337.0 373.1h0M345.5 390.7h0M323.4 369.6h0M360.4 371.5h0M330.7 376.5h0M364.6 380.5h0M342.7 371.9h0M327.0 386.8h0M350.1 343.7h0M343.7 346.4h0M323.6 362.8h0M363.5 370.3h0M333.7 381.6h0M324.8 369.4h0M331.9 390.1h0M338.5 352.0h0M342.7 377.9h0M344.7 356.9h0M334.5 374.9h0M350.5 395.9h0M347.7 358.1h0M327.2 390.1h0M323.7 379.7h0M323.7 355.6h0M322.3 368.3h0M339.8 353.1h0M346.0 344.2h0M340.5 385.0h0M332.1 361.9h0M360.2 378.1h0M327.0 382.8h0M351.9 391.6h0M357.2 383.6h0M342.5 392.8h0M317.8 370.7h0M345.9 395.6h0M347.3 355.1h0M344.8 363.6h0M343.6 343.9h0M338.8 363.9h0M355.9 361.2h0M360.0 374.8h0M345.5 378.7h0M353.6 371.5h0M342.0 384.3h0M324.4 368.8h0M355.6 368.0h0M357.2 389.6h0M354.1 387.4h0M351.0 360.9h0M343.5 390.5h0M322.4 375.3h0M311.5 363.4h0M345.3 390.0h0M353.9 391.4h0M349.5 396.8h0M313.5 373.8h0M351.5 380.7h0M338.2 352.7h0M361.6 379.8h0M328.8 371.5h0M321.0 356.5h0M346.3 356.2h0M344.4 377.0h0M353.8 390.4h0M319.8 371.1h0M354.0 356.5h0M343.9 375.1h0M335.4 357.2h0M315.9 371.5h0M344.8 370.7h0M334.0 355.1h0M335.3 369.9h0M312.2 363.2h0M347.5 384.5h0M336.1 355.2h0M345.0 354.5h0M347.3 388.7h0M350.7 362.2h0M317.5 357.8h0M328.3 381.8h0M316.0 370.0h0M317.4 361.6h0M325.7 375.2h0M326.8 367.6h0M322.0 366.3h0M322.3 354.7h0M357.8 374.3h0M327.5 376.3h0M358.2 386.1h0M366.5 384.1h0M326.1 372.2h0M331.6 392.8h0M351.2 390.7h0M336.8 389.3h0M348.8 382.4h0M337.1 387.4h0M353.0 351.4h0M315.4 362.3h0M342.4 395.6h0M352.7 373.8h0M350.3 388.2h0M343.0 386.9h0M330.8 378.8h0M348.5 360.3h0M356.6 359.4h0M330.4 373.4h0M342.2 390.0h0M356.7 364.4h0M333.0 390.8h0" stroke="#F8766D" stroke-width="1.45" stroke-linecap="round" fill="none"/>
<path d="M370.9 327.0h0M369.8 379.0h0M380.3 372.0h0M367.3 372.4h0M382.1 323.2h0M395.2 372.2h0M375.4 378.2h0M445.5 290.7h0M393.6 342.0h0M355.0 330.5h0M399.0 355.4h0M403.0 324.7h0M388.9 327.5h0M363.8 371.1h0M371.5 378.5h0M400.5 317.4h0M391.9 367.6h0M359.4 333.5h0M376.5 332.0h0M357.7 350.2h0M361.4 327.1h0M397.5 329.6h0M399.5 345.2h0M405.4 344.4h0M356.4 335.1h0M355.7 338.6h0M401.5 341.9h0M383.7 386.7h0M376.4 335.6h0M362.3 336.8h0M395.2 327.9h0M388.2 386.1h0M369.3 359.0h0M398.3 344.7h0M354.7 335.8h0M360.0 365.3h0M393.9 344.5h0M394.3 370.4h0M363.0 325.4h0M391.4 314.3h0M370.0 380.4h0M389.2 363.7h0M395.1 355.0h0M362.0 324.7h0M378.6 366.5h0M390.8 343.8h0M393.7 358.8h0M363.5 359.2h0M386.2 364.6h0M387.0 363.3h0M384.3 361.5h0M387.7 363.0h0M365.6 352.4h0M364.9 376.1h0M391.7 357.7h0M368.7 324.3h0M359.5 333.1h0M362.3 328.2h0M367.1 380.8h0M352.4 344.6h0M385.7 353.8h0M392.7 360.2h0M391.9 318.0h0M396.9 310.5h0M373.2 378.3h0M364.7 335.0h0M367.5 345.2h0M355.3 331.0h0M389.5 362.4h0M399.9 309.8h0M371.9 343.8h0M400.0 343.3h0M383.7 360.2h0M368.6 341.4h0M385.8 344.2h0M388.0 347.9h0M372.6 387.5h0M398.2 373.0h0M372.2 383.2h0M386.5 316.6h0M355.5 348.1h0M390.5 371.0h0M373.7 350.5h0M399.7 320.3h0M362.2 357.5h0M358.6 362.4h0M400.6 320.2h0M375.8 339.3h0M397.7 331.3h0M382.5 324.2h0M376.6 322.7h0M394.2 363.7h0M376.9 364.3h0M402.3 307.0h0M393.3 354.8h0M392.3 318.1h0M381.9 336.6h0M384.6 334.3h0M365.8 378.2h0M398.8 339.4h0M368.6 391.0h0M368.7 389.1h0M367.2 364.3h0M399.4 319.2h0M393.7 337.1h0M386.3 358.8h0M354.5 334.3h0M404.1 346.5h0M402.0 337.2h0M366.3 371.2h0M369.4 353.1h0M390.4 364.8h0M360.0 326.9h0M396.3 370.1h0M370.5 390.9h0M374.2 385.9h0M390.0 343.9h0M383.6 366.0h0M386.5 368.5h0M366.9 374.6h0M360.7 338.9h0M367.2 333.0h0M360.8 355.0h0M382.0 344.4h0M378.6 347.2h0M402.2 341.1h0M355.9 358.8h0M372.6 315.9h0M384.8 378.7h0M389.0 371.7h0M357.1 345.2h0M395.0 356.5h0M376.2 348.1h0M395.6 347.9h0M383.5 382.2h0M399.1 311.1h0M395.5 341.7h0M345.8 342.0h0M369.6 327.4h0M383.2 353.6h0M375.1 383.7h0M383.3 371.2h0M379.4 380.2h0M381.5 332.5h0M355.6 346.7h0M371.0 341.4h0M379.2 328.4h0M368.8 335.3h0M391.1 358.3h0M367.2 329.5h0M364.7 358.2h0M396.8 356.5h0M404.1 333.6h0M385.5 380.5h0M388.9 355.6h0M401.3 325.7h0M352.3 351.9h0M378.4 379.3h0M391.7 336.8h0M396.7 356.6h0M363.5 369.2h0M385.7 382.9h0M367.8 354.8h0M383.5 339.2h0M397.5 361.9h0M372.2 381.3h0M391.6 347.0h0M366.4 354.3h0M371.6 340.8h0M347.0 340.2h0M358.1 342.3h0M396.4 317.3h0M391.3 316.6h0M384.8 384.7h0M388.2 343.9h0M399.7 325.7h0M345.9 337.4h0M378.5 370.5h0M385.6 339.4h0M383.1 371.2h0M357.2 342.6h0M354.3 337.5h0M369.7 387.9h0M372.0 391.6h0M389.8 317.7h0M365.6 382.9h0M444.5 293.2h0M357.3 362.0h0M377.4 348.4h0M363.4 329.5h0M401.5 367.8h0M359.0 357.9h0M396.8 333.2h0M379.1 374.8h0M377.0 337.7h0M366.7 388.4h0M379.3 380.7h0M376.3 336.5h0M376.1 362.6h0M445.0 291.1h0M373.2 340.9h0M380.0 370.9h0M382.4 362.7h0M382.8 380.0h0M366.8 352.0h0M395.0 367.7h0M368.8 385.6h0M405.8 321.9h0M363.6 335.3h0M396.8 335.0h0M442.1 291.9h0M445.5 289.0h0M358.0 356.5h0M359.5 350.6h0M374.4 360.7h0M373.8 370.8h0M351.8 340.7h0M388.8 346.0h0M389.8 377.1h0M381.0 321.4h0M383.9 374.4h0M349.8 333.1h0M359.9 355.3h0M370.5 361.4h0M363.4 332.1h0M446.7 286.6h0M395.0 320.1h0M374.5 323.4h0M388.6 373.8h0M397.1 326.6h0M387.1 376.2h0M394.6 314.6h0M374.4 363.1h0M357.3 361.4h0M382.5 384.9h0M376.5 381.4h0M384.4 373.5h0M367.4 333.0h0M377.3 374.8h0M382.2 320.4h0M386.3 359.3h0M367.5 356.1h0M390.6 365.0h0M390.0 346.5h0M395.0 376.2h0M379.7 372.6h0M352.0 332.8h0M403.8 343.1h0M357.1 337.0h0M390.8 347.9h0M375.4 330.2h0M376.7 322.1h0M383.2 362.8h0M383.8 321.4h0M394.2 335.9h0M368.2 390.2h0M389.8 350.9h0M366.8 328.0h0M378.2 336.9h0M399.8 368.1h0M364.9 357.9h0M375.5 390.5h0M393.6 351.8h0M372.9 381.8h0M375.5 317.9h0M368.8 381.5h0M405.8 344.3h0M401.6 326.1h0M341.8 341.5h0M389.1 329.2h0M372.4 361.4h0M386.5 337.0h0M377.3 320.4h0M370.1 388.0h0M371.6 392.5h0M391.6 317.2h0M359.4 330.1h0M392.7 315.5h0M355.9 329.6h0M389.8 366.9h0M375.3 373.6h0M360.2 371.3h0M362.4 362.0h0M375.7 366.7h0M445.9 288.5h0M382.0 328.3h0M369.3 328.5h0M376.3 319.8h0M379.7 332.7h0M373.3 321.7h0M398.5 353.7h0M406.8 332.7h0M373.2 359.5h0M392.1 377.6h0M389.8 374.9h0M380.5 351.5h0M389.0 362.9h0M387.0 338.2h0M359.5 350.9h0M373.1 361.3h0M383.1 388.8h0M359.7 335.3h0M391.5 316.4h0M388.2 345.2h0M384.9 373.5h0M382.8 325.9h0M375.3 333.7h0M385.1 339.3h0M389.5 325.0h0M386.6 331.1h0M398.9 316.6h0M390.7 349.9h0M394.8 337.4h0M386.1 345.3h0M394.6 363.1h0M365.2 330.0h0M399.6 341.0h0M392.0 381.2h0M361.8 352.0h0M381.3 336.9h0M373.6 338.2h0M389.8 381.0h0M392.6 350.7h0M371.4 337.2h0M394.2 325.4h0M371.6 373.8h0M396.5 314.7h0M400.1 339.7h0M384.1 369.7h0M369.3 377.3h0M400.5 313.6h0M361.4 361.8h0M402.5 362.4h0M383.4 364.7h0M445.6 288.0h0M382.5 356.8h0M385.9 371.8h0M369.2 343.2h0M372.6 359.0h0M397.4 369.3h0M375.2 390.4h0M395.3 315.9h0M357.4 354.4h0M361.5 345.6h0M380.7 345.3h0M359.6 334.9h0M385.4 360.7h0M377.0 387.2h0M357.6 343.8h0M385.2 334.0h0M394.9 356.4h0M371.7 326.1h0M360.3 364.6h0M367.8 343.3h0M371.7 376.0h0M365.6 386.0h0M372.1 375.3h0M380.4 375.6h0M361.8 350.2h0M374.7 353.7h0M372.0 334.1h0M354.2 357.7h0M396.8 361.2h0M366.1 343.7h0M378.3 358.3h0M388.3 349.6h0M370.7 329.3h0M352.4 329.1h0M392.2 377.6h0M403.5 360.6h0M406.1 345.1h0M353.1 340.7h0M377.1 323.3h0M401.5 335.7h0M373.4 368.4h0M387.8 342.6h0M375.7 369.8h0M363.4 362.1h0M365.0 384.8h0M374.3 358.0h0M394.1 366.5h0M383.5 340.3h0M383.1 334.1h0M381.9 322.0h0M381.0 366.0h0M403.6 338.9h0M352.9 341.3h0M383.0 357.2h0M362.5 372.0h0M381.4 387.4h0M386.5 318.1h0M377.4 378.8h0M391.2 314.8h0M377.6 348.5h0M396.1 373.1h0M371.5 339.4h0M385.2 366.1h0M400.4 328.8h0M398.1 307.5h0M360.3 351.8h0M407.2 333.0h0M396.8 347.8h0M365.3 366.3h0M373.8 384.1h0M363.6 337.1h0M385.6 379.4h0M374.6 369.7h0M400.0 329.6h0M355.6 354.0h0M394.7 338.9h0M399.4 314.5h0M357.4 348.2h0M379.2 331.8h0M401.8 340.1h0M367.6 346.1h0M360.8 332.3h0M347.4 338.0h0M398.7 347.6h0M367.8 346.8h0M396.2 312.6h0M378.2 367.4h0M363.0 358.5h0M368.9 384.2h0M354.9 329.4h0M361.3 342.6h0M404.3 349.9h0M399.0 346.7h0M405.8 329.3h0M351.2 347.4h0M367.9 330.4h0M399.2 324.7h0M366.6 346.4h0M352.0 331.9h0M368.6 389.0h0M375.3 354.2h0M388.6 342.7h0M379.0 370.0h0M372.1 391.6h0M381.2 375.3h0M354.7 357.7h0M381.0 329.7h0M374.7 360.8h0M379.9 341.4h0M402.0 352.0h0M385.1 346.0h0M386.1 371.3h0M353.7 340.6h0M365.5 338.2h0M375.0 390.4h0M386.3 336.7h0M368.7 373.8h0M360.2 348.1h0M378.2 325.1h0M356.5 335.0h0M363.4 365.4h0M404.2 316.2h0M387.0 323.9h0M377.2 339.6h0M383.2 350.8h0M386.9 381.6h0M400.0 344.7h0M396.6 345.2h0M398.6 341.0h0M364.1 332.2h0M403.4 338.8h0M365.3 392.8h0M351.9 332.2h0M371.8 344.9h0M363.1 357.7h0M385.5 317.2h0M383.2 375.4h0M345.2 343.0h0M387.7 323.2h0M388.3 353.2h0M354.8 341.5h0M397.1 332.7h0M395.9 342.6h0M373.8 384.4h0M369.9 391.1h0M367.5 375.1h0M366.6 326.8h0M391.6 370.4h0M388.6 384.2h0M386.5 327.4h0M374.1 378.4h0M360.3 370.2h0M444.1 289.5h0M387.1 318.3h0M366.2 368.3h0M380.7 360.4h0M372.1 392.5h0M401.1 330.2h0M361.9 387.1h0M385.5 372.0h0M395.2 325.8h0M396.6 312.0h0M393.0 338.6h0M404.0 337.1h0M366.2 331.0h0M400.3 335.4h0M373.5 325.2h0M367.3 364.6h0M361.9 327.5h0M382.8 385.3h0M386.3 368.4h0M360.7 342.2h0M381.1 387.7h0M391.5 312.3h0M367.0 346.2h0M387.3 375.2h0M443.9 288.6h0M376.9 355.2h0M383.7 385.8h0M373.8 377.7h0M364.6 343.9h0M357.8 328.6h0M367.2 321.9h0M377.4 373.3h0M379.2 382.7h0M375.4 377.8h0M372.9 340.6h0M388.5 322.9h0M391.6 369.1h0M364.1 374.5h0M360.5 367.6h0M379.4 322.5h0M380.0 388.7h0M353.9 343.5h0M391.4 316.4h0M366.4 328.3h0M358.2 335.2h0M385.8 351.1h0M375.4 355.8h0M444.6 289.1h0M376.7 327.5h0M369.0 346.1h0M390.7 378.1h0M363.5 328.3h0M352.8 350.0h0M366.5 333.3h0M394.1 317.3h0M354.8 343.8h0M389.2 381.7h0M363.2 337.5h0M369.8 342.4h0M369.4 334.2h0M396.1 360.2h0M375.2 351.3h0M370.5 358.4h0M388.7 337.2h0M398.1 334.4h0M381.2 372.0h0M360.4 341.6h0M359.8 333.4h0M400.0 357.4h0M404.2 334.2h0M380.9 330.7h0M389.0 351.4h0M400.9 333.4h0M383.2 387.7h0M382.9 340.9h0M377.2 334.6h0M378.1 372.7h0M362.6 348.1h0M379.7 369.5h0M368.9 333.4h0M390.8 371.0h0M368.7 385.4h0M368.6 322.5h0M359.3 359.5h0M390.0 372.8h0M389.1 326.6h0M395.7 326.3h0M354.5 339.8h0M376.8 355.1h0M353.8 333.8h0M383.7 342.0h0M403.1 321.9h0M390.4 323.1h0M392.6 337.9h0M381.6 320.1h0M381.6 390.2h0M378.1 335.9h0M399.6 336.2h0M359.5 357.5h0M375.0 358.9h0M384.3 379.0h0M363.2 386.7h0M387.0 368.7h0M350.2 346.1h0M351.4 331.3h0M350.0 346.9h0M379.1 324.6h0M401.2 325.1h0M387.6 356.1h0M362.6 345.9h0M401.7 337.0h0M374.6 324.4h0M378.6 367.0h0M379.5 338.3h0M373.8 368.0h0M401.0 358.8h0M359.1 375.6h0M378.8 353.5h0M391.9 323.7h0M376.1 370.7h0M362.0 352.7h0M350.0 341.2h0M363.2 371.5h0M394.3 343.6h0M397.1 360.8h0M399.5 343.8h0M400.6 339.9h0M400.1 335.8h0M373.9 375.5h0M371.1 385.4h0M387.6 327.0h0M372.8 352.1h0M388.6 361.4h0M446.9 291.6h0M367.6 377.1h0M364.4 362.5h0M393.7 348.6h0M370.4 340.8h0M363.2 358.1h0M377.7 375.9h0M364.9 352.4h0M360.9 333.3h0M399.8 327.4h0M360.1 328.4h0M379.6 326.1h0M377.8 347.8h0M406.9 314.7h0M365.3 356.5h0M359.0 344.1h0M371.3 374.0h0M375.1 340.1h0M374.7 347.7h0M395.8 348.9h0M380.3 339.1h0M389.7 375.7h0M357.1 345.1h0M387.2 351.5h0M396.8 347.1h0M398.1 317.1h0M371.0 363.9h0M371.6 341.2h0M388.5 327.3h0M357.5 349.0h0M393.6 351.6h0M393.0 338.5h0M372.5 350.7h0M402.4 343.4h0M387.1 378.8h0M376.2 385.9h0M397.2 349.7h0M394.6 331.5h0M385.0 384.9h0M355.0 355.1h0M380.0 358.1h0M366.7 371.9h0M358.0 334.2h0M357.5 360.1h0M381.5 372.6h0M400.6 336.8h0M376.5 381.1h0M394.1 345.8h0M401.7 366.6h0M386.0 357.5h0M399.6 340.4h0M382.1 325.7h0M399.9 323.4h0M373.9 364.4h0M383.3 381.8h0M375.6 366.2h0M377.4 335.5h0M391.8 341.6h0M396.1 361.4h0M370.8 359.1h0M371.5 350.2h0M365.7 359.2h0M355.3 331.8h0M397.4 347.6h0M360.3 360.8h0M387.6 324.8h0M376.6 328.1h0M383.0 343.5h0M368.9 375.7h0M351.7 329.9h0M359.6 339.9h0M384.5 364.5h0M354.7 341.7h0M394.5 363.1h0M393.7 311.1h0M397.2 344.5h0M383.4 367.0h0M381.8 318.8h0M352.5 337.0h0M356.2 360.6h0M403.9 331.7h0M359.7 325.7h0M447.1 292.4h0M378.0 361.6h0M385.8 355.3h0M376.4 339.5h0M387.1 361.3h0M442.1 292.6h0M357.5 359.5h0M376.3 385.7h0M378.1 332.5h0M387.7 362.3h0M355.5 337.6h0M372.5 384.1h0M379.6 319.6h0M360.2 327.7h0M401.0 359.1h0M390.6 337.1h0M395.0 316.4h0M394.5 365.3h0M369.6 348.7h0M393.2 325.6h0M445.5 288.7h0M359.3 358.6h0M396.5 337.2h0M392.4 353.7h0M391.7 330.1h0M390.0 351.0h0M405.5 335.4h0M372.6 391.3h0M377.5 382.0h0M400.9 347.1h0M405.8 358.4h0M391.9 349.8h0M402.9 321.3h0M356.4 336.1h0M391.8 365.2h0M389.0 325.9h0M355.6 337.7h0M362.7 365.9h0M371.9 387.5h0M389.7 369.2h0M447.1 290.7h0M374.1 321.8h0M364.5 343.6h0M372.6 360.1h0M394.4 318.9h0M371.8 336.4h0M387.7 318.5h0M367.6 335.7h0M380.0 369.4h0M377.8 372.8h0M369.9 348.2h0M394.1 371.1h0M364.3 384.3h0M400.6 357.2h0M366.7 384.8h0M394.0 329.7h0M393.3 321.2h0M351.6 338.0h0M369.9 334.5h0M402.7 332.3h0M389.1 325.4h0M404.9 342.2h0M372.7 330.1h0M362.3 344.1h0M348.3 337.5h0M396.0 352.1h0M375.7 376.8h0M360.1 332.2h0M373.8 356.6h0M354.9 334.5h0M367.8 384.1h0M386.4 357.7h0M354.1 355.5h0M385.5 376.6h0M357.6 333.4h0M391.1 344.5h0M375.3 335.9h0M377.8 371.6h0M387.2 371.7h0M383.2 356.5h0M377.9 368.2h0M395.7 320.5h0M363.1 343.2h0M395.6 361.8h0M370.2 336.1h0M369.0 332.1h0M391.0 317.7h0M399.4 321.6h0M369.2 367.5h0M402.7 319.3h0M391.2 322.0h0M367.6 341.5h0M399.0 351.2h0M377.5 355.4h0M395.1 371.8h0M372.0 345.1h0M400.7 364.3h0M379.6 348.4h0M361.8 340.9h0M363.8 350.3h0M381.9 350.2h0M376.5 386.9h0M388.8 341.0h0M367.6 350.2h0M394.1 337.5h0M368.6 375.7h0M354.7 344.0h0M376.0 352.8h0M398.9 328.9h0M393.2 378.4h0M399.4 330.1h0M366.1 353.8h0M386.3 333.3h0M373.7 341.1h0M371.8 375.8h0M390.8 355.7h0M356.7 341.6h0M394.5 322.9h0M377.2 346.0h0M389.1 378.3h0M397.0 368.5h0M398.4 359.4h0M361.6 353.4h0M358.6 361.6h0M368.6 355.2h0M364.0 330.7h0M368.6 352.3h0M388.6 325.8h0M367.3 347.6h0M371.6 355.5h0M394.5 359.1h0M398.3 321.6h0M359.3 336.4h0M397.6 359.6h0M389.6 367.4h0M388.0 318.5h0M362.1 377.8h0M376.5 324.4h0M373.9 325.5h0M366.1 342.5h0M367.9 361.2h0M401.7 328.9h0M386.5 330.6h0M398.8 332.6h0M387.3 326.8h0M365.4 341.9h0M373.3 338.5h0M386.0 368.3h0M397.2 340.4h0M353.4 333.2h0M372.8 342.7h0M390.4 353.3h0M442.8 287.5h0M369.0 365.1h0M366.7 351.0h0M364.1 364.4h0M390.4 322.9h0M360.3 344.3h0M382.0 365.2h0M380.7 358.9h0M384.3 351.5h0M357.2 351.6h0M357.6 327.4h0M365.4 360.6h0M354.2 328.2h0M372.0 355.1h0M382.7 324.0h0M374.5 333.3h0M382.8 384.6h0M406.2 344.6h0M345.6 345.4h0M375.1 335.7h0M353.8 351.3h0M383.6 381.2h0M357.6 329.9h0M367.9 382.7h0M371.3 334.2h0M359.5 328.6h0M390.9 363.3h0M382.9 323.6h0M347.8 341.5h0M384.7 354.3h0M352.2 331.3h0M387.8 354.3h0M373.8 359.4h0M381.5 352.2h0M382.3 329.8h0M375.4 378.3h0M379.1 349.7h0M366.8 351.3h0M400.3 367.0h0M386.5 350.2h0M400.4 365.5h0M376.5 366.9h0M356.1 353.8h0M358.2 366.6h0M397.1 356.9h0M404.5 366.2h0M400.3 358.7h0M393.0 325.8h0M404.3 325.3h0M374.7 383.9h0M373.9 377.5h0M394.9 342.4h0M376.5 326.4h0M387.1 319.2h0M447.1 288.2h0M372.6 328.4h0M385.2 320.5h0M368.5 326.9h0M369.5 362.9h0M345.3 339.4h0M387.4 351.5h0M389.4 380.0h0M377.7 318.4h0M371.9 346.8h0M367.6 365.7h0M444.7 285.5h0M367.5 343.6h0M355.2 346.8h0M402.0 338.2h0M354.0 348.4h0M374.1 383.8h0M374.2 358.6h0M403.9 331.1h0M408.1 332.0h0M398.8 316.4h0M384.2 346.3h0M388.2 376.9h0M397.6 349.4h0M401.5 339.5h0M375.1 337.3h0M383.8 317.2h0M383.2 373.9h0M365.9 348.5h0M387.8 319.2h0M367.4 326.4h0M369.7 363.7h0M399.4 348.9h0M382.4 360.9h0M391.4 365.2h0M373.7 373.0h0M386.8 356.1h0M381.2 316.7h0M394.2 354.4h0M395.7 352.2h0M400.8 357.3h0M379.0 334.3h0M362.4 349.0h0M387.0 324.2h0M370.9 332.6h0M383.7 324.3h0M369.1 379.7h0M386.5 334.5h0M373.9 381.3h0M368.0 343.3h0M388.4 316.4h0M395.6 363.7h0M394.5 339.9h0M398.2 323.0h0M378.2 340.8h0M388.8 376.2h0M361.0 358.2h0M395.7 359.8h0M385.3 373.3h0M362.5 362.9h0M372.1 359.5h0M376.1 345.2h0M392.5 310.8h0M385.9 365.1h0M375.0 344.4h0M370.4 387.0h0M446.9 287.8h0M369.6 340.1h0M381.2 364.1h0M375.1 324.8h0M398.0 350.3h0M372.2 358.5h0M399.9 338.5h0M396.9 311.3h0M367.3 327.2h0M387.9 317.0h0M379.1 331.5h0M395.8 315.4h0M377.6 343.4h0M361.6 369.7h0M382.6 385.5h0M381.1 354.0h0M364.8 360.0h0M355.4 339.1h0M368.0 366.3h0M371.8 389.6h0M381.7 339.3h0M357.1 331.3h0M362.1 375.0h0M354.3 343.7h0M353.5 342.8h0M374.2 344.0h0M375.5 332.1h0M403.7 331.8h0M398.9 344.8h0M379.3 374.7h0M383.4 376.9h0M376.4 366.2h0M382.5 346.0h0M385.4 367.8h0M376.9 364.8h0M365.2 345.8h0M397.2 309.4h0M353.0 347.2h0M379.1 360.5h0M370.8 358.1h0M348.6 343.9h0M385.2 315.8h0M371.4 368.2h0M373.7 386.3h0M364.0 364.7h0M392.8 361.4h0M380.6 383.6h0M380.9 343.2h0M367.4 379.6h0M397.2 340.0h0M357.1 351.3h0M348.8 341.9h0M385.3 368.0h0M382.8 319.4h0M380.1 353.8h0M387.1 339.4h0M362.8 367.4h0M370.7 350.4h0M400.5 356.9h0M361.2 342.2h0M365.4 385.0h0M401.7 335.9h0M385.5 372.3h0M355.6 337.5h0M391.1 344.9h0M389.5 348.1h0M376.8 331.2h0M383.3 372.8h0M391.7 315.8h0M363.1 335.1h0M388.5 380.0h0M383.1 351.4h0M388.7 333.6h0M366.4 365.4h0M389.4 352.8h0M390.8 366.6h0M388.6 383.3h0M376.9 357.3h0M351.5 334.3h0M362.4 328.9h0M444.7 286.2h0M367.2 360.2h0M373.9 375.3h0M395.2 323.1h0M394.1 379.2h0M380.5 386.8h0M393.2 326.7h0M362.7 345.7h0M385.3 356.3h0M370.0 379.0h0M369.1 389.6h0M366.7 367.3h0M367.1 352.9h0M355.9 336.5h0M353.5 341.9h0M398.1 359.7h0M369.8 360.6h0M370.0 358.8h0M350.0 341.9h0M375.6 323.3h0M377.9 319.2h0M384.5 376.4h0M385.2 339.4h0M391.4 317.5h0M382.9 341.5h0M373.6 369.1h0M389.9 354.5h0M391.6 324.2h0M397.2 350.4h0M378.8 375.6h0M370.2 386.3h0M362.4 342.6h0M392.2 361.7h0M376.8 356.0h0M400.8 334.0h0M363.5 340.3h0M383.7 378.3h0M371.2 380.7h0M393.0 366.4h0M368.8 377.9h0M399.0 360.8h0M382.9 354.3h0M381.9 344.7h0M395.6 321.9h0M366.9 332.6h0M393.7 376.4h0M378.7 363.1h0M398.2 334.0h0M367.5 353.0h0M387.2 335.2h0M381.8 319.3h0M352.2 349.6h0M357.3 364.7h0M361.4 359.7h0M390.7 376.1h0M393.5 362.6h0M398.1 366.2h0M349.4 335.8h0M393.3 342.0h0M365.0 375.8h0M362.2 353.7h0M373.9 334.3h0M397.3 308.5h0M386.1 382.7h0M372.6 389.1h0M358.2 352.9h0M398.6 322.6h0M399.5 367.6h0M383.8 352.1h0M354.3 333.3h0M360.7 350.3h0M378.0 353.0h0M446.0 289.3h0M382.3 332.1h0M391.7 344.9h0M377.5 345.7h0M397.1 317.2h0M396.2 351.9h0M377.1 371.1h0M350.0 336.3h0M446.7 292.3h0M382.2 362.0h0M374.1 390.8h0M394.8 331.1h0M406.4 332.1h0M399.2 332.3h0M398.4 374.4h0M391.6 372.1h0M396.7 364.8h0M373.1 332.0h0M393.7 323.7h0M375.6 321.1h0M402.0 357.6h0M371.2 338.6h0M383.0 369.9h0M400.8 355.3h0M399.4 351.1h0M399.9 326.6h0M382.6 377.1h0M375.1 364.6h0M379.3 324.0h0M358.3 358.0h0M401.4 355.3h0M396.3 355.7h0M382.4 339.9h0M382.3 385.0h0M352.1 345.8h0M375.7 365.3h0M403.5 336.7h0M366.1 387.1h0M380.8 348.1h0M383.2 318.7h0M385.0 373.6h0M445.7 287.1h0M373.4 376.1h0M367.8 339.0h0M366.0 343.2h0M354.2 344.6h0M375.5 377.9h0M355.8 347.8h0M393.0 376.4h0M359.6 352.7h0M350.2 335.2h0M383.0 382.9h0M371.3 374.5h0M373.9 345.3h0M379.3 381.7h0M365.0 367.4h0M362.8 335.4h0M400.5 319.5h0M354.5 356.3h0M362.7 371.3h0" stroke="#CD9600" stroke-width="1.45" stroke-linecap="round" fill="none"/>
<path d="M426.0 281.0h0M408.2 328.7h0M424.4 291.9h0M433.6 309.3h0M416.7 339.6h0M413.8 309.2h0M444.9 320.7h0M417.8 295.2h0M442.4 351.2h0M424.9 343.1h0M442.8 316.6h0M424.9 305.3h0M406.5 317.0h0M413.5 321.1h0M417.2 337.8h0M440.6 304.3h0M444.5 315.7h0M407.3 326.1h0M442.2 323.1h0M400.7 314.7h0M405.1 321.8h0M421.0 340.7h0M439.8 340.7h0M443.0 330.5h0M420.5 335.8h0M427.9 300.5h0M432.0 319.6h0M428.0 326.1h0M435.9 285.9h0M441.2 328.0h0M432.4 340.4h0M419.7 352.7h0M446.3 330.9h0M426.9 309.0h0M419.3 307.5h0M423.6 335.8h0M432.4 288.9h0M432.7 281.9h0M414.5 313.7h0M443.5 326.9h0M438.7 337.9h0M406.9 306.3h0M442.7 347.7h0M427.2 335.0h0M431.3 278.6h0M437.0 331.0h0M426.9 306.4h0M411.3 342.3h0M437.6 344.7h0M432.2 335.3h0M438.9 327.9h0M400.7 311.9h0M441.7 312.6h0M424.4 353.7h0M430.1 293.2h0M445.9 341.8h0M404.9 312.4h0M403.6 312.1h0M408.4 329.3h0M428.7 294.9h0M422.7 343.4h0M401.5 331.0h0M407.1 318.5h0M445.3 310.8h0M424.5 344.7h0M448.0 309.8h0M398.9 312.9h0M427.4 306.7h0M427.9 347.5h0M426.7 354.8h0M414.4 322.4h0M429.1 335.4h0M440.6 291.4h0M419.7 322.1h0M432.5 295.8h0M406.2 338.6h0M416.1 303.4h0M435.7 337.1h0M432.4 331.2h0M435.9 330.1h0M415.8 325.3h0M431.4 279.9h0M437.6 351.9h0M421.7 312.9h0M420.3 300.3h0M444.0 307.9h0M430.7 352.8h0M414.6 333.5h0M428.0 327.0h0M439.3 341.2h0M445.4 318.5h0M444.9 310.3h0M418.3 314.5h0M425.4 337.5h0M430.7 291.6h0M440.0 324.4h0M423.1 338.3h0M417.5 310.2h0M431.1 293.5h0M437.2 285.6h0M444.6 298.9h0M431.8 294.4h0M402.9 308.0h0M418.4 352.2h0M425.5 337.4h0M420.4 352.4h0M443.9 314.1h0M447.3 314.5h0M418.9 299.8h0M429.3 294.6h0M416.4 335.4h0M418.7 344.1h0M425.7 304.5h0M421.3 355.3h0M425.4 306.4h0M439.8 310.7h0M429.4 340.3h0M437.2 297.4h0M400.1 312.2h0M423.5 348.5h0M425.0 312.3h0M438.6 349.5h0M432.9 353.8h0M416.5 353.3h0M429.8 337.0h0M415.6 308.2h0M431.1 337.5h0M436.6 333.6h0M415.1 349.3h0M439.4 338.2h0M435.2 355.4h0M415.1 305.2h0M406.4 329.9h0M416.8 314.5h0M430.4 340.4h0M410.9 317.5h0M416.1 330.4h0M438.7 312.2h0M427.7 290.7h0M415.2 307.7h0M438.4 310.5h0M444.8 334.1h0M430.8 326.6h0M428.5 349.7h0M422.9 320.0h0M429.9 335.7h0M415.7 301.1h0M427.7 327.9h0M425.6 291.3h0M421.2 324.7h0M443.9 309.2h0M429.3 295.0h0M442.0 348.8h0M416.1 336.1h0M418.4 345.9h0M430.3 331.6h0M432.8 325.5h0M439.2 307.7h0M427.7 297.8h0M425.2 357.3h0M427.1 325.1h0M427.0 291.2h0M418.4 299.8h0M435.5 335.0h0M419.1 345.7h0M442.5 342.0h0M407.9 340.0h0M445.1 351.4h0M425.1 298.6h0M426.8 345.2h0M425.7 347.1h0M418.6 309.4h0M418.7 303.9h0M424.1 333.4h0M434.2 345.4h0M441.0 308.8h0M418.3 350.1h0M399.2 320.6h0M431.3 332.2h0M439.4 334.6h0M433.4 329.5h0M426.8 305.5h0M414.2 316.2h0M420.9 341.2h0M413.6 342.9h0M407.2 338.6h0M437.2 344.0h0M414.8 343.0h0M418.4 297.8h0M425.5 334.5h0M420.5 295.1h0M420.4 351.6h0M433.2 299.1h0M416.1 301.0h0M434.8 354.6h0M432.7 312.8h0M438.7 308.2h0M419.8 330.9h0M427.0 312.0h0M415.5 302.4h0M443.0 349.6h0M417.6 317.9h0M403.8 305.2h0M431.6 292.8h0M415.2 306.8h0M439.0 333.0h0M421.9 333.5h0M444.4 303.6h0M422.5 356.1h0M428.3 309.8h0M411.6 308.6h0M444.6 346.4h0M444.0 311.9h0M401.0 322.5h0M432.4 319.9h0M426.4 328.1h0M428.9 315.1h0M405.7 301.9h0M438.9 297.9h0M405.9 319.5h0M424.2 339.9h0M411.4 338.0h0M427.6 287.1h0M417.2 351.0h0M426.8 329.4h0M412.3 328.7h0M436.5 346.5h0M412.5 310.7h0M403.3 315.5h0M430.7 286.3h0M442.6 337.9h0M411.8 352.4h0M428.3 296.0h0M420.4 351.2h0M406.7 319.8h0M426.9 323.8h0M409.9 327.0h0M436.5 350.7h0M423.0 353.9h0M430.5 308.2h0M404.3 328.6h0M411.5 311.7h0M435.2 358.3h0M442.6 302.0h0M421.2 313.6h0M422.9 340.2h0M408.7 323.0h0M420.8 307.0h0M442.1 322.2h0M431.2 303.7h0M434.5 354.8h0M439.1 358.8h0M416.6 302.7h0M421.2 310.0h0M437.3 327.6h0M435.3 345.9h0M424.6 307.0h0M440.2 315.5h0M402.1 330.1h0M427.7 316.4h0M422.4 350.1h0M418.5 348.7h0M425.3 305.8h0M444.6 352.6h0M444.7 308.1h0M427.4 304.5h0M430.8 280.2h0M434.5 310.5h0M438.7 331.1h0M431.3 288.1h0M420.6 329.8h0M400.2 311.0h0M411.2 325.3h0M427.6 307.9h0M428.5 299.0h0M423.6 340.2h0M425.4 332.1h0M429.1 344.1h0M434.1 348.7h0M440.0 334.7h0M407.7 312.6h0M424.0 300.7h0M418.6 327.2h0M413.6 342.0h0M442.5 329.8h0M428.7 340.8h0M437.0 329.7h0M434.8 332.4h0M420.2 298.5h0M425.1 337.7h0M422.7 304.8h0M428.0 303.2h0M429.3 291.8h0M421.5 335.3h0M429.6 319.8h0M432.2 308.6h0M441.2 337.6h0M441.9 315.0h0M432.3 352.2h0M430.8 319.1h0M412.0 303.5h0M429.3 333.8h0M423.1 347.8h0M440.1 332.6h0M417.1 321.6h0M432.4 326.6h0M417.1 304.2h0M423.4 289.3h0M435.5 340.3h0M413.5 330.5h0M420.6 318.5h0M436.3 354.2h0M423.8 324.3h0M411.6 332.8h0M407.0 331.6h0M416.4 331.7h0M406.6 324.9h0M422.4 352.4h0M434.4 308.2h0M438.3 293.3h0M448.1 328.1h0M438.1 356.9h0M418.3 353.3h0M410.0 344.1h0M415.9 337.8h0M436.3 309.1h0M441.8 346.3h0M408.4 316.7h0M442.5 326.1h0M435.4 335.2h0M409.5 326.3h0M417.5 352.6h0M428.7 299.1h0M411.7 329.6h0M430.5 327.3h0M403.6 317.9h0M414.0 324.7h0M431.6 329.7h0M415.8 330.3h0M439.3 311.6h0M442.0 336.2h0M417.8 328.9h0M428.1 352.3h0M430.1 318.5h0M425.2 316.0h0M402.0 308.5h0M411.7 327.3h0M411.3 345.2h0M441.7 303.0h0M403.4 312.6h0M448.4 312.7h0M429.1 351.3h0M445.3 307.2h0M421.3 324.7h0M425.7 329.9h0M417.2 311.3h0M445.5 323.2h0M421.7 332.9h0M442.6 312.4h0M428.7 294.7h0M427.6 318.7h0M433.5 312.8h0M432.7 293.5h0M432.1 296.0h0M402.6 320.9h0M424.6 277.7h0M442.8 345.1h0M436.4 326.9h0M425.3 351.1h0M431.6 306.8h0M408.7 337.5h0M435.4 285.0h0M409.8 310.4h0M409.3 311.7h0M418.5 331.8h0M422.4 346.1h0M432.4 360.9h0M417.0 338.6h0M441.2 333.9h0M434.2 299.9h0M427.3 308.7h0M437.0 292.8h0M419.1 348.6h0M399.2 312.9h0M403.7 332.7h0M440.3 354.9h0M439.5 342.2h0M431.9 351.8h0M429.5 353.9h0M424.8 299.5h0M442.6 353.0h0M438.0 317.0h0M412.7 300.7h0M406.1 322.6h0M414.2 323.5h0M422.5 352.8h0M436.7 341.9h0M427.7 354.7h0M406.4 337.6h0M439.4 355.5h0M416.6 335.8h0M431.7 343.2h0M434.0 298.6h0M420.6 334.3h0M416.1 317.4h0M415.0 309.3h0M445.9 322.3h0M413.4 317.4h0M413.6 334.3h0M413.1 334.6h0M441.4 327.8h0M443.4 303.7h0M416.5 341.1h0M426.9 319.8h0M429.9 328.2h0M437.7 308.8h0M424.5 332.7h0M406.4 342.5h0M426.3 330.6h0M416.9 308.5h0M426.3 353.8h0M412.6 329.8h0M428.8 294.8h0M434.2 288.8h0M415.4 331.1h0M428.3 321.8h0M430.3 323.6h0M434.1 337.9h0M443.6 300.3h0M404.3 310.2h0M431.7 331.8h0M425.4 335.2h0M431.9 341.5h0M443.8 335.8h0M407.5 319.7h0M442.4 313.5h0M431.5 341.6h0M423.1 352.7h0M414.1 301.7h0M413.5 328.6h0M436.4 352.4h0M423.5 273.5h0M438.8 311.9h0M436.6 306.8h0M413.8 327.1h0M436.4 343.2h0M422.7 328.4h0M414.7 309.0h0M407.2 337.2h0M430.8 336.0h0M438.5 325.4h0M402.5 328.7h0M428.9 306.5h0M438.3 342.8h0M425.8 347.4h0M432.9 346.4h0M438.1 346.3h0M421.3 338.1h0M413.8 320.6h0M411.9 307.5h0M419.5 304.8h0M437.2 352.0h0M405.0 321.8h0M435.8 335.9h0M424.4 307.2h0M416.0 345.3h0M403.0 315.4h0M423.8 343.2h0M401.8 309.8h0M438.6 324.3h0M435.1 313.9h0M416.0 315.2h0M401.4 311.1h0M424.8 343.3h0M407.1 341.3h0M441.6 335.3h0M439.8 327.7h0M435.3 324.3h0M406.6 303.6h0M413.2 339.0h0M437.8 297.2h0M406.0 330.6h0M425.3 325.2h0M400.5 306.5h0M440.4 335.2h0M432.8 325.6h0M411.7 342.3h0M422.4 350.2h0M429.3 287.4h0M436.7 314.5h0M414.0 343.9h0M416.0 324.9h0M420.7 333.2h0M412.7 334.3h0M440.0 348.5h0M436.4 327.2h0M420.3 334.0h0M404.2 328.3h0M402.4 322.0h0M423.0 353.9h0M421.8 337.8h0M441.1 307.5h0M426.5 352.0h0M426.7 348.9h0M416.6 310.3h0M421.7 330.7h0M422.8 346.2h0M430.1 326.3h0M416.5 341.8h0M431.1 343.2h0M427.7 332.0h0M406.3 332.7h0M426.3 293.4h0" stroke="#7CAE00" stroke-width="1.45" stroke-linecap="round" fill="none"/>
<path d="M478.4 322.0h0M452.3 331.8h0M484.5 305.0h0M451.9 356.4h0M493.0 338.7h0M492.1 339.2h0M470.9 346.9h0M454.1 355.5h0M447.9 355.3h0M482.9 344.5h0M487.9 338.3h0M476.0 321.9h0M495.0 337.8h0M477.2 349.2h0M489.5 311.1h0M480.4 335.8h0M454.3 348.0h0M467.0 348.2h0M453.5 352.3h0M453.3 346.6h0M480.9 346.2h0M443.7 341.5h0M484.4 346.2h0M490.4 338.4h0M489.7 308.0h0M493.8 332.5h0M470.4 352.4h0M458.0 356.8h0M456.9 334.2h0M446.7 357.0h0M462.9 355.6h0M489.6 307.5h0M479.6 315.6h0M495.8 334.3h0M456.8 358.6h0M468.0 356.9h0M489.0 343.0h0M492.3 336.1h0M451.9 342.2h0M481.5 345.4h0M449.7 324.8h0M456.7 347.2h0M494.6 307.2h0M492.5 339.0h0M448.1 344.8h0M495.1 335.9h0M456.1 356.7h0M472.2 316.5h0M466.6 349.8h0M449.7 351.6h0M494.0 333.0h0M445.6 345.1h0M494.3 339.5h0M454.8 340.6h0M457.0 340.3h0M451.2 321.1h0M460.6 356.8h0M492.9 342.1h0M455.2 349.4h0M481.2 344.5h0M467.7 333.9h0M442.6 339.9h0M454.6 349.6h0M486.9 315.9h0M494.2 336.5h0M498.0 336.9h0M496.8 335.6h0M479.0 334.7h0M495.0 338.4h0M457.0 352.5h0M493.3 333.9h0M448.4 314.1h0M495.2 339.0h0M444.1 351.0h0M490.5 312.2h0M488.3 341.2h0M448.5 346.7h0M460.8 340.3h0M444.7 354.8h0M494.9 339.2h0M453.5 342.8h0M444.6 329.8h0M460.1 355.3h0M459.1 346.5h0M468.1 347.1h0M493.5 338.5h0M491.7 332.0h0M458.4 328.7h0M490.0 310.8h0M471.5 323.2h0M441.9 354.0h0M453.3 353.6h0M444.3 343.4h0M479.5 348.6h0M461.2 344.5h0M455.5 343.8h0M466.5 347.6h0M474.8 346.8h0M494.7 329.0h0M471.6 334.5h0M489.5 344.5h0M468.6 336.9h0M466.9 349.2h0M490.6 339.2h0M457.1 353.3h0M459.8 345.4h0M451.1 355.6h0M492.4 336.9h0M448.9 335.7h0M493.0 334.7h0M471.9 350.1h0M476.1 348.4h0M489.3 318.1h0M444.0 346.0h0M474.8 347.5h0M466.2 314.9h0M450.5 340.4h0M458.9 355.4h0M488.6 318.5h0M492.2 336.9h0M458.7 316.5h0M466.6 348.3h0M478.8 311.9h0M448.0 353.7h0M459.0 341.5h0M480.8 344.0h0M463.1 323.8h0M457.0 352.9h0M489.0 300.2h0M443.2 354.2h0M494.4 313.3h0M492.7 320.5h0M470.7 342.3h0M471.5 349.7h0M469.9 355.0h0M442.9 339.9h0M454.9 316.6h0M440.4 351.6h0M443.2 352.3h0M472.2 350.9h0M470.4 350.6h0M491.5 342.5h0M477.6 334.4h0M481.0 322.1h0M451.4 337.7h0M460.8 353.0h0M461.0 357.1h0M475.2 350.3h0M492.2 338.0h0M451.1 328.8h0M495.7 337.8h0M492.9 344.2h0M455.2 359.5h0M495.3 336.3h0M465.0 348.2h0M460.3 357.2h0M495.2 335.7h0M448.5 321.8h0M480.5 332.4h0M444.4 348.4h0M464.1 354.6h0M479.6 328.9h0M450.4 315.1h0M490.8 304.9h0M451.8 352.7h0M467.6 353.3h0M447.5 348.3h0M493.7 323.8h0M499.4 303.4h0M495.2 312.7h0M444.9 345.2h0M448.5 350.1h0M479.5 326.7h0M460.3 351.1h0M473.4 353.3h0M469.6 333.6h0M491.1 334.4h0M482.4 324.2h0M467.3 347.2h0M491.6 335.6h0M457.9 348.4h0M443.6 352.3h0M491.3 339.6h0M457.5 340.5h0M491.5 338.3h0M457.0 338.7h0M456.3 353.1h0M462.2 350.1h0M445.8 355.4h0M457.9 353.9h0M496.4 323.6h0M456.7 308.6h0M463.0 354.6h0M451.5 356.7h0M457.9 353.5h0M488.7 307.9h0M443.8 349.2h0M445.1 322.5h0M475.2 350.2h0M459.0 348.9h0M472.2 312.4h0M470.6 348.2h0M449.0 348.4h0M492.6 338.1h0M446.2 350.4h0M468.7 353.4h0M468.2 348.4h0M447.6 351.5h0M450.1 357.2h0M461.2 345.4h0M444.9 352.0h0M458.1 358.1h0M463.6 349.0h0M482.7 333.0h0M470.8 309.5h0M498.6 301.2h0M484.3 336.1h0M491.5 300.1h0M476.3 349.9h0M459.8 344.9h0M490.7 339.8h0M476.8 346.9h0M499.1 299.4h0M455.4 356.4h0M497.0 314.2h0M453.5 313.8h0M454.3 341.3h0M459.9 354.3h0M446.2 338.4h0M495.3 329.5h0M463.7 341.3h0M442.2 342.7h0M456.4 323.5h0M489.5 344.0h0M455.9 332.9h0M443.5 347.8h0M492.0 335.7h0M473.7 347.6h0M459.3 339.6h0M463.3 354.5h0M469.2 348.8h0M469.1 316.1h0M454.1 349.7h0M494.7 334.9h0M450.5 345.6h0M451.8 316.5h0M460.3 356.7h0M466.4 348.5h0M444.4 344.4h0M469.7 327.1h0M455.5 341.8h0M485.1 312.9h0M483.8 315.4h0M452.3 341.4h0M468.8 344.6h0M491.6 343.7h0M464.2 323.1h0M467.6 330.9h0M456.8 353.2h0M447.1 338.6h0M469.1 350.8h0M486.3 341.6h0M448.8 336.9h0M492.1 325.5h0M462.1 354.8h0M442.0 348.5h0M451.3 335.4h0M445.8 356.9h0M491.8 329.1h0M486.6 345.8h0M488.7 344.8h0M468.2 353.8h0M443.8 348.1h0M475.0 336.6h0M484.1 310.3h0M450.1 356.4h0M487.1 312.5h0M492.1 338.8h0M482.3 346.5h0M449.2 349.4h0M491.8 305.4h0M472.8 319.1h0M473.2 338.4h0M459.0 350.6h0M479.5 347.0h0M454.7 352.6h0M498.2 319.7h0M451.2 340.0h0M491.0 305.4h0M490.3 297.6h0M448.0 349.8h0M496.2 315.2h0M453.7 356.1h0M481.1 346.7h0M495.8 335.9h0M445.1 325.0h0M449.5 349.6h0M464.3 349.4h0M473.1 322.9h0M466.1 344.9h0M443.2 341.8h0M481.1 346.5h0M466.6 346.9h0M450.9 340.4h0M468.2 312.0h0M482.0 348.1h0M480.8 331.4h0M443.7 316.0h0M452.7 343.4h0M477.1 348.6h0M457.3 322.8h0M457.4 339.4h0M453.7 350.3h0M495.0 335.4h0M445.1 344.8h0M488.1 331.8h0M469.3 355.1h0M491.5 338.8h0M444.5 347.5h0M487.2 350.0h0M481.8 319.5h0M471.1 337.2h0M495.2 321.7h0M457.2 352.1h0M471.9 325.1h0M479.1 328.3h0M457.6 333.0h0M450.0 353.2h0M456.0 325.2h0M462.2 339.0h0M490.0 333.7h0M487.2 344.3h0M486.5 308.7h0M452.1 348.1h0M472.0 327.3h0M494.7 334.6h0M464.8 348.8h0M456.8 351.2h0M447.1 340.0h0M492.4 340.7h0M463.4 321.4h0M488.8 307.6h0M489.8 317.5h0M452.8 349.2h0M449.2 353.8h0M458.0 325.8h0M487.5 317.3h0M456.2 341.5h0M456.4 349.8h0M493.8 304.4h0M478.2 320.4h0M488.5 303.2h0M460.4 352.8h0M479.4 309.0h0M443.2 344.3h0M490.1 341.0h0M476.4 344.6h0M451.1 347.9h0M467.1 335.9h0M465.1 347.9h0M446.9 352.9h0M452.6 348.9h0M458.5 343.3h0M481.9 349.0h0M455.5 350.8h0M467.4 353.5h0M445.2 343.1h0M493.9 340.9h0M464.0 345.3h0M496.1 336.4h0M490.4 312.4h0M467.8 350.4h0" stroke="#00BE67" stroke-width="1.45" stroke-linecap="round" fill="none"/>
<path d="M435.9 246.0h0M431.9 260.0h0M428.5 277.3h0M426.9 267.3h0M424.9 254.8h0M423.6 266.4h0M420.8 258.2h0M431.7 270.2h0M448.8 278.7h0M423.3 280.7h0M430.9 264.4h0M422.9 265.2h0M441.4 246.1h0M466.5 263.5h0M450.9 255.0h0M462.0 262.5h0M438.5 256.7h0M424.6 265.8h0M444.9 274.0h0M426.4 264.3h0M422.2 260.3h0M420.8 248.7h0M434.5 246.4h0M431.8 277.0h0M428.7 253.0h0M429.6 270.3h0M425.1 264.3h0M448.3 265.0h0M438.3 262.9h0M425.1 260.2h0M459.5 258.1h0M464.1 266.6h0M425.1 274.4h0M424.6 251.3h0M422.1 268.1h0M464.1 270.8h0M421.2 256.2h0M421.1 256.4h0M447.6 257.4h0M449.2 250.3h0M458.9 264.4h0M438.6 262.5h0M435.8 269.2h0M452.2 254.6h0M439.1 265.7h0M445.6 262.8h0M448.0 256.4h0M447.2 273.7h0M427.2 257.6h0M422.9 250.7h0M434.0 276.2h0M432.1 250.7h0M418.2 262.7h0M427.6 272.8h0M450.0 275.9h0M423.9 274.1h0M438.8 250.0h0M443.5 258.7h0M433.5 249.1h0M426.3 258.5h0M456.8 258.1h0M431.5 262.2h0M423.8 274.6h0M429.6 272.7h0M444.6 252.9h0M434.0 257.3h0M438.9 280.7h0M425.7 263.9h0M423.5 258.2h0M443.5 265.9h0M446.4 274.4h0M445.4 263.1h0M422.8 250.8h0M425.5 271.9h0M439.6 256.3h0M437.1 247.1h0M422.1 261.3h0M456.0 267.8h0M432.5 262.7h0M421.3 251.8h0M462.3 266.3h0M421.7 270.6h0M422.6 255.1h0M457.1 264.0h0M451.9 256.4h0M438.6 275.7h0M431.3 245.9h0M456.5 271.0h0M432.2 261.6h0M451.3 281.5h0M427.7 266.3h0M457.3 260.3h0M427.1 271.9h0M431.5 262.8h0M444.3 263.6h0M422.0 251.1h0M443.5 262.6h0M448.3 254.2h0M456.3 257.5h0M424.0 259.8h0M438.4 253.9h0M465.4 259.6h0M447.8 253.0h0M442.5 250.4h0M429.3 247.3h0M429.5 252.2h0M447.5 256.1h0M420.0 258.3h0M428.0 268.0h0M431.1 256.6h0M450.1 263.0h0M424.9 264.7h0M451.7 253.4h0M459.7 259.6h0M448.9 256.7h0M421.9 262.8h0M445.2 268.3h0M424.2 252.1h0M424.0 262.6h0M424.9 276.4h0M422.9 260.7h0M442.3 244.9h0M451.7 258.0h0M428.6 248.7h0M422.6 275.2h0M460.4 259.5h0M438.1 247.1h0M453.3 253.5h0M421.7 263.8h0M438.8 261.3h0M438.2 258.3h0M449.2 257.0h0M443.8 268.0h0M448.3 253.7h0M426.6 251.9h0M453.4 279.2h0M445.9 248.2h0M445.2 254.8h0M451.1 256.2h0M448.7 256.6h0M426.9 273.2h0M425.8 260.7h0M445.3 262.0h0M443.2 271.2h0M425.2 268.4h0M449.4 256.0h0M422.9 269.0h0M425.3 263.9h0M440.8 263.5h0M445.2 274.6h0M450.2 262.7h0M440.9 254.2h0M422.2 250.4h0M431.1 276.3h0M426.9 261.5h0M420.7 264.2h0M421.1 255.2h0M432.1 245.3h0M426.4 261.9h0M425.2 265.3h0M422.1 254.7h0M437.4 279.9h0M432.1 250.1h0M439.3 263.8h0M428.8 249.0h0M437.2 262.8h0M427.4 277.4h0M446.9 256.9h0M438.5 275.5h0M445.9 253.1h0M425.0 275.9h0M443.7 282.5h0M425.3 264.8h0M454.9 271.2h0M442.4 273.1h0M427.3 257.9h0M436.6 272.1h0M433.6 250.6h0M459.7 263.6h0M444.8 249.9h0M422.1 259.3h0M453.8 262.7h0M455.6 269.6h0M427.8 265.4h0M445.5 271.0h0M439.2 253.4h0M442.0 280.4h0M441.1 271.3h0M431.4 258.4h0M437.3 277.3h0M435.4 270.3h0M432.6 252.8h0M426.3 277.5h0M450.6 264.5h0M434.5 270.6h0M441.4 263.7h0M428.1 276.7h0M418.4 261.5h0M437.3 256.3h0M425.5 259.3h0M427.4 249.9h0M431.0 284.2h0M429.1 275.7h0M419.8 263.6h0M453.0 266.7h0M432.6 243.9h0M447.9 255.5h0M440.7 252.4h0M457.4 262.0h0M431.0 264.6h0M422.9 273.9h0M459.7 265.7h0M444.4 261.0h0M420.7 253.6h0M443.4 267.5h0M433.8 264.9h0M442.1 264.9h0M429.8 280.6h0M435.5 257.6h0M441.1 246.4h0M421.5 260.6h0M452.6 268.6h0M446.7 263.3h0M446.8 255.6h0M444.9 248.0h0M457.7 258.7h0M445.3 253.4h0M423.3 254.8h0M442.5 266.4h0M423.7 254.7h0M423.1 251.0h0M448.0 266.2h0M462.6 266.3h0M442.4 249.8h0M435.9 252.4h0M439.6 266.8h0M446.8 272.0h0M461.5 259.9h0M436.1 245.5h0M420.3 253.2h0M435.5 243.5h0M463.8 260.2h0M436.4 251.1h0M422.4 266.5h0M437.9 270.1h0" stroke="#00BFC4" stroke-width="1.45" stroke-linecap="round" fill="none"/>
<path d="M453.3 308.0h0M460.2 289.4h0M439.9 303.3h0M463.2 310.3h0M465.1 300.4h0M474.5 293.8h0M478.0 282.3h0M455.5 307.8h0M451.6 301.0h0M448.2 307.2h0M473.3 306.5h0M469.6 297.0h0M447.3 286.1h0M481.1 282.2h0M469.4 305.8h0M448.3 285.9h0M456.0 294.4h0M448.0 305.5h0M465.1 306.1h0M454.8 311.0h0M472.7 296.6h0M458.9 306.3h0M463.9 301.1h0M446.9 305.7h0M472.7 295.5h0M464.2 291.6h0M448.3 307.0h0M457.9 302.1h0M449.6 297.5h0M446.6 309.7h0M461.3 284.4h0M478.4 280.9h0M468.3 304.1h0M475.8 283.9h0M464.9 296.3h0M478.3 283.5h0M453.9 287.7h0M478.1 276.8h0M447.1 304.2h0M447.9 313.7h0M473.7 280.9h0M447.1 285.7h0M468.0 288.3h0M472.1 290.5h0M464.3 294.1h0M464.4 297.4h0M468.8 302.5h0M463.0 297.0h0M458.3 301.2h0M445.3 304.1h0M466.7 300.9h0M441.3 304.3h0M458.2 312.6h0M461.7 297.6h0M442.9 303.8h0M465.3 296.6h0M472.6 281.7h0M454.3 292.9h0M459.9 311.5h0M466.2 308.8h0M457.4 291.1h0M477.5 287.0h0M449.0 309.4h0M470.8 296.3h0M456.3 294.8h0M478.5 284.7h0M462.2 305.4h0M471.9 288.9h0M471.8 283.3h0M457.6 300.1h0M476.6 282.0h0M466.3 297.0h0M468.7 308.1h0M448.8 302.7h0M467.2 291.3h0M467.5 304.7h0M476.4 287.5h0M468.4 305.2h0M479.8 282.4h0M472.2 282.8h0M448.2 293.2h0M466.0 299.1h0M465.9 295.2h0M459.4 303.0h0M452.3 312.2h0M473.4 288.4h0M461.0 289.6h0M446.8 292.2h0M473.3 278.0h0M449.1 305.4h0M466.3 301.9h0M451.6 294.5h0M463.6 290.6h0M474.4 281.8h0M458.3 285.5h0M448.0 303.0h0M462.8 279.7h0M457.5 287.1h0M472.3 302.2h0M461.8 295.4h0M446.4 294.9h0M476.7 284.1h0M457.8 312.0h0M448.2 296.5h0M454.9 287.4h0M453.4 295.9h0M449.1 289.0h0M454.8 305.6h0M473.2 292.8h0M478.9 283.2h0M466.3 305.7h0M464.1 291.3h0M474.3 286.4h0M468.0 309.7h0M468.7 292.7h0M456.9 307.8h0M445.5 295.6h0M462.7 281.5h0M459.9 311.7h0M477.1 277.3h0M473.2 281.9h0M466.1 310.7h0M470.9 301.9h0M468.8 294.6h0M461.9 288.1h0M443.3 298.1h0M455.1 309.8h0M465.3 297.4h0M471.9 283.2h0M443.9 304.4h0M471.0 281.8h0M466.8 306.9h0M451.9 302.6h0M450.4 300.7h0M463.9 302.7h0M470.3 290.2h0M454.7 307.3h0M461.4 309.7h0M451.8 298.3h0M473.0 305.8h0M448.9 296.6h0M455.6 292.5h0M462.0 296.5h0M472.3 287.8h0M449.3 298.0h0M464.2 308.6h0M470.1 280.7h0M465.0 284.5h0M460.2 293.2h0M470.1 287.0h0M449.3 282.7h0M458.4 286.6h0M451.8 289.6h0M447.3 289.9h0M465.7 285.8h0M465.4 283.8h0M473.3 302.8h0M463.2 295.1h0M462.2 310.0h0M458.0 295.4h0M460.9 298.0h0M454.9 300.3h0M459.9 287.8h0M451.9 310.9h0M451.7 292.0h0M470.9 307.8h0M475.9 301.7h0M478.1 286.6h0M465.7 295.9h0M465.8 297.5h0M444.9 301.5h0M455.4 296.4h0M447.2 299.0h0M450.8 289.9h0M460.6 303.9h0M462.4 311.1h0M448.2 301.7h0M480.6 282.6h0M456.0 285.5h0M469.9 296.3h0M473.0 281.5h0M455.9 310.6h0M464.7 303.2h0M476.9 290.5h0M458.2 304.9h0M450.2 288.6h0M472.5 285.3h0M459.8 292.5h0M475.2 295.9h0M451.9 302.2h0M467.4 288.3h0M444.2 298.8h0M451.9 294.7h0M468.8 307.0h0M468.8 308.2h0M448.5 302.1h0M450.8 291.7h0M453.5 299.4h0M470.2 307.1h0M477.1 294.5h0M471.3 292.5h0M455.3 311.5h0M455.0 281.5h0M462.5 298.7h0M474.5 279.5h0M453.6 288.2h0M477.2 281.0h0M476.7 282.6h0M470.9 282.8h0M443.6 298.5h0M444.4 302.4h0M448.9 292.5h0M455.7 303.5h0M475.8 306.8h0M464.8 303.3h0M445.4 297.4h0M449.1 291.3h0M446.6 287.1h0M475.2 283.1h0M453.0 284.8h0M457.1 300.9h0M459.0 288.5h0M477.5 290.7h0M457.0 287.6h0M452.3 287.0h0M461.1 284.1h0M473.9 287.0h0M463.7 299.8h0M449.0 293.4h0M461.6 305.0h0M473.5 276.6h0M444.8 301.2h0M473.1 296.0h0M475.8 283.7h0M473.9 304.6h0M444.9 297.4h0M464.0 291.2h0M448.6 296.3h0M464.1 295.3h0M454.4 313.1h0M447.8 295.9h0M458.3 288.9h0M449.7 308.0h0M475.9 296.0h0M450.8 286.3h0M464.7 285.9h0M447.6 296.9h0M477.4 282.2h0M476.4 280.2h0M467.8 292.8h0M470.7 289.0h0M447.9 287.6h0M454.8 305.9h0M458.6 305.1h0M456.5 294.3h0M447.0 306.6h0M453.2 297.4h0M446.3 307.0h0M466.1 305.2h0M451.8 287.1h0M446.4 295.3h0M455.3 293.0h0M454.4 293.6h0M468.7 305.7h0M462.7 303.3h0M463.5 298.9h0M448.6 289.4h0M447.7 287.9h0M471.9 298.7h0M462.9 282.5h0M470.7 307.7h0M449.7 286.1h0M450.0 306.8h0M448.5 292.7h0M475.5 291.4h0M443.9 303.3h0M455.5 280.0h0M479.8 290.4h0M477.9 286.1h0M473.6 280.8h0M444.8 306.2h0M477.1 277.2h0M479.6 286.4h0M463.2 287.9h0M458.0 304.4h0M467.3 290.6h0M462.7 300.7h0M470.8 294.4h0M459.8 295.0h0M456.1 303.4h0M462.6 298.0h0M457.5 289.1h0M480.3 286.1h0M457.8 297.1h0M466.0 294.4h0M449.9 312.1h0M469.0 305.7h0M468.0 284.0h0M473.6 288.5h0M448.0 299.0h0M467.0 288.9h0M474.5 290.2h0M448.8 303.3h0M467.3 305.3h0M463.2 287.4h0M472.7 290.1h0M478.7 288.4h0M456.9 310.1h0M461.0 296.8h0M468.4 287.2h0M446.3 309.1h0M446.0 300.4h0M468.4 302.0h0M475.7 284.2h0M473.9 285.1h0M469.8 291.1h0M447.2 304.5h0M459.2 296.8h0M467.0 311.4h0M459.1 312.0h0M464.3 282.8h0M451.7 302.2h0M456.0 296.0h0M462.9 282.3h0M455.3 290.2h0M472.7 309.7h0M480.5 291.0h0M472.6 282.3h0M452.2 297.4h0M468.1 290.2h0M448.9 282.8h0M448.9 303.2h0M473.7 289.9h0M463.7 297.5h0M470.6 307.9h0" stroke="#00A9FF" stroke-width="1.45" stroke-linecap="round" fill="none"/>
<path d="M495.9 294.7h0M476.8 266.1h0M472.9 278.9h0M492.7 283.0h0M492.0 280.2h0M493.0 263.1h0M485.7 269.8h0M498.9 292.7h0M496.1 284.5h0M503.8 291.6h0M480.5 274.5h0M498.8 286.7h0M500.1 297.8h0M484.9 277.4h0M498.2 285.0h0M497.0 289.6h0M496.7 284.1h0M476.7 270.9h0M498.9 293.7h0M489.6 280.4h0M474.9 281.7h0M490.6 268.4h0M491.4 262.6h0M488.1 277.7h0M478.1 266.5h0M496.4 293.3h0M480.2 279.1h0M497.3 300.9h0M490.2 278.6h0M480.9 273.2h0M492.1 263.0h0M495.9 288.4h0M502.0 298.0h0M496.5 281.1h0M466.5 265.9h0M496.5 294.7h0M491.3 280.5h0M491.0 266.4h0M477.6 269.1h0M471.9 275.3h0M489.4 266.2h0M469.5 264.4h0M493.9 263.7h0M487.7 280.3h0M487.6 275.5h0M489.3 278.7h0M496.7 305.1h0M501.1 294.3h0M474.9 277.8h0M474.4 271.7h0M484.3 276.1h0M472.0 277.4h0M480.9 270.8h0M481.3 270.7h0M499.0 289.0h0M487.3 280.4h0M498.3 286.5h0M485.4 269.3h0M470.2 272.4h0M471.7 268.7h0M482.6 267.8h0M496.8 294.4h0M499.7 296.6h0M493.1 280.1h0M498.3 294.8h0M487.4 263.4h0M493.7 265.7h0M498.5 302.3h0M487.0 271.4h0M491.3 278.0h0M494.8 285.8h0M481.5 268.3h0M501.1 287.4h0M469.5 266.1h0M489.5 278.5h0M473.5 277.0h0M493.8 266.2h0M499.2 303.3h0M487.4 270.7h0M480.7 275.0h0M493.1 264.4h0M493.2 262.4h0M497.3 292.0h0M495.1 260.7h0M498.9 290.2h0M497.8 298.7h0M487.6 273.3h0M502.3 293.7h0M482.3 276.6h0M497.7 296.2h0M489.1 265.6h0M491.9 297.0h0M477.9 279.2h0M490.5 264.3h0M474.9 279.3h0M477.4 274.8h0M461.6 269.7h0M501.0 290.4h0M485.6 276.1h0M490.3 260.5h0M480.2 266.6h0M498.3 283.8h0M496.6 285.8h0M491.4 266.0h0M471.8 285.4h0M467.5 282.3h0M486.3 273.0h0M482.6 277.4h0M477.1 268.3h0M496.4 290.5h0M490.3 276.6h0M470.9 274.0h0M491.3 262.3h0M494.3 268.4h0M493.3 266.9h0M474.4 276.6h0M493.0 282.4h0M488.6 265.4h0M472.6 271.2h0M496.0 277.6h0M487.1 277.3h0M493.0 266.9h0M491.4 263.4h0M489.0 267.7h0M486.9 284.1h0M490.1 285.3h0M486.0 278.1h0M477.5 279.0h0M477.3 278.7h0M485.9 270.9h0M500.2 292.1h0M493.1 289.1h0M493.2 268.8h0M478.0 269.6h0M470.3 261.7h0M478.5 273.2h0M495.6 283.2h0M486.6 281.7h0M462.2 266.0h0M492.5 285.6h0M486.2 279.0h0M490.7 267.9h0M488.0 272.9h0M491.1 261.0h0M500.3 300.3h0M493.1 262.5h0M490.1 266.3h0M474.2 262.6h0M493.7 263.2h0M489.6 265.4h0M497.2 294.2h0M488.5 278.1h0M491.1 267.0h0M494.8 286.8h0M497.7 289.7h0M486.1 272.5h0M484.6 275.3h0M496.6 288.9h0M489.7 282.9h0M498.5 302.5h0M495.6 300.2h0M492.2 262.1h0M494.9 262.5h0M471.2 275.2h0M501.7 297.1h0M485.0 268.7h0M488.4 286.9h0M477.4 267.9h0M487.3 276.9h0M471.1 266.0h0M486.5 275.8h0M466.6 262.7h0M494.6 266.8h0M497.1 284.2h0M477.7 269.6h0M486.7 273.2h0M467.3 262.6h0M492.6 286.8h0" stroke="#C77CFF" stroke-width="1.45" stroke-linecap="round" fill="none"/>
<path d="M352.6 315.6h0M352.3 315.1h0M349.1 322.3h0M351.6 324.8h0M351.3 314.0h0M354.2 318.0h0M353.7 312.9h0M353.7 315.6h0M352.3 316.5h0M352.1 315.1h0M351.9 316.1h0M351.3 328.3h0M353.7 317.4h0M352.3 314.6h0M351.3 321.3h0M352.0 311.6h0M353.0 310.6h0M350.0 317.8h0M352.8 317.4h0M354.8 315.9h0M356.8 316.4h0M352.7 319.0h0M353.9 319.0h0M351.3 315.9h0M352.2 325.2h0M353.0 311.1h0M350.5 322.4h0M353.3 316.0h0M354.9 314.0h0M355.3 317.0h0M354.6 311.2h0M352.0 327.2h0M354.3 313.8h0M355.0 317.5h0M353.6 321.9h0M353.8 311.7h0M352.3 317.2h0M352.3 328.1h0M353.3 316.9h0M355.2 316.5h0M353.0 314.3h0M352.0 314.7h0M353.5 317.2h0M351.4 323.5h0M352.9 318.9h0M352.6 322.5h0M353.6 314.9h0M350.6 312.3h0M353.9 319.6h0M352.3 310.4h0M353.7 319.5h0M351.2 328.0h0" stroke="#FF61CC" stroke-width="1.45" stroke-linecap="round" fill="none"/>
<path d="M299.5 233.0V405.3H510.0" stroke="#3a3a3a" stroke-width="1.1" fill="none"/>
<path d="M337.4 405.3v2.6" stroke="#3a3a3a" stroke-width="0.9"/>
<text x="339.3" y="414.6" font-size="9.8" text-anchor="middle" fill="#222">−4</text>
<path d="M397.8 405.3v2.6" stroke="#3a3a3a" stroke-width="0.9"/>
<text x="397.8" y="414.6" font-size="9.8" text-anchor="middle" fill="#222">0</text>
<path d="M458.2 405.3v2.6" stroke="#3a3a3a" stroke-width="0.9"/>
<text x="458.2" y="414.6" font-size="9.8" text-anchor="middle" fill="#222">4</text>
<path d="M299.5 235.8h-2.6" stroke="#3a3a3a" stroke-width="0.9"/>
<text x="296.8" y="238.8" font-size="9.8" text-anchor="end" fill="#222">6</text>
<path d="M299.5 269.7h-2.6" stroke="#3a3a3a" stroke-width="0.9"/>
<text x="296.8" y="272.7" font-size="9.8" text-anchor="end" fill="#222">4</text>
<path d="M299.5 303.6h-2.6" stroke="#3a3a3a" stroke-width="0.9"/>
<text x="296.8" y="306.6" font-size="9.8" text-anchor="end" fill="#222">2</text>
<path d="M299.5 337.5h-2.6" stroke="#3a3a3a" stroke-width="0.9"/>
<text x="296.8" y="340.5" font-size="9.8" text-anchor="end" fill="#222">0</text>
<path d="M299.5 371.4h-2.6" stroke="#3a3a3a" stroke-width="0.9"/>
<text x="296.8" y="374.4" font-size="9.8" text-anchor="end" fill="#222">−2</text>
<text x="410.3" y="422.9" font-size="11.2" text-anchor="middle" fill="#111">UMAP 1</text>
<text transform="translate(284.0 315.3) rotate(-90)" font-size="11.2" text-anchor="middle" fill="#111">UMAP 2</text>
<circle cx="525.6" cy="290.4" r="2.2" fill="#F8766D"/>
<text x="534.4" y="293.7" font-size="10" fill="#111">0</text>
<circle cx="525.6" cy="299.5" r="2.2" fill="#CD9600"/>
<text x="534.4" y="302.8" font-size="10" fill="#111">1</text>
<circle cx="525.6" cy="308.6" r="2.2" fill="#7CAE00"/>
<text x="534.4" y="311.9" font-size="10" fill="#111">2</text>
<circle cx="525.6" cy="317.7" r="2.2" fill="#00BE67"/>
<text x="534.4" y="321.0" font-size="10" fill="#111">3</text>
<circle cx="525.6" cy="326.8" r="2.2" fill="#00BFC4"/>
<text x="534.4" y="330.1" font-size="10" fill="#111">4</text>
<circle cx="525.6" cy="336.0" r="2.2" fill="#00A9FF"/>
<text x="534.4" y="339.3" font-size="10" fill="#111">5</text>
<circle cx="525.6" cy="345.1" r="2.2" fill="#C77CFF"/>
<text x="534.4" y="348.4" font-size="10" fill="#111">6</text>
<circle cx="525.6" cy="354.2" r="2.2" fill="#FF61CC"/>
<text x="534.4" y="357.5" font-size="10" fill="#111">7</text>
<text x="348.0" y="370.0" font-size="14" text-anchor="middle" fill="#111">0</text>
<text x="373.0" y="361.0" font-size="14" text-anchor="middle" fill="#111">1</text>
<text x="420.4" y="338.0" font-size="14" text-anchor="middle" fill="#111">2</text>
<text x="470.6" y="344.0" font-size="14" text-anchor="middle" fill="#111">3</text>
<text x="438.6" y="256.0" font-size="14" text-anchor="middle" fill="#111">4</text>
<text x="456.6" y="305.0" font-size="14" text-anchor="middle" fill="#111">5</text>
<text x="485.0" y="289.0" font-size="14" text-anchor="middle" fill="#111">6</text>
<text x="359.0" y="313.0" font-size="14" text-anchor="middle" fill="#111">7</text>
</svg></body></html>
